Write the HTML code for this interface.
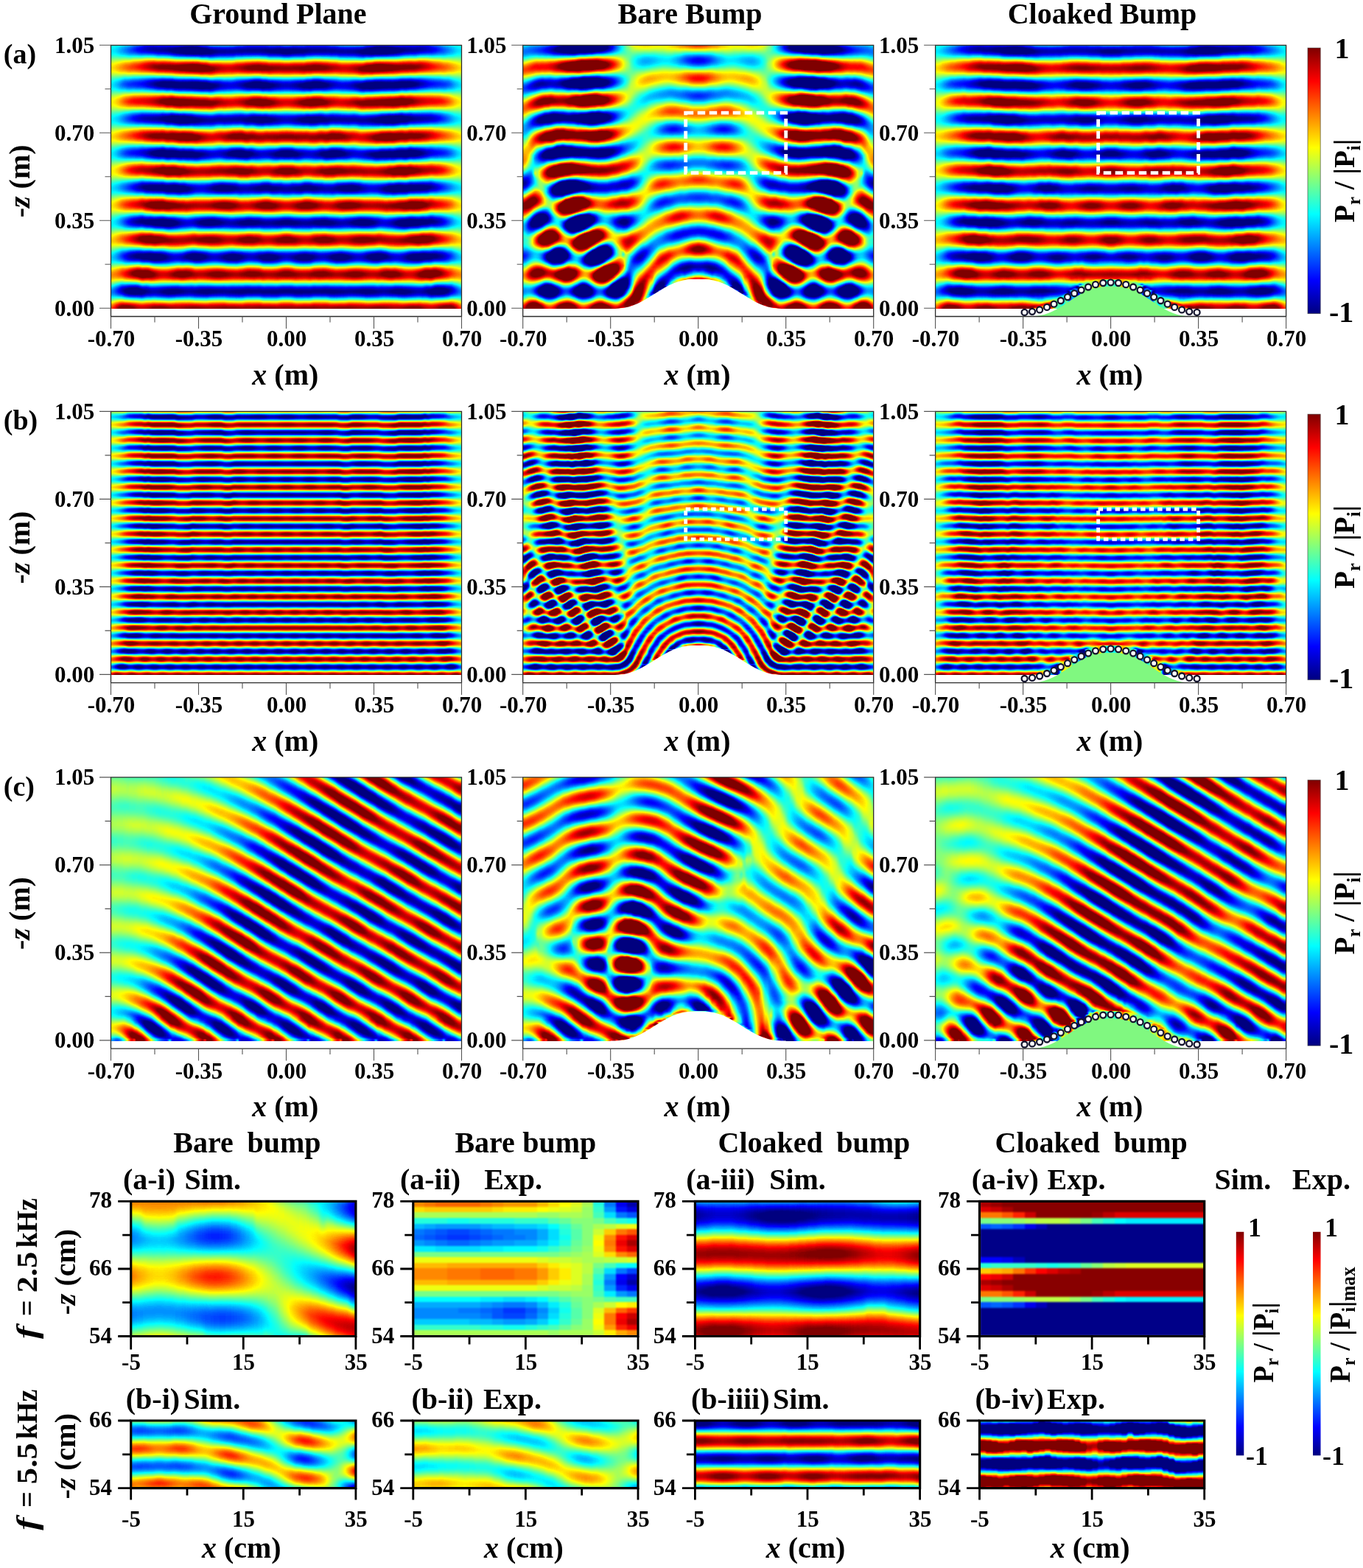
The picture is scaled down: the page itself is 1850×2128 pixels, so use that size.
<!DOCTYPE html><html><head><meta charset="utf-8"><title>fig</title><style>
html,body{margin:0;padding:0;background:#fff}
body{width:1850px;height:2128px;position:relative;overflow:hidden;font-family:"Liberation Serif",serif;font-weight:bold;color:#000}
.p{position:absolute;overflow:hidden}
.f{position:absolute;top:0;display:flex;filter:url(#jet)}
.f i,.c i{display:block;flex:0 0 4px;height:100%;background:linear-gradient(var(--g))}
.g{filter:url(#jet2)}
.w8 i{flex-basis:8px}
.c{position:absolute;top:0;display:flex;filter:blur(.9px)}
.c i{flex:1 1 0}
svg.o{position:absolute;left:0;top:0}
svg text{font-family:"Liberation Serif",serif;font-weight:bold;fill:#000}
</style></head><body><svg width="0" height="0" style="position:absolute"><defs><filter id="jet" x="0" y="0" width="100%" height="100%" color-interpolation-filters="sRGB">
<feGaussianBlur in="SourceGraphic" stdDeviation="2 0.6"/>
<feComponentTransfer result="t"><feFuncR type="table" tableValues="1 0.998 0.99 0.978 0.962 0.941 0.916 0.887 0.854 0.817 0.778 0.736 0.691 0.645 0.598 0.549 0.5 0.451 0.402 0.355 0.309 0.264 0.222 0.183 0.146 0.113 0.084 0.059 0.038 0.022 0.01 0.002 0"/></feComponentTransfer>
<feColorMatrix type="matrix" values="1 0 0 0 0 0 0 0 0 0 0 0 0 0 1 0 0 0 0 1" result="A"/>
<feColorMatrix in="t" type="matrix" values="0 1 -1 0 0 0 0 0 0 0 0 0 1 0 0 0 0 0 0 1"/>
<feComposite in2="A" operator="arithmetic" k1="1" k2="0" k3="0" k4="0"/>
<feColorMatrix type="matrix" values="1 0 1 0 0 1 0 1 0 0 1 0 1 0 0 0 0 0 0 1"/>
<feComponentTransfer><feFuncR type="table" tableValues="0 0 0 0 0 0 0.5 1 1 1 0.5 0.5 0.5"/><feFuncG type="table" tableValues="0 0 0 0 0.5 1 1 1 0.5 0 0 0 0"/><feFuncB type="table" tableValues="0.5 0.5 0.5 1 1 1 0.5 0 0 0 0 0 0"/></feComponentTransfer>
</filter><filter id="jet2" x="0" y="0" width="100%" height="100%" color-interpolation-filters="sRGB">
<feGaussianBlur in="SourceGraphic" stdDeviation="0.8 0.6"/>
<feComponentTransfer result="t"><feFuncR type="table" tableValues="1 0.998 0.99 0.978 0.962 0.941 0.916 0.887 0.854 0.817 0.778 0.736 0.691 0.645 0.598 0.549 0.5 0.451 0.402 0.355 0.309 0.264 0.222 0.183 0.146 0.113 0.084 0.059 0.038 0.022 0.01 0.002 0"/></feComponentTransfer>
<feColorMatrix type="matrix" values="1 0 0 0 0 0 0 0 0 0 0 0 0 0 1 0 0 0 0 1" result="A"/>
<feColorMatrix in="t" type="matrix" values="0 1 -1 0 0 0 0 0 0 0 0 0 1 0 0 0 0 0 0 1"/>
<feComposite in2="A" operator="arithmetic" k1="1" k2="0" k3="0" k4="0"/>
<feColorMatrix type="matrix" values="1 0 1 0 0 1 0 1 0 0 1 0 1 0 0 0 0 0 0 1"/>
<feComponentTransfer><feFuncR type="table" tableValues="0 0 0 0 0 0 0.5 1 1 1 0.5 0.5 0.5"/><feFuncG type="table" tableValues="0 0 0 0 0.5 1 1 1 0.5 0 0 0 0"/><feFuncB type="table" tableValues="0.5 0.5 0.5 1 1 1 0.5 0 0 0 0 0 0"/></feComponentTransfer>
</filter></defs></svg><div class="p" style="left:151px;top:61.6px;width:475.5px;height:357.6px"><div class="f" style="left:-12px;width:500px;height:357.6px"><i style="--g:#009567 -17Q,#ff9867,#009a67 32Q,#ff9866,#009667,#ff9868,#009a68,#ff9867,#009666,#ff9765,#009967,#ff9b69,#009d65,#ffa262,#00a85b,#ffaf55,#00b655,#ffb655 403Q"></i><i style="--g:#009567 -17Q,#ff9867,#009a67 32Q,#ff9866,#009667,#ff9868,#009a68,#ff9867,#009666,#ff9765,#009967,#ff9b69,#009d65,#ffa262,#00a85b,#ffaf55,#00b655,#ffb655 403Q"></i><i style="--g:#009567 -17Q,#ff9867,#009a67 32Q,#ff9866,#009667,#ff9868,#009a68,#ff9867,#009666,#ff9765,#009967,#ff9b69,#009d65,#ffa262,#00a85b,#ffaf55,#00b655,#ffb655 403Q"></i><i style="--g:#009567 -17Q,#ff9867,#009a67 32Q,#ff9866,#009667,#ff9868,#009a68,#ff9867,#009666,#ff9765,#009967,#ff9b69,#009d65,#ffa262,#00a85b,#ffaf55,#00b655,#ffb655 403Q"></i><i style="--g:#009865 -18Q,#ff9b65,#009e63,#ff9c61,#009a63,#ff9c65,#009e64,#ff9c62,#009962,#ff9c62,#009e63,#ffa065,#00a260,#ffa65c,#00ab53,#ffba4b 352Q,#00c94b,#ffc94b 404Q"></i><i style="--g:#009e60 -18Q,#ffa060,#00a35d,#ffa25b,#00a15e 81Q,#ffa261,#00a35d,#ffa15a 155Q,#00a05c,#ffa35d,#00a65d,#ffa75e,#00a859,#ffac53,#00b04a,#ffc440 352Q,#00d840,#ffd840 404Q"></i><i style="--g:#00a55b -18Q,#ffa65b,#00a857,#ffa953 56Q,#00a957,#ffa95a,#00a856,#ffa852,#00a855,#ffab57,#00af56,#ffae55,#00ae4f,#ffb349,#00b73f,#ffcb35 351Q,#00e135,#ffe135 404Q"></i><i style="--g:#00ac56 -18Q,#ffac56,#00ac52,#ffaf4d 55Q,#00b150,#ffaf53 105Q,#00ad4f,#ffaf4b,#00b14e,#ffb451,#00b64e,#ffb54b,#00b545,#ffba40,#00bf36,#ffd12b 352Q,#00e52b,#ffe52b 404Q"></i><i style="--g:#00b351 -18Q,#ffb151,#00b04d,#ffb449,#00b84b,#ffb54c,#00b149,#ffb546 154Q,#00b949,#ffba4b,#00bb46,#ffbb42,#00bb3d,#ffc138,#00c72e,#ffd524 352Q,#00e324,#ffe324 404Q"></i><i style="--g:#00b84c -18Q,#ffb54c,#00b349,#ffb847,#00bd46 80Q,#ffb946,#00b544,#ffbb43,#00c044,#ffc045,#00bf3f,#ffc03a,#00c135,#ffc931,#00d028 327Q,#ffd71f,#00dd1f,#ffdd1f 403Q"></i><i style="--g:#00bd47 -19Q,#ffb947,#00b646,#ffbb45,#00c043,#ffbd40,#00ba41 129Q,#ffbf41,#00c540,#ffc43f,#00c239,#ffc533,#00c830,#ffd02d,#00d925 327Q,#ffd81d,#00d71d,#ffd71d 403Q"></i><i style="--g:#00c142 -19Q,#ffbd42,#00b943,#ffbe44,#00c240,#ffc03b,#00bf3d,#ffc43f,#00c93c,#ffc738,#00c533,#ffca2f,#00cf2c,#ffd829,#00e123 327Q,#ffd81d,#00d01d,#ffd01d 403Q"></i><i style="--g:#00c43d -19Q,#ffc03d,#00bd40,#ffc042,#00c33d,#ffc437,#00c43a,#ffc73d,#00cb38,#ffca32,#00c92f,#ffcf2b,#00d629,#ffde27 302Q,#00e624,#ffd920,#00cc20 378Q,#ffcc20 402Q"></i><i style="--g:#00c639 -19Q,#ffc439,#00c23d,#ffc340,#00c43a,#ffc734,#00c937,#ffcb3a,#0c3,#ffcd2d,#00ce2b,#ffd529 252Q,#00dc27,#ffe224,#00e824,#ffd925 354Q,#00cb25,#ffcb25 402Q"></i><i style="--g:#00c736 -20Q,#ffc736,#00c639,#ffc63d 55Q,#00c537,#ffca32,#00cf34,#ffce36,#00ce2f,#ffd028,#00d328,#ffda28,#00e225 278Q,#ffe521,#00e726,#ffd92a,#00cc2a 378Q,#ffcc2a 402Q"></i><i style="--g:#00c833 -20Q,#ffc933,#00cb36,#ffc938 55Q,#00c735,#ffcd31,#00d331,#ffd131,#00cf2b,#ffd425,#00d926,#ffdf26,#00e522,#ffe41f 303Q,#00e427,#ffd92e,#00cf2e 378Q,#ffcf2e 402Q"></i><i style="--g:#00c831 -20Q,#ffcc31,#00cf32,#ffcc34,#00c932 80Q,#ffd030,#00d62e,#ffd42b,#00d227,#ffd824,#00df24,#ffe224,#00e620 278Q,#ffe21c,#00dd27,#ffd931 354Q,#00d431,#ffd431 402Q"></i><i style="--g:#00c930 -20Q,#ffce30,#00d32f,#ffd02f,#00cc2f 80Q,#ffd22f,#00d92a,#ffd726,#00d524,#ffdc23,#00e322 229Q,#ffe422,#00e51f,#ffdd1b,#00d627 329Q,#ffd733,#00d833,#ffd833 402Q"></i><i style="--g:#00c92f -19Q,#ffcf2f,#00d52d,#ffd32a,#00d02c,#ffd52e,#00da28,#ffd921,#00d922,#ffdf23 204Q,#00e621,#ffe41f,#00e31d,#ffd91c,#00cf27 329Q,#ffd532,#00db32,#ffdb32 403Q"></i><i style="--g:#00cb2f -19Q,#ffd12f,#00d72a,#ffd626,#00d529,#ffd82c,#00da25,#ffdc1e,#00dd20,#ffe222,#00e71f,#ffe31c 254Q,#00df1d,#ffd41f,#00c927 329Q,#ffd22f,#00dc2f 378Q,#ffdc2f 403Q"></i><i style="--g:#00cd2e -19Q,#ffd32e,#00d829,#ffd923,#00da26,#ffda29,#00da23,#ffde1c 154Q,#00e21f,#ffe422,#00e61e,#ffe01a,#00db1f,#ffd124,#00c728 329Q,#ffd12c,#00db2c 378Q,#ffdb2c 403Q"></i><i style="--g:#00d12d -19Q,#ffd42d,#00d827,#ffdb21,#00de23,#ffdc25,#00db20,#ffe01c,#00e51e,#ffe420 205Q,#00e31d,#ffdd1a,#00d722,#ffcf2a,#00c829 329Q,#ffd028,#00d828 378Q,#ffd828 403Q"></i><i style="--g:#00d42c -19Q,#ffd62c,#00d826,#ffdd20,#00e221,#ffdf21,#00dc1f,#ffe21c,#00e81d,#ffe41e,#00e01d,#ffda1b,#00d426 280Q,#ffd031,#00cb2b,#ffd026,#00d526 378Q,#ffd526 403Q"></i><i style="--g:#00d929 -18Q,#ffd829,#00d824,#ffde20,#00e41f 80Q,#ffe11d,#00dd1d,#ffe31e,#00e81d,#ffe21d,#00dd1e,#ffd71f,#00d22b 280Q,#ffd136,#00d12e,#ffd125 353Q,#00d225,#ffd225 403Q"></i><i style="--g:#00dd26 -18Q,#ffdb26,#00d923,#ffdf20,#00e51d 81Q,#ffe21a,#00df1d,#ffe31f,#00e71d 180Q,#ffe01b,#00d920,#ffd524,#00d02f 280Q,#ffd339,#00d72f,#ffd325 353Q,#00d025,#ffd025 402Q"></i><i style="--g:#00e122 -18Q,#fd2,#00da22,#ffe021,#00e51c,#ffe317 106Q,#00e21c,#ffe321,#00e41e,#ffdd1b,#00d723,#ffd32b,#00cf32 280Q,#ffd539,#00dc30 328Q,#ffd527,#00cf27,#ffcf27 402Q"></i><i style="--g:#00e41f -18Q,#ffe01f,#00dd20,#ffe022,#00e41c,#ffe417,#00e41c,#ffe222,#00e01f,#ffda1d 206Q,#00d527,#ffd231,#00ce34,#ffd636,#00df30,#ffd729 353Q,#00d029,#ffd029 402Q"></i><i style="--g:#00e61b -18Q,#ffe31b,#00df1e,#ffe122,#00e21c,#ffe417,#00e61d,#ffe122,#00db21,#ffd721,#00d32c,#ffd136 255Q,#00ce34,#ffd731,#00df2e,#ffd82c 353Q,#00d22c,#ffd22c 402Q"></i><i style="--g:#00e718 -18Q,#ffe518,#00e21d,#ffe121,#00e01d,#ffe319,#00e61e,#ffdf22,#00d724,#ffd525,#00d230 231Q,#ffd039,#00cf32,#ffd62a 303Q,#00dd2c,#ffd92e,#00d52e 378Q,#ffd52e 402Q"></i><i style="--g:#00e717 -18Q,#ffe617,#00e51b,#ffe120,#00de1e,#ffe11d,#00e51f,#ffdc22,#00d326,#ffd22b 206Q,#00d133,#ffd03a,#00d02f,#ffd424 303Q,#00d929,#ffd82f,#00d72f 378Q,#ffd72f 402Q"></i><i style="--g:#00e616 -18Q,#ffe616,#00e71a,#ffe21e,#00dc1f,#ffdf21,#00e221,#ffd922,#00d12a,#ffd031 206Q,#00d034,#ffd038,#00d12b 278Q,#ffd21f,#00d427,#ffd62e,#00d82e,#ffd82e 403Q"></i><i style="--g:#00e417 -18Q,#ffe617,#00e81a,#ffe21d,#00dc21,#ffdd25,#00de24,#ffd624 157Q,#00cf2d,#ffcf36,#00cf35,#ffd133,#00d328 278Q,#ffd11c,#00cf25 329Q,#ffd42d,#00d92d,#ffd92d 403Q"></i><i style="--g:#00e219 -18Q,#ffe519,#00e81a,#ffe11c,#00db22,#ffda28,#00d927,#ffd326 157Q,#00ce30,#ffce39,#00ce33,#ffd12d 254Q,#00d525,#ffd11d,#00cd24,#ffd22b,#00d82b,#ffd82b 403Q"></i><i style="--g:#00df1c -17Q,#ffe31c,#00e61c,#ffe11c,#00db23,#ffd72b,#00d32a 132Q,#ffd12a,#00ce32,#ffce3a,#00cd31,#ffd228 254Q,#00d724,#ffd221,#00cc25,#ffd129,#00d629,#ffd629 403Q"></i><i style="--g:#00dd1f -17Q,#ffe01f,#00e31e,#ffdf1d,#00db25,#ffd52d,#00ce2e 132Q,#ffce2e,#00ce33,#ffce39,#00ce2e,#ffd423 254Q,#00da25,#ffd427,#00ce28,#ffd128,#00d428,#ffd428 403Q"></i><i style="--g:#00db23 -17Q,#ffdd23,#00df21,#ffdd1f,#00db27,#ffd22f,#00ca30 132Q,#ffcd32,#00cf34,#ffcf35,#00cf2b,#ffd520 254Q,#00db27,#ffd62e,#00d12b,#ffd227,#00d327,#ffd327 403Q"></i><i style="--g:#00d926 -16Q,#ffda26,#00db24,#ffda22,#00d929 83Q,#ffd02f,#00c732,#ffcc36,#00d033,#ffd031,#00d128,#ffd61f 254Q,#00dc29,#ffd934 304Q,#00d52e,#ffd328,#00d128,#ffd128 402Q"></i><i style="--g:#00d82a -16Q,#ffd72a,#00d628,#ffd727,#00d72b,#ffcf2f,#00c634 132Q,#ffcb38,#00d032 180Q,#ffd22b,#00d426,#ffd820 254Q,#00db2c,#ffda37 304Q,#00d930,#ffd529,#00d129,#ffd129 402Q"></i><i style="--g:#00d82c -16Q,#ffd52c,#00d22c,#ffd32b,#00d52d,#ffce2f,#00c734 131Q,#ffcc39,#00d12f,#ffd426,#00d825,#ffd824 254Q,#00d92e,#ffda37 304Q,#00db31,#ffd62a,#00d22a,#ffd22a 402Q"></i><i style="--g:#00d82e -16Q,#ffd32e,#00ce2f,#ffcf30,#00d130,#ffcd2f,#00c934,#ffcd38 155Q,#00d22d,#ffd621,#00db25,#ffd828,#00d62e,#ffd934 304Q,#00dc30,#ffd72b,#00d32b,#ffd32b 402Q"></i><i style="--g:#00d82f -16Q,#ffd12f,#00cb32,#ffcc35,#00ce32,#ffcd2f,#00cc32,#ffcf35 155Q,#00d22a,#ffd81f,#00de26,#ffd82c,#00d22e,#ffd62f 304Q,#00da2e,#ffd72c,#00d42c,#ffd42c 402Q"></i><i style="--g:#00d72f -16Q,#ffd02f,#00c934,#ffca38,#00cb34,#ffce2f,#00d030,#ffd231,#00d328 180Q,#ffd91f,#00df28,#ffd730,#00ce2c,#ffd329 304Q,#00d72b,#ffd72d,#00d62d,#ffd62d 402Q"></i><i style="--g:#00d730 -16Q,#ffcf30,#00c835,#ffc83a,#00c935,#ffce2f 106Q,#00d42d,#ffd52c,#00d526,#ffda21,#00df29,#ffd532,#00cc2b,#ffd023,#00d428,#ffd52d,#00d72d,#ffd72d 403Q"></i><i style="--g:#00d62f -16Q,#ffcf2f,#00c835,#ffc83b,#00c735,#ffcf2f,#00d82b,#ffd726 155Q,#00d725,#ffda24,#00dc2b,#ffd433 255Q,#00cc29 279Q,#ffce1f,#00d126,#ffd42c,#00d72c,#ffd72c 403Q"></i><i style="--g:#00d42f -16Q,#ffcf2f,#00ca35,#ffc83a,#00c734,#ffd12f,#00db28 130Q,#ffda22,#00d925,#ffd928,#00d82c,#ffd331 255Q,#00cd28 279Q,#ffce1e,#00cf25,#ffd32b,#00d72b,#ffd72b 403Q"></i><i style="--g:#00d22f -17Q,#ffcf2f,#0c3,#ffca38,#00c833 81Q,#ffd22e,#00dc26,#ffdc1e 155Q,#00db25,#ffd72c,#00d32d 230Q,#ffd22f,#00d028,#ffcf20,#00ce25,#ffd22a,#00d62a,#ffd62a 403Q"></i><i style="--g:#00d02e -17Q,#ffcf2e,#00ce31,#ffcd34,#00cb31,#ffd32e,#00dc25 130Q,#ffdc1c,#00dd26,#ffd52f 206Q,#00ce2d,#ffd12b,#00d528 279Q,#ffd225,#00d027,#ffd229,#00d529,#ffd529 403Q"></i><i style="--g:#00cf2e -17Q,#ffd02e,#00d12f,#ffd02f,#00ce2e,#ffd52d,#00dc25 130Q,#ffdc1d,#00dd27,#ffd431 206Q,#00ca2d,#ffd228,#00d92a 279Q,#ffd62b,#00d32a,#ffd329,#00d329,#ffd329 403Q"></i><i style="--g:#00cd2e -18Q,#ffd12e,#00d42c,#ffd42b,#00d32b,#ffd62b,#00da25,#ffdb1f,#00dc29 181Q,#ffd232,#00c92c,#ffd226,#00dc2b 279Q,#ffd931,#00d62d,#ffd429,#00d329,#ffd329 402Q"></i><i style="--g:#00cb2d -18Q,#ffd12d,#00d72a,#ffd726,#00d827,#ffd829,#00d826,#ffd923,#00da2a,#ffd131 206Q,#00c92b,#ffd324 254Q,#00de2d,#ffdb35,#00d92f,#ffd52a,#00d22a,#ffd22a 402Q"></i><i style="--g:#00cb2d -18Q,#ffd22d,#00d928,#ffdb22,#00dd24,#ffd926,#00d627,#ffd628,#00d62c,#ffd130 205Q,#00cc2a,#ffd525,#00dd2e,#ffdc36,#00da30,#ffd62a,#00d22a,#ffd22a 402Q"></i><i style="--g:#00ca2d -18Q,#ffd22d,#00da26,#ffdd1f 56Q,#00e021,#ffda24,#00d529,#ffd42e 156Q,#00d32d,#ffd22d,#00d02a,#ffd626,#00db2d,#ffda34,#00da30,#ffd62b,#00d32b,#ffd32b 402Q"></i><i style="--g:#00cb2d -18Q,#ffd32d,#00db25,#ffdf1e 56Q,#00e320,#ffdb22,#00d32a 132Q,#ffd132,#00cf2e,#ffd22a 205Q,#00d629,#ffd629,#00d72c,#ffd730,#00d82e,#ffd62b,#00d42b,#ffd42b 402Q"></i><i style="--g:#00cc2d -18Q,#ffd32d,#00db25,#ffdf1e 56Q,#00e41f,#ffdb21,#00d32b 132Q,#ffcf36,#00cc2f,#ffd427 205Q,#00db29,#ffd62b,#00d22b,#ffd42a,#00d62b,#ffd52b,#00d52b,#ffd52b 402Q"></i><i style="--g:#00ce2c -18Q,#ffd42c,#00da26,#ffde1f,#00e320,#ffda21,#00d22c 132Q,#ffce37,#00cb2f,#ffd525 204Q,#00df29,#ffd62d 255Q,#00ce29,#ffd024,#00d328,#ffd42b,#00d62b,#ffd62b 403Q"></i><i style="--g:#00d02b -18Q,#ffd42b,#00d926,#ffdc21,#00e022,#ffd923,#00d22d,#ffcf37 156Q,#00cb2e,#ffd625 204Q,#00e12a,#ffd62f 255Q,#00cb28,#ffce20 304Q,#00d026,#ffd32b,#00d72b,#ffd72b 403Q"></i><i style="--g:#00d32a -17Q,#ffd52a,#00d728,#ffda25,#00dc25,#ffd725 107Q,#00d32d,#ffcf34,#00cc2d,#ffd625 204Q,#00e02a,#ffd52f 255Q,#00cb27,#ffcd1f 304Q,#00cf25,#ffd32b,#00d72b,#ffd72b 403Q"></i><i style="--g:#00d729 -17Q,#ffd629,#00d629,#ffd629,#00d729,#ffd528,#00d32c,#ffd130,#00cf2c,#ffd627,#00dd2a 230Q,#ffd52e,#00cd27,#ffce21,#00d026,#ffd32a,#00d62a,#ffd62a 403Q"></i><i style="--g:#00da28 -17Q,#ffd728,#00d42a,#ffd32d,#00d22c,#ffd32c,#00d42c,#ffd42b,#00d42a,#ffd629,#00d82b,#ffd42c,#00d129,#ffd125,#00d128,#ffd32a,#00d52a,#ffd52a 403Q"></i><i style="--g:#00dd26 -17Q,#ffd826,#00d42b,#ffd030,#00cd30,#ffd12f,#00d52b 131Q,#ffd626,#00d829,#ffd52b,#00d22b,#ffd42a,#00d52a,#ffd52b,#00d42a,#ffd42a,#00d42a,#ffd42a 403Q"></i><i style="--g:#00e025 -17Q,#ffd925,#00d32c,#ffce33,#00c933 82Q,#ffcf32,#00d52a,#ffd922 155Q,#00dc28,#ffd42d,#00cd2b 230Q,#ffd328,#00da2c,#ffd830,#00d72d,#ffd52a,#00d32a,#ffd32a 402Q"></i><i style="--g:#00e124 -16Q,#ffda24,#00d32c,#ffcd35,#00c734,#ffce34,#00d62a,#ffda1f 155Q,#00de27,#ffd42e 206Q,#00c92b,#ffd327 254Q,#00dd2e,#ffdb34,#00d92f,#ffd62a,#00d32a,#ffd32a 402Q"></i><i style="--g:#00e224 -16Q,#ffda24,#00d32d,#ffcc35,#00c635,#ffce35 106Q,#00d62a,#ffdb1e 155Q,#00df27,#ffd32f 206Q,#00c82b,#ffd326 254Q,#00df2e,#ffdc36,#00da30,#ffd62a,#00d32a,#ffd32a 402Q"></i><i style="--g:#00e124 -16Q,#ffda24,#00d32c,#ffcd35,#00c734,#ffce34,#00d62a,#ffda1f 155Q,#00de27,#ffd42e 206Q,#00c92b,#ffd327 254Q,#00dd2e,#ffdb34,#00d92f,#ffd62a,#00d32a,#ffd32a 402Q"></i><i style="--g:#00e025 -17Q,#ffd925,#00d32c,#ffce33,#00c933 82Q,#ffcf32,#00d52a,#ffd922 155Q,#00dc28,#ffd42d,#00cd2b 230Q,#ffd328,#00da2c,#ffd830,#00d72d,#ffd52a,#00d32a,#ffd32a 402Q"></i><i style="--g:#00dd26 -17Q,#ffd826,#00d42b,#ffd030,#00cd30,#ffd12f,#00d52b 131Q,#ffd626,#00d829,#ffd52b,#00d22b,#ffd42a,#00d52a,#ffd52b,#00d42a,#ffd42a,#00d42a,#ffd42a 403Q"></i><i style="--g:#00da28 -17Q,#ffd728,#00d42a,#ffd32d,#00d22c,#ffd32c,#00d42c,#ffd42b,#00d42a,#ffd629,#00d82b,#ffd42c,#00d129,#ffd125,#00d128,#ffd32a,#00d52a,#ffd52a 403Q"></i><i style="--g:#00d729 -17Q,#ffd629,#00d629,#ffd629,#00d729,#ffd528,#00d32c,#ffd130,#00cf2c,#ffd627,#00dd2a 230Q,#ffd52e,#00cd27,#ffce21,#00d026,#ffd32a,#00d62a,#ffd62a 403Q"></i><i style="--g:#00d32a -17Q,#ffd52a,#00d728,#ffda25,#00dc25,#ffd725 107Q,#00d32d,#ffcf34,#00cc2d,#ffd625 204Q,#00e02a,#ffd52f 255Q,#00cb27,#ffcd1f 304Q,#00cf25,#ffd32b,#00d72b,#ffd72b 403Q"></i><i style="--g:#00d02b -18Q,#ffd42b,#00d926,#ffdc21,#00e022,#ffd923,#00d22d,#ffcf37 156Q,#00cb2e,#ffd625 204Q,#00e12a,#ffd62f 255Q,#00cb28,#ffce20 304Q,#00d026,#ffd32b,#00d72b,#ffd72b 403Q"></i><i style="--g:#00ce2c -18Q,#ffd42c,#00da26,#ffde1f,#00e320,#ffda21,#00d22c 132Q,#ffce37,#00cb2f,#ffd525 204Q,#00df29,#ffd62d 255Q,#00ce29,#ffd024,#00d328,#ffd42b,#00d62b,#ffd62b 403Q"></i><i style="--g:#00cc2d -18Q,#ffd32d,#00db25,#ffdf1e 56Q,#00e41f,#ffdb21,#00d32b 132Q,#ffcf36,#00cc2f,#ffd427 205Q,#00db29,#ffd62b,#00d22b,#ffd42a,#00d62b,#ffd52b,#00d52b,#ffd52b 402Q"></i><i style="--g:#00cb2d -18Q,#ffd32d,#00db25,#ffdf1e 56Q,#00e320,#ffdb22,#00d32a 132Q,#ffd132,#00cf2e,#ffd22a 205Q,#00d629,#ffd629,#00d72c,#ffd730,#00d82e,#ffd62b,#00d42b,#ffd42b 402Q"></i><i style="--g:#00ca2d -18Q,#ffd22d,#00da26,#ffdd1f 56Q,#00e021,#ffda24,#00d529,#ffd42e 156Q,#00d32d,#ffd22d,#00d02a,#ffd626,#00db2d,#ffda34,#00da30,#ffd62b,#00d32b,#ffd32b 402Q"></i><i style="--g:#00cb2d -18Q,#ffd22d,#00d928,#ffdb22,#00dd24,#ffd926,#00d627,#ffd628,#00d62c,#ffd130 205Q,#00cc2a,#ffd525,#00dd2e,#ffdc36,#00da30,#ffd62a,#00d22a,#ffd22a 402Q"></i><i style="--g:#00cb2d -18Q,#ffd12d,#00d72a,#ffd726,#00d827,#ffd829,#00d826,#ffd923,#00da2a,#ffd131 206Q,#00c92b,#ffd324 254Q,#00de2d,#ffdb35,#00d92f,#ffd52a,#00d22a,#ffd22a 402Q"></i><i style="--g:#00cd2e -18Q,#ffd12e,#00d42c,#ffd42b,#00d32b,#ffd62b,#00da25,#ffdb1f,#00dc29 181Q,#ffd232,#00c92c,#ffd226,#00dc2b 279Q,#ffd931,#00d62d,#ffd429,#00d329,#ffd329 402Q"></i><i style="--g:#00cf2e -17Q,#ffd02e,#00d12f,#ffd02f,#00ce2e,#ffd52d,#00dc25 130Q,#ffdc1d,#00dd27,#ffd431 206Q,#00ca2d,#ffd228,#00d92a 279Q,#ffd62b,#00d32a,#ffd329,#00d329,#ffd329 403Q"></i><i style="--g:#00d02e -17Q,#ffcf2e,#00ce31,#ffcd34,#00cb31,#ffd32e,#00dc25 130Q,#ffdc1c,#00dd26,#ffd52f 206Q,#00ce2d,#ffd12b,#00d528 279Q,#ffd225,#00d027,#ffd229,#00d529,#ffd529 403Q"></i><i style="--g:#00d22f -17Q,#ffcf2f,#0c3,#ffca38,#00c833 81Q,#ffd22e,#00dc26,#ffdc1e 155Q,#00db25,#ffd72c,#00d32d 230Q,#ffd22f,#00d028,#ffcf20,#00ce25,#ffd22a,#00d62a,#ffd62a 403Q"></i><i style="--g:#00d42f -16Q,#ffcf2f,#00ca35,#ffc83a,#00c734,#ffd12f,#00db28 130Q,#ffda22,#00d925,#ffd928,#00d82c,#ffd331 255Q,#00cd28 279Q,#ffce1e,#00cf25,#ffd32b,#00d72b,#ffd72b 403Q"></i><i style="--g:#00d62f -16Q,#ffcf2f,#00c835,#ffc83b,#00c735,#ffcf2f,#00d82b,#ffd726 155Q,#00d725,#ffda24,#00dc2b,#ffd433 255Q,#00cc29 279Q,#ffce1f,#00d126,#ffd42c,#00d72c,#ffd72c 403Q"></i><i style="--g:#00d730 -16Q,#ffcf30,#00c835,#ffc83a,#00c935,#ffce2f 106Q,#00d42d,#ffd52c,#00d526,#ffda21,#00df29,#ffd532,#00cc2b,#ffd023,#00d428,#ffd52d,#00d72d,#ffd72d 403Q"></i><i style="--g:#00d72f -16Q,#ffd02f,#00c934,#ffca38,#00cb34,#ffce2f,#00d030,#ffd231,#00d328 180Q,#ffd91f,#00df28,#ffd730,#00ce2c,#ffd329 304Q,#00d72b,#ffd72d,#00d62d,#ffd62d 402Q"></i><i style="--g:#00d82f -16Q,#ffd12f,#00cb32,#ffcc35,#00ce32,#ffcd2f,#00cc32,#ffcf35 155Q,#00d22a,#ffd81f,#00de26,#ffd82c,#00d22e,#ffd62f 304Q,#00da2e,#ffd72c,#00d42c,#ffd42c 402Q"></i><i style="--g:#00d82e -16Q,#ffd32e,#00ce2f,#ffcf30,#00d130,#ffcd2f,#00c934,#ffcd38 155Q,#00d22d,#ffd621,#00db25,#ffd828,#00d62e,#ffd934 304Q,#00dc30,#ffd72b,#00d32b,#ffd32b 402Q"></i><i style="--g:#00d82c -16Q,#ffd52c,#00d22c,#ffd32b,#00d52d,#ffce2f,#00c734 131Q,#ffcc39,#00d12f,#ffd426,#00d825,#ffd824 254Q,#00d92e,#ffda37 304Q,#00db31,#ffd62a,#00d22a,#ffd22a 402Q"></i><i style="--g:#00d82a -16Q,#ffd72a,#00d628,#ffd727,#00d72b,#ffcf2f,#00c634 132Q,#ffcb38,#00d032 180Q,#ffd22b,#00d426,#ffd820 254Q,#00db2c,#ffda37 304Q,#00d930,#ffd529,#00d129,#ffd129 402Q"></i><i style="--g:#00d926 -16Q,#ffda26,#00db24,#ffda22,#00d929 83Q,#ffd02f,#00c732,#ffcc36,#00d033,#ffd031,#00d128,#ffd61f 254Q,#00dc29,#ffd934 304Q,#00d52e,#ffd328,#00d128,#ffd128 402Q"></i><i style="--g:#00db23 -17Q,#ffdd23,#00df21,#ffdd1f,#00db27,#ffd22f,#00ca30 132Q,#ffcd32,#00cf34,#ffcf35,#00cf2b,#ffd520 254Q,#00db27,#ffd62e,#00d12b,#ffd227,#00d327,#ffd327 403Q"></i><i style="--g:#00dd1f -17Q,#ffe01f,#00e31e,#ffdf1d,#00db25,#ffd52d,#00ce2e 132Q,#ffce2e,#00ce33,#ffce39,#00ce2e,#ffd423 254Q,#00da25,#ffd427,#00ce28,#ffd128,#00d428,#ffd428 403Q"></i><i style="--g:#00df1c -17Q,#ffe31c,#00e61c,#ffe11c,#00db23,#ffd72b,#00d32a 132Q,#ffd12a,#00ce32,#ffce3a,#00cd31,#ffd228 254Q,#00d724,#ffd221,#00cc25,#ffd129,#00d629,#ffd629 403Q"></i><i style="--g:#00e219 -18Q,#ffe519,#00e81a,#ffe11c,#00db22,#ffda28,#00d927,#ffd326 157Q,#00ce30,#ffce39,#00ce33,#ffd12d 254Q,#00d525,#ffd11d,#00cd24,#ffd22b,#00d82b,#ffd82b 403Q"></i><i style="--g:#00e417 -18Q,#ffe617,#00e81a,#ffe21d,#00dc21,#ffdd25,#00de24,#ffd624 157Q,#00cf2d,#ffcf36,#00cf35,#ffd133,#00d328 278Q,#ffd11c,#00cf25 329Q,#ffd42d,#00d92d,#ffd92d 403Q"></i><i style="--g:#00e616 -18Q,#ffe616,#00e71a,#ffe21e,#00dc1f,#ffdf21,#00e221,#ffd922,#00d12a,#ffd031 206Q,#00d034,#ffd038,#00d12b 278Q,#ffd21f,#00d427,#ffd62e,#00d82e,#ffd82e 403Q"></i><i style="--g:#00e717 -18Q,#ffe617,#00e51b,#ffe120,#00de1e,#ffe11d,#00e51f,#ffdc22,#00d326,#ffd22b 206Q,#00d133,#ffd03a,#00d02f,#ffd424 303Q,#00d929,#ffd82f,#00d72f 378Q,#ffd72f 402Q"></i><i style="--g:#00e718 -18Q,#ffe518,#00e21d,#ffe121,#00e01d,#ffe319,#00e61e,#ffdf22,#00d724,#ffd525,#00d230 231Q,#ffd039,#00cf32,#ffd62a 303Q,#00dd2c,#ffd92e,#00d52e 378Q,#ffd52e 402Q"></i><i style="--g:#00e61b -18Q,#ffe31b,#00df1e,#ffe122,#00e21c,#ffe417,#00e61d,#ffe122,#00db21,#ffd721,#00d32c,#ffd136 255Q,#00ce34,#ffd731,#00df2e,#ffd82c 353Q,#00d22c,#ffd22c 402Q"></i><i style="--g:#00e41f -18Q,#ffe01f,#00dd20,#ffe022,#00e41c,#ffe417,#00e41c,#ffe222,#00e01f,#ffda1d 206Q,#00d527,#ffd231,#00ce34,#ffd636,#00df30,#ffd729 353Q,#00d029,#ffd029 402Q"></i><i style="--g:#00e122 -18Q,#fd2,#00da22,#ffe021,#00e51c,#ffe317 106Q,#00e21c,#ffe321,#00e41e,#ffdd1b,#00d723,#ffd32b,#00cf32 280Q,#ffd539,#00dc30 328Q,#ffd527,#00cf27,#ffcf27 402Q"></i><i style="--g:#00dd26 -18Q,#ffdb26,#00d923,#ffdf20,#00e51d 81Q,#ffe21a,#00df1d,#ffe31f,#00e71d 180Q,#ffe01b,#00d920,#ffd524,#00d02f 280Q,#ffd339,#00d72f,#ffd325 353Q,#00d025,#ffd025 402Q"></i><i style="--g:#00d929 -18Q,#ffd829,#00d824,#ffde20,#00e41f 80Q,#ffe11d,#00dd1d,#ffe31e,#00e81d,#ffe21d,#00dd1e,#ffd71f,#00d22b 280Q,#ffd136,#00d12e,#ffd125 353Q,#00d225,#ffd225 403Q"></i><i style="--g:#00d42c -19Q,#ffd62c,#00d826,#ffdd20,#00e221,#ffdf21,#00dc1f,#ffe21c,#00e81d,#ffe41e,#00e01d,#ffda1b,#00d426 280Q,#ffd031,#00cb2b,#ffd026,#00d526 378Q,#ffd526 403Q"></i><i style="--g:#00d12d -19Q,#ffd42d,#00d827,#ffdb21,#00de23,#ffdc25,#00db20,#ffe01c,#00e51e,#ffe420 205Q,#00e31d,#ffdd1a,#00d722,#ffcf2a,#00c829 329Q,#ffd028,#00d828 378Q,#ffd828 403Q"></i><i style="--g:#00cd2e -19Q,#ffd32e,#00d829,#ffd923,#00da26,#ffda29,#00da23,#ffde1c 154Q,#00e21f,#ffe422,#00e61e,#ffe01a,#00db1f,#ffd124,#00c728 329Q,#ffd12c,#00db2c 378Q,#ffdb2c 403Q"></i><i style="--g:#00cb2f -19Q,#ffd12f,#00d72a,#ffd626,#00d529,#ffd82c,#00da25,#ffdc1e,#00dd20,#ffe222,#00e71f,#ffe31c 254Q,#00df1d,#ffd41f,#00c927 329Q,#ffd22f,#00dc2f 378Q,#ffdc2f 403Q"></i><i style="--g:#00c92f -19Q,#ffcf2f,#00d52d,#ffd32a,#00d02c,#ffd52e,#00da28,#ffd921,#00d922,#ffdf23 204Q,#00e621,#ffe41f,#00e31d,#ffd91c,#00cf27 329Q,#ffd532,#00db32,#ffdb32 403Q"></i><i style="--g:#00c930 -20Q,#ffce30,#00d32f,#ffd02f,#00cc2f 80Q,#ffd22f,#00d92a,#ffd726,#00d524,#ffdc23,#00e322 229Q,#ffe422,#00e51f,#ffdd1b,#00d627 329Q,#ffd733,#00d833,#ffd833 402Q"></i><i style="--g:#00c831 -20Q,#ffcc31,#00cf32,#ffcc34,#00c932 80Q,#ffd030,#00d62e,#ffd42b,#00d227,#ffd824,#00df24,#ffe224,#00e620 278Q,#ffe21c,#00dd27,#ffd931 354Q,#00d431,#ffd431 402Q"></i><i style="--g:#00c833 -20Q,#ffc933,#00cb36,#ffc938 55Q,#00c735,#ffcd31,#00d331,#ffd131,#00cf2b,#ffd425,#00d926,#ffdf26,#00e522,#ffe41f 303Q,#00e427,#ffd92e,#00cf2e 378Q,#ffcf2e 402Q"></i><i style="--g:#00c736 -20Q,#ffc736,#00c639,#ffc63d 55Q,#00c537,#ffca32,#00cf34,#ffce36,#00ce2f,#ffd028,#00d328,#ffda28,#00e225 278Q,#ffe521,#00e726,#ffd92a,#00cc2a 378Q,#ffcc2a 402Q"></i><i style="--g:#00c639 -19Q,#ffc439,#00c23d,#ffc340,#00c43a,#ffc734,#00c937,#ffcb3a,#0c3,#ffcd2d,#00ce2b,#ffd529 252Q,#00dc27,#ffe224,#00e824,#ffd925 354Q,#00cb25,#ffcb25 402Q"></i><i style="--g:#00c43d -19Q,#ffc03d,#00bd40,#ffc042,#00c33d,#ffc437,#00c43a,#ffc73d,#00cb38,#ffca32,#00c92f,#ffcf2b,#00d629,#ffde27 302Q,#00e624,#ffd920,#00cc20 378Q,#ffcc20 402Q"></i><i style="--g:#00c142 -19Q,#ffbd42,#00b943,#ffbe44,#00c240,#ffc03b,#00bf3d,#ffc43f,#00c93c,#ffc738,#00c533,#ffca2f,#00cf2c,#ffd829,#00e123 327Q,#ffd81d,#00d01d,#ffd01d 403Q"></i><i style="--g:#00bd47 -19Q,#ffb947,#00b646,#ffbb45,#00c043,#ffbd40,#00ba41 129Q,#ffbf41,#00c540,#ffc43f,#00c239,#ffc533,#00c830,#ffd02d,#00d925 327Q,#ffd81d,#00d71d,#ffd71d 403Q"></i><i style="--g:#00b84c -18Q,#ffb54c,#00b349,#ffb847,#00bd46 80Q,#ffb946,#00b544,#ffbb43,#00c044,#ffc045,#00bf3f,#ffc03a,#00c135,#ffc931,#00d028 327Q,#ffd71f,#00dd1f,#ffdd1f 403Q"></i><i style="--g:#00b351 -18Q,#ffb151,#00b04d,#ffb449,#00b84b,#ffb54c,#00b149,#ffb546 154Q,#00b949,#ffba4b,#00bb46,#ffbb42,#00bb3d,#ffc138,#00c72e,#ffd524 352Q,#00e324,#ffe324 404Q"></i><i style="--g:#00ac56 -18Q,#ffac56,#00ac52,#ffaf4d 55Q,#00b150,#ffaf53 105Q,#00ad4f,#ffaf4b,#00b14e,#ffb451,#00b64e,#ffb54b,#00b545,#ffba40,#00bf36,#ffd12b 352Q,#00e52b,#ffe52b 404Q"></i><i style="--g:#00a55b -18Q,#ffa65b,#00a857,#ffa953 56Q,#00a957,#ffa95a,#00a856,#ffa852,#00a855,#ffab57,#00af56,#ffae55,#00ae4f,#ffb349,#00b73f,#ffcb35 351Q,#00e135,#ffe135 404Q"></i><i style="--g:#009e60 -18Q,#ffa060,#00a35d,#ffa25b,#00a15e 81Q,#ffa261,#00a35d,#ffa15a 155Q,#00a05c,#ffa35d,#00a65d,#ffa75e,#00a859,#ffac53,#00b04a,#ffc440 352Q,#00d840,#ffd840 404Q"></i><i style="--g:#009865 -18Q,#ff9b65,#009e63,#ff9c61,#009a63,#ff9c65,#009e64,#ff9c62,#009962,#ff9c62,#009e63,#ffa065,#00a260,#ffa65c,#00ab53,#ffba4b 352Q,#00c94b,#ffc94b 404Q"></i><i style="--g:#009567 -17Q,#ff9867,#009a67 32Q,#ff9866,#009667,#ff9868,#009a68,#ff9867,#009666,#ff9765,#009967,#ff9b69,#009d65,#ffa262,#00a85b,#ffaf55,#00b655,#ffb655 403Q"></i><i style="--g:#009567 -17Q,#ff9867,#009a67 32Q,#ff9866,#009667,#ff9868,#009a68,#ff9867,#009666,#ff9765,#009967,#ff9b69,#009d65,#ffa262,#00a85b,#ffaf55,#00b655,#ffb655 403Q"></i><i style="--g:#009567 -17Q,#ff9867,#009a67 32Q,#ff9866,#009667,#ff9868,#009a68,#ff9867,#009666,#ff9765,#009967,#ff9b69,#009d65,#ffa262,#00a85b,#ffaf55,#00b655,#ffb655 403Q"></i><i style="--g:#009567 -17Q,#ff9867,#009a67 32Q,#ff9866,#009667,#ff9868,#009a68,#ff9867,#009666,#ff9765,#009967,#ff9b69,#009d65,#ffa262,#00a85b,#ffaf55,#00b655,#ffb655 403Q"></i></div></div><div class="p" style="left:710.2px;top:61.6px;width:475.5px;height:357.6px"><div class="f" style="left:-12px;width:500px;height:357.6px"><i style="--g:#00a253 -18Q,#ffab53,#00b54e,#ffb249 61Q,#00af52,#ffad5b 119Q,#86ab51 136Q,#00a840 163Q,#ffc42c 198Q,#00de46 231Q,#4dbf50 244Q,#ff945f 262Q,#006f53 278Q,#ff8940 302Q,#00a84d 329Q,#ffb657 353Q,#00c657,#ffc657 403Q"></i><i style="--g:#00a253 -18Q,#ffab53,#00b54e,#ffb249 61Q,#00af52,#ffad5b 119Q,#86ab51 136Q,#00a840 163Q,#ffc42c 198Q,#00de46 231Q,#4dbf50 244Q,#ff945f 262Q,#006f53 278Q,#ff8940 302Q,#00a84d 329Q,#ffb657 353Q,#00c657,#ffc657 403Q"></i><i style="--g:#00a253 -18Q,#ffab53,#00b54e,#ffb249 61Q,#00af52,#ffad5b 119Q,#86ab51 136Q,#00a840 163Q,#ffc42c 198Q,#00de46 231Q,#4dbf50 244Q,#ff945f 262Q,#006f53 278Q,#ff8940 302Q,#00a84d 329Q,#ffb657 353Q,#00c657,#ffc657 403Q"></i><i style="--g:#00a253 -18Q,#ffab53,#00b54e,#ffb249 61Q,#00af52,#ffad5b 119Q,#86ab51 136Q,#00a840 163Q,#ffc42c 198Q,#00de46 231Q,#4dbf50 244Q,#ff945f 262Q,#006f53 278Q,#ff8940 302Q,#00a84d 329Q,#ffb657 353Q,#00c657,#ffc657 403Q"></i><i style="--g:#00a352 -18Q,#ffad52,#00b74b 33Q,#ffb743,#00b74b 87Q,#ffac53 115Q,#009e47 150Q,#86b73d 177Q,#ffc836 196Q,#00e63e 228Q,#4bcc40 240Q,#ffa045 259Q,#8c8546 271Q,#007147 280Q,#ff914a 301Q,#00be53 328Q,#ffd25b 352Q,#00e75b,#ffe75b 404Q"></i><i style="--g:#00a650 -18Q,#ffb050 6Q,#00bb46,#ffbe3c,#00c142 85Q,#ffb448,#00a747 140Q,#69b347 156Q,#a0c346 176Q,#ffd146 194Q,#00ea38 226Q,#4dd633 237Q,#ffb12a 257Q,#959937,#008343 281Q,#ffa456 301Q,#00d257 327Q,#ffe658,#00fb58 377Q,#fffb58 404Q"></i><i style="--g:#00ab4e -18Q,#ffb44e,#00bf42 31Q,#ffc535,#00cc38,#ffc13b 110Q,#00b646 137Q,#a3c24e,#bccd56 178Q,#ffd65b 193Q,#00e737,#ffc012 254Q,#97b028,#009e3f 281Q,#ffbb61 301Q,#00e056,#ffee4c 352Q,#6ff64c 366Q,#00fb4c 375Q,#fffb4c 404Q"></i><i style="--g:#00b14b -18Q,#ffb84b,#00c03e 30Q,#ffcb30,#00d530,#ffcd2f,#00c540 135Q,#ff9b51 162Q,#ad8a5d,#007969,#ff9374 194Q,#51b957 209Q,#00db3c 222Q,#ffcd04 251Q,#bcc819 262Q,#00bf3c 280Q,#ffd265 302Q,#00e750 326Q,#fff139 352Q,#00fb39 376Q,#fffb39 404Q"></i><i style="--g:#00b748 -18Q,#ffbc48,#00c13c,#ffce2e 55Q,#00dc29,#ffd724,#00d330,#ffb33c 160Q,#a8a553 172Q,#00946e,#ffa687 199Q,#5fb56c 209Q,#00c64b 221Q,#ffd204 248Q,#c4d718 260Q,#00e039 279Q,#ffe260,#00e442 326Q,#ffea21,#00f021,#fff021 404Q"></i><i style="--g:#00be45 -18Q,#ffbf45,#00c03a,#ffcf2f 54Q,#00df26,#ffdf1c,#00de23,#ffc72a 159Q,#a7be42 170Q,#00b061 185Q,#ffae88 204Q,#72ac72 211Q,#00ab53 221Q,#8ebd2c,#ffd004 248Q,#c0de12 258Q,#00fb2e 278Q,#7ef240 292Q,#ffeb50 303Q,#00dc30 326Q,#ffdb0b,#00da0b,#ffda0b 403Q"></i><i style="--g:#00c540 -18Q,#ffc240,#00c039,#ffcf31,#00df24 79Q,#ffe317,#00e719,#ffd91c 157Q,#9ed330 169Q,#00cb4b 184Q,#68b861 196Q,#ffa874 207Q,#00904f 223Q,#9cab30,#ffc611 248Q,#74e61b 263Q,#00fb22 273Q,#40f12b 286Q,#ffe337 303Q,#00d11e,#ffcc04 350Q,#aec904 361Q,#00c604 378Q,#ffc604 400Q"></i><i style="--g:#00cc3b -18Q,#ffc63b,#00c137,#ffcf34 54Q,#00dd24,#ffe614,#00ee12,#ffe810 156Q,#00e234 183Q,#63c644,#ffa855 209Q,#008043 226Q,#8d9a38 235Q,#ffbc2b 248Q,#63e626 263Q,#00fc24 271Q,#46ee1f,#ffde19 303Q,#00c90e 327Q,#88c508 340Q,#ffc204 349Q,#a9be04 362Q,#00ba04 378Q,#ffba04 399Q"></i><i style="--g:#00d234 -18Q,#ffcb34,#00c535,#ffcf36,#00da25 78Q,#ffe614,#00f30e,#fff408,#00f51e 182Q,#5cda27 193Q,#ffb634 209Q,#839a3b 221Q,#00853f,#769943 237Q,#ffba49 248Q,#00fb2c 271Q,#3cef1b 284Q,#ffe004 302Q,#afd604 312Q,#00c804 328Q,#8bc404 341Q,#ffc104 350Q,#a7bd04 362Q,#00b804 378Q,#ffb804 400Q"></i><i style="--g:#00d82d -18Q,#ffd12d,#00ca32,#ffd036,#00d626,#ffe516 103Q,#00f50d,#fff804 155Q,#74fa09 169Q,#00fb0c,#38ea0f 189Q,#ffc815 208Q,#98b42b,#009e42 232Q,#ffc764 250Q,#82dd50 260Q,#00fb36,#62f21e,#ffe704 298Q,#b1dc05 313Q,#00cf06 329Q,#ffc908,#00c208,#ffc208 402Q"></i><i style="--g:#00de25 -19Q,#ffd825,#00d12d,#ffd234 55Q,#00d327,#ffe419 103Q,#00f60e,#fff904 152Q,#8afa04 166Q,#51fb04,#00fb04 177Q,#45ef04 189Q,#aee503 198Q,#ffdf03 204Q,#cbd41c 215Q,#00c244 233Q,#ffd270 253Q,#7fd959 262Q,#00e439,#8fe217 288Q,#ffe103 296Q,#b7e00b,#00de13 329Q,#ffd91e,#00d41e,#ffd41e 402Q"></i><i style="--g:#00e41e -19Q,#ffde1e,#00d827,#ffd530,#00d127 79Q,#ffe21d,#00f411,#fff804 152Q,#82fa04 166Q,#00fb04 176Q,#49f704 188Q,#fff204,#cbee1d 215Q,#00e83d 233Q,#7cde54 245Q,#ffd567 255Q,#00c436 275Q,#9ed014 289Q,#ffd503 296Q,#c2e111 312Q,#74e616 318Q,#00ef20 329Q,#ffec35,#00e835,#ffe835 402Q"></i><i style="--g:#00e918 -19Q,#ffe518,#00e120,#ffd929,#00d225 79Q,#ffe122,#00f112,#fff604 151Q,#86f904 165Q,#57fa04 169Q,#00fc04 175Q,#49fc04 187Q,#a3fb04,#fffb04 200Q,#cafb15,#00fb28 230Q,#37e836 241Q,#ffcc4a 257Q,#00aa28,#ffcc04 298Q,#bedf12 311Q,#00fb28 328Q,#61fa35 339Q,#fffa46 354Q,#00f846,#fff846 402Q"></i><i style="--g:#00ee12 -20Q,#ffeb12,#00e919,#ffdf21 55Q,#00d523,#ffe025,#00ec15,#fff404 152Q,#76f804 166Q,#00fb04 175Q,#53fb04 187Q,#a1fb04,#fffb04 199Q,#c3fb0b 213Q,#00fb12 226Q,#37e01b,#ffc423 258Q,#009f1b 279Q,#74b117 288Q,#ffcc12,#81e521 315Q,#00fb2e,#52fb3c 338Q,#fffb4d,#66fb4d 368Q,#00fb4d 376Q,#fffb4d 402Q"></i><i style="--g:#00f30d -20Q,#fff10d,#00f012,#ffe518,#00db1f 80Q,#ffe126,#00e717,#fff207 152Q,#68f806 167Q,#00fc05 175Q,#42fc04 185Q,#5bfc04 187Q,#a9fc03,#fffc03 198Q,#bdfb03 212Q,#56fb03 220Q,#00fb03 224Q,#2de404 241Q,#6fdd04 245Q,#ffcd04,#b7bf0e 266Q,#00a81e 281Q,#ffcf34 302Q,#00fb3d 326Q,#4efb42 337Q,#fffb48 353Q,#00fb48,#fffb48 402Q"></i><i style="--g:#00f608 -20Q,#fff608,#00f60c,#ffec10,#00e21a,#ffe324 104Q,#00e318,#ffef0c,#00fb08 176Q,#6efb05 188Q,#adfb04,#fffb03 198Q,#bcfb03 211Q,#65fb03,#00fb03 223Q,#33ec03 240Q,#a5e503 247Q,#ffe003 252Q,#ced21b,#00c333 283Q,#ffdc52 304Q,#00fa45,#fff638,#00f238,#fff238 402Q"></i><i style="--g:#00fa05 -20Q,#fffa05,#00fb07,#fff308,#00eb14,#ffe620 104Q,#00e019,#ffed12,#00fa0a 177Q,#89fb07 190Q,#fffb04 199Q,#aefc04 211Q,#5bfc04 217Q,#00fc03 222Q,#40f603 239Q,#a0f303,#fff203 250Q,#dbeb21 267Q,#84e92b 273Q,#00e53e 284Q,#ffe564,#00e645 327Q,#ffe322,#00e022,#ffe022 403Q"></i><i style="--g:#00fb04 -21Q,#fffb04,#00fb04 29Q,#66fa04 40Q,#fff704 54Q,#00f40f,#ffea1a 105Q,#00df18,#ffe917,#00f30d 177Q,#92f507 191Q,#fff704,#bcf904 209Q,#96fa04 212Q,#54fb04,#00fc04 222Q,#49fc04 238Q,#a6fc04,#fffc04 249Q,#e3fc21 266Q,#a3fc26 269Q,#00fc38,#50ef4d 293Q,#ffe164 307Q,#00cc3d 327Q,#ffcd0b,#00cd0b,#ffcd0b 403Q"></i><i style="--g:#00fb04 -22Q,#fffb04 3Q,#81fb04 16Q,#00fb04,#5ffb04 39Q,#fffb04 53Q,#b9fb06 62Q,#00fb0b 80Q,#ffee12,#00e117,#ffe61b,#00eb12,#fff509 202Q,#6efa07 215Q,#54fb07 217Q,#00fc06 222Q,#50fc05 237Q,#a7fc04,#fffc04 248Q,#d1fc1b 265Q,#00fc2b 277Q,#35e63f,#ffd053 308Q,#00b42f 327Q,#ffb904 350Q,#acbc04 361Q,#00bf04 378Q,#ffbf03 400Q"></i><i style="--g:#00fb04 -22Q,#fffb04 3Q,#8afb04,#00fb04,#6dfb04,#fffb03 52Q,#abfb05 63Q,#00fb07 78Q,#47f708 87Q,#fff00a 105Q,#00e514,#ffe51e,#00e51a,#fff116 202Q,#65f810 216Q,#00fb0d 224Q,#63fb07 237Q,#a5fc05,#fffc03 247Q,#cdfc11 263Q,#00fc1b 275Q,#35df2a 293Q,#ffc537 308Q,#00a41e,#ffad04 349Q,#afb304 361Q,#00ba04 378Q,#ffba04 400Q"></i><i style="--g:#00fb04 -22Q,#fffb04 3Q,#87fb04,#00fb04,#70fb04,#fffb04,#9bfb04,#00fb04 77Q,#48f804 87Q,#fff304 105Q,#00eb11,#ffe51e,#00e020,#ffe722,#0e1 227Q,#91f208 240Q,#fff403 247Q,#b3f907 262Q,#5dfb09 268Q,#00fc0b 273Q,#24e010 291Q,#79d712 296Q,#ffc415 307Q,#00a10d,#ffaf04 351Q,#a9b504 361Q,#00c004 378Q,#ffc004 401Q"></i><i style="--g:#00fb04 -22Q,#fffb04,#00fb04 28Q,#7dfb04 41Q,#fffb04,#a3fb04 63Q,#00fb04 77Q,#4bf904 87Q,#fff604 104Q,#b5f409 113Q,#00f111 130Q,#ffe61d,#00dc24,#ffd92b 203Q,#00d717,#ffe904 249Q,#b9f104 259Q,#9ff204 261Q,#5ff704,#00fb04 272Q,#28e504 288Q,#ffd203 303Q,#b2c207 315Q,#00ae0b 330Q,#ffbd11 353Q,#00cd11,#ffcd11 403Q"></i><i style="--g:#00fa04 -22Q,#fffa04,#00fb04,#fffb04 53Q,#89fb04,#00fb04 77Q,#5cfa04 88Q,#fff904 103Q,#c0f808 112Q,#00f610 130Q,#ffe81b,#00da26,#ffce31 204Q,#00c423,#ffe115 250Q,#72f110 263Q,#00fb0e 271Q,#38ee08 286Q,#ffe304 300Q,#c0d60f,#00c91a 330Q,#ffd42a,#00df2a,#ffdf2a 402Q"></i><i style="--g:#00f508 -23Q,#fff608,#00f707,#fff906 53Q,#00fb05 77Q,#6dfb05,#fffa04 103Q,#bcfa07 112Q,#00f90e 130Q,#ffe918,#00d826,#ffc734 204Q,#00b732,#ffdb31 249Q,#66f124 263Q,#00fc1d 270Q,#48f80f 284Q,#a9f608 292Q,#fff503 296Q,#d2f116 314Q,#83ef1c 319Q,#00ec28 331Q,#ffee41 354Q,#00f041,#fff041 402Q"></i><i style="--g:#00ee0e -23Q,#fff00e,#00f10d,#fff50c,#00f808,#fff904 103Q,#b5f907 112Q,#00fa0d 130Q,#ffe816,#00d726,#ffc336 205Q,#00b040,#ffd549,#00fc27 271Q,#46fb17 281Q,#6afb13 284Q,#abfb0a,#fffb03 294Q,#d3fb1a 313Q,#00fb2c 327Q,#51fb3c 339Q,#fffb4f 354Q,#00fb4f,#fffb4f 402Q"></i><i style="--g:#00e515 -23Q,#ffe815,#00eb14,#ffed14,#00f00e,#fff308,#00f70f,#ffe715,#00d726,#ffc337 205Q,#00b04a 228Q,#ffcb5a 249Q,#79da45,#00ea2c 272Q,#8bef13 285Q,#fff104 293Q,#dbf719 311Q,#00fb2a 324Q,#53fb3e 340Q,#fffb4f 354Q,#00fb4f 377Q,#fffb4f 402Q"></i><i style="--g:#00da1e -23Q,#ffdf1e,#00e31d,#ffe41c,#00e617,#ffeb12,#00f114 129Q,#ffe317,#00d627,#ffc437 205Q,#00b44f 229Q,#ffc163 250Q,#83c74e 259Q,#00cf31,#97dc12 285Q,#ffe203 292Q,#bdf214 310Q,#62f81b,#00fd20 321Q,#46fa32 339Q,#fff841 354Q,#00f541,#fff541 402Q"></i><i style="--g:#00cf28 -23Q,#ffd428,#00da27,#ffdb25,#00db21,#ffe21e,#00e81c 128Q,#ffde1a,#00d429,#ffc738 205Q,#00ba4e 229Q,#ffb862 251Q,#8db750 259Q,#00b533 272Q,#ffd503 293Q,#bce80b 306Q,#5ff310 314Q,#00fb13 320Q,#46f51e 338Q,#fff027 354Q,#00e727,#ffe727 402Q"></i><i style="--g:#00c234 -23Q,#ffc934,#00d032,#ffd02f,#00d02d,#ffd72a,#00dd25,#ffd820 153Q,#00d32c,#ffca38,#00c149 229Q,#ffaf58 252Q,#00a03a 272Q,#8eb728,#ffd015 297Q,#6cec12 311Q,#00fb10 319Q,#43f10c,#ffe608 353Q,#00d708,#ffd708 403Q"></i><i style="--g:#00b541 -23Q,#ffbc41,#00c43d,#ffc439,#00c538,#ffcb37,#00d130,#ffd128 152Q,#00d130,#ffcc38,#00c740 228Q,#ffac49 253Q,#009544 274Q,#7ba942 283Q,#ffc640 296Q,#00fb25 319Q,#42ef14 333Q,#a6e80a 341Q,#ffe303 347Q,#b4d703 361Q,#00ca03 378Q,#ffca04 399Q"></i><i style="--g:#00a84f -23Q,#ffb04f,#00b74a,#ffb845,#00b945,#ffbf44,#00c43b,#ffc931 151Q,#00cf34,#ffcd37,#00cc38,#ffb039 254Q,#98a446,#009754 277Q,#ffbf68 296Q,#65dc4d,#00f933 321Q,#84eb16 335Q,#b3e70d,#ffe303 344Q,#b8d203,#00c203 378Q,#ffc203 398Q"></i><i style="--g:#009d5c -22Q,#ffa35c,#00aa57,#ffac51 51Q,#00ae50,#ffb350,#00b745,#ffc23a 150Q,#00cc38,#ffce35,#00cf31 227Q,#ffba2c 254Q,#abb145 265Q,#00a565,#ffba88 297Q,#6bc66c 306Q,#00d647 319Q,#97d71b 334Q,#ffd804 342Q,#afd904 361Q,#63da03 369Q,#39da03 375Q,#00db03 378Q,#ffdb03 399Q"></i><i style="--g:#009369 -20Q,#ff9869 2Q,#009c63,#ffa05d,#00a45c,#ffa85b,#00ac4f,#ffba43 148Q,#00c93b,#ffcd34,#00d02d 226Q,#ffc525 254Q,#aec042 265Q,#00b86c 282Q,#6db686 293Q,#ffb599,#6db482 306Q,#00b25e 316Q,#ffbc04 341Q,#ffc327 358Q,#afc540 362Q,#00ca8b 376Q,#ffc793 378Q,#009993 414Q"></i><i style="--g:#008d75 -17Q,#ff8e75,#008f6f 26Q,#ff9569,#009a66,#ff9e63,#00a358 122Q,#ffb44b,#00c63f 173Q,#ffca33,#00cf2c,#ffcb25 253Q,#00c71a 282Q,#4ac916 295Q,#5cca13 301Q,#71cd0b 322Q,#9dce08 331Q,#ffd004 342Q,#ffd231 355Q,#00d5b4 374Q,#ffd4c1 377Q,#00c3c1 414Q"></i><i style="--g:#008d7c -12Q,#ff877c 10Q,#008378 26Q,#ff8a74 48Q,#00916f,#ff976a,#009c5f,#ffae52 145Q,#00c143,#ffc634,#00cc30,#ffcc2b 253Q,#00cd29 282Q,#74d127 300Q,#99d624 322Q,#ffda23 342Q,#ffdc31 348Q,#ffdd68 355Q,#00e1d5 372Q,#ffeadd,#00f7de 376Q,#fff7f5 414Q"></i><i style="--g:#009277 -8Q,#ff8f77 21Q,#008c71 67Q,#ff926e,#009764,#ffa859,#00ba49 170Q,#ffc038,#00c637,#ffc937 252Q,#00cc3e 280Q,#aed443 303Q,#ffe04c 336Q,#ffe358,#f4e57f 351Q,#00ecbe 369Q,#ffe9cf 375Q,#00d2cf 414Q"></i><i style="--g:#00986e -6Q,#ff936e 23Q,#008d6e 58Q,#ff916f 89Q,#009567,#ffa35f,#00b250 169Q,#ffb840,#00bd42,#ffc145,#00c543 278Q,#8acd42,#ffd641 310Q,#b2e770 342Q,#00f392 366Q,#35e99b 372Q,#ffe79d 374Q,#00a59d 414Q"></i><i style="--g:#009d66 -5Q,#f96 23Q,#009469,#ff946d 84Q,#009369 113Q,#ff9d65,#00a858,#ffad4b,#00b34f 223Q,#ffb753,#00bc45 276Q,#8ec63d,#ffd034 307Q,#9ee487 338Q,#00f3c6 362Q,#fff2dc 370Q,#00f1dc 371Q,#fff1ef 414Q"></i><i style="--g:#00a061 -5Q,#ff9d61 23Q,#009a65,#ff9769,#00936a 110Q,#ff986b,#009d61,#ffa258,#00a75c 221Q,#ffad60,#00b34a 273Q,#94be3c,#ffc82f 305Q,#00eba8 356Q,#73e5bf 366Q,#ffe3c8 369Q,#00cac8 414Q"></i><i style="--g:#00a25d -5Q,#ffa05d,#009f61,#ff9965 79Q,#00936b,#ff936f 135Q,#00926a,#ff9765,#009c67 218Q,#ffa368,#00ab4f 270Q,#9bb73f 287Q,#ffc031 302Q,#00dd7c 347Q,#3ed291 359Q,#84cd99 365Q,#ffcb9e 367Q,#009f9e 414Q"></i><i style="--g:#00a25c -5Q,#ffa25c,#00a25f,#ff9b62,#00956a 105Q,#ff9072,#008c6f 157Q,#ff916c 184Q,#00966b,#ff9f69,#00a753 267Q,#ffb939 298Q,#00d064 338Q,#4dbf75 354Q,#8cb97b 360Q,#ffb480 365Q,#008280 414Q"></i><i style="--g:#00a05c -4Q,#ffa25c,#00a35e,#ff9d60 75Q,#009769 102Q,#ff9271 127Q,#008e6d,#ff9569 177Q,#009c66,#ffa162,#00a554 263Q,#ffb345 295Q,#00c44f 331Q,#319b55 349Q,#738a57 356Q,#9a8358 359Q,#ff7f58,#007a59 363Q,#ff7a77 414Q"></i><i style="--g:#009e5e -4Q,#ffa05e,#00a35e,#ff9e5f,#009a66,#ff976c 125Q,#009367 149Q,#ff9d61 174Q,#00a75d,#ffa658,#00a554,#ffb04f 290Q,#00bd45 324Q,#00b142,#008a3f 341Q,#70673c 352Q,#ff533a 358Q,#004d3b 360Q,#ff4d4b 414Q"></i><i style="--g:#009c60 -4Q,#ff9f60,#00a25f,#ffa05d,#009e61,#ff9c66 123Q,#009b60 147Q,#ffa659 173Q,#00b253,#ffac4e,#00a652,#ffb156 286Q,#00bd3e 318Q,#8eaa2e 341Q,#ff9f24 355Q,#009c29 358Q,#ff9c8f 414Q"></i><i style="--g:#009a63 -3Q,#ff9d63 21Q,#00a05f,#ffa25c 71Q,#00a35d,#ffa35e,#00a358,#ffae52 172Q,#00ba4c,#ffb046,#00a84f 256Q,#ffb458 282Q,#75bb47,#00c333 313Q,#968e12 341Q,#ff7502 355Q,#000402 414Q"></i><i style="--g:#009965 -3Q,#ff9c65,#009f60 45Q,#ffa45a,#00a958,#fa5,#00ab51,#ffb44d 172Q,#00bd47,#ffb442,#00aa4c 254Q,#ffb856 280Q,#78c048 294Q,#00c938 310Q,#35aa2c 322Q,#ff6511 350Q,#005f13 352Q,#ff5f58 414Q"></i><i style="--g:#009867 -3Q,#ff9b67,#009e60 44Q,#ffa659,#00ae53,#ffb04d,#00b34b,#ffb849 172Q,#00be45,#ffb641,#00ae49 252Q,#ffbc52 278Q,#00cb3f 307Q,#1fa137 319Q,#ff4b27 344Q,#cd3e28 348Q,#003928 349Q,#ff3937 414Q"></i><i style="--g:#009967 -2Q,#ff9b67,#009d60 44Q,#ffa758,#00b24f 94Q,#ffb647,#00b946,#ffba46,#0b4,#ffb742,#00b447,#ffbd4c 276Q,#00c841 305Q,#2ba43d 316Q,#ff6034 338Q,#634d1a 343Q,#004812,#ff4609 347Q,#000f09 414Q"></i><i style="--g:#009b67 -2Q,#ff9c67,#009d5f 44Q,#ffa957 68Q,#00b54c,#ffb942,#00be44,#ffbb45,#00b745 198Q,#ffb845,#00ba46,#ffbe47 275Q,#00c241 302Q,#4dac3f 314Q,#ff883b 332Q,#aa7940 340Q,#757342 343Q,#007043 345Q,#ff706e 414Q"></i><i style="--g:#009e64 -2Q,#ff9e64,#009f5d,#ffaa56 68Q,#00b64b,#ffbb3f,#00c142,#ffb945 172Q,#00b247,#ffb948,#00c045 248Q,#ffbd42,#00ba3f 301Q,#ff923c 328Q,#9b8543 337Q,#007d47 343Q,#ff7e7c 414Q"></i><i style="--g:#00a260 -3Q,#ffa160,#00a15b,#ffab55 69Q,#00b64b 94Q,#ffbb3f,#00c143,#ffb747,#00ae49 197Q,#ffb94b 221Q,#00c545,#ffbc3e,#00b33b,#ff9d38 325Q,#ff9659 334Q,#90926c 338Q,#009075,#ff907c 342Q,#007e7c 414Q"></i><i style="--g:#00a75b -3Q,#ffa65b,#00a558,#ffac54,#00b44b 94Q,#ffba42,#00bf45,#ffb549 172Q,#00ab4b,#ffb84d 220Q,#00c744,#ffbb3c 272Q,#00af37,#ff9f32 323Q,#ff9a51 331Q,#c59871,#00958a 338Q,#ff9591 340Q,#009391 414Q"></i><i style="--g:#00ac55 -3Q,#fa5,#00a954,#ffae53,#00b24d 95Q,#ffb646,#00bb49,#ffb24b 171Q,#00aa4c,#ffb84d 219Q,#00c744,#ffbb3c 271Q,#00b034,#ffa42d 321Q,#ffa054 330Q,#a49e70,#009d84 337Q,#ff9c8d 339Q,#008e8d 414Q"></i><i style="--g:#00b14f -4Q,#ffb04f,#00af50,#ffb050,#00b04e,#ffb24c,#00b54d,#ffb04e,#00ac4d 195Q,#ffb74d,#00c445 244Q,#ffbd3c,#00b633 295Q,#ffaa2a 320Q,#ffa836,#ffa655,#b1a476 333Q,#00a290,#ffa299 338Q,#009b99 414Q"></i><i style="--g:#00b649 -4Q,#ffb549,#00b44b,#ffb14d,#00af50,#ffae52 121Q,#00ae51,#ffae51,#00af4e,#ffb64b 219Q,#00be44,#ffbf3d,#00c033,#ffb529 319Q,#8eb038 330Q,#5faf3c,#00ad42 337Q,#ffaeac 414Q"></i><i style="--g:#00ba44 -4Q,#ffba44,#00ba47,#ffb44a,#00ae51 97Q,#ffaa57,#00a755,#ffad53,#00b24e,#ffb54a 218Q,#00b844,#ffc13e,#00cb35,#ffb82b 318Q,#ffb535,#ffb15d,#95ae76 332Q,#00ac87,#ffab91 337Q,#009491 414Q"></i><i style="--g:#00bd40 -4Q,#ffbe40,#00be44,#ffb548,#00ad52 98Q,#ffa75c,#00a258,#ffac54 168Q,#00b64e,#ffb449,#00b243 243Q,#ffc33e 267Q,#00d536,#ffc52e 318Q,#a7bf52 329Q,#63bc61 333Q,#00bb67,#ffb96e 337Q,#00766e 414Q"></i><i style="--g:#00c03d -4Q,#ffc03d,#00c041,#ffb746,#00ad52 98Q,#ffa55f 122Q,#009e5a,#ffab54 168Q,#00b94e,#ffb348,#00ae43 243Q,#ffc43e 267Q,#00dc37,#ffcb31 318Q,#b7c454 328Q,#77c164,#00c06f 335Q,#ffbe76 337Q,#007e76 414Q"></i><i style="--g:#00c03c -4Q,#ffc13c,#00c140,#ffb745,#00ad53 98Q,#ffa560 122Q,#009d5a,#ffab54 168Q,#00b94e,#ffb347,#00ad43 243Q,#ffc53e 266Q,#00df38,#ffc832 318Q,#ffc43e,#bec05b,#75bc6e 332Q,#00b979,#ffb882 337Q,#008882 414Q"></i><i style="--g:#00c03d -4Q,#ffc03d,#00c041,#ffb746,#00ad52 98Q,#ffa55f 122Q,#009e5a,#ffab54 168Q,#00b94e,#ffb348,#00ae43 243Q,#ffc43e 267Q,#00dc37,#ffcb31 318Q,#b7c454 328Q,#77c164,#00c06f 335Q,#ffbe76 337Q,#007e76 414Q"></i><i style="--g:#00bd40 -4Q,#ffbe40,#00be44,#ffb548,#00ad52 98Q,#ffa75c,#00a258,#ffac54 168Q,#00b64e,#ffb449,#00b243 243Q,#ffc33e 267Q,#00d536,#ffc52e 318Q,#a7bf52 329Q,#63bc61 333Q,#00bb67,#ffb96e 337Q,#00766e 414Q"></i><i style="--g:#00ba44 -4Q,#ffba44,#00ba47,#ffb44a,#00ae51 97Q,#ffaa57,#00a755,#ffad53,#00b24e,#ffb54a 218Q,#00b844,#ffc13e,#00cb35,#ffb82b 318Q,#ffb535,#ffb15d,#95ae76 332Q,#00ac87,#ffab91 337Q,#009491 414Q"></i><i style="--g:#00b649 -4Q,#ffb549,#00b44b,#ffb14d,#00af50,#ffae52 121Q,#00ae51,#ffae51,#00af4e,#ffb64b 219Q,#00be44,#ffbf3d,#00c033,#ffb529 319Q,#8eb038 330Q,#5faf3c,#00ad42 337Q,#ffaeac 414Q"></i><i style="--g:#00b14f -4Q,#ffb04f,#00af50,#ffb050,#00b04e,#ffb24c,#00b54d,#ffb04e,#00ac4d 195Q,#ffb74d,#00c445 244Q,#ffbd3c,#00b633 295Q,#ffaa2a 320Q,#ffa836,#ffa655,#b1a476 333Q,#00a290,#ffa299 338Q,#009b99 414Q"></i><i style="--g:#00ac55 -3Q,#fa5,#00a954,#ffae53,#00b24d 95Q,#ffb646,#00bb49,#ffb24b 171Q,#00aa4c,#ffb84d 219Q,#00c744,#ffbb3c 271Q,#00b034,#ffa42d 321Q,#ffa054 330Q,#a49e70,#009d84 337Q,#ff9c8d 339Q,#008e8d 414Q"></i><i style="--g:#00a75b -3Q,#ffa65b,#00a558,#ffac54,#00b44b 94Q,#ffba42,#00bf45,#ffb549 172Q,#00ab4b,#ffb84d 220Q,#00c744,#ffbb3c 272Q,#00af37,#ff9f32 323Q,#ff9a51 331Q,#c59871,#00958a 338Q,#ff9591 340Q,#009391 414Q"></i><i style="--g:#00a260 -3Q,#ffa160,#00a15b,#ffab55 69Q,#00b64b 94Q,#ffbb3f,#00c143,#ffb747,#00ae49 197Q,#ffb94b 221Q,#00c545,#ffbc3e,#00b33b,#ff9d38 325Q,#ff9659 334Q,#90926c 338Q,#009075,#ff907c 342Q,#007e7c 414Q"></i><i style="--g:#009e64 -2Q,#ff9e64,#009f5d,#ffaa56 68Q,#00b64b,#ffbb3f,#00c142,#ffb945 172Q,#00b247,#ffb948,#00c045 248Q,#ffbd42,#00ba3f 301Q,#ff923c 328Q,#9b8543 337Q,#007d47 343Q,#ff7e7c 414Q"></i><i style="--g:#009b67 -2Q,#ff9c67,#009d5f 44Q,#ffa957 68Q,#00b54c,#ffb942,#00be44,#ffbb45,#00b745 198Q,#ffb845,#00ba46,#ffbe47 275Q,#00c241 302Q,#4dac3f 314Q,#ff883b 332Q,#aa7940 340Q,#757342 343Q,#007043 345Q,#ff706e 414Q"></i><i style="--g:#009967 -2Q,#ff9b67,#009d60 44Q,#ffa758,#00b24f 94Q,#ffb647,#00b946,#ffba46,#0b4,#ffb742,#00b447,#ffbd4c 276Q,#00c841 305Q,#2ba43d 316Q,#ff6034 338Q,#634d1a 343Q,#004812,#ff4609 347Q,#000f09 414Q"></i><i style="--g:#009867 -3Q,#ff9b67,#009e60 44Q,#ffa659,#00ae53,#ffb04d,#00b34b,#ffb849 172Q,#00be45,#ffb641,#00ae49 252Q,#ffbc52 278Q,#00cb3f 307Q,#1fa137 319Q,#ff4b27 344Q,#cd3e28 348Q,#003928 349Q,#ff3937 414Q"></i><i style="--g:#009965 -3Q,#ff9c65,#009f60 45Q,#ffa45a,#00a958,#fa5,#00ab51,#ffb44d 172Q,#00bd47,#ffb442,#00aa4c 254Q,#ffb856 280Q,#78c048 294Q,#00c938 310Q,#35aa2c 322Q,#ff6511 350Q,#005f13 352Q,#ff5f58 414Q"></i><i style="--g:#009a63 -3Q,#ff9d63 21Q,#00a05f,#ffa25c 71Q,#00a35d,#ffa35e,#00a358,#ffae52 172Q,#00ba4c,#ffb046,#00a84f 256Q,#ffb458 282Q,#75bb47,#00c333 313Q,#968e12 341Q,#ff7502 355Q,#000402 414Q"></i><i style="--g:#009c60 -4Q,#ff9f60,#00a25f,#ffa05d,#009e61,#ff9c66 123Q,#009b60 147Q,#ffa659 173Q,#00b253,#ffac4e,#00a652,#ffb156 286Q,#00bd3e 318Q,#8eaa2e 341Q,#ff9f24 355Q,#009c29 358Q,#ff9c8f 414Q"></i><i style="--g:#009e5e -4Q,#ffa05e,#00a35e,#ff9e5f,#009a66,#ff976c 125Q,#009367 149Q,#ff9d61 174Q,#00a75d,#ffa658,#00a554,#ffb04f 290Q,#00bd45 324Q,#00b142,#008a3f 341Q,#70673c 352Q,#ff533a 358Q,#004d3b 360Q,#ff4d4b 414Q"></i><i style="--g:#00a05c -4Q,#ffa25c,#00a35e,#ff9d60 75Q,#009769 102Q,#ff9271 127Q,#008e6d,#ff9569 177Q,#009c66,#ffa162,#00a554 263Q,#ffb345 295Q,#00c44f 331Q,#319b55 349Q,#738a57 356Q,#9a8358 359Q,#ff7f58,#007a59 363Q,#ff7a77 414Q"></i><i style="--g:#00a25c -5Q,#ffa25c,#00a25f,#ff9b62,#00956a 105Q,#ff9072,#008c6f 157Q,#ff916c 184Q,#00966b,#ff9f69,#00a753 267Q,#ffb939 298Q,#00d064 338Q,#4dbf75 354Q,#8cb97b 360Q,#ffb480 365Q,#008280 414Q"></i><i style="--g:#00a25d -5Q,#ffa05d,#009f61,#ff9965 79Q,#00936b,#ff936f 135Q,#00926a,#ff9765,#009c67 218Q,#ffa368,#00ab4f 270Q,#9bb73f 287Q,#ffc031 302Q,#00dd7c 347Q,#3ed291 359Q,#84cd99 365Q,#ffcb9e 367Q,#009f9e 414Q"></i><i style="--g:#00a061 -5Q,#ff9d61 23Q,#009a65,#ff9769,#00936a 110Q,#ff986b,#009d61,#ffa258,#00a75c 221Q,#ffad60,#00b34a 273Q,#94be3c,#ffc82f 305Q,#00eba8 356Q,#73e5bf 366Q,#ffe3c8 369Q,#00cac8 414Q"></i><i style="--g:#009d66 -5Q,#f96 23Q,#009469,#ff946d 84Q,#009369 113Q,#ff9d65,#00a858,#ffad4b,#00b34f 223Q,#ffb753,#00bc45 276Q,#8ec63d,#ffd034 307Q,#9ee487 338Q,#00f3c6 362Q,#fff2dc 370Q,#00f1dc 371Q,#fff1ef 414Q"></i><i style="--g:#00986e -6Q,#ff936e 23Q,#008d6e 58Q,#ff916f 89Q,#009567,#ffa35f,#00b250 169Q,#ffb840,#00bd42,#ffc145,#00c543 278Q,#8acd42,#ffd641 310Q,#b2e770 342Q,#00f392 366Q,#35e99b 372Q,#ffe79d 374Q,#00a59d 414Q"></i><i style="--g:#009277 -8Q,#ff8f77 21Q,#008c71 67Q,#ff926e,#009764,#ffa859,#00ba49 170Q,#ffc038,#00c637,#ffc937 252Q,#00cc3e 280Q,#aed443 303Q,#ffe04c 336Q,#ffe358,#f4e57f 351Q,#00ecbe 369Q,#ffe9cf 375Q,#00d2cf 414Q"></i><i style="--g:#008d7c -12Q,#ff877c 10Q,#008378 26Q,#ff8a74 48Q,#00916f,#ff976a,#009c5f,#ffae52 145Q,#00c143,#ffc634,#00cc30,#ffcc2b 253Q,#00cd29 282Q,#74d127 300Q,#99d624 322Q,#ffda23 342Q,#ffdc31 348Q,#ffdd68 355Q,#00e1d5 372Q,#ffeadd,#00f7de 376Q,#fff7f5 414Q"></i><i style="--g:#008d75 -17Q,#ff8e75,#008f6f 26Q,#ff9569,#009a66,#ff9e63,#00a358 122Q,#ffb44b,#00c63f 173Q,#ffca33,#00cf2c,#ffcb25 253Q,#00c71a 282Q,#4ac916 295Q,#5cca13 301Q,#71cd0b 322Q,#9dce08 331Q,#ffd004 342Q,#ffd231 355Q,#00d5b4 374Q,#ffd4c1 377Q,#00c3c1 414Q"></i><i style="--g:#009369 -20Q,#ff9869 2Q,#009c63,#ffa05d,#00a45c,#ffa85b,#00ac4f,#ffba43 148Q,#00c93b,#ffcd34,#00d02d 226Q,#ffc525 254Q,#aec042 265Q,#00b86c 282Q,#6db686 293Q,#ffb599,#6db482 306Q,#00b25e 316Q,#ffbc04 341Q,#ffc327 358Q,#afc540 362Q,#00ca8b 376Q,#ffc793 378Q,#009993 414Q"></i><i style="--g:#009d5c -22Q,#ffa35c,#00aa57,#ffac51 51Q,#00ae50,#ffb350,#00b745,#ffc23a 150Q,#00cc38,#ffce35,#00cf31 227Q,#ffba2c 254Q,#abb145 265Q,#00a565,#ffba88 297Q,#6bc66c 306Q,#00d647 319Q,#97d71b 334Q,#ffd804 342Q,#afd904 361Q,#63da03 369Q,#39da03 375Q,#00db03 378Q,#ffdb03 399Q"></i><i style="--g:#00a84f -23Q,#ffb04f,#00b74a,#ffb845,#00b945,#ffbf44,#00c43b,#ffc931 151Q,#00cf34,#ffcd37,#00cc38,#ffb039 254Q,#98a446,#009754 277Q,#ffbf68 296Q,#65dc4d,#00f933 321Q,#84eb16 335Q,#b3e70d,#ffe303 344Q,#b8d203,#00c203 378Q,#ffc203 398Q"></i><i style="--g:#00b541 -23Q,#ffbc41,#00c43d,#ffc439,#00c538,#ffcb37,#00d130,#ffd128 152Q,#00d130,#ffcc38,#00c740 228Q,#ffac49 253Q,#009544 274Q,#7ba942 283Q,#ffc640 296Q,#00fb25 319Q,#42ef14 333Q,#a6e80a 341Q,#ffe303 347Q,#b4d703 361Q,#00ca03 378Q,#ffca04 399Q"></i><i style="--g:#00c234 -23Q,#ffc934,#00d032,#ffd02f,#00d02d,#ffd72a,#00dd25,#ffd820 153Q,#00d32c,#ffca38,#00c149 229Q,#ffaf58 252Q,#00a03a 272Q,#8eb728,#ffd015 297Q,#6cec12 311Q,#00fb10 319Q,#43f10c,#ffe608 353Q,#00d708,#ffd708 403Q"></i><i style="--g:#00cf28 -23Q,#ffd428,#00da27,#ffdb25,#00db21,#ffe21e,#00e81c 128Q,#ffde1a,#00d429,#ffc738 205Q,#00ba4e 229Q,#ffb862 251Q,#8db750 259Q,#00b533 272Q,#ffd503 293Q,#bce80b 306Q,#5ff310 314Q,#00fb13 320Q,#46f51e 338Q,#fff027 354Q,#00e727,#ffe727 402Q"></i><i style="--g:#00da1e -23Q,#ffdf1e,#00e31d,#ffe41c,#00e617,#ffeb12,#00f114 129Q,#ffe317,#00d627,#ffc437 205Q,#00b44f 229Q,#ffc163 250Q,#83c74e 259Q,#00cf31,#97dc12 285Q,#ffe203 292Q,#bdf214 310Q,#62f81b,#00fd20 321Q,#46fa32 339Q,#fff841 354Q,#00f541,#fff541 402Q"></i><i style="--g:#00e515 -23Q,#ffe815,#00eb14,#ffed14,#00f00e,#fff308,#00f70f,#ffe715,#00d726,#ffc337 205Q,#00b04a 228Q,#ffcb5a 249Q,#79da45,#00ea2c 272Q,#8bef13 285Q,#fff104 293Q,#dbf719 311Q,#00fb2a 324Q,#53fb3e 340Q,#fffb4f 354Q,#00fb4f 377Q,#fffb4f 402Q"></i><i style="--g:#00ee0e -23Q,#fff00e,#00f10d,#fff50c,#00f808,#fff904 103Q,#b5f907 112Q,#00fa0d 130Q,#ffe816,#00d726,#ffc336 205Q,#00b040,#ffd549,#00fc27 271Q,#46fb17 281Q,#6afb13 284Q,#abfb0a,#fffb03 294Q,#d3fb1a 313Q,#00fb2c 327Q,#51fb3c 339Q,#fffb4f 354Q,#00fb4f,#fffb4f 402Q"></i><i style="--g:#00f508 -23Q,#fff608,#00f707,#fff906 53Q,#00fb05 77Q,#6dfb05,#fffa04 103Q,#bcfa07 112Q,#00f90e 130Q,#ffe918,#00d826,#ffc734 204Q,#00b732,#ffdb31 249Q,#66f124 263Q,#00fc1d 270Q,#48f80f 284Q,#a9f608 292Q,#fff503 296Q,#d2f116 314Q,#83ef1c 319Q,#00ec28 331Q,#ffee41 354Q,#00f041,#fff041 402Q"></i><i style="--g:#00fa04 -22Q,#fffa04,#00fb04,#fffb04 53Q,#89fb04,#00fb04 77Q,#5cfa04 88Q,#fff904 103Q,#c0f808 112Q,#00f610 130Q,#ffe81b,#00da26,#ffce31 204Q,#00c423,#ffe115 250Q,#72f110 263Q,#00fb0e 271Q,#38ee08 286Q,#ffe304 300Q,#c0d60f,#00c91a 330Q,#ffd42a,#00df2a,#ffdf2a 402Q"></i><i style="--g:#00fb04 -22Q,#fffb04,#00fb04 28Q,#7dfb04 41Q,#fffb04,#a3fb04 63Q,#00fb04 77Q,#4bf904 87Q,#fff604 104Q,#b5f409 113Q,#00f111 130Q,#ffe61d,#00dc24,#ffd92b 203Q,#00d717,#ffe904 249Q,#b9f104 259Q,#9ff204 261Q,#5ff704,#00fb04 272Q,#28e504 288Q,#ffd203 303Q,#b2c207 315Q,#00ae0b 330Q,#ffbd11 353Q,#00cd11,#ffcd11 403Q"></i><i style="--g:#00fb04 -22Q,#fffb04 3Q,#87fb04,#00fb04,#70fb04,#fffb04,#9bfb04,#00fb04 77Q,#48f804 87Q,#fff304 105Q,#00eb11,#ffe51e,#00e020,#ffe722,#0e1 227Q,#91f208 240Q,#fff403 247Q,#b3f907 262Q,#5dfb09 268Q,#00fc0b 273Q,#24e010 291Q,#79d712 296Q,#ffc415 307Q,#00a10d,#ffaf04 351Q,#a9b504 361Q,#00c004 378Q,#ffc004 401Q"></i><i style="--g:#00fb04 -22Q,#fffb04 3Q,#8afb04,#00fb04,#6dfb04,#fffb03 52Q,#abfb05 63Q,#00fb07 78Q,#47f708 87Q,#fff00a 105Q,#00e514,#ffe51e,#00e51a,#fff116 202Q,#65f810 216Q,#00fb0d 224Q,#63fb07 237Q,#a5fc05,#fffc03 247Q,#cdfc11 263Q,#00fc1b 275Q,#35df2a 293Q,#ffc537 308Q,#00a41e,#ffad04 349Q,#afb304 361Q,#00ba04 378Q,#ffba04 400Q"></i><i style="--g:#00fb04 -22Q,#fffb04 3Q,#81fb04 16Q,#00fb04,#5ffb04 39Q,#fffb04 53Q,#b9fb06 62Q,#00fb0b 80Q,#ffee12,#00e117,#ffe61b,#00eb12,#fff509 202Q,#6efa07 215Q,#54fb07 217Q,#00fc06 222Q,#50fc05 237Q,#a7fc04,#fffc04 248Q,#d1fc1b 265Q,#00fc2b 277Q,#35e63f,#ffd053 308Q,#00b42f 327Q,#ffb904 350Q,#acbc04 361Q,#00bf04 378Q,#ffbf03 400Q"></i><i style="--g:#00fb04 -21Q,#fffb04,#00fb04 29Q,#66fa04 40Q,#fff704 54Q,#00f40f,#ffea1a 105Q,#00df18,#ffe917,#00f30d 177Q,#92f507 191Q,#fff704,#bcf904 209Q,#96fa04 212Q,#54fb04,#00fc04 222Q,#49fc04 238Q,#a6fc04,#fffc04 249Q,#e3fc21 266Q,#a3fc26 269Q,#00fc38,#50ef4d 293Q,#ffe164 307Q,#00cc3d 327Q,#ffcd0b,#00cd0b,#ffcd0b 403Q"></i><i style="--g:#00fa05 -20Q,#fffa05,#00fb07,#fff308,#00eb14,#ffe620 104Q,#00e019,#ffed12,#00fa0a 177Q,#89fb07 190Q,#fffb04 199Q,#aefc04 211Q,#5bfc04 217Q,#00fc03 222Q,#40f603 239Q,#a0f303,#fff203 250Q,#dbeb21 267Q,#84e92b 273Q,#00e53e 284Q,#ffe564,#00e645 327Q,#ffe322,#00e022,#ffe022 403Q"></i><i style="--g:#00f608 -20Q,#fff608,#00f60c,#ffec10,#00e21a,#ffe324 104Q,#00e318,#ffef0c,#00fb08 176Q,#6efb05 188Q,#adfb04,#fffb03 198Q,#bcfb03 211Q,#65fb03,#00fb03 223Q,#33ec03 240Q,#a5e503 247Q,#ffe003 252Q,#ced21b,#00c333 283Q,#ffdc52 304Q,#00fa45,#fff638,#00f238,#fff238 402Q"></i><i style="--g:#00f30d -20Q,#fff10d,#00f012,#ffe518,#00db1f 80Q,#ffe126,#00e717,#fff207 152Q,#68f806 167Q,#00fc05 175Q,#42fc04 185Q,#5bfc04 187Q,#a9fc03,#fffc03 198Q,#bdfb03 212Q,#56fb03 220Q,#00fb03 224Q,#2de404 241Q,#6fdd04 245Q,#ffcd04,#b7bf0e 266Q,#00a81e 281Q,#ffcf34 302Q,#00fb3d 326Q,#4efb42 337Q,#fffb48 353Q,#00fb48,#fffb48 402Q"></i><i style="--g:#00ee12 -20Q,#ffeb12,#00e919,#ffdf21 55Q,#00d523,#ffe025,#00ec15,#fff404 152Q,#76f804 166Q,#00fb04 175Q,#53fb04 187Q,#a1fb04,#fffb04 199Q,#c3fb0b 213Q,#00fb12 226Q,#37e01b,#ffc423 258Q,#009f1b 279Q,#74b117 288Q,#ffcc12,#81e521 315Q,#00fb2e,#52fb3c 338Q,#fffb4d,#66fb4d 368Q,#00fb4d 376Q,#fffb4d 402Q"></i><i style="--g:#00e918 -19Q,#ffe518,#00e120,#ffd929,#00d225 79Q,#ffe122,#00f112,#fff604 151Q,#86f904 165Q,#57fa04 169Q,#00fc04 175Q,#49fc04 187Q,#a3fb04,#fffb04 200Q,#cafb15,#00fb28 230Q,#37e836 241Q,#ffcc4a 257Q,#00aa28,#ffcc04 298Q,#bedf12 311Q,#00fb28 328Q,#61fa35 339Q,#fffa46 354Q,#00f846,#fff846 402Q"></i><i style="--g:#00e41e -19Q,#ffde1e,#00d827,#ffd530,#00d127 79Q,#ffe21d,#00f411,#fff804 152Q,#82fa04 166Q,#00fb04 176Q,#49f704 188Q,#fff204,#cbee1d 215Q,#00e83d 233Q,#7cde54 245Q,#ffd567 255Q,#00c436 275Q,#9ed014 289Q,#ffd503 296Q,#c2e111 312Q,#74e616 318Q,#00ef20 329Q,#ffec35,#00e835,#ffe835 402Q"></i><i style="--g:#00de25 -19Q,#ffd825,#00d12d,#ffd234 55Q,#00d327,#ffe419 103Q,#00f60e,#fff904 152Q,#8afa04 166Q,#51fb04,#00fb04 177Q,#45ef04 189Q,#aee503 198Q,#ffdf03 204Q,#cbd41c 215Q,#00c244 233Q,#ffd270 253Q,#7fd959 262Q,#00e439,#8fe217 288Q,#ffe103 296Q,#b7e00b,#00de13 329Q,#ffd91e,#00d41e,#ffd41e 402Q"></i><i style="--g:#00d82d -18Q,#ffd12d,#00ca32,#ffd036,#00d626,#ffe516 103Q,#00f50d,#fff804 155Q,#74fa09 169Q,#00fb0c,#38ea0f 189Q,#ffc815 208Q,#98b42b,#009e42 232Q,#ffc764 250Q,#82dd50 260Q,#00fb36,#62f21e,#ffe704 298Q,#b1dc05 313Q,#00cf06 329Q,#ffc908,#00c208,#ffc208 402Q"></i><i style="--g:#00d234 -18Q,#ffcb34,#00c535,#ffcf36,#00da25 78Q,#ffe614,#00f30e,#fff408,#00f51e 182Q,#5cda27 193Q,#ffb634 209Q,#839a3b 221Q,#00853f,#769943 237Q,#ffba49 248Q,#00fb2c 271Q,#3cef1b 284Q,#ffe004 302Q,#afd604 312Q,#00c804 328Q,#8bc404 341Q,#ffc104 350Q,#a7bd04 362Q,#00b804 378Q,#ffb804 400Q"></i><i style="--g:#00cc3b -18Q,#ffc63b,#00c137,#ffcf34 54Q,#00dd24,#ffe614,#00ee12,#ffe810 156Q,#00e234 183Q,#63c644,#ffa855 209Q,#008043 226Q,#8d9a38 235Q,#ffbc2b 248Q,#63e626 263Q,#00fc24 271Q,#46ee1f,#ffde19 303Q,#00c90e 327Q,#88c508 340Q,#ffc204 349Q,#a9be04 362Q,#00ba04 378Q,#ffba04 399Q"></i><i style="--g:#00c540 -18Q,#ffc240,#00c039,#ffcf31,#00df24 79Q,#ffe317,#00e719,#ffd91c 157Q,#9ed330 169Q,#00cb4b 184Q,#68b861 196Q,#ffa874 207Q,#00904f 223Q,#9cab30,#ffc611 248Q,#74e61b 263Q,#00fb22 273Q,#40f12b 286Q,#ffe337 303Q,#00d11e,#ffcc04 350Q,#aec904 361Q,#00c604 378Q,#ffc604 400Q"></i><i style="--g:#00be45 -18Q,#ffbf45,#00c03a,#ffcf2f 54Q,#00df26,#ffdf1c,#00de23,#ffc72a 159Q,#a7be42 170Q,#00b061 185Q,#ffae88 204Q,#72ac72 211Q,#00ab53 221Q,#8ebd2c,#ffd004 248Q,#c0de12 258Q,#00fb2e 278Q,#7ef240 292Q,#ffeb50 303Q,#00dc30 326Q,#ffdb0b,#00da0b,#ffda0b 403Q"></i><i style="--g:#00b748 -18Q,#ffbc48,#00c13c,#ffce2e 55Q,#00dc29,#ffd724,#00d330,#ffb33c 160Q,#a8a553 172Q,#00946e,#ffa687 199Q,#5fb56c 209Q,#00c64b 221Q,#ffd204 248Q,#c4d718 260Q,#00e039 279Q,#ffe260,#00e442 326Q,#ffea21,#00f021,#fff021 404Q"></i><i style="--g:#00b14b -18Q,#ffb84b,#00c03e 30Q,#ffcb30,#00d530,#ffcd2f,#00c540 135Q,#ff9b51 162Q,#ad8a5d,#007969,#ff9374 194Q,#51b957 209Q,#00db3c 222Q,#ffcd04 251Q,#bcc819 262Q,#00bf3c 280Q,#ffd265 302Q,#00e750 326Q,#fff139 352Q,#00fb39 376Q,#fffb39 404Q"></i><i style="--g:#00ab4e -18Q,#ffb44e,#00bf42 31Q,#ffc535,#00cc38,#ffc13b 110Q,#00b646 137Q,#a3c24e,#bccd56 178Q,#ffd65b 193Q,#00e737,#ffc012 254Q,#97b028,#009e3f 281Q,#ffbb61 301Q,#00e056,#ffee4c 352Q,#6ff64c 366Q,#00fb4c 375Q,#fffb4c 404Q"></i><i style="--g:#00a650 -18Q,#ffb050 6Q,#00bb46,#ffbe3c,#00c142 85Q,#ffb448,#00a747 140Q,#69b347 156Q,#a0c346 176Q,#ffd146 194Q,#00ea38 226Q,#4dd633 237Q,#ffb12a 257Q,#959937,#008343 281Q,#ffa456 301Q,#00d257 327Q,#ffe658,#00fb58 377Q,#fffb58 404Q"></i><i style="--g:#00a352 -18Q,#ffad52,#00b74b 33Q,#ffb743,#00b74b 87Q,#ffac53 115Q,#009e47 150Q,#86b73d 177Q,#ffc836 196Q,#00e63e 228Q,#4bcc40 240Q,#ffa045 259Q,#8c8546 271Q,#007147 280Q,#ff914a 301Q,#00be53 328Q,#ffd25b 352Q,#00e75b,#ffe75b 404Q"></i><i style="--g:#00a253 -18Q,#ffab53,#00b54e,#ffb249 61Q,#00af52,#ffad5b 119Q,#86ab51 136Q,#00a840 163Q,#ffc42c 198Q,#00de46 231Q,#4dbf50 244Q,#ff945f 262Q,#006f53 278Q,#ff8940 302Q,#00a84d 329Q,#ffb657 353Q,#00c657,#ffc657 403Q"></i><i style="--g:#00a253 -18Q,#ffab53,#00b54e,#ffb249 61Q,#00af52,#ffad5b 119Q,#86ab51 136Q,#00a840 163Q,#ffc42c 198Q,#00de46 231Q,#4dbf50 244Q,#ff945f 262Q,#006f53 278Q,#ff8940 302Q,#00a84d 329Q,#ffb657 353Q,#00c657,#ffc657 403Q"></i><i style="--g:#00a253 -18Q,#ffab53,#00b54e,#ffb249 61Q,#00af52,#ffad5b 119Q,#86ab51 136Q,#00a840 163Q,#ffc42c 198Q,#00de46 231Q,#4dbf50 244Q,#ff945f 262Q,#006f53 278Q,#ff8940 302Q,#00a84d 329Q,#ffb657 353Q,#00c657,#ffc657 403Q"></i><i style="--g:#00a253 -18Q,#ffab53,#00b54e,#ffb249 61Q,#00af52,#ffad5b 119Q,#86ab51 136Q,#00a840 163Q,#ffc42c 198Q,#00de46 231Q,#4dbf50 244Q,#ff945f 262Q,#006f53 278Q,#ff8940 302Q,#00a84d 329Q,#ffb657 353Q,#00c657,#ffc657 403Q"></i></div></div><div class="p" style="left:1270.1px;top:61.6px;width:475.5px;height:357.6px"><div class="f" style="left:-12px;width:500px;height:357.6px"><i style="--g:#009667 -17Q,#ff9867,#009a67,#ff9668,#009269 82Q,#ff966b 105Q,#009a68,#ff9964,#009865,#ff9766,#009668 230Q,#ff9b6a 254Q,#00a065,#ffa261 304Q,#00a459,#ffab51,#00b351,#ffb351 403Q"></i><i style="--g:#009667 -17Q,#ff9867,#009a67,#ff9668,#009269 82Q,#ff966b 105Q,#009a68,#ff9964,#009865,#ff9766,#009668 230Q,#ff9b6a 254Q,#00a065,#ffa261 304Q,#00a459,#ffab51,#00b351,#ffb351 403Q"></i><i style="--g:#009667 -17Q,#ff9867,#009a67,#ff9668,#009269 82Q,#ff966b 105Q,#009a68,#ff9964,#009865,#ff9766,#009668 230Q,#ff9b6a 254Q,#00a065,#ffa261 304Q,#00a459,#ffab51,#00b351,#ffb351 403Q"></i><i style="--g:#009667 -17Q,#ff9867,#009a67,#ff9668,#009269 82Q,#ff966b 105Q,#009a68,#ff9964,#009865,#ff9766,#009668 230Q,#ff9b6a 254Q,#00a065,#ffa261 304Q,#00a459,#ffab51,#00b351,#ffb351 403Q"></i><i style="--g:#009964 -17Q,#ff9c64,#009e63,#ff9b62 57Q,#009766,#ff9a69,#009d64 130Q,#ff9d60,#009d61,#ff9c62,#009c64 229Q,#ffa067,#00a460,#ffa65a,#00a851,#ffb647 352Q,#00c647,#ffc647 404Q"></i><i style="--g:#009f5f -17Q,#ffa15f,#00a45d 31Q,#ffa15b,#009f60 82Q,#ffa064,#00a15f,#ffa259 154Q,#00a35a,#ffa45b,#00a45e,#ffa661,#00a858,#ffab50 303Q,#00ad47,#ffc13e 352Q,#00d73e,#ffd73e 404Q"></i><i style="--g:#00a55a -18Q,#ffa75a,#00a957,#ffa853,#00a858 81Q,#ffa65d,#00a558,#ffa852 154Q,#00ab54,#ffac55,#00ae56,#ffae58 253Q,#00ae4f,#ffb146,#00b53d,#ffca35 351Q,#00e235,#ffe235 404Q"></i><i style="--g:#00ad55 -18Q,#ffad55,#00ae51,#ffaf4c,#00b151,#ffad56 105Q,#00aa51,#ffae4d,#00b34d,#ffb54e,#00b64e,#ffb54e,#00b345,#ffb93d,#00be35,#ffd22d 351Q,#00e72d,#ffe72d 404Q"></i><i style="--g:#00b350 -18Q,#ffb250,#00b14c,#ffb548 55Q,#00b84b,#ffb34e 105Q,#00ae4b,#ffb449,#00ba48,#ffbb48,#00bd46 228Q,#ffba44,#00b83d,#ffc035,#00c92e,#ffd727 352Q,#00e627,#ffe627 404Q"></i><i style="--g:#00b94b -18Q,#ffb74b,#00b448,#ffb945,#00be46,#ffb846,#00b247 129Q,#ffb947,#00bf44,#ffc042,#00c23e,#ffc03a,#00be36,#ffc931,#00d42a 327Q,#ffda23,#00e123,#ffe123 403Q"></i><i style="--g:#00be46 -19Q,#ffba46,#00b744,#ffbc43,#00c241,#ffbd40,#00b742 129Q,#ffbd45,#00c341,#ffc43d,#00c538,#ffc533,#00c530,#ffd12e,#00dd27 327Q,#ffdb20,#00d920,#ffd920 403Q"></i><i style="--g:#00c241 -19Q,#ffbe41,#00ba41,#ffbf42,#00c43e,#ffc13a,#00bd3e,#ffc143,#00c63d,#ffc738,#00c832,#ffca2d,#00cd2d,#ffd82c,#00e426 327Q,#ffdb1f,#00d11f,#ffd11f 403Q"></i><i style="--g:#00c53c -19Q,#ffc13c,#00be3e,#ffc241,#00c63b 79Q,#ffc535,#00c43a,#ffc640 154Q,#00c739,#ffc933,#00cb2e,#ffd029 252Q,#00d52a,#ffdf2a,#00e825,#ffd920,#00cb20 378Q,#ffcb20 402Q"></i><i style="--g:#00c738 -19Q,#ffc538,#00c33b,#ffc53e,#00c738,#ffc931,#00cb36,#ffca3b,#00c935,#ffcc2f,#00cf2b,#ffd627 253Q,#00dd27,#ffe328,#00e925 328Q,#ffd822,#00c822 378Q,#ffc822 402Q"></i><i style="--g:#00c834 -19Q,#ffc834,#00c738,#ffc73b,#00c735,#ffcc2f,#00d132,#ffce36,#00ca31,#ffcf2c,#00d328,#ffdb25,#00e425 278Q,#ffe524,#00e625,#ffd626,#00c826 378Q,#ffc826 402Q"></i><i style="--g:#00c932 -20Q,#ffcb32,#00cc35,#ffca37 55Q,#00c933,#ffcf2e,#00d62f,#ffd12f,#00cd2c,#ffd229,#00d827,#ffe024,#00e822 278Q,#ffe420,#00e025,#ffd62a,#00cb2a 378Q,#ffcb2a 402Q"></i><i style="--g:#00ca30 -20Q,#ffcd30,#00d031,#ffcd33 55Q,#00cb30,#ffd22d,#00da2b,#ffd529,#00d128,#ffd627,#00dc25,#ffe223,#00e91f 278Q,#ffe11c,#00d925 329Q,#ffd52e,#00d12e,#ffd12e 402Q"></i><i style="--g:#00cb2e -20Q,#ffcf2e,#00d42e,#ffd12e,#00cd2d,#ffd52d,#00dc28,#ffd922,#00d624,#ffdb26,#00e024,#ffe422,#00e81e,#ffdd19,#00d225 329Q,#ffd531,#00d731,#ffd731 402Q"></i><i style="--g:#00cb2e -20Q,#ffd12e,#00d62b,#ffd429,#00d12b,#ffd72c,#00dd25,#ffdc1d,#00db21,#ffdf24,#00e222,#ffe320,#00e41d,#ffd819,#00cc26 329Q,#ffd432,#00dc32,#ffdc32 403Q"></i><i style="--g:#00cd2d -19Q,#ffd32d,#00d829,#ffd725,#00d628,#ffd92b,#0d2,#ffdf1a,#00e11e,#ffe222,#00e420 229Q,#ffe21e,#00e01d,#ffd41c,#00c927 329Q,#ffd432,#00df32 378Q,#ffdf32 403Q"></i><i style="--g:#00cf2d -19Q,#ffd42d,#00d927,#ffda22,#00da25,#ffdb28,#00dc20,#ffe118 154Q,#00e61c,#ffe51f,#00e41e,#ffdf1d,#00da1f,#ffd121,#00c829 329Q,#ffd330,#00df30 378Q,#ffdf30 403Q"></i><i style="--g:#00d22c -19Q,#ffd62c,#00d926,#ffdc20,#00df22,#ffdd25,#00dc1f,#ffe319 154Q,#00ea1b,#ffe61d,#00e31d,#ffdc1c,#00d522 280Q,#ffd028,#00cb2b,#ffd32d,#00dc2d 378Q,#ffdc2d 403Q"></i><i style="--g:#00d52a -19Q,#ffd72a,#00d925,#ffde1f,#00e220,#ffdf21,#00dc1e,#ffe41a,#00ec1a,#ffe71a 205Q,#00e21c,#ffda1d,#00d227,#ffd130 304Q,#00d02d,#ffd32a,#00d72a,#ffd72a 403Q"></i><i style="--g:#00d928 -19Q,#ffd928,#00d924,#ffdf1f,#00e51e,#ffe11d,#00dd1d,#ffe41d,#00eb1a,#ffe518,#00e01c,#ffd720,#00cf2c 280Q,#ffd237,#00d52f,#ffd327 353Q,#00d227,#ffd227 403Q"></i><i style="--g:#00dd26 -19Q,#ffdb26,#00da23,#ffe01f,#00e61d,#ffe21a,#00df1d,#ffe41f,#00e91b,#ffe317,#00dd1e,#ffd624,#00ce30 280Q,#ffd43b,#00da30,#ffd425 353Q,#00cd25,#ffcd25 402Q"></i><i style="--g:#00e023 -18Q,#ffdd23,#00db22,#ffe020,#00e61c 81Q,#ffe318,#00e11d,#ffe322,#00e51d,#ffe018 205Q,#00db21,#ffd429,#00cd33 280Q,#ffd53c,#00dd30 328Q,#ffd424,#00cb24,#ffcb24 402Q"></i><i style="--g:#00e220 -18Q,#ffdf20,#00dc20,#ffe021,#00e41c,#ffe417,#00e31d 131Q,#ffe123,#00df1f,#ffdc1b,#00d925,#ffd42e,#00ce34 280Q,#ffd639,#00de2f 328Q,#ffd424,#00cb24,#ffcb24 402Q"></i><i style="--g:#00e41d -18Q,#ffe11d,#00de1f,#ffe022,#00e21d,#ffe317,#00e51e,#ffdf24,#00da22,#ffd820 206Q,#00d729,#ffd332,#00cf33,#ffd633,#00dc2d,#ffd526 353Q,#00ce26,#ffce26 402Q"></i><i style="--g:#00e41b -18Q,#ffe21b,#00e01e,#ffe022,#00df1e,#ffe21a,#00e51f,#ffdd24,#00d425 181Q,#ffd426,#00d42e,#ffd335,#00d130,#ffd52c,#00d92a,#ffd629,#00d229,#ffd229 402Q"></i><i style="--g:#00e419 -18Q,#ffe319,#00e21d,#ffe021,#00dd1f,#ffe01d,#00e420 131Q,#ffda24,#00d029 181Q,#ffd12d,#00d232,#ffd236,#00d32d 279Q,#ffd424,#00d428,#ffd62c,#00d82c,#ffd82c 403Q"></i><i style="--g:#00e319 -18Q,#ffe319,#00e41d,#ffdf21,#00db21,#ffde21,#00e123,#ffd724,#00cd2c 181Q,#ffce34,#00cf34,#ffd234,#00d529 278Q,#ffd31d,#00d026 329Q,#ffd62f,#00dc2f,#ffdc2f 403Q"></i><i style="--g:#00e01b -18Q,#ffe21b,#00e41d,#ffdf20,#00d923,#ffdb26 107Q,#00dd26,#ffd425,#00cc30 181Q,#ffcc3a,#00cd35,#ffd231,#00d726 278Q,#ffd21a,#00cd25 329Q,#ffd630,#00df30 378Q,#ffdf30 403Q"></i><i style="--g:#00de1d -18Q,#ffe11d,#00e41e,#ffde1f,#00d825,#ffd82a,#00d729,#ffd128 157Q,#00cb33,#ffcb3d,#00ca35,#ffd12d,#00d924 278Q,#ffd21a,#00cc25 329Q,#ffd530,#00de30 378Q,#ffde30 403Q"></i><i style="--g:#00db20 -17Q,#ffde20,#00e220,#ffdd20,#00d827,#ffd52e,#00d22d,#ffcf2b,#00cc35 181Q,#ffca3e,#00c934,#ffd129,#00da24 278Q,#ffd41e,#00ce27 329Q,#ffd42f,#00db2f 378Q,#ffdb2f 403Q"></i><i style="--g:#00d923 -17Q,#ffdc23,#00df22,#ffdb21,#00d729,#ffd131,#00cc30 132Q,#ffcc2f,#00cc36,#ffcb3c,#00c931,#ffd126 253Q,#00da25,#ffd525,#00d129 329Q,#ffd32d,#00d52d,#ffd52d 403Q"></i><i style="--g:#00d727 -17Q,#ffd927,#00db25,#ffd923,#00d62b,#ffcf33,#00c733 132Q,#ffca34,#00cd36,#ffcb39,#00ca2f 229Q,#ffd224,#00da28,#ffd72c,#00d52c,#ffe12b 353Q,#54eb2b 372Q,#48ec2b 374Q,#00ee2b 378Q,#ffee2b 402Q"></i><i style="--g:#00d62b -16Q,#ffd62b,#00d629,#ffd527,#00d52d,#ffcc34,#00c436,#ffc938 156Q,#00ce36,#ffcd33,#00cc2c,#ffd225 254Q,#00d82c,#ffd934,#00d92e,#ffd428 353Q,#ffd339 358Q,#b4d159,#69d074 371Q,#00cf88 376Q,#ffcc91 378Q,#009791 414Q"></i><i style="--g:#00d52e -16Q,#ffd32e,#00d22c,#ffd22b,#00d230,#ffca34 107Q,#00c238,#ffc83b,#00ce34 180Q,#ffcf2d,#00d02a,#ffd327,#00d630,#ffd939,#00db30,#ffce27 353Q,#ffcc37,#ffc963 364Q,#81c692 371Q,#00c4ab 375Q,#ffc3b7 377Q,#00b8b7 414Q"></i><i style="--g:#00d530 -16Q,#ffd130,#00cd30,#ffce30,#00d032,#ffc934,#00c239 131Q,#ffc83d,#00cf32,#ffd128 204Q,#00d429,#ffd32a,#00d232 279Q,#ffd73b,#00dc31,#ffd927 353Q,#91d84d 367Q,#56d85f 373Q,#00d766 376Q,#ffd7d5 414Q"></i><i style="--g:#00d532 -16Q,#ffcf32,#00ca33,#ffcb35,#00cc35,#ffc834,#00c439,#ffc93d 155Q,#00cf30,#ffd324,#00d829,#ffd32e,#00ce34 279Q,#ffd439,#00da31,#ffc927 353Q,#ffc638,#ffc266 364Q,#8cbe93 370Q,#00bca9,#ffbbb4 375Q,#00b6b4 414Q"></i><i style="--g:#00d432 -16Q,#ffce32,#00c736,#ffc839,#00c937,#ffc834,#00c737,#ffcb3a 155Q,#00ce2e,#ffd522,#00db2a,#ffd331 255Q,#00ca33,#ffd036,#00d630,#ffc829 353Q,#ffc53b,#c7c25f,#85bf74 368Q,#00bd88,#ffbb92 374Q,#009792 414Q"></i><i style="--g:#00d433 -16Q,#ffcd33,#00c538 33Q,#ffc63c,#00c638,#ffc834,#00cb36,#ffcd37,#00cf2d 179Q,#ffd622,#00dd2b,#ffd234 255Q,#00c732,#ffcc30,#00d12e,#ffd62c 353Q,#9cd84c 365Q,#5ad95a 370Q,#00d95f 371Q,#ffd9d5 414Q"></i><i style="--g:#00d333 -16Q,#fc3,#00c439 33Q,#ffc43e,#00c439,#ffc934,#00cf33,#ffcf32,#00d02b 180Q,#ffd625,#00dc2d,#ffd135 255Q,#00c630,#ffc92b,#00cc2d,#ffc02e 353Q,#98ba45 364Q,#65b94c,#00b852 369Q,#ffb8b5 414Q"></i><i style="--g:#00d233 -16Q,#fc3,#00c539,#ffc43f 57Q,#00c33a,#ffca34,#00d230,#ffd22d,#00d12b 180Q,#ffd529,#00d92f,#ffd035 255Q,#00c62f,#ffc728,#00c82c 329Q,#5eb42e 339Q,#ff9931 353Q,#94893c 361Q,#007e43 367Q,#ff7f7e 414Q"></i><i style="--g:#00d132 -16Q,#ffcb32,#00c638,#ffc43e,#00c239 81Q,#ffcc34,#00d52e,#ffd428,#00d32a,#ffd32d,#00d431,#ffce34,#00c92d,#ffc726,#00c52d 329Q,#5bb030 339Q,#ff9434 353Q,#9f853d 360Q,#007b42 365Q,#ff7b7a 414Q"></i><i style="--g:#00cf32 -16Q,#ffcb32,#00c837,#ffc63b,#00c437,#ffcd33,#00d72c 130Q,#ffd624,#00d52b,#ffd132 206Q,#00ce32,#ffcd32,#00cd2d,#ffc928,#00c530 329Q,#59b033 339Q,#ff9338 353Q,#9a8440 360Q,#007e43 363Q,#ff7e7a 414Q"></i><i style="--g:#00cd32 -17Q,#ffcc32,#00cb35,#ffc938,#00c735,#ffcf32,#00d72a 130Q,#ffd722,#00d62c,#ffcf36 206Q,#00c833,#ffcd2f,#00d12e,#ffcc2c 304Q,#00c733 329Q,#49a436 339Q,#ff773a 353Q,#9a643d 358Q,#005f3e 360Q,#ff5f5d 414Q"></i><i style="--g:#00cb32 -17Q,#ffcc32,#00ce33,#fc3,#00ca32,#ffd031,#00d72a 131Q,#ffd722,#00d72d,#ffcd38 206Q,#00c433,#ffcc2d,#00d52f 279Q,#ffd031,#00ca36 329Q,#5eb838 339Q,#ffa03b 353Q,#d49b40,#009842 358Q,#ff988f 414Q"></i><i style="--g:#00c932 -18Q,#ffcc32,#00d030,#ffd02f,#00cf2f,#ffd22f,#00d52a,#ffd624,#00d62f,#ffcc39 206Q,#00c132,#ffcd2c,#00d831 279Q,#ffd336,#00cd24 329Q,#97a517 348Q,#a39e15,#ff9612 355Q,#001612 414Q"></i><i style="--g:#00c732 -18Q,#ffcd32,#00d32e,#ffd32a,#00d42b,#ffd42d,#00d42a,#ffd428,#00d430,#ffcb38 206Q,#00c132,#ffcd2c,#00d933 279Q,#ffd539,#00d136 329Q,#00bf35,#4e9f35 340Q,#9c8534 347Q,#ff7433 350Q,#006c35 352Q,#ff6c66 414Q"></i><i style="--g:#00c632 -18Q,#ffcd32,#00d42c,#ffd626,#00d828,#ffd52a,#00d22b,#ffd22d,#00d131,#ffcb36,#00c431 230Q,#ffcd2d 254Q,#00d734,#ffd53b 304Q,#00d33f 328Q,#00c740,#009d41,#567442,#ff5243 348Q,#004843 349Q,#ff4947 414Q"></i><i style="--g:#00c632 -18Q,#ffce32,#00d62b,#ffd924,#00dc26,#ffd628,#00d12d,#ffcf32,#00ce32 181Q,#ffcb33,#00c931,#ffce2f,#00d334,#ffd439,#00d416 328Q,#62b504 341Q,#7cae00,#ffa700 347Q,#000500 414Q"></i><i style="--g:#00c632 -18Q,#ffce32,#00d62a,#ffda22,#00de24,#ffd726,#00cf2e 132Q,#ffcd37,#00ca33,#ffcc30,#00cf31,#ffcf31,#00ce33,#ffd135,#00d452 328Q,#00c858,#00a85d,#598762 341Q,#ff7564,#006c64 345Q,#ff6d6b 414Q"></i><i style="--g:#00c732 -18Q,#ffce32,#00d62a,#ffda22,#00df24,#ffd725,#00cf30 132Q,#ffcb3a,#00c734,#ffce2d,#00d430 230Q,#ffcf33,#00c932,#ffce30 304Q,#a5d043 314Q,#00d35f 329Q,#6cca6f 337Q,#ffc47a 343Q,#007c7a 414Q"></i><i style="--g:#00c831 -18Q,#ffce31,#00d52b,#ffd924,#00de25,#ffd625,#00ce31 132Q,#ffca3c,#00c633,#ffcf2b 205Q,#00d930,#ffcf35 255Q,#00c530,#ffcb2b 304Q,#a8cd41 314Q,#00d161 329Q,#5fca71,#ffc47e 342Q,#00807e 414Q"></i><i style="--g:#00cb31 -17Q,#ffcf31,#00d32c,#ffd727,#00db27 82Q,#ffd427,#00ce31 132Q,#ffca3b,#00c633,#ffd02a 205Q,#00db30,#ffcf35 255Q,#00c32f,#ffc928 304Q,#aecb43 314Q,#00cf6b 329Q,#69c97f 336Q,#9bc785,#ffc689 340Q,#008b89 414Q"></i><i style="--g:#00ce30 -17Q,#ffd030,#00d22d,#ffd42a,#00d72a,#ffd22a,#00ce32,#ffcb39 156Q,#00c732,#ffd12a,#00db30 230Q,#ffcf35 255Q,#00c32e,#ffc826 304Q,#b0ca42 314Q,#00cd6c 329Q,#69c880 336Q,#ffc688 339Q,#008b88 414Q"></i><i style="--g:#00d12f -17Q,#ffd12f,#00d02e,#ffd12e,#00d22e,#ffd02e,#00ce32,#ffcc35 156Q,#00ca31,#ffd12c,#00d82f,#ffcf33,#00c62d,#ffca27 304Q,#b4cb45 314Q,#00cd72 329Q,#58c884 335Q,#ffc78c 338Q,#00908c 414Q"></i><i style="--g:#00d52d -17Q,#ffd22d,#00cf30,#ffce32,#00cc32,#ffcd32,#00ce31,#ffce31,#00ce2f,#ffd12e,#00d42f,#ffd031,#00cc2e,#ffcc2b 304Q,#b7cd56 315Q,#00cd8e 329Q,#64cba2 334Q,#ffcaac 337Q,#00aeac 414Q"></i><i style="--g:#00d82b -16Q,#ffd32b,#00ce31,#ffcb36,#00c736,#ffcb35,#00cf31,#ffd12c 156Q,#00d32e,#ffd030,#00ce2f,#ffd02e,#00d22f,#ffd02f 304Q,#abcf4e 315Q,#00ce77 329Q,#5eca89 335Q,#ffc88d 337Q,#00928d 414Q"></i><i style="--g:#00da2a -16Q,#ffd42a,#00ce31,#ffc838,#00c338 82Q,#ffc938,#00cf30 130Q,#ffd328,#00d62d,#ffd032 206Q,#00c92f,#ffd02b 254Q,#00d830,#ffd334 304Q,#a0d145 315Q,#00cf5d 329Q,#3fc867 335Q,#ffc66a 337Q,#00736a 414Q"></i><i style="--g:#00dc29 -16Q,#ffd529,#00cd32,#ffc73a,#00c13a 82Q,#ffc83a,#00d030,#ffd425 155Q,#00d92c,#ffcf33 206Q,#00c52e,#ffd029 254Q,#00dc30,#ffd637 305Q,#a3d34a 315Q,#00cf64 329Q,#45c970 335Q,#ffc873 337Q,#007b73 414Q"></i><i style="--g:#00dc29 -16Q,#ffd529,#00cd32,#ffc63b 58Q,#00c03b,#ffc83b,#00d030,#ffd524 155Q,#00da2c,#ffcf34 206Q,#00c42e,#ffd029 254Q,#00dd31,#ffd639 305Q,#a6d44f 315Q,#00d06d 329Q,#3ecb79 334Q,#ffc97e 337Q,#00847e 414Q"></i><i style="--g:#00dc29 -16Q,#ffd529,#00cd32,#ffc73a,#00c13a 82Q,#ffc83a,#00d030,#ffd425 155Q,#00d92c,#ffcf33 206Q,#00c52e,#ffd029 254Q,#00dc30,#ffd637 305Q,#a3d34a 315Q,#00cf64 329Q,#45c970 335Q,#ffc873 337Q,#007b73 414Q"></i><i style="--g:#00da2a -16Q,#ffd42a,#00ce31,#ffc838,#00c338 82Q,#ffc938,#00cf30 130Q,#ffd328,#00d62d,#ffd032 206Q,#00c92f,#ffd02b 254Q,#00d830,#ffd334 304Q,#a0d145 315Q,#00cf5d 329Q,#3fc867 335Q,#ffc66a 337Q,#00736a 414Q"></i><i style="--g:#00d82b -16Q,#ffd32b,#00ce31,#ffcb36,#00c736,#ffcb35,#00cf31,#ffd12c 156Q,#00d32e,#ffd030,#00ce2f,#ffd02e,#00d22f,#ffd02f 304Q,#abcf4e 315Q,#00ce77 329Q,#5eca89 335Q,#ffc88d 337Q,#00928d 414Q"></i><i style="--g:#00d52d -17Q,#ffd22d,#00cf30,#ffce32,#00cc32,#ffcd32,#00ce31,#ffce31,#00ce2f,#ffd12e,#00d42f,#ffd031,#00cc2e,#ffcc2b 304Q,#b7cd56 315Q,#00cd8e 329Q,#64cba2 334Q,#ffcaac 337Q,#00aeac 414Q"></i><i style="--g:#00d12f -17Q,#ffd12f,#00d02e,#ffd12e,#00d22e,#ffd02e,#00ce32,#ffcc35 156Q,#00ca31,#ffd12c,#00d82f,#ffcf33,#00c62d,#ffca27 304Q,#b4cb45 314Q,#00cd72 329Q,#58c884 335Q,#ffc78c 338Q,#00908c 414Q"></i><i style="--g:#00ce30 -17Q,#ffd030,#00d22d,#ffd42a,#00d72a,#ffd22a,#00ce32,#ffcb39 156Q,#00c732,#ffd12a,#00db30 230Q,#ffcf35 255Q,#00c32e,#ffc826 304Q,#b0ca42 314Q,#00cd6c 329Q,#69c880 336Q,#ffc688 339Q,#008b88 414Q"></i><i style="--g:#00cb31 -17Q,#ffcf31,#00d32c,#ffd727,#00db27 82Q,#ffd427,#00ce31 132Q,#ffca3b,#00c633,#ffd02a 205Q,#00db30,#ffcf35 255Q,#00c32f,#ffc928 304Q,#aecb43 314Q,#00cf6b 329Q,#69c97f 336Q,#9bc785,#ffc689 340Q,#008b89 414Q"></i><i style="--g:#00c831 -18Q,#ffce31,#00d52b,#ffd924,#00de25,#ffd625,#00ce31 132Q,#ffca3c,#00c633,#ffcf2b 205Q,#00d930,#ffcf35 255Q,#00c530,#ffcb2b 304Q,#a8cd41 314Q,#00d161 329Q,#5fca71,#ffc47e 342Q,#00807e 414Q"></i><i style="--g:#00c732 -18Q,#ffce32,#00d62a,#ffda22,#00df24,#ffd725,#00cf30 132Q,#ffcb3a,#00c734,#ffce2d,#00d430 230Q,#ffcf33,#00c932,#ffce30 304Q,#a5d043 314Q,#00d35f 329Q,#6cca6f 337Q,#ffc47a 343Q,#007c7a 414Q"></i><i style="--g:#00c632 -18Q,#ffce32,#00d62a,#ffda22,#00de24,#ffd726,#00cf2e 132Q,#ffcd37,#00ca33,#ffcc30,#00cf31,#ffcf31,#00ce33,#ffd135,#00d452 328Q,#00c858,#00a85d,#598762 341Q,#ff7564,#006c64 345Q,#ff6d6b 414Q"></i><i style="--g:#00c632 -18Q,#ffce32,#00d62b,#ffd924,#00dc26,#ffd628,#00d12d,#ffcf32,#00ce32 181Q,#ffcb33,#00c931,#ffce2f,#00d334,#ffd439,#00d416 328Q,#62b504 341Q,#7cae00,#ffa700 347Q,#000500 414Q"></i><i style="--g:#00c632 -18Q,#ffcd32,#00d42c,#ffd626,#00d828,#ffd52a,#00d22b,#ffd22d,#00d131,#ffcb36,#00c431 230Q,#ffcd2d 254Q,#00d734,#ffd53b 304Q,#00d33f 328Q,#00c740,#009d41,#567442,#ff5243 348Q,#004843 349Q,#ff4947 414Q"></i><i style="--g:#00c732 -18Q,#ffcd32,#00d32e,#ffd32a,#00d42b,#ffd42d,#00d42a,#ffd428,#00d430,#ffcb38 206Q,#00c132,#ffcd2c,#00d933 279Q,#ffd539,#00d136 329Q,#00bf35,#4e9f35 340Q,#9c8534 347Q,#ff7433 350Q,#006c35 352Q,#ff6c66 414Q"></i><i style="--g:#00c932 -18Q,#ffcc32,#00d030,#ffd02f,#00cf2f,#ffd22f,#00d52a,#ffd624,#00d62f,#ffcc39 206Q,#00c132,#ffcd2c,#00d831 279Q,#ffd336,#00cd24 329Q,#97a517 348Q,#a39e15,#ff9612 355Q,#001612 414Q"></i><i style="--g:#00cb32 -17Q,#ffcc32,#00ce33,#fc3,#00ca32,#ffd031,#00d72a 131Q,#ffd722,#00d72d,#ffcd38 206Q,#00c433,#ffcc2d,#00d52f 279Q,#ffd031,#00ca36 329Q,#5eb838 339Q,#ffa03b 353Q,#d49b40,#009842 358Q,#ff988f 414Q"></i><i style="--g:#00cd32 -17Q,#ffcc32,#00cb35,#ffc938,#00c735,#ffcf32,#00d72a 130Q,#ffd722,#00d62c,#ffcf36 206Q,#00c833,#ffcd2f,#00d12e,#ffcc2c 304Q,#00c733 329Q,#49a436 339Q,#ff773a 353Q,#9a643d 358Q,#005f3e 360Q,#ff5f5d 414Q"></i><i style="--g:#00cf32 -16Q,#ffcb32,#00c837,#ffc63b,#00c437,#ffcd33,#00d72c 130Q,#ffd624,#00d52b,#ffd132 206Q,#00ce32,#ffcd32,#00cd2d,#ffc928,#00c530 329Q,#59b033 339Q,#ff9338 353Q,#9a8440 360Q,#007e43 363Q,#ff7e7a 414Q"></i><i style="--g:#00d132 -16Q,#ffcb32,#00c638,#ffc43e,#00c239 81Q,#ffcc34,#00d52e,#ffd428,#00d32a,#ffd32d,#00d431,#ffce34,#00c92d,#ffc726,#00c52d 329Q,#5bb030 339Q,#ff9434 353Q,#9f853d 360Q,#007b42 365Q,#ff7b7a 414Q"></i><i style="--g:#00d233 -16Q,#fc3,#00c539,#ffc43f 57Q,#00c33a,#ffca34,#00d230,#ffd22d,#00d12b 180Q,#ffd529,#00d92f,#ffd035 255Q,#00c62f,#ffc728,#00c82c 329Q,#5eb42e 339Q,#ff9931 353Q,#94893c 361Q,#007e43 367Q,#ff7f7e 414Q"></i><i style="--g:#00d333 -16Q,#fc3,#00c439 33Q,#ffc43e,#00c439,#ffc934,#00cf33,#ffcf32,#00d02b 180Q,#ffd625,#00dc2d,#ffd135 255Q,#00c630,#ffc92b,#00cc2d,#ffc02e 353Q,#98ba45 364Q,#65b94c,#00b852 369Q,#ffb8b5 414Q"></i><i style="--g:#00d433 -16Q,#ffcd33,#00c538 33Q,#ffc63c,#00c638,#ffc834,#00cb36,#ffcd37,#00cf2d 179Q,#ffd622,#00dd2b,#ffd234 255Q,#00c732,#ffcc30,#00d12e,#ffd62c 353Q,#9cd84c 365Q,#5ad95a 370Q,#00d95f 371Q,#ffd9d5 414Q"></i><i style="--g:#00d432 -16Q,#ffce32,#00c736,#ffc839,#00c937,#ffc834,#00c737,#ffcb3a 155Q,#00ce2e,#ffd522,#00db2a,#ffd331 255Q,#00ca33,#ffd036,#00d630,#ffc829 353Q,#ffc53b,#c7c25f,#85bf74 368Q,#00bd88,#ffbb92 374Q,#009792 414Q"></i><i style="--g:#00d532 -16Q,#ffcf32,#00ca33,#ffcb35,#00cc35,#ffc834,#00c439,#ffc93d 155Q,#00cf30,#ffd324,#00d829,#ffd32e,#00ce34 279Q,#ffd439,#00da31,#ffc927 353Q,#ffc638,#ffc266 364Q,#8cbe93 370Q,#00bca9,#ffbbb4 375Q,#00b6b4 414Q"></i><i style="--g:#00d530 -16Q,#ffd130,#00cd30,#ffce30,#00d032,#ffc934,#00c239 131Q,#ffc83d,#00cf32,#ffd128 204Q,#00d429,#ffd32a,#00d232 279Q,#ffd73b,#00dc31,#ffd927 353Q,#91d84d 367Q,#56d85f 373Q,#00d766 376Q,#ffd7d5 414Q"></i><i style="--g:#00d52e -16Q,#ffd32e,#00d22c,#ffd22b,#00d230,#ffca34 107Q,#00c238,#ffc83b,#00ce34 180Q,#ffcf2d,#00d02a,#ffd327,#00d630,#ffd939,#00db30,#ffce27 353Q,#ffcc37,#ffc963 364Q,#81c692 371Q,#00c4ab 375Q,#ffc3b7 377Q,#00b8b7 414Q"></i><i style="--g:#00d62b -16Q,#ffd62b,#00d629,#ffd527,#00d52d,#ffcc34,#00c436,#ffc938 156Q,#00ce36,#ffcd33,#00cc2c,#ffd225 254Q,#00d82c,#ffd934,#00d92e,#ffd428 353Q,#ffd339 358Q,#b4d159,#69d074 371Q,#00cf88 376Q,#ffcc91 378Q,#009791 414Q"></i><i style="--g:#00d727 -17Q,#ffd927,#00db25,#ffd923,#00d62b,#ffcf33,#00c733 132Q,#ffca34,#00cd36,#ffcb39,#00ca2f 229Q,#ffd224,#00da28,#ffd72c,#00d52c,#ffe12b 353Q,#54eb2b 372Q,#48ec2b 374Q,#00ee2b 378Q,#ffee2b 402Q"></i><i style="--g:#00d923 -17Q,#ffdc23,#00df22,#ffdb21,#00d729,#ffd131,#00cc30 132Q,#ffcc2f,#00cc36,#ffcb3c,#00c931,#ffd126 253Q,#00da25,#ffd525,#00d129 329Q,#ffd32d,#00d52d,#ffd52d 403Q"></i><i style="--g:#00db20 -17Q,#ffde20,#00e220,#ffdd20,#00d827,#ffd52e,#00d22d,#ffcf2b,#00cc35 181Q,#ffca3e,#00c934,#ffd129,#00da24 278Q,#ffd41e,#00ce27 329Q,#ffd42f,#00db2f 378Q,#ffdb2f 403Q"></i><i style="--g:#00de1d -18Q,#ffe11d,#00e41e,#ffde1f,#00d825,#ffd82a,#00d729,#ffd128 157Q,#00cb33,#ffcb3d,#00ca35,#ffd12d,#00d924 278Q,#ffd21a,#00cc25 329Q,#ffd530,#00de30 378Q,#ffde30 403Q"></i><i style="--g:#00e01b -18Q,#ffe21b,#00e41d,#ffdf20,#00d923,#ffdb26 107Q,#00dd26,#ffd425,#00cc30 181Q,#ffcc3a,#00cd35,#ffd231,#00d726 278Q,#ffd21a,#00cd25 329Q,#ffd630,#00df30 378Q,#ffdf30 403Q"></i><i style="--g:#00e319 -18Q,#ffe319,#00e41d,#ffdf21,#00db21,#ffde21,#00e123,#ffd724,#00cd2c 181Q,#ffce34,#00cf34,#ffd234,#00d529 278Q,#ffd31d,#00d026 329Q,#ffd62f,#00dc2f,#ffdc2f 403Q"></i><i style="--g:#00e419 -18Q,#ffe319,#00e21d,#ffe021,#00dd1f,#ffe01d,#00e420 131Q,#ffda24,#00d029 181Q,#ffd12d,#00d232,#ffd236,#00d32d 279Q,#ffd424,#00d428,#ffd62c,#00d82c,#ffd82c 403Q"></i><i style="--g:#00e41b -18Q,#ffe21b,#00e01e,#ffe022,#00df1e,#ffe21a,#00e51f,#ffdd24,#00d425 181Q,#ffd426,#00d42e,#ffd335,#00d130,#ffd52c,#00d92a,#ffd629,#00d229,#ffd229 402Q"></i><i style="--g:#00e41d -18Q,#ffe11d,#00de1f,#ffe022,#00e21d,#ffe317,#00e51e,#ffdf24,#00da22,#ffd820 206Q,#00d729,#ffd332,#00cf33,#ffd633,#00dc2d,#ffd526 353Q,#00ce26,#ffce26 402Q"></i><i style="--g:#00e220 -18Q,#ffdf20,#00dc20,#ffe021,#00e41c,#ffe417,#00e31d 131Q,#ffe123,#00df1f,#ffdc1b,#00d925,#ffd42e,#00ce34 280Q,#ffd639,#00de2f 328Q,#ffd424,#00cb24,#ffcb24 402Q"></i><i style="--g:#00e023 -18Q,#ffdd23,#00db22,#ffe020,#00e61c 81Q,#ffe318,#00e11d,#ffe322,#00e51d,#ffe018 205Q,#00db21,#ffd429,#00cd33 280Q,#ffd53c,#00dd30 328Q,#ffd424,#00cb24,#ffcb24 402Q"></i><i style="--g:#00dd26 -19Q,#ffdb26,#00da23,#ffe01f,#00e61d,#ffe21a,#00df1d,#ffe41f,#00e91b,#ffe317,#00dd1e,#ffd624,#00ce30 280Q,#ffd43b,#00da30,#ffd425 353Q,#00cd25,#ffcd25 402Q"></i><i style="--g:#00d928 -19Q,#ffd928,#00d924,#ffdf1f,#00e51e,#ffe11d,#00dd1d,#ffe41d,#00eb1a,#ffe518,#00e01c,#ffd720,#00cf2c 280Q,#ffd237,#00d52f,#ffd327 353Q,#00d227,#ffd227 403Q"></i><i style="--g:#00d52a -19Q,#ffd72a,#00d925,#ffde1f,#00e220,#ffdf21,#00dc1e,#ffe41a,#00ec1a,#ffe71a 205Q,#00e21c,#ffda1d,#00d227,#ffd130 304Q,#00d02d,#ffd32a,#00d72a,#ffd72a 403Q"></i><i style="--g:#00d22c -19Q,#ffd62c,#00d926,#ffdc20,#00df22,#ffdd25,#00dc1f,#ffe319 154Q,#00ea1b,#ffe61d,#00e31d,#ffdc1c,#00d522 280Q,#ffd028,#00cb2b,#ffd32d,#00dc2d 378Q,#ffdc2d 403Q"></i><i style="--g:#00cf2d -19Q,#ffd42d,#00d927,#ffda22,#00da25,#ffdb28,#00dc20,#ffe118 154Q,#00e61c,#ffe51f,#00e41e,#ffdf1d,#00da1f,#ffd121,#00c829 329Q,#ffd330,#00df30 378Q,#ffdf30 403Q"></i><i style="--g:#00cd2d -19Q,#ffd32d,#00d829,#ffd725,#00d628,#ffd92b,#0d2,#ffdf1a,#00e11e,#ffe222,#00e420 229Q,#ffe21e,#00e01d,#ffd41c,#00c927 329Q,#ffd432,#00df32 378Q,#ffdf32 403Q"></i><i style="--g:#00cb2e -20Q,#ffd12e,#00d62b,#ffd429,#00d12b,#ffd72c,#00dd25,#ffdc1d,#00db21,#ffdf24,#00e222,#ffe320,#00e41d,#ffd819,#00cc26 329Q,#ffd432,#00dc32,#ffdc32 403Q"></i><i style="--g:#00cb2e -20Q,#ffcf2e,#00d42e,#ffd12e,#00cd2d,#ffd52d,#00dc28,#ffd922,#00d624,#ffdb26,#00e024,#ffe422,#00e81e,#ffdd19,#00d225 329Q,#ffd531,#00d731,#ffd731 402Q"></i><i style="--g:#00ca30 -20Q,#ffcd30,#00d031,#ffcd33 55Q,#00cb30,#ffd22d,#00da2b,#ffd529,#00d128,#ffd627,#00dc25,#ffe223,#00e91f 278Q,#ffe11c,#00d925 329Q,#ffd52e,#00d12e,#ffd12e 402Q"></i><i style="--g:#00c932 -20Q,#ffcb32,#00cc35,#ffca37 55Q,#00c933,#ffcf2e,#00d62f,#ffd12f,#00cd2c,#ffd229,#00d827,#ffe024,#00e822 278Q,#ffe420,#00e025,#ffd62a,#00cb2a 378Q,#ffcb2a 402Q"></i><i style="--g:#00c834 -19Q,#ffc834,#00c738,#ffc73b,#00c735,#ffcc2f,#00d132,#ffce36,#00ca31,#ffcf2c,#00d328,#ffdb25,#00e425 278Q,#ffe524,#00e625,#ffd626,#00c826 378Q,#ffc826 402Q"></i><i style="--g:#00c738 -19Q,#ffc538,#00c33b,#ffc53e,#00c738,#ffc931,#00cb36,#ffca3b,#00c935,#ffcc2f,#00cf2b,#ffd627 253Q,#00dd27,#ffe328,#00e925 328Q,#ffd822,#00c822 378Q,#ffc822 402Q"></i><i style="--g:#00c53c -19Q,#ffc13c,#00be3e,#ffc241,#00c63b 79Q,#ffc535,#00c43a,#ffc640 154Q,#00c739,#ffc933,#00cb2e,#ffd029 252Q,#00d52a,#ffdf2a,#00e825,#ffd920,#00cb20 378Q,#ffcb20 402Q"></i><i style="--g:#00c241 -19Q,#ffbe41,#00ba41,#ffbf42,#00c43e,#ffc13a,#00bd3e,#ffc143,#00c63d,#ffc738,#00c832,#ffca2d,#00cd2d,#ffd82c,#00e426 327Q,#ffdb1f,#00d11f,#ffd11f 403Q"></i><i style="--g:#00be46 -19Q,#ffba46,#00b744,#ffbc43,#00c241,#ffbd40,#00b742 129Q,#ffbd45,#00c341,#ffc43d,#00c538,#ffc533,#00c530,#ffd12e,#00dd27 327Q,#ffdb20,#00d920,#ffd920 403Q"></i><i style="--g:#00b94b -18Q,#ffb74b,#00b448,#ffb945,#00be46,#ffb846,#00b247 129Q,#ffb947,#00bf44,#ffc042,#00c23e,#ffc03a,#00be36,#ffc931,#00d42a 327Q,#ffda23,#00e123,#ffe123 403Q"></i><i style="--g:#00b350 -18Q,#ffb250,#00b14c,#ffb548 55Q,#00b84b,#ffb34e 105Q,#00ae4b,#ffb449,#00ba48,#ffbb48,#00bd46 228Q,#ffba44,#00b83d,#ffc035,#00c92e,#ffd727 352Q,#00e627,#ffe627 404Q"></i><i style="--g:#00ad55 -18Q,#ffad55,#00ae51,#ffaf4c,#00b151,#ffad56 105Q,#00aa51,#ffae4d,#00b34d,#ffb54e,#00b64e,#ffb54e,#00b345,#ffb93d,#00be35,#ffd22d 351Q,#00e72d,#ffe72d 404Q"></i><i style="--g:#00a55a -18Q,#ffa75a,#00a957,#ffa853,#00a858 81Q,#ffa65d,#00a558,#ffa852 154Q,#00ab54,#ffac55,#00ae56,#ffae58 253Q,#00ae4f,#ffb146,#00b53d,#ffca35 351Q,#00e235,#ffe235 404Q"></i><i style="--g:#009f5f -17Q,#ffa15f,#00a45d 31Q,#ffa15b,#009f60 82Q,#ffa064,#00a15f,#ffa259 154Q,#00a35a,#ffa45b,#00a45e,#ffa661,#00a858,#ffab50 303Q,#00ad47,#ffc13e 352Q,#00d73e,#ffd73e 404Q"></i><i style="--g:#009964 -17Q,#ff9c64,#009e63,#ff9b62 57Q,#009766,#ff9a69,#009d64 130Q,#ff9d60,#009d61,#ff9c62,#009c64 229Q,#ffa067,#00a460,#ffa65a,#00a851,#ffb647 352Q,#00c647,#ffc647 404Q"></i><i style="--g:#009667 -17Q,#ff9867,#009a67,#ff9668,#009269 82Q,#ff966b 105Q,#009a68,#ff9964,#009865,#ff9766,#009668 230Q,#ff9b6a 254Q,#00a065,#ffa261 304Q,#00a459,#ffab51,#00b351,#ffb351 403Q"></i><i style="--g:#009667 -17Q,#ff9867,#009a67,#ff9668,#009269 82Q,#ff966b 105Q,#009a68,#ff9964,#009865,#ff9766,#009668 230Q,#ff9b6a 254Q,#00a065,#ffa261 304Q,#00a459,#ffab51,#00b351,#ffb351 403Q"></i><i style="--g:#009667 -17Q,#ff9867,#009a67,#ff9668,#009269 82Q,#ff966b 105Q,#009a68,#ff9964,#009865,#ff9766,#009668 230Q,#ff9b6a 254Q,#00a065,#ffa261 304Q,#00a459,#ffab51,#00b351,#ffb351 403Q"></i><i style="--g:#009667 -17Q,#ff9867,#009a67,#ff9668,#009269 82Q,#ff966b 105Q,#009a68,#ff9964,#009865,#ff9766,#009668 230Q,#ff9b6a 254Q,#00a065,#ffa261 304Q,#00a459,#ffab51,#00b351,#ffb351 403Q"></i></div></div><div class="p" style="left:151px;top:558.7px;width:475.5px;height:357.6px"><div class="f" style="left:-12px;width:500px;height:357.6px"><i style="--g:#009865 -4Q,#ff9865,#009967,#ff9868,#009667,#ff9867,#009a67,#ff9867,#009667,#ff9867,#009a67,#ff9867,#009767,#ff9866,#009967,#ff9968,#009867,#ff9865,#009766,#ff9967,#009a67,#ff9968,#009967,#ff9865,#009864,#ff9a63,#009c61,#ff9f60,#00a35e,#ffa75c,#00aa59,#ffae57,#00b153,#ffbb50,#00c550,#ffc550 389Q"></i><i style="--g:#009865 -4Q,#ff9865,#009967,#ff9868,#009667,#ff9867,#009a67,#ff9867,#009667,#ff9867,#009a67,#ff9867,#009767,#ff9866,#009967,#ff9968,#009867,#ff9865,#009766,#ff9967,#009a67,#ff9968,#009967,#ff9865,#009864,#ff9a63,#009c61,#ff9f60,#00a35e,#ffa75c,#00aa59,#ffae57,#00b153,#ffbb50,#00c550,#ffc550 389Q"></i><i style="--g:#009865 -4Q,#ff9865,#009967,#ff9868,#009667,#ff9867,#009a67,#ff9867,#009667,#ff9867,#009a67,#ff9867,#009767,#ff9866,#009967,#ff9968,#009867,#ff9865,#009766,#ff9967,#009a67,#ff9968,#009967,#ff9865,#009864,#ff9a63,#009c61,#ff9f60,#00a35e,#ffa75c,#00aa59,#ffae57,#00b153,#ffbb50,#00c550,#ffc550 389Q"></i><i style="--g:#009865 -4Q,#ff9865,#009967,#ff9868,#009667,#ff9867,#009a67,#ff9867,#009667,#ff9867,#009a67,#ff9867,#009767,#ff9866,#009967,#ff9968,#009867,#ff9865,#009766,#ff9967,#009a67,#ff9968,#009967,#ff9865,#009864,#ff9a63,#009c61,#ff9f60,#00a35e,#ffa75c,#00aa59,#ffae57,#00b153,#ffbb50,#00c550,#ffc550 389Q"></i><i style="--g:#009a62 -4Q,#ff9c62,#009e62,#ff9d62,#009b63,#ff9c64,#009e62,#ff9d61,#009c62,#ff9d64,#009e62,#ff9d61,#009c62,#ff9d63,#009f62,#ff9d62,#009c61,#ff9d60,#009e62,#ff9f63,#009f62,#ff9e61,#009d60,#ff9d5f,#009e5e,#ffa15e,#00a45d,#ffa85b,#00ac58,#ffaf54,#00b350,#ffb84b,#00bc43,#ffd03b 366Q,#00e53b,#ffe53b 390Q"></i><i style="--g:#00a15e -4Q,#ffa25e,#00a45c,#ffa45a,#00a35c,#ffa35e,#00a35c,#ffa45a,#00a55b,#ffa45d,#00a35b,#ffa459,#00a55b,#ffa55d,#00a55b,#ffa458,#00a359,#ffa55b,#00a75b,#ffa65b,#00a559,#ffa557,#00a557,#ffa757,#00a957,#ffac57,#00af54,#ffb151,#00b44d,#ffb848,#00bb42,#ffc23b,#00c830,#ffd625 366Q,#00e325,#ffe325 390Q"></i><i style="--g:#00aa57 -4Q,#ffaa57,#00a955,#ffab52,#00ad54,#ffab55,#00a954,#ffab53,#00ae53,#ffac53,#00aa53,#ffac52,#00af53,#ffad53,#00ab51,#ffad4f,#00af51,#ffaf53,#00b051,#ffaf4f,#00ad4e,#ffaf4d,#00b14e,#ffb34f,#00b54d,#ffb74c,#00b848,#ffba44,#00bc3f,#ffc13a,#00c633,#ffce2d,#00d623,#ffd319 366Q,#00d119,#ffd119 389Q"></i><i style="--g:#00b44e -4Q,#ffb14e,#00af4e,#ffb24d,#00b54c,#ffb34b,#00b14c,#ffb34e,#00b54b,#ffb449,#00b34a,#ffb54c,#00b74a,#ffb548,#00b448,#ffb749,#00ba49,#ffb849,#00b746,#ffb843,#00b844,#ffbb45,#00be45,#ffbf45,#00bf41,#ffc03e,#00c13a,#ffc436,#00c732,#ffcd2e,#00d329 332Q,#ffda24,#00e221,#ffd41e,#00c71e,#ffc71e 389Q"></i><i style="--g:#00bb45 -5Q,#ffb945,#00b747,#ffb849,#00ba45,#ffba42,#00bb45,#ffba47,#00ba44,#ffbb41,#00bd43,#ffbd45,#00bc42,#ffbd3f,#00be41,#ffc043,#00c140,#ffc03d,#00be3d,#ffc13c,#00c53d,#ffc63e,#00c83b,#ffc738,#00c734,#ffc931,#00cb2f,#ffd02d,#00d52a,#ffda27,#00e023,#ffe21f,#00e527 355Q,#ffda2e,#00d02e,#ffd02e 389Q"></i><i style="--g:#00c03e -5Q,#ffbf3e,#00bf40,#ffbe43,#00bd40,#ffc03d,#00c33e,#ffc13f,#00be3e,#ffc23d,#00c53d,#ffc33d,#00c13b,#ffc439,#00c73a,#ffc73b,#00c638,#ffc734,#00c836,#ffcb37,#00ce35,#ffce34,#00cd30,#ffce2c,#00cf2b,#ffd329,#00d728,#ffdb27,#00e024,#ffe322,#00e520,#ffe11f 344Q,#00dc2c,#ffdc38,#00dd38,#ffdd38 389Q"></i><i style="--g:#00c13a -5Q,#ffc43a,#00c63b,#ffc43c,#00c13b,#ffc53b,#00c839,#ffc637,#00c439,#ffc73a,#00ca37,#ffc934,#00c735,#ffcb36,#00ce34,#ffcc32,#00ca31,#ffce2f,#00d130,#ffd231,#00d32d,#ffd32a,#00d228,#ffd626,#00d926,#ffdd25,#00e124,#ffe222,#00e41f,#ffe31d,#00e220 333Q,#ffd723,#00cd2a,#ffd532,#00de32,#ffde32 389Q"></i><i style="--g:#00c438 -5Q,#ffc738,#00cb36,#ffc934,#00c736,#ffc939,#00ca35,#ffcb31,#0c3,#ffcc36,#00cc32,#ffce2e,#00cf30,#ffd033,#00d12e,#ffd12a,#00d12c,#ffd52d,#00d82b,#ffd729,#00d626,#ffd822,#00da23,#ffde23,#00e122,#ffe321,#00e41f,#ffe31c,#00e21c,#ffdd1c,#00d824 333Q,#ffcf2b,#00c628,#ffcd25,#00d425,#ffd425 389Q"></i><i style="--g:#00c836 -5Q,#ffca36,#00cd33,#ffce2f,#00cf31,#ffcd34,#00cc31,#ffcf2e,#00d32f,#ffd12f,#00cf2d,#ffd22c,#00d62c,#ffd52c,#00d329,#ffd626,#00d928,#ffda29,#00db25,#ffda21,#00da21,#ffde20,#00e221,#ffe321,#00e41f,#ffe31c,#00e21b,#ffdf1a,#00dd1e,#ffd622,#00cf2b,#ffcf34 344Q,#00ce2a,#ffcd20,#00cb20,#ffcb20 389Q"></i><i style="--g:#00cf33 -5Q,#ffce33,#00ce30,#ffd12d,#00d52d,#ffd22d,#00d02d,#ffd32d,#00d72a,#ffd528,#00d429,#ffd72a,#00da27,#ffd924,#00d725,#ffdb25,#00df24,#ffde23,#00dc20,#ffde1d,#00e01e,#ffe320,#00e51f,#ffe41d,#00e21b,#ffe01a,#00de1c,#ffdb1f,#00d826,#ffd22e,#00cc31,#ffd435 344Q,#00dc2e,#ffd528,#00cf28,#ffcf28 389Q"></i><i style="--g:#00d52d -4Q,#ffd32d,#00d02c,#ffd42c,#00d729,#ffd726,#00d629,#ffd72b,#00d827,#ffd923,#00db25,#ffdb27,#00db23,#ffdc1f,#00de21,#ffdf24,#00e120,#ffe01c,#00de1d,#ffe21d 209Q,#00e51e,#ffe51f,#00e41c,#ffe11a,#00df1c,#ffdd1d,#00db23,#ffd729,#00d330,#ffd037,#00ce32,#ffd72d 344Q,#00e130,#ffdd32,#00d932,#ffd932 389Q"></i><i style="--g:#00d926 -5Q,#ffd826,#00d628,#ffd72a,#00d826,#ffda23,#00dc24,#ffdb26,#00d924,#ffdd21,#00e022,#ffde22,#00dc20,#ffe01e,#00e31f,#ffe220,#00e01d,#ffe11a,#00e31c,#ffe41f,#00e61d,#ffe21c,#00df1c,#ffde1c,#00dc21,#ffda26,#00d72c,#ffd233,#00ce35,#ffd037,#00d32d 333Q,#ffd623,#00d82b,#ffda33,#0d3,#fd3 389Q"></i><i style="--g:#00db22 -4Q,#ffdb22,#00dc24,#ffda26,#00d924,#fd2,#00e121,#ffde20,#00dc21,#ffdf22,#00e21f,#ffe11c,#00df1e,#ffe21f,#00e51d,#ffe21b,#00e01b,#ffe31b,#00e61d,#ffe31f,#00e11d,#ffde1c,#00dc20,#ffdb23,#00da29,#ffd52f,#00d133 288Q,#ffce36,#00cb32,#ffd12d,#00d826,#ffd220,#00cc25,#ffd129,#00d629,#ffd629 389Q"></i><i style="--g:#00db20 -4Q,#ffde20,#00e120,#ffde20,#00dc21,#ffdf22,#00e11f,#ffe11b,#00e11e,#ffe121,#00e11d,#ffe219,#00e41c,#ffe31f,#00e31c,#ffe219,#00e21c,#ffe31f,#00e41f,#ffe01e,#00db1f,#ffda21,#00d927,#ffd72d,#00d430,#ffcf34,#00ca33 288Q,#ffcc32,#00cd2b,#ffd423,#00db25,#ffd227,#00ca25,#fc2,#00ce22,#ffce22 389Q"></i><i style="--g:#00db21 -4Q,#ffdf21,#00e21e,#ffe21b,#00e11e,#ffe021,#00e01e,#ffe31a,#00e51c,#ffe31d,#00e01c,#ffe31b,#00e61c,#ffe31d,#00e01c,#ffe11b,#00e31f,#ffe122,#00de21,#ffdb20,#00d725,#ffd72a,#00d62e,#ffd133,#0c3,#ffca33,#00c82f 288Q,#ffcf2c,#00d626,#ffd721,#00d92a,#ffd732,#00d42c,#ffd125,#00cf25,#ffcf25 389Q"></i><i style="--g:#00de21 -4Q,#ffe021,#00e11d,#ffe31a,#00e51c,#ffe21d,#00df1d,#ffe31d,#00e61b,#ffe31a,#00e01c,#ffe21f,#00e41d,#ffe11b,#00de1e,#ffe021,#00e122,#ffdc23,#00d724,#ffd626,#00d52c,#ffd232,#00cf33,#ffcb34,#00c832,#ffcb30,#00cf2b 288Q,#ffd627,#00de26,#ffd926,#00d42d,#ffd935,#00de32,#ffda2f,#00d72f,#ffd72f 389Q"></i><i style="--g:#00e31f -4Q,#ffe11f,#00e01e,#ffe31c,#00e61b,#ffe41a,#00e11d,#ffe21f,#00e31c,#ffe319,#00e21d,#ffe121,#00df1f,#ffdf1d,#00de22,#ffdc27,#00da26,#ffd625,#00d22a,#ffd22f,#00d232,#ffcd35,#00c933 243Q,#ffca32,#00ca2f,#ffd12c,#00d929,#ffdc25,#00df29,#ffd72e,#00cf2d,#ffd52c,#00dc2f,#ffdc32,#00db32,#ffdb32 389Q"></i><i style="--g:#00e61c -4Q,#ffe31c,#00e01d,#ffe21f,#00e41c,#ffe419,#00e41c,#ffe120,#00de1e,#ffe11d,#00e31f,#ffde22,#00d922,#ffdb23,#00dc26,#ffd72a,#00d22a,#ffd12b,#00d030,#ffce36,#00cc34,#ffca33 232Q,#00c831,#ffcd2f,#00d32c,#ffd929,#00e027,#ffdc25,#00d82b,#ffd331,#00ce2a,#ffd022,#00d227,#ffd52c,#00d72c,#ffd72c 389Q"></i><i style="--g:#00e619 -4Q,#ffe419,#00e21d,#ffe120,#00e01e,#ffe21c,#00e41e,#ffe01f,#00db21,#ffdd23,#00df23,#ffda22,#00d627,#ffd62b,#00d72b,#ffd22b,#00cc2f,#ffce32,#00cf34,#ffcc36,#00c933,#ffcb30 232Q,#00ce2e,#ffd52c,#00dc29,#ffdd25,#00de26,#ffd527,#00cd2b,#ffd12f,#00d428,#ffd021,#00cb23,#ffce24,#00d024,#ffd024 389Q"></i><i style="--g:#00e31a -4Q,#ffe31a,#00e31d,#ffe020,#00dc21,#ffde22,#00e020,#ffdd1f,#00da24,#ffd929,#00d727,#ffd626,#00d52b,#ffd231,#00cf2f,#ffcd2e,#00cb33,#ffcc38 187Q,#00cc35,#ffcb32,#00ca30,#ffd02d,#00d72b,#ffdb29,#00df26,#ffda22,#00d627,#ffd02b,#00ca2a,#ffd229,#00da2a,#ffd52b,#00d028,#ffcf24,#00ce24,#ffce24 389Q"></i><i style="--g:#00de1e -4Q,#ffe01e,#00e21e,#ffdf1f,#00db23,#ffda27,#00da25,#ffda23,#00d927,#ffd52c,#00d02c,#ffd12c,#00d32f,#ffce32,#00c933,#ffcb33,#00cd35,#ffcc37 187Q,#00cb32,#ffce2d,#00d12c,#ffd72b,#00dd27,#ffdc24,#00db24,#ffd524,#00cf2a,#ffd030,#00d12b,#ffd626,#00db2d,#ffda34,#00da30,#ffd72c,#00d52c,#ffd52c 389Q"></i><i style="--g:#00da24 -3Q,#ffdc24,#00de22,#ffdc21,#00da25,#ffd72a,#00d32a,#ffd52a,#00d62b,#ffd12d,#00cc30,#ffcd34,#00cf33,#ffcb32,#00c834,#ffcb36,#00cf34,#ffce31,#00cd2d,#ffd32a,#00da28,#ffdc27,#00de24 243Q,#ffd921,#00d526,#ffd12b,#00cd2e,#ffd432,#00da2c,#ffd827,#00d52c,#ffd932,#00dd32,#ffdc31,#00da31,#ffda31 389Q"></i><i style="--g:#00d829 -3Q,#ffd829,#00d727,#ffd826,#00d928,#ffd42b,#00cf2e,#ffd031,#00d030,#ffce2e,#0c3,#ffcb38,#00ca34,#ffcb31,#00cc34,#ffcd36,#00cf30,#ffd22a,#00d429,#ffd928,#00df25,#ffdc23,#00d923 243Q,#ffd524,#00d12b,#ffd133,#00d130,#ffd72d,#00de2b,#ffd62a,#00ce29,#ffd227,#00d62b,#ffd72e,#00d92e,#ffd92e 389Q"></i><i style="--g:#00d72c -3Q,#ffd42c,#00d12c,#ffd32d,#00d42c,#ffd12c,#00ce31,#ffcc36,#00ca33,#ffcc31,#00cd34,#ffca36,#00c834,#ffcd31,#00d131,#ffd130,#00d12b,#ffd625,#00dc26,#ffdd26,#00dd23,#ffd921,#00d527 243Q,#ffd22c,#00d030,#ffd334,#00d62d,#ffd725,#00d829,#ffd32d,#00ce27,#ffce21,#00ce24,#ffd027,#00d227,#ffd227 389Q"></i><i style="--g:#00d62d -3Q,#ffd22d,#00cd30,#ffce33,#00ce31,#ffce2f,#00ce32,#ffca36,#00c735,#ffcb35,#00ce33,#ffcc32,#00cb31,#ffd031,#00d62c,#ffd628,#00d526,#ffdb25,#00e024 198Q,#ffdc23,#00d824,#ffd525,#00d22d,#ffd134,#00d131,#ffd52e,#00d928,#ffd422,#00d028,#ffd22e,#00d52a,#ffd126,#00ce25,#ffce24,#00cf24,#ffcf24 389Q"></i><i style="--g:#00d42e -3Q,#ffd02e,#00cc32,#ffcb36,#00c935,#ffcb33,#00ce33,#ffcb33,#00c835,#ffcb36,#00cf31,#ffd02c,#00d22d,#ffd42e,#00d728,#ffd922,#00dc24,#ffdd25,#00de24 198Q,#ffd922,#00d328,#ffd22e,#00d131,#ffd234,#00d32d,#ffd524,#00d825,#ffd226,#00cd29,#ffd42c,#00dc2e,#ffd930,#00d62d,#ffd42a,#00d32a,#ffd32a 389Q"></i><i style="--g:#00cf2f -3Q,#ffce2f,#00cd33,#ffca36,#00c736,#ffca36,#00cd33,#ffcd30,#00ce31,#ffce33,#00cf2e,#ffd429,#00d928,#ffd928,#00d824,#ffdc21 164Q,#00e023,#ffdb25,#00d726,#ffd426,#00d12e,#ffd134,#00d031 243Q,#ffd32d,#00d527,#ffd520,#00d628,#ffd42f,#00d22c,#ffd629,#00da2e,#ffdb34,#00dc32,#ffdb30,#00d930,#ffd930 389Q"></i><i style="--g:#00ca32 -4Q,#ffcc32,#00ce32,#ffcb33,#00c935,#ffcb37,#00cc32,#ffd02d,#00d42d,#ffd32d,#00d22a,#ffd828,#00de25,#ffdc21,#00da23,#ffdc24,#00de25,#ffd825,#00d12a,#ffd12e,#00d131,#ffd134,#00d12c,#ffd525,#00d825,#ffd625,#00d42d,#ffd634,#00d92e,#ffd527,#00d22a,#ffd52c,#00d92e,#ffd92f,#00d92f,#ffd92f 389Q"></i><i style="--g:#00c735 -4Q,#ffcb35,#00ce32,#ffce2f,#00ce31,#ffce33,#00cd2f,#ffd32c,#00d929,#ffd825,#00d826,#ffda27,#00dd23,#ffdd1f,#00dc23,#ffda28,#00d728,#ffd328,#00cf2e,#ffd034,#00d131,#ffd22d,#00d427,#ffd722,#00da28,#ffd62e,#00d22f,#ffd62f,#00db2c,#ffd328,#00cc26,#ffce23,#00d026,#ffd229,#00d329,#ffd329 389Q"></i><i style="--g:#00c836 -4Q,#ffcb36,#00ce31,#ffd12d,#00d42c,#ffd32c,#00d22b,#ffd62b,#00da26,#ffdc20,#00de23,#ffdc25,#00da23,#ffdb22,#00dc26,#ffd62b,#00cf2c,#ffcf2e,#00d031 198Q,#ffd034,#00d12d,#ffd525,#00d825,#ffd826,#00d82c,#ffd533,#00d12c,#ffd425,#00d629,#ffd32c,#00d027,#ffcf23,#00cd24,#ffce24,#00cf24,#ffcf24 389Q"></i><i style="--g:#00cc34 -4Q,#ffcd34,#00ce30,#ffd32b,#00d828,#ffd825,#00d827,#ffd928,#00d924,#ffdd21,#00e022,#ffdc23,#00d726,#ffd729,#00d82a,#ffd22c,#00cb2f,#ffcf33,#00d230 198Q,#ffd32d,#00d428,#ffd822,#00dc27,#ffd72c,#00d22e,#ffd330,#00d329,#ffd221,#00d128,#ffd52e,#00d92d,#ffd62c,#00d32a,#ffd228,#00d228,#ffd228 389Q"></i><i style="--g:#00d32e -4Q,#ffd22e,#00d12c,#ffd52b,#00da26,#ffdc21,#00de22,#ffdc24,#00d924,#ffdb24,#00de23,#ffda22,#00d629,#ffd32f,#00d02e,#ffcf2d,#00cd31,#ffd034,#00d42c 198Q,#ffd625,#00d825,#ffd926,#00da2b,#ffd430,#00cd2c,#ffd228,#00d727,#ffd327,#00d02a,#ffd62d,#00dd30,#ffdc33,#00db31,#ffd92f,#00d82f,#ffd82f 389Q"></i><i style="--g:#00d927 -4Q,#ffd727,#00d628,#ffd829,#00d925,#ffdd21,#00e121,#ffdd20,#00da24,#ffd928,#00d727,#ffd626,#00d52c,#ffd032 142Q,#00cb31,#ffce30,#00d22f,#ffd42e,#00d528,#ffd821,#00dc26,#ffd72b,#00d32d,#ffd12f,#00cf29,#ffd424,#00d92a,#ffd730,#00d42d,#ffd529,#00d72c,#ffd930,#00db30,#ffda30,#00da30,#ffda30 389Q"></i><i style="--g:#00dc21 -4Q,#ffdc21,#00dc23,#ffda25,#00d925,#ffdb24,#00de22,#ffdc20,#00db26,#ffd52b,#00d02c,#ffd12d,#00d22f,#ffce31,#00ca31 153Q,#ffd130,#00d72b,#ffd726,#00d725,#ffd925,#00db2a,#ffd42f,#00cc2d,#ffd12b,#00d628,#ffd726,#00d72d,#ffd833,#00d82d,#ffd326,#00ce26,#ffd127,#00d329,#ffd42b,#00d52b,#ffd52b 389Q"></i><i style="--g:#00dd1f -4Q,#ffde1f,#00e020,#fd2,#00da25,#ffd928,#00d826,#ffd925,#00d928,#ffd32c,#00cd30,#ffce34,#00cf31,#ffd02d 142Q,#00d02e,#ffd42e,#00d928,#ffd921,#00da26,#ffd72b,#00d52d,#ffd02f,#00cc2b,#ffd428,#00dc2a,#ffd72c,#00d22c,#ffd52d,#00d82b,#ffd228,#00cd25,#ffcd22,#00cd24,#ffcf25,#00d025,#ffd025 389Q"></i><i style="--g:#00db21 -4Q,#ffdd21,#00e020,#ffde20,#00db25,#ffd72a,#00d22b,#ffd32c,#00d42c,#ffd12d,#00cd31,#ffcd35,#00cd30,#ffd22a,#00d82a,#ffd829,#00d825,#ffd922,#00da29,#ffd42f,#00cd2e,#ffd02c,#00d42a,#ffd828,#00dc2b,#ffd52f,#00cf2a,#ffd224,#00d529,#ffd52d,#00d52a,#ffd328,#00d127,#ffd127,#00d127,#ffd127 389Q"></i><i style="--g:#00d825 -4Q,#ffda25,#00dc24,#ffdb22,#00da26,#ffd52a,#00cf2e,#ffcf33,#00ce30,#ffcf2e,#00d030,#ffd031,#00cf2d,#ffd629 142Q,#00dd26,#ffda23,#00d726,#ffd729,#00d62c,#ffd130,#00cc2d,#ffd32a,#00dc29,#ffd829,#00d42b,#ffd32e,#00d128,#ffd122,#00d229,#ffd72f,#00dc30,#ffda31,#00d82f,#ffd72d,#00d62d,#ffd62d 389Q"></i><i style="--g:#00d72a -3Q,#ffd72a,#00d629,#ffd628,#00d729,#ffd32b,#00ce30,#ffcc35,#00ca32,#ffcf30,#00d42d,#ffd42a,#00d429,#ffd829,#00dc25,#ffd921,#00d729,#ffd330,#00d02e,#ffd02d,#00d12b,#ffd729,#00dd2a 243Q,#ffd52a,#00cd2a,#ffd22a,#00d72a,#ffd529,#00d22b,#ffd62c,#00db2f,#ffdb32,#00db31,#ffda30,#00da30,#ffda30 389Q"></i><i style="--g:#00d72c -3Q,#ffd42c,#00d02e,#ffd12f,#00d22e,#ffd12d,#00d030,#ffce33,#00cb31,#ffd130,#00d72a,#ffd924,#00db26,#ffd928,#00d827 153Q,#ffd726,#00d52c,#ffd132,#00cc2e,#ffd32a,#00d929,#ffd828,#00d72a,#ffd22c,#00cd29,#ffd427,#00db2c,#ffd831,#00d52c,#ffd327,#00d229,#ffd42a,#00d62b,#ffd62c,#00d62c,#ffd62c 389Q"></i><i style="--g:#00d72d -3Q,#ffd22d,#00cd31,#ffcc34,#00cc32,#ffcf2f,#00d22e,#ffd12d,#00d02d,#ffd42e,#00d728,#ffdb22,#00df24,#ffd826 142Q,#00d32a,#ffd32e,#00d32e,#ffd12f,#00cf2c,#ffd628,#00de28,#ffd628,#00cf2a,#ffd22d,#00d52a,#ffd628,#00d82d,#ffd732,#00d72c,#ffd126,#00cc24,#ffce23,#00cf25,#ffd026,#00d126,#ffd126 389Q"></i><i style="--g:#00d52d -3Q,#ffd12d,#00cd31,#ffcb35,#00ca33,#ffcf31,#00d42c,#ffd627,#00d828,#ffd729,#00d727 108Q,#ffda25,#00dd26,#ffd626,#00d02d,#ffd034,#00d02e,#ffd329,#00d629 198Q,#ffd828,#00da29,#ffd329,#00cc2b,#ffd42d,#00dc2c,#ffd62b,#00d12a,#ffd32a,#00d62a,#ffd32a,#00d027,#ffd025,#00cf25,#ffd026,#00d026,#ffd026 389Q"></i><i style="--g:#00d22d -4Q,#ffd12d,#00d030,#ffce32,#00cc31,#ffd031,#00d52a,#ffd924,#00de24,#ffdb23,#00d727,#ffd72a,#00d62a,#ffd32a,#00d12e,#ffd033,#00cf2d,#ffd626,#00dd27,#ffd729,#00d22a,#ffd12c,#00d12b,#ffd62b,#00dc2c,#ffd52c,#00cd28,#ffd123,#00d429,#ffd72f,#00d92e,#ffd82e,#00d62c,#ffd52b,#00d52b,#ffd52b 389Q"></i><i style="--g:#00cf2d -4Q,#ffd12d,#00d32d,#ffd22c,#00d22d,#ffd32d,#00d529,#ffda25,#00de23,#ffdb21,#00d827,#ffd32e,#00ce2e,#ffd12f,#00d32e,#ffd32d,#00d32a,#ffd826,#00dd28,#ffd529,#00cc2c,#ffd32e,#00d92b,#ffd728,#00d42a,#ffd32c,#00d128,#ffd225,#00d32a,#ffd82f,#00dc31,#ffdc33,#00db31,#ffda30,#00d930,#ffd930 389Q"></i><i style="--g:#00cd2e -4Q,#ffd12e,#00d62a,#ffd726,#00d927,#ffd828,#00d627,#ffd827,#00da26,#ffd924,#00d729,#ffd12f,#00cb30,#ffd032,#00d52c,#ffd625,#00d827,#ffd729,#00d72a,#ffd22b,#00ce2c,#ffd52e,#00dc2a,#ffd527,#00cd29,#ffd32b,#00d92c,#ffd62c,#00d32b,#ffd52a,#00d62c,#ffd72d,#00d82e,#ffd82e,#00d82e,#ffd82e 389Q"></i><i style="--g:#00cd2d -4Q,#ffd22d,#00d728,#ffdb23,#00de23,#ffdb22,#00d926,#ffd62a,#00d42a,#ffd42b,#00d42c,#ffd12e,#00cd2f,#ffd231,#00d629,#ffd922,#00dc27,#ffd52c,#00cf2c,#ffd22d,#00d52b,#ffd72a,#00d829,#ffd329,#00cd29,#ffd52a,#00dc2e,#ffd832,#00d52c,#ffd125,#00ce25,#ffcf25,#00d026,#ffd128,#00d228,#ffd228 389Q"></i><i style="--g:#00d02c -4Q,#ffd42c,#00d728,#ffdb23,#00df22,#ffdd21,#00da26,#ffd42b,#00ce2f,#ffcf32 97Q,#00d02f,#ffd22b,#00d42b,#ffd52b,#00d628,#ffd825,#00db29,#ffd32d,#00cb2d,#ffd32e,#00db2a,#ffd626,#00d129,#ffd32d,#00d52b,#ffd629,#00d72c,#ffd62f,#00d62b,#ffd227,#00ce25,#ffce23,#00ce24,#ffcf25,#00d025,#ffd025 389Q"></i><i style="--g:#00d62a -4Q,#ffd62a,#00d628,#ffd926,#00db25,#ffda23,#00d928,#ffd32c,#00cd30,#ffcd35 97Q,#00ce2f,#ffd42a,#00db27,#ffd925,#00d628,#ffd52b,#00d42c,#ffd22c,#00d02c,#ffd52c,#00db29,#ffd425,#00cd2a,#ffd52f,#00dc2c,#ffd52a,#00cf28,#ffd227,#00d52a,#ffd62d,#00d62c,#ffd52b,#00d42a,#ffd429,#00d329,#ffd329 389Q"></i><i style="--g:#00dc26 -4Q,#ffd926,#00d628,#ffd52a,#00d52a,#ffd52a,#00d52b,#ffd22c,#00cf2f,#ffcf32,#00cf2e 108Q,#ffd629,#00dd25,#ffda21,#00d729,#ffd230,#00ce2e,#ffd32b,#00d82a,#ffd729,#00d529,#ffd32a,#00d12b 243Q,#ffd62d,#00db2c,#ffd42a,#00cd27,#ffd124,#00d42a,#ffd830,#00dc31,#ffdb32,#00da30,#ffd92f,#00d82f,#ffd82f 389Q"></i><i style="--g:#00df23 -4Q,#ffdb23,#00d728,#ffd32d,#00cf2f,#ffd031,#00d02e,#ffd22c,#00d42c,#ffd42b,#00d42a,#ffd729,#00d927,#ffd824,#00d62b,#ffd131,#00cc2e,#ffd42a,#00dd28,#ffd626,#00cf2b,#ffd32f,#00d72c,#ffd528,#00d32a,#ffd32b,#00d42a,#ffd428,#00d42b,#ffd72d,#00d92f,#ffd930,#00d92f,#ffd92f,#00d82f,#ffd82f 389Q"></i><i style="--g:#00de23 -4Q,#ffdb23,#00d729,#ffd12e,#00cc31 41Q,#ffcc35,#00cd30,#ffd32c,#00d928,#ffd924,#00da27,#ffd629,#00d32a,#ffd42c,#00d42c,#ffd22d,#00d12b,#ffd62a,#00db28,#ffd527,#00ce2c,#ffd431,#00db2b,#ffd425,#00cd28,#ffd42c,#00db2d,#ffd82f,#00d42b,#ffd227,#00d127,#ffd227,#00d328,#ffd329,#00d329,#ffd329 389Q"></i><i style="--g:#00da26 -4Q,#ffd826,#00d62a,#ffd22d,#00cd31,#ffcd34 52Q,#00cd30,#ffd42c,#00da26,#ffdb21,#00dd25,#ffd629,#00cf2d,#ffd032,#00d12d,#ffd527,#00d928,#ffd629,#00d42a,#ffd32b,#00d32c,#ffd52c,#00d82a,#ffd328,#00cf29,#ffd52b,#00db2e,#ffd831,#00d52b,#ffd025,#00cc24,#ffcd23,#00ce24,#ffcf25,#00d025,#ffd025 389Q"></i><i style="--g:#00d32c -4Q,#ffd32c,#00d42c,#ffd32c,#00d22d,#ffd12e,#00d12d,#ffd52b,#00d827,#ffda23,#00db26,#ffd529,#00ce2e,#ffd034,#00d12c 153Q,#ffd725,#00dd27,#ffd529,#00cd2c,#ffd32f,#00d92b,#ffd526,#00d22a,#ffd42d,#00d62b,#ffd52a,#00d42b,#ffd42b,#00d52a,#ffd429,#00d229,#ffd228,#00d228,#ffd228,#00d228,#ffd228 389Q"></i><i style="--g:#00cd31 -4Q,#ffcf31,#00d22d,#ffd42a,#00d729,#ffd727,#00d728,#ffd629,#00d52a,#ffd52a,#00d52a,#ffd42b,#00d22d,#ffd22f,#00d32b,#ffd727,#00db28,#ffd429,#00cd2d,#ffd430,#00da2a,#ffd524,#00cf2a,#ffd530,#00dc2d,#ffd429,#00cd27,#ffd125,#00d52a,#ffd82f,#00db30,#ffda30,#00d92f,#ffd82e,#00d72e,#ffd72e 389Q"></i><i style="--g:#00ca33 -4Q,#ffcd33,#00d02e,#ffd629,#00db25,#ffdc21,#00dc24,#ffd727,#00d22c,#ffd131,#00cf2e,#ffd32c,#00d72a,#ffd727,#00d629,#ffd52b,#00d42b,#ffd32b,#00d32b,#ffd52b,#00d72a,#ffd428,#00d22b,#ffd52e,#00d92c,#ffd42a,#00ce28,#ffd125,#00d52a,#ffd82f,#00dc31,#ffdb32,#00da31,#ffda2f,#00d92f,#ffd92f 389Q"></i><i style="--g:#00cb32 -4Q,#ffce32,#00d12e,#ffd629,#00db25,#ffdc21,#00de24,#ffd726,#00d12d,#ffce33 97Q,#00cc30,#ffd32d,#00da27,#ffda21,#00d928,#ffd32e,#00cd2d,#ffd32c,#00da29,#ffd626,#00d12a,#ffd42f,#00d72b,#ffd428,#00d229,#ffd42b,#00d72b,#ffd52b,#00d42b,#ffd42a,#00d42a,#ffd42a,#00d52b,#ffd52b,#00d52b,#ffd52b 389Q"></i><i style="--g:#00d02e -4Q,#ffd12e,#00d32c,#ffd62a,#00d827,#ffd925,#00da26,#ffd628,#00d22d,#ffd031,#00ce2f,#ffd32d,#00d928,#ffd922,#00d929,#ffd22f,#00cc2e,#ffd42d,#00dc28,#ffd624,#00cf2b,#ffd432,#00da2b,#ffd324,#00cd28,#ffd52c,#00dc2e,#ffd830,#00d42b,#ffd025,#00cd24,#ffce23,#00cf25,#ffcf26,#00d026,#ffd026 389Q"></i><i style="--g:#00d728 -4Q,#ffd728,#00d629,#ffd52a,#00d42b,#ffd42c,#00d42b,#ffd42b,#00d42b,#ffd42b,#00d42b,#ffd52b,#00d52a,#ffd529,#00d52a,#ffd42c,#00d22b,#ffd52b,#00d72a,#ffd528,#00d22b,#ffd52e,#00d72b,#ffd427,#00d029,#ffd52b,#00d92d,#ffd72e,#00d42b,#ffd227,#00cf26,#ffcf25,#00d026,#ffd027,#00d127,#ffd127 389Q"></i><i style="--g:#00dd23 -4Q,#ffdb23,#00d927,#ffd42b,#00d02e,#ffcf32,#00ce30,#ffd22e,#00d729,#ffd924,#00db26,#ffd628,#00d12c,#ffd131,#00d12c,#ffd628,#00da28,#ffd529,#00d02b,#ffd42e,#00d72a,#ffd527,#00d22a,#ffd52e,#00d82c,#ffd42a,#00d129,#ffd328,#00d52a,#ffd62d,#00d82d,#ffd72d,#00d72d,#ffd72c,#00d62c,#ffd62c 389Q"></i><i style="--g:#00df21 -4Q,#ffdd21,#00da26,#ffd42b,#00ce30,#ffcd34,#00cb32,#ffd12f,#00d828,#ffdb22,#00de24,#ffd727,#00d02d,#ffd034,#00cf2d 153Q,#ffd626,#00de27,#ffd528,#00cd2c,#ffd331,#00da2a,#ffd523,#00cf2a,#ffd531,#00dc2d,#ffd429,#00cc27,#ffd124,#00d52a,#ffd930,#00dd31,#ffdc32,#00db31,#ffda30,#00d930,#ffd930 389Q"></i><i style="--g:#00dd23 -4Q,#ffdb23,#00d927,#ffd42b,#00d02e,#ffcf32,#00ce30,#ffd22e,#00d729,#ffd924,#00db26,#ffd628,#00d12c,#ffd131,#00d12c,#ffd628,#00da28,#ffd529,#00d02b,#ffd42e,#00d72a,#ffd527,#00d22a,#ffd52e,#00d82c,#ffd42a,#00d129,#ffd328,#00d52a,#ffd62d,#00d82d,#ffd72d,#00d72d,#ffd72c,#00d62c,#ffd62c 389Q"></i><i style="--g:#00d728 -4Q,#ffd728,#00d629,#ffd52a,#00d42b,#ffd42c,#00d42b,#ffd42b,#00d42b,#ffd42b,#00d42b,#ffd52b,#00d52a,#ffd529,#00d52a,#ffd42c,#00d22b,#ffd52b,#00d72a,#ffd528,#00d22b,#ffd52e,#00d72b,#ffd427,#00d029,#ffd52b,#00d92d,#ffd72e,#00d42b,#ffd227,#00cf26,#ffcf25,#00d026,#ffd027,#00d127,#ffd127 389Q"></i><i style="--g:#00d02e -4Q,#ffd12e,#00d32c,#ffd62a,#00d827,#ffd925,#00da26,#ffd628,#00d22d,#ffd031,#00ce2f,#ffd32d,#00d928,#ffd922,#00d929,#ffd22f,#00cc2e,#ffd42d,#00dc28,#ffd624,#00cf2b,#ffd432,#00da2b,#ffd324,#00cd28,#ffd52c,#00dc2e,#ffd830,#00d42b,#ffd025,#00cd24,#ffce23,#00cf25,#ffcf26,#00d026,#ffd026 389Q"></i><i style="--g:#00cb32 -4Q,#ffce32,#00d12e,#ffd629,#00db25,#ffdc21,#00de24,#ffd726,#00d12d,#ffce33 97Q,#00cc30,#ffd32d,#00da27,#ffda21,#00d928,#ffd32e,#00cd2d,#ffd32c,#00da29,#ffd626,#00d12a,#ffd42f,#00d72b,#ffd428,#00d229,#ffd42b,#00d72b,#ffd52b,#00d42b,#ffd42a,#00d42a,#ffd42a,#00d52b,#ffd52b,#00d52b,#ffd52b 389Q"></i><i style="--g:#00ca33 -4Q,#ffcd33,#00d02e,#ffd629,#00db25,#ffdc21,#00dc24,#ffd727,#00d22c,#ffd131,#00cf2e,#ffd32c,#00d72a,#ffd727,#00d629,#ffd52b,#00d42b,#ffd32b,#00d32b,#ffd52b,#00d72a,#ffd428,#00d22b,#ffd52e,#00d92c,#ffd42a,#00ce28,#ffd125,#00d52a,#ffd82f,#00dc31,#ffdb32,#00da31,#ffda2f,#00d92f,#ffd92f 389Q"></i><i style="--g:#00cd31 -4Q,#ffcf31,#00d22d,#ffd42a,#00d729,#ffd727,#00d728,#ffd629,#00d52a,#ffd52a,#00d52a,#ffd42b,#00d22d,#ffd22f,#00d32b,#ffd727,#00db28,#ffd429,#00cd2d,#ffd430,#00da2a,#ffd524,#00cf2a,#ffd530,#00dc2d,#ffd429,#00cd27,#ffd125,#00d52a,#ffd82f,#00db30,#ffda30,#00d92f,#ffd82e,#00d72e,#ffd72e 389Q"></i><i style="--g:#00d32c -4Q,#ffd32c,#00d42c,#ffd32c,#00d22d,#ffd12e,#00d12d,#ffd52b,#00d827,#ffda23,#00db26,#ffd529,#00ce2e,#ffd034,#00d12c 153Q,#ffd725,#00dd27,#ffd529,#00cd2c,#ffd32f,#00d92b,#ffd526,#00d22a,#ffd42d,#00d62b,#ffd52a,#00d42b,#ffd42b,#00d52a,#ffd429,#00d229,#ffd228,#00d228,#ffd228,#00d228,#ffd228 389Q"></i><i style="--g:#00da26 -4Q,#ffd826,#00d62a,#ffd22d,#00cd31,#ffcd34 52Q,#00cd30,#ffd42c,#00da26,#ffdb21,#00dd25,#ffd629,#00cf2d,#ffd032,#00d12d,#ffd527,#00d928,#ffd629,#00d42a,#ffd32b,#00d32c,#ffd52c,#00d82a,#ffd328,#00cf29,#ffd52b,#00db2e,#ffd831,#00d52b,#ffd025,#00cc24,#ffcd23,#00ce24,#ffcf25,#00d025,#ffd025 389Q"></i><i style="--g:#00de23 -4Q,#ffdb23,#00d729,#ffd12e,#00cc31 41Q,#ffcc35,#00cd30,#ffd32c,#00d928,#ffd924,#00da27,#ffd629,#00d32a,#ffd42c,#00d42c,#ffd22d,#00d12b,#ffd62a,#00db28,#ffd527,#00ce2c,#ffd431,#00db2b,#ffd425,#00cd28,#ffd42c,#00db2d,#ffd82f,#00d42b,#ffd227,#00d127,#ffd227,#00d328,#ffd329,#00d329,#ffd329 389Q"></i><i style="--g:#00df23 -4Q,#ffdb23,#00d728,#ffd32d,#00cf2f,#ffd031,#00d02e,#ffd22c,#00d42c,#ffd42b,#00d42a,#ffd729,#00d927,#ffd824,#00d62b,#ffd131,#00cc2e,#ffd42a,#00dd28,#ffd626,#00cf2b,#ffd32f,#00d72c,#ffd528,#00d32a,#ffd32b,#00d42a,#ffd428,#00d42b,#ffd72d,#00d92f,#ffd930,#00d92f,#ffd92f,#00d82f,#ffd82f 389Q"></i><i style="--g:#00dc26 -4Q,#ffd926,#00d628,#ffd52a,#00d52a,#ffd52a,#00d52b,#ffd22c,#00cf2f,#ffcf32,#00cf2e 108Q,#ffd629,#00dd25,#ffda21,#00d729,#ffd230,#00ce2e,#ffd32b,#00d82a,#ffd729,#00d529,#ffd32a,#00d12b 243Q,#ffd62d,#00db2c,#ffd42a,#00cd27,#ffd124,#00d42a,#ffd830,#00dc31,#ffdb32,#00da30,#ffd92f,#00d82f,#ffd82f 389Q"></i><i style="--g:#00d62a -4Q,#ffd62a,#00d628,#ffd926,#00db25,#ffda23,#00d928,#ffd32c,#00cd30,#ffcd35 97Q,#00ce2f,#ffd42a,#00db27,#ffd925,#00d628,#ffd52b,#00d42c,#ffd22c,#00d02c,#ffd52c,#00db29,#ffd425,#00cd2a,#ffd52f,#00dc2c,#ffd52a,#00cf28,#ffd227,#00d52a,#ffd62d,#00d62c,#ffd52b,#00d42a,#ffd429,#00d329,#ffd329 389Q"></i><i style="--g:#00d02c -4Q,#ffd42c,#00d728,#ffdb23,#00df22,#ffdd21,#00da26,#ffd42b,#00ce2f,#ffcf32 97Q,#00d02f,#ffd22b,#00d42b,#ffd52b,#00d628,#ffd825,#00db29,#ffd32d,#00cb2d,#ffd32e,#00db2a,#ffd626,#00d129,#ffd32d,#00d52b,#ffd629,#00d72c,#ffd62f,#00d62b,#ffd227,#00ce25,#ffce23,#00ce24,#ffcf25,#00d025,#ffd025 389Q"></i><i style="--g:#00cd2d -4Q,#ffd22d,#00d728,#ffdb23,#00de23,#ffdb22,#00d926,#ffd62a,#00d42a,#ffd42b,#00d42c,#ffd12e,#00cd2f,#ffd231,#00d629,#ffd922,#00dc27,#ffd52c,#00cf2c,#ffd22d,#00d52b,#ffd72a,#00d829,#ffd329,#00cd29,#ffd52a,#00dc2e,#ffd832,#00d52c,#ffd125,#00ce25,#ffcf25,#00d026,#ffd128,#00d228,#ffd228 389Q"></i><i style="--g:#00cd2e -4Q,#ffd12e,#00d62a,#ffd726,#00d927,#ffd828,#00d627,#ffd827,#00da26,#ffd924,#00d729,#ffd12f,#00cb30,#ffd032,#00d52c,#ffd625,#00d827,#ffd729,#00d72a,#ffd22b,#00ce2c,#ffd52e,#00dc2a,#ffd527,#00cd29,#ffd32b,#00d92c,#ffd62c,#00d32b,#ffd52a,#00d62c,#ffd72d,#00d82e,#ffd82e,#00d82e,#ffd82e 389Q"></i><i style="--g:#00cf2d -4Q,#ffd12d,#00d32d,#ffd22c,#00d22d,#ffd32d,#00d529,#ffda25,#00de23,#ffdb21,#00d827,#ffd32e,#00ce2e,#ffd12f,#00d32e,#ffd32d,#00d32a,#ffd826,#00dd28,#ffd529,#00cc2c,#ffd32e,#00d92b,#ffd728,#00d42a,#ffd32c,#00d128,#ffd225,#00d32a,#ffd82f,#00dc31,#ffdc33,#00db31,#ffda30,#00d930,#ffd930 389Q"></i><i style="--g:#00d22d -4Q,#ffd12d,#00d030,#ffce32,#00cc31,#ffd031,#00d52a,#ffd924,#00de24,#ffdb23,#00d727,#ffd72a,#00d62a,#ffd32a,#00d12e,#ffd033,#00cf2d,#ffd626,#00dd27,#ffd729,#00d22a,#ffd12c,#00d12b,#ffd62b,#00dc2c,#ffd52c,#00cd28,#ffd123,#00d429,#ffd72f,#00d92e,#ffd82e,#00d62c,#ffd52b,#00d52b,#ffd52b 389Q"></i><i style="--g:#00d52d -3Q,#ffd12d,#00cd31,#ffcb35,#00ca33,#ffcf31,#00d42c,#ffd627,#00d828,#ffd729,#00d727 108Q,#ffda25,#00dd26,#ffd626,#00d02d,#ffd034,#00d02e,#ffd329,#00d629 198Q,#ffd828,#00da29,#ffd329,#00cc2b,#ffd42d,#00dc2c,#ffd62b,#00d12a,#ffd32a,#00d62a,#ffd32a,#00d027,#ffd025,#00cf25,#ffd026,#00d026,#ffd026 389Q"></i><i style="--g:#00d72d -3Q,#ffd22d,#00cd31,#ffcc34,#00cc32,#ffcf2f,#00d22e,#ffd12d,#00d02d,#ffd42e,#00d728,#ffdb22,#00df24,#ffd826 142Q,#00d32a,#ffd32e,#00d32e,#ffd12f,#00cf2c,#ffd628,#00de28,#ffd628,#00cf2a,#ffd22d,#00d52a,#ffd628,#00d82d,#ffd732,#00d72c,#ffd126,#00cc24,#ffce23,#00cf25,#ffd026,#00d126,#ffd126 389Q"></i><i style="--g:#00d72c -3Q,#ffd42c,#00d02e,#ffd12f,#00d22e,#ffd12d,#00d030,#ffce33,#00cb31,#ffd130,#00d72a,#ffd924,#00db26,#ffd928,#00d827 153Q,#ffd726,#00d52c,#ffd132,#00cc2e,#ffd32a,#00d929,#ffd828,#00d72a,#ffd22c,#00cd29,#ffd427,#00db2c,#ffd831,#00d52c,#ffd327,#00d229,#ffd42a,#00d62b,#ffd62c,#00d62c,#ffd62c 389Q"></i><i style="--g:#00d72a -3Q,#ffd72a,#00d629,#ffd628,#00d729,#ffd32b,#00ce30,#ffcc35,#00ca32,#ffcf30,#00d42d,#ffd42a,#00d429,#ffd829,#00dc25,#ffd921,#00d729,#ffd330,#00d02e,#ffd02d,#00d12b,#ffd729,#00dd2a 243Q,#ffd52a,#00cd2a,#ffd22a,#00d72a,#ffd529,#00d22b,#ffd62c,#00db2f,#ffdb32,#00db31,#ffda30,#00da30,#ffda30 389Q"></i><i style="--g:#00d825 -4Q,#ffda25,#00dc24,#ffdb22,#00da26,#ffd52a,#00cf2e,#ffcf33,#00ce30,#ffcf2e,#00d030,#ffd031,#00cf2d,#ffd629 142Q,#00dd26,#ffda23,#00d726,#ffd729,#00d62c,#ffd130,#00cc2d,#ffd32a,#00dc29,#ffd829,#00d42b,#ffd32e,#00d128,#ffd122,#00d229,#ffd72f,#00dc30,#ffda31,#00d82f,#ffd72d,#00d62d,#ffd62d 389Q"></i><i style="--g:#00db21 -4Q,#ffdd21,#00e020,#ffde20,#00db25,#ffd72a,#00d22b,#ffd32c,#00d42c,#ffd12d,#00cd31,#ffcd35,#00cd30,#ffd22a,#00d82a,#ffd829,#00d825,#ffd922,#00da29,#ffd42f,#00cd2e,#ffd02c,#00d42a,#ffd828,#00dc2b,#ffd52f,#00cf2a,#ffd224,#00d529,#ffd52d,#00d52a,#ffd328,#00d127,#ffd127,#00d127,#ffd127 389Q"></i><i style="--g:#00dd1f -4Q,#ffde1f,#00e020,#fd2,#00da25,#ffd928,#00d826,#ffd925,#00d928,#ffd32c,#00cd30,#ffce34,#00cf31,#ffd02d 142Q,#00d02e,#ffd42e,#00d928,#ffd921,#00da26,#ffd72b,#00d52d,#ffd02f,#00cc2b,#ffd428,#00dc2a,#ffd72c,#00d22c,#ffd52d,#00d82b,#ffd228,#00cd25,#ffcd22,#00cd24,#ffcf25,#00d025,#ffd025 389Q"></i><i style="--g:#00dc21 -4Q,#ffdc21,#00dc23,#ffda25,#00d925,#ffdb24,#00de22,#ffdc20,#00db26,#ffd52b,#00d02c,#ffd12d,#00d22f,#ffce31,#00ca31 153Q,#ffd130,#00d72b,#ffd726,#00d725,#ffd925,#00db2a,#ffd42f,#00cc2d,#ffd12b,#00d628,#ffd726,#00d72d,#ffd833,#00d82d,#ffd326,#00ce26,#ffd127,#00d329,#ffd42b,#00d52b,#ffd52b 389Q"></i><i style="--g:#00d927 -4Q,#ffd727,#00d628,#ffd829,#00d925,#ffdd21,#00e121,#ffdd20,#00da24,#ffd928,#00d727,#ffd626,#00d52c,#ffd032 142Q,#00cb31,#ffce30,#00d22f,#ffd42e,#00d528,#ffd821,#00dc26,#ffd72b,#00d32d,#ffd12f,#00cf29,#ffd424,#00d92a,#ffd730,#00d42d,#ffd529,#00d72c,#ffd930,#00db30,#ffda30,#00da30,#ffda30 389Q"></i><i style="--g:#00d32e -4Q,#ffd22e,#00d12c,#ffd52b,#00da26,#ffdc21,#00de22,#ffdc24,#00d924,#ffdb24,#00de23,#ffda22,#00d629,#ffd32f,#00d02e,#ffcf2d,#00cd31,#ffd034,#00d42c 198Q,#ffd625,#00d825,#ffd926,#00da2b,#ffd430,#00cd2c,#ffd228,#00d727,#ffd327,#00d02a,#ffd62d,#00dd30,#ffdc33,#00db31,#ffd92f,#00d82f,#ffd82f 389Q"></i><i style="--g:#00cc34 -4Q,#ffcd34,#00ce30,#ffd32b,#00d828,#ffd825,#00d827,#ffd928,#00d924,#ffdd21,#00e022,#ffdc23,#00d726,#ffd729,#00d82a,#ffd22c,#00cb2f,#ffcf33,#00d230 198Q,#ffd32d,#00d428,#ffd822,#00dc27,#ffd72c,#00d22e,#ffd330,#00d329,#ffd221,#00d128,#ffd52e,#00d92d,#ffd62c,#00d32a,#ffd228,#00d228,#ffd228 389Q"></i><i style="--g:#00c836 -4Q,#ffcb36,#00ce31,#ffd12d,#00d42c,#ffd32c,#00d22b,#ffd62b,#00da26,#ffdc20,#00de23,#ffdc25,#00da23,#ffdb22,#00dc26,#ffd62b,#00cf2c,#ffcf2e,#00d031 198Q,#ffd034,#00d12d,#ffd525,#00d825,#ffd826,#00d82c,#ffd533,#00d12c,#ffd425,#00d629,#ffd32c,#00d027,#ffcf23,#00cd24,#ffce24,#00cf24,#ffcf24 389Q"></i><i style="--g:#00c735 -4Q,#ffcb35,#00ce32,#ffce2f,#00ce31,#ffce33,#00cd2f,#ffd32c,#00d929,#ffd825,#00d826,#ffda27,#00dd23,#ffdd1f,#00dc23,#ffda28,#00d728,#ffd328,#00cf2e,#ffd034,#00d131,#ffd22d,#00d427,#ffd722,#00da28,#ffd62e,#00d22f,#ffd62f,#00db2c,#ffd328,#00cc26,#ffce23,#00d026,#ffd229,#00d329,#ffd329 389Q"></i><i style="--g:#00ca32 -4Q,#ffcc32,#00ce32,#ffcb33,#00c935,#ffcb37,#00cc32,#ffd02d,#00d42d,#ffd32d,#00d22a,#ffd828,#00de25,#ffdc21,#00da23,#ffdc24,#00de25,#ffd825,#00d12a,#ffd12e,#00d131,#ffd134,#00d12c,#ffd525,#00d825,#ffd625,#00d42d,#ffd634,#00d92e,#ffd527,#00d22a,#ffd52c,#00d92e,#ffd92f,#00d92f,#ffd92f 389Q"></i><i style="--g:#00cf2f -3Q,#ffce2f,#00cd33,#ffca36,#00c736,#ffca36,#00cd33,#ffcd30,#00ce31,#ffce33,#00cf2e,#ffd429,#00d928,#ffd928,#00d824,#ffdc21 164Q,#00e023,#ffdb25,#00d726,#ffd426,#00d12e,#ffd134,#00d031 243Q,#ffd32d,#00d527,#ffd520,#00d628,#ffd42f,#00d22c,#ffd629,#00da2e,#ffdb34,#00dc32,#ffdb30,#00d930,#ffd930 389Q"></i><i style="--g:#00d42e -3Q,#ffd02e,#00cc32,#ffcb36,#00c935,#ffcb33,#00ce33,#ffcb33,#00c835,#ffcb36,#00cf31,#ffd02c,#00d22d,#ffd42e,#00d728,#ffd922,#00dc24,#ffdd25,#00de24 198Q,#ffd922,#00d328,#ffd22e,#00d131,#ffd234,#00d32d,#ffd524,#00d825,#ffd226,#00cd29,#ffd42c,#00dc2e,#ffd930,#00d62d,#ffd42a,#00d32a,#ffd32a 389Q"></i><i style="--g:#00d62d -3Q,#ffd22d,#00cd30,#ffce33,#00ce31,#ffce2f,#00ce32,#ffca36,#00c735,#ffcb35,#00ce33,#ffcc32,#00cb31,#ffd031,#00d62c,#ffd628,#00d526,#ffdb25,#00e024 198Q,#ffdc23,#00d824,#ffd525,#00d22d,#ffd134,#00d131,#ffd52e,#00d928,#ffd422,#00d028,#ffd22e,#00d52a,#ffd126,#00ce25,#ffce24,#00cf24,#ffcf24 389Q"></i><i style="--g:#00d72c -3Q,#ffd42c,#00d12c,#ffd32d,#00d42c,#ffd12c,#00ce31,#ffcc36,#00ca33,#ffcc31,#00cd34,#ffca36,#00c834,#ffcd31,#00d131,#ffd130,#00d12b,#ffd625,#00dc26,#ffdd26,#00dd23,#ffd921,#00d527 243Q,#ffd22c,#00d030,#ffd334,#00d62d,#ffd725,#00d829,#ffd32d,#00ce27,#ffce21,#00ce24,#ffd027,#00d227,#ffd227 389Q"></i><i style="--g:#00d829 -3Q,#ffd829,#00d727,#ffd826,#00d928,#ffd42b,#00cf2e,#ffd031,#00d030,#ffce2e,#0c3,#ffcb38,#00ca34,#ffcb31,#00cc34,#ffcd36,#00cf30,#ffd22a,#00d429,#ffd928,#00df25,#ffdc23,#00d923 243Q,#ffd524,#00d12b,#ffd133,#00d130,#ffd72d,#00de2b,#ffd62a,#00ce29,#ffd227,#00d62b,#ffd72e,#00d92e,#ffd92e 389Q"></i><i style="--g:#00da24 -3Q,#ffdc24,#00de22,#ffdc21,#00da25,#ffd72a,#00d32a,#ffd52a,#00d62b,#ffd12d,#00cc30,#ffcd34,#00cf33,#ffcb32,#00c834,#ffcb36,#00cf34,#ffce31,#00cd2d,#ffd32a,#00da28,#ffdc27,#00de24 243Q,#ffd921,#00d526,#ffd12b,#00cd2e,#ffd432,#00da2c,#ffd827,#00d52c,#ffd932,#00dd32,#ffdc31,#00da31,#ffda31 389Q"></i><i style="--g:#00de1e -4Q,#ffe01e,#00e21e,#ffdf1f,#00db23,#ffda27,#00da25,#ffda23,#00d927,#ffd52c,#00d02c,#ffd12c,#00d32f,#ffce32,#00c933,#ffcb33,#00cd35,#ffcc37 187Q,#00cb32,#ffce2d,#00d12c,#ffd72b,#00dd27,#ffdc24,#00db24,#ffd524,#00cf2a,#ffd030,#00d12b,#ffd626,#00db2d,#ffda34,#00da30,#ffd72c,#00d52c,#ffd52c 389Q"></i><i style="--g:#00e31a -4Q,#ffe31a,#00e31d,#ffe020,#00dc21,#ffde22,#00e020,#ffdd1f,#00da24,#ffd929,#00d727,#ffd626,#00d52b,#ffd231,#00cf2f,#ffcd2e,#00cb33,#ffcc38 187Q,#00cc35,#ffcb32,#00ca30,#ffd02d,#00d72b,#ffdb29,#00df26,#ffda22,#00d627,#ffd02b,#00ca2a,#ffd229,#00da2a,#ffd52b,#00d028,#ffcf24,#00ce24,#ffce24 389Q"></i><i style="--g:#00e619 -4Q,#ffe419,#00e21d,#ffe120,#00e01e,#ffe21c,#00e41e,#ffe01f,#00db21,#ffdd23,#00df23,#ffda22,#00d627,#ffd62b,#00d72b,#ffd22b,#00cc2f,#ffce32,#00cf34,#ffcc36,#00c933,#ffcb30 232Q,#00ce2e,#ffd52c,#00dc29,#ffdd25,#00de26,#ffd527,#00cd2b,#ffd12f,#00d428,#ffd021,#00cb23,#ffce24,#00d024,#ffd024 389Q"></i><i style="--g:#00e61c -4Q,#ffe31c,#00e01d,#ffe21f,#00e41c,#ffe419,#00e41c,#ffe120,#00de1e,#ffe11d,#00e31f,#ffde22,#00d922,#ffdb23,#00dc26,#ffd72a,#00d22a,#ffd12b,#00d030,#ffce36,#00cc34,#ffca33 232Q,#00c831,#ffcd2f,#00d32c,#ffd929,#00e027,#ffdc25,#00d82b,#ffd331,#00ce2a,#ffd022,#00d227,#ffd52c,#00d72c,#ffd72c 389Q"></i><i style="--g:#00e31f -4Q,#ffe11f,#00e01e,#ffe31c,#00e61b,#ffe41a,#00e11d,#ffe21f,#00e31c,#ffe319,#00e21d,#ffe121,#00df1f,#ffdf1d,#00de22,#ffdc27,#00da26,#ffd625,#00d22a,#ffd22f,#00d232,#ffcd35,#00c933 243Q,#ffca32,#00ca2f,#ffd12c,#00d929,#ffdc25,#00df29,#ffd72e,#00cf2d,#ffd52c,#00dc2f,#ffdc32,#00db32,#ffdb32 389Q"></i><i style="--g:#00de21 -4Q,#ffe021,#00e11d,#ffe31a,#00e51c,#ffe21d,#00df1d,#ffe31d,#00e61b,#ffe31a,#00e01c,#ffe21f,#00e41d,#ffe11b,#00de1e,#ffe021,#00e122,#ffdc23,#00d724,#ffd626,#00d52c,#ffd232,#00cf33,#ffcb34,#00c832,#ffcb30,#00cf2b 288Q,#ffd627,#00de26,#ffd926,#00d42d,#ffd935,#00de32,#ffda2f,#00d72f,#ffd72f 389Q"></i><i style="--g:#00db21 -4Q,#ffdf21,#00e21e,#ffe21b,#00e11e,#ffe021,#00e01e,#ffe31a,#00e51c,#ffe31d,#00e01c,#ffe31b,#00e61c,#ffe31d,#00e01c,#ffe11b,#00e31f,#ffe122,#00de21,#ffdb20,#00d725,#ffd72a,#00d62e,#ffd133,#0c3,#ffca33,#00c82f 288Q,#ffcf2c,#00d626,#ffd721,#00d92a,#ffd732,#00d42c,#ffd125,#00cf25,#ffcf25 389Q"></i><i style="--g:#00db20 -4Q,#ffde20,#00e120,#ffde20,#00dc21,#ffdf22,#00e11f,#ffe11b,#00e11e,#ffe121,#00e11d,#ffe219,#00e41c,#ffe31f,#00e31c,#ffe219,#00e21c,#ffe31f,#00e41f,#ffe01e,#00db1f,#ffda21,#00d927,#ffd72d,#00d430,#ffcf34,#00ca33 288Q,#ffcc32,#00cd2b,#ffd423,#00db25,#ffd227,#00ca25,#fc2,#00ce22,#ffce22 389Q"></i><i style="--g:#00db22 -4Q,#ffdb22,#00dc24,#ffda26,#00d924,#fd2,#00e121,#ffde20,#00dc21,#ffdf22,#00e21f,#ffe11c,#00df1e,#ffe21f,#00e51d,#ffe21b,#00e01b,#ffe31b,#00e61d,#ffe31f,#00e11d,#ffde1c,#00dc20,#ffdb23,#00da29,#ffd52f,#00d133 288Q,#ffce36,#00cb32,#ffd12d,#00d826,#ffd220,#00cc25,#ffd129,#00d629,#ffd629 389Q"></i><i style="--g:#00d926 -5Q,#ffd826,#00d628,#ffd72a,#00d826,#ffda23,#00dc24,#ffdb26,#00d924,#ffdd21,#00e022,#ffde22,#00dc20,#ffe01e,#00e31f,#ffe220,#00e01d,#ffe11a,#00e31c,#ffe41f,#00e61d,#ffe21c,#00df1c,#ffde1c,#00dc21,#ffda26,#00d72c,#ffd233,#00ce35,#ffd037,#00d32d 333Q,#ffd623,#00d82b,#ffda33,#0d3,#fd3 389Q"></i><i style="--g:#00d52d -4Q,#ffd32d,#00d02c,#ffd42c,#00d729,#ffd726,#00d629,#ffd72b,#00d827,#ffd923,#00db25,#ffdb27,#00db23,#ffdc1f,#00de21,#ffdf24,#00e120,#ffe01c,#00de1d,#ffe21d 209Q,#00e51e,#ffe51f,#00e41c,#ffe11a,#00df1c,#ffdd1d,#00db23,#ffd729,#00d330,#ffd037,#00ce32,#ffd72d 344Q,#00e130,#ffdd32,#00d932,#ffd932 389Q"></i><i style="--g:#00cf33 -5Q,#ffce33,#00ce30,#ffd12d,#00d52d,#ffd22d,#00d02d,#ffd32d,#00d72a,#ffd528,#00d429,#ffd72a,#00da27,#ffd924,#00d725,#ffdb25,#00df24,#ffde23,#00dc20,#ffde1d,#00e01e,#ffe320,#00e51f,#ffe41d,#00e21b,#ffe01a,#00de1c,#ffdb1f,#00d826,#ffd22e,#00cc31,#ffd435 344Q,#00dc2e,#ffd528,#00cf28,#ffcf28 389Q"></i><i style="--g:#00c836 -5Q,#ffca36,#00cd33,#ffce2f,#00cf31,#ffcd34,#00cc31,#ffcf2e,#00d32f,#ffd12f,#00cf2d,#ffd22c,#00d62c,#ffd52c,#00d329,#ffd626,#00d928,#ffda29,#00db25,#ffda21,#00da21,#ffde20,#00e221,#ffe321,#00e41f,#ffe31c,#00e21b,#ffdf1a,#00dd1e,#ffd622,#00cf2b,#ffcf34 344Q,#00ce2a,#ffcd20,#00cb20,#ffcb20 389Q"></i><i style="--g:#00c438 -5Q,#ffc738,#00cb36,#ffc934,#00c736,#ffc939,#00ca35,#ffcb31,#0c3,#ffcc36,#00cc32,#ffce2e,#00cf30,#ffd033,#00d12e,#ffd12a,#00d12c,#ffd52d,#00d82b,#ffd729,#00d626,#ffd822,#00da23,#ffde23,#00e122,#ffe321,#00e41f,#ffe31c,#00e21c,#ffdd1c,#00d824 333Q,#ffcf2b,#00c628,#ffcd25,#00d425,#ffd425 389Q"></i><i style="--g:#00c13a -5Q,#ffc43a,#00c63b,#ffc43c,#00c13b,#ffc53b,#00c839,#ffc637,#00c439,#ffc73a,#00ca37,#ffc934,#00c735,#ffcb36,#00ce34,#ffcc32,#00ca31,#ffce2f,#00d130,#ffd231,#00d32d,#ffd32a,#00d228,#ffd626,#00d926,#ffdd25,#00e124,#ffe222,#00e41f,#ffe31d,#00e220 333Q,#ffd723,#00cd2a,#ffd532,#00de32,#ffde32 389Q"></i><i style="--g:#00c03e -5Q,#ffbf3e,#00bf40,#ffbe43,#00bd40,#ffc03d,#00c33e,#ffc13f,#00be3e,#ffc23d,#00c53d,#ffc33d,#00c13b,#ffc439,#00c73a,#ffc73b,#00c638,#ffc734,#00c836,#ffcb37,#00ce35,#ffce34,#00cd30,#ffce2c,#00cf2b,#ffd329,#00d728,#ffdb27,#00e024,#ffe322,#00e520,#ffe11f 344Q,#00dc2c,#ffdc38,#00dd38,#ffdd38 389Q"></i><i style="--g:#00bb45 -5Q,#ffb945,#00b747,#ffb849,#00ba45,#ffba42,#00bb45,#ffba47,#00ba44,#ffbb41,#00bd43,#ffbd45,#00bc42,#ffbd3f,#00be41,#ffc043,#00c140,#ffc03d,#00be3d,#ffc13c,#00c53d,#ffc63e,#00c83b,#ffc738,#00c734,#ffc931,#00cb2f,#ffd02d,#00d52a,#ffda27,#00e023,#ffe21f,#00e527 355Q,#ffda2e,#00d02e,#ffd02e 389Q"></i><i style="--g:#00b44e -4Q,#ffb14e,#00af4e,#ffb24d,#00b54c,#ffb34b,#00b14c,#ffb34e,#00b54b,#ffb449,#00b34a,#ffb54c,#00b74a,#ffb548,#00b448,#ffb749,#00ba49,#ffb849,#00b746,#ffb843,#00b844,#ffbb45,#00be45,#ffbf45,#00bf41,#ffc03e,#00c13a,#ffc436,#00c732,#ffcd2e,#00d329 332Q,#ffda24,#00e221,#ffd41e,#00c71e,#ffc71e 389Q"></i><i style="--g:#00aa57 -4Q,#ffaa57,#00a955,#ffab52,#00ad54,#ffab55,#00a954,#ffab53,#00ae53,#ffac53,#00aa53,#ffac52,#00af53,#ffad53,#00ab51,#ffad4f,#00af51,#ffaf53,#00b051,#ffaf4f,#00ad4e,#ffaf4d,#00b14e,#ffb34f,#00b54d,#ffb74c,#00b848,#ffba44,#00bc3f,#ffc13a,#00c633,#ffce2d,#00d623,#ffd319 366Q,#00d119,#ffd119 389Q"></i><i style="--g:#00a15e -4Q,#ffa25e,#00a45c,#ffa45a,#00a35c,#ffa35e,#00a35c,#ffa45a,#00a55b,#ffa45d,#00a35b,#ffa459,#00a55b,#ffa55d,#00a55b,#ffa458,#00a359,#ffa55b,#00a75b,#ffa65b,#00a559,#ffa557,#00a557,#ffa757,#00a957,#ffac57,#00af54,#ffb151,#00b44d,#ffb848,#00bb42,#ffc23b,#00c830,#ffd625 366Q,#00e325,#ffe325 390Q"></i><i style="--g:#009a62 -4Q,#ff9c62,#009e62,#ff9d62,#009b63,#ff9c64,#009e62,#ff9d61,#009c62,#ff9d64,#009e62,#ff9d61,#009c62,#ff9d63,#009f62,#ff9d62,#009c61,#ff9d60,#009e62,#ff9f63,#009f62,#ff9e61,#009d60,#ff9d5f,#009e5e,#ffa15e,#00a45d,#ffa85b,#00ac58,#ffaf54,#00b350,#ffb84b,#00bc43,#ffd03b 366Q,#00e53b,#ffe53b 390Q"></i><i style="--g:#009865 -4Q,#ff9865,#009967,#ff9868,#009667,#ff9867,#009a67,#ff9867,#009667,#ff9867,#009a67,#ff9867,#009767,#ff9866,#009967,#ff9968,#009867,#ff9865,#009766,#ff9967,#009a67,#ff9968,#009967,#ff9865,#009864,#ff9a63,#009c61,#ff9f60,#00a35e,#ffa75c,#00aa59,#ffae57,#00b153,#ffbb50,#00c550,#ffc550 389Q"></i><i style="--g:#009865 -4Q,#ff9865,#009967,#ff9868,#009667,#ff9867,#009a67,#ff9867,#009667,#ff9867,#009a67,#ff9867,#009767,#ff9866,#009967,#ff9968,#009867,#ff9865,#009766,#ff9967,#009a67,#ff9968,#009967,#ff9865,#009864,#ff9a63,#009c61,#ff9f60,#00a35e,#ffa75c,#00aa59,#ffae57,#00b153,#ffbb50,#00c550,#ffc550 389Q"></i><i style="--g:#009865 -4Q,#ff9865,#009967,#ff9868,#009667,#ff9867,#009a67,#ff9867,#009667,#ff9867,#009a67,#ff9867,#009767,#ff9866,#009967,#ff9968,#009867,#ff9865,#009766,#ff9967,#009a67,#ff9968,#009967,#ff9865,#009864,#ff9a63,#009c61,#ff9f60,#00a35e,#ffa75c,#00aa59,#ffae57,#00b153,#ffbb50,#00c550,#ffc550 389Q"></i><i style="--g:#009865 -4Q,#ff9865,#009967,#ff9868,#009667,#ff9867,#009a67,#ff9867,#009667,#ff9867,#009a67,#ff9867,#009767,#ff9866,#009967,#ff9968,#009867,#ff9865,#009766,#ff9967,#009a67,#ff9968,#009967,#ff9865,#009864,#ff9a63,#009c61,#ff9f60,#00a35e,#ffa75c,#00aa59,#ffae57,#00b153,#ffbb50,#00c550,#ffc550 389Q"></i></div></div><div class="p" style="left:710.2px;top:558.7px;width:475.5px;height:357.6px"><div class="f" style="left:-12px;width:500px;height:357.6px"><i style="--g:#009064 -7Q,#ff9c64,#00a857,#ffb54a,#00c33d 39Q,#ffcd2f,#00d62f,#ffcc2e,#00c240,#ffab52,#009559 114Q,#5e955d 122Q,#739662,#ff9767 141Q,#009972 153Q,#ff8f7b 164Q,#008869 172Q,#9d9b5c,#ffae4e 183Q,#5fc73f 191Q,#00da33 197Q,#ffcf17 211Q,#73c917,#00c217 229Q,#5bc017 242Q,#ffbe17 253Q,#b6bd35 259Q,#00bb65 268Q,#63b780,#ffb396 278Q,#00ac77 286Q,#ff9b42 300Q,#008e47,#ff9c4c 321Q,#00ab4f,#ffaf51,#00b34c,#ffbd47,#00c747,#ffc747 389Q"></i><i style="--g:#009064 -7Q,#ff9c64,#00a857,#ffb54a,#00c33d 39Q,#ffcd2f,#00d62f,#ffcc2e,#00c240,#ffab52,#009559 114Q,#5e955d 122Q,#739662,#ff9767 141Q,#009972 153Q,#ff8f7b 164Q,#008869 172Q,#9d9b5c,#ffae4e 183Q,#5fc73f 191Q,#00da33 197Q,#ffcf17 211Q,#73c917,#00c217 229Q,#5bc017 242Q,#ffbe17 253Q,#b6bd35 259Q,#00bb65 268Q,#63b780,#ffb396 278Q,#00ac77 286Q,#ff9b42 300Q,#008e47,#ff9c4c 321Q,#00ab4f,#ffaf51,#00b34c,#ffbd47,#00c747,#ffc747 389Q"></i><i style="--g:#009064 -7Q,#ff9c64,#00a857,#ffb54a,#00c33d 39Q,#ffcd2f,#00d62f,#ffcc2e,#00c240,#ffab52,#009559 114Q,#5e955d 122Q,#739662,#ff9767 141Q,#009972 153Q,#ff8f7b 164Q,#008869 172Q,#9d9b5c,#ffae4e 183Q,#5fc73f 191Q,#00da33 197Q,#ffcf17 211Q,#73c917,#00c217 229Q,#5bc017 242Q,#ffbe17 253Q,#b6bd35 259Q,#00bb65 268Q,#63b780,#ffb396 278Q,#00ac77 286Q,#ff9b42 300Q,#008e47,#ff9c4c 321Q,#00ab4f,#ffaf51,#00b34c,#ffbd47,#00c747,#ffc747 389Q"></i><i style="--g:#009064 -7Q,#ff9c64,#00a857,#ffb54a,#00c33d 39Q,#ffcd2f,#00d62f,#ffcc2e,#00c240,#ffab52,#009559 114Q,#5e955d 122Q,#739662,#ff9767 141Q,#009972 153Q,#ff8f7b 164Q,#008869 172Q,#9d9b5c,#ffae4e 183Q,#5fc73f 191Q,#00da33 197Q,#ffcf17 211Q,#73c917,#00c217 229Q,#5bc017 242Q,#ffbe17 253Q,#b6bd35 259Q,#00bb65 268Q,#63b780,#ffb396 278Q,#00ac77 286Q,#ff9b42 300Q,#008e47,#ff9c4c 321Q,#00ab4f,#ffaf51,#00b34c,#ffbd47,#00c747,#ffc747 389Q"></i><i style="--g:#008d6e -5Q,#ff946e,#009c63 15Q,#ffa957,#00b747,#ffc737,#00d72d 62Q,#ffd623,#00d52e,#ffc23a,#00af52,#ff956a 124Q,#00816d,#ff8e71 141Q,#00a06c,#ff8d67 165Q,#007f6b 175Q,#ff986e,#5aae57,#00c243 195Q,#9fcd27 203Q,#ffd613 208Q,#00eb1e 223Q,#5dea22 229Q,#8cea25 233Q,#bbe92c 243Q,#ffe831,#a0e83f 257Q,#00e74f 265Q,#57cb5b,#ffa969 279Q,#008454 287Q,#ff9635 298Q,#00aa48 311Q,#ffb558,#00c152 332Q,#ffc44c,#00c742,#ffdc38,#00f238 378Q,#fff238 390Q"></i><i style="--g:#00986d -4Q,#ff966d,#009468,#ff9e63 27Q,#00a954,#ffbc44,#00cf32 61Q,#ffda1f,#00e421,#ffd823,#00cc37,#ffb24a 122Q,#009960 133Q,#ff9c72,#009f64 153Q,#ff9c54,#00996f 177Q,#ff9b81,#009d5d 194Q,#a3b540,#ffca28 206Q,#4bea24 215Q,#00fb22 220Q,#fff51b 235Q,#aff31d 241Q,#98f21e 244Q,#7dee21 253Q,#5fed22 257Q,#00ea25,#5fd127 269Q,#ffb129 277Q,#8c9a32,#00863a 288Q,#ffa549 298Q,#00cf4f,#ffce56,#00cc49,#ffd13b,#00d62f,#ffe523,#00f523 378Q,#fff523 390Q"></i><i style="--g:#00a960 -4Q,#ffa060,#009864,#ff9b68,#009d5e,#ffae55,#00bf3f 60Q,#ffd428,#00e91d,#ffe713,#00e51e,#ffd02a,#00bc45 133Q,#ffac5e,#009e56,#ffa94d 164Q,#00b65a,#ff9666 188Q,#00815c 196Q,#869358 199Q,#ffb151,#62d43c,#00f22a 218Q,#ffe204 231Q,#e2da2a 237Q,#00ce66 246Q,#76c78a 251Q,#ffc2a0,#6fbe89,#00b96b 262Q,#b8ba2b 270Q,#ffba04,#a0bb1a 281Q,#00bb39 288Q,#ffcb61,#00de4e 309Q,#ffd43a,#00cb2f,#ffd523,#00df1a,#ffdd10,#00db10,#ffdb10 389Q"></i><i style="--g:#00b74f -4Q,#ffae4f,#00a658,#ffa160 29Q,#009c61,#ffa361,#00ab4f,#ffc43c 71Q,#00de26,#ffe90f,#00f410,#ffe911,#00df27,#ffc43b 143Q,#00ab44,#ffb84d 164Q,#00c646,#ffaf3f 188Q,#98a450,#009961 199Q,#ffac79 207Q,#71b661 211Q,#00c342 217Q,#ffdd03 229Q,#bae914 234Q,#00fb2b 242Q,#16d83c 248Q,#ffa753,#007a3a 264Q,#8b912a,#ffb116 274Q,#00f636 288Q,#7feb45,#ffe252 299Q,#00cf36 309Q,#ffce17,#00ce15,#ffda12,#00e610,#ffd70f,#00c90f,#ffc90f 389Q"></i><i style="--g:#00bf41 -5Q,#ffbb41,#00b749,#ffae51,#00a659 41Q,#ffa260,#009d5a,#ffb155 71Q,#00c639,#ffdd1c,#00f510,#fff605,#00f70e,#ffe018,#00c930 154Q,#ffc946,#00c937 175Q,#ffc827,#00c849 199Q,#71b659,#ffa668 210Q,#008e49 218Q,#94a835,#ffc61f 228Q,#00fd13 239Q,#44dd0a,#ffc203 254Q,#b5ab19,#009132 266Q,#ffbf52 275Q,#5fe144,#00fb3a,#3fef2f 291Q,#ffda1d 299Q,#00bf13,#ffcf09 321Q,#00e10e,#ffe612,#00eb19,#ffde20,#00d120,#ffd120 389Q"></i><i style="--g:#00bf3a -5Q,#ffc13a,#00c43e,#ffbd42,#00b649,#ffac51,#00a35b 63Q,#ffa663,#00a94f 83Q,#ffc638,#00e520,#fff108 117Q,#00fc06,#fff404 142Q,#00ec1a,#ffda30,#00c929,#ffd820,#00e928 198Q,#50d82b 203Q,#ffba31 210Q,#9ca73e,#00924e 221Q,#ffbd64,#4ce146 235Q,#00fb31,#7ef817,#fff502 251Q,#d5f123 259Q,#8df02c 261Q,#00ed43 266Q,#ffe86d 276Q,#97e65b 280Q,#00e33b 286Q,#ffdb03 297Q,#aad608,#00d10f 310Q,#ffe318,#00f71a,#ffef1b,#00e726,#ffe731,#00e631,#ffe631 389Q"></i><i style="--g:#00b83b -5Q,#ffc13b,#00ca38,#ffc835,#00c53b,#ffbe40,#00b64c,#ffa858 75Q,#009b58,#ffaf58 94Q,#00c73a,#ffdf1b,#00f80e,#fffa02 140Q,#b1fa05 144Q,#00fb0a 152Q,#42f50c 156Q,#ffe711 164Q,#00d51b,#ffe424,#00f416 198Q,#ffe307 210Q,#aedd1d 214Q,#00d244 222Q,#70c95e,#ffc175 232Q,#00b341 240Q,#ffd402 250Q,#bfeb0e 257Q,#60f614,#00ff18 262Q,#30e526 270Q,#76df2a 273Q,#ffce33 278Q,#00b01c,#ffd003 297Q,#b9e00b 302Q,#00fb18 311Q,#fffb2a,#00fb26,#ffea22,#00da29,#ffe431,#00ee31,#ffee31 389Q"></i><i style="--g:#00b341 -5Q,#ffbe41,#00c938,#ffcd2f,#00d030,#ffcd32,#00ca38,#ffba3f,#00ac53 86Q,#ffa964,#00a651,#ffc23b 116Q,#00e121,#ffee06,#00fb04 151Q,#56f804 156Q,#fff403 163Q,#b1f209 168Q,#00ed14 175Q,#ffed22,#00ee13,#fff503 208Q,#b0f80c 213Q,#00fd18,#47dd23,#ffb530 233Q,#7b982e 239Q,#00832d,#7c9b2c 246Q,#ffbd2a 251Q,#00fc19 261Q,#3ee80b 269Q,#ffd901,#b0c80c,#00b716 289Q,#ffd925,#00fc24 309Q,#52f624,#ffef23 322Q,#00e423,#ffd923,#00cf21,#ffd820,#00e120,#ffe120 389Q"></i><i style="--g:#00b745 -4Q,#ffbd45,#00c43b,#ffcd30,#00d62c,#ffd628,#00d729 63Q,#ffd12a,#00ca3b,#ffb34c 98Q,#009e53,#ffae5a,#00c03f 128Q,#90cf30,#ffdc22 139Q,#00fa12,#fffb02 162Q,#bcfb06 167Q,#00fc0b 175Q,#41f80e 178Q,#fff014 186Q,#00e60b,#fff103 208Q,#95f603,#00fc03,#47ef03 225Q,#ffdf03,#c4d223,#00c14a 245Q,#ffdb78 253Q,#77ea5d,#00fb3b,#8dfb17 269Q,#fffb00 273Q,#e5fb16 281Q,#94fb1c 283Q,#00fb2c 289Q,#fffa48,#00fa2d,#ffe10e,#00ca19,#ffcd23,#00d11b 355Q,#ffd113,#00d013,#ffd013 389Q"></i><i style="--g:#00c640 -3Q,#ffc440,#00c13a,#ffcb34,#00d52c 40Q,#ffda23,#00df20,#ffe11d,#00e223,#ffce2a,#00bb43 109Q,#ffb05b,#00a550,#ffbe45 140Q,#6bcc34,#00d926 151Q,#ffeb05,#00fc04 174Q,#49f804 178Q,#fff203 186Q,#00e90a,#fff211,#00fc09 219Q,#50fc06 224Q,#a7fc03,#fffc01 230Q,#c9fc17,#00fc2d 243Q,#37e040,#ffc055 256Q,#009a2e,#ffc401 273Q,#b2e30d,#00fe17 286Q,#4aed25,#ffdd30 300Q,#00c71e,#ffc609,#00c519,#ffd227,#00e020,#ffd818,#00d018,#ffd018 389Q"></i><i style="--g:#00db2f -3Q,#ffd22f,#00c932,#ffce35,#00d32c,#ffda23,#00e21d,#ffe817 74Q,#00ef13,#ffe80f,#00e124,#ffc739,#00ae49 132Q,#ffb158,#00b442 151Q,#7dc338,#ffd62a 162Q,#00f916,#fff803 185Q,#b0f708 190Q,#00f60f 198Q,#fff51a,#00f30e 220Q,#7ef508,#fff703,#affa02 235Q,#00fc02,#00e102 248Q,#69d702 250Q,#ffc201,#b6aa15,#008f2a 267Q,#ffc346,#00fe2c,#49e615 293Q,#ffd202 300Q,#b0c309 304Q,#00ae13 311Q,#ffc322,#00da26,#ffe32a,#00ec29,#ffe529,#00df29,#ffdf29 389Q"></i><i style="--g:#00ef18 -3Q,#ffe518,#00db22,#ffd72c,#00d328,#ffdb24,#00e21e,#ffea17,#00f10d,#fff703 97Q,#00fc0a,#ffe711,#00d32c 132Q,#ffbe45 143Q,#00aa4a,#ffbd4f 163Q,#85c641 168Q,#00d22d,#98de19,#ffe608 186Q,#00fb0f,#ffec15,#00dd0f,#ffef09 231Q,#75f808 237Q,#00fe06 240Q,#47f904,#fff503 253Q,#dcf02b 261Q,#8cee36 263Q,#00eb51,#80e66c,#ffe281 278Q,#8fdf6c 281Q,#00da47 287Q,#ffd302 297Q,#b5cf15,#00ca29 311Q,#ffdc45,#00ef35,#ffeb24,#00e72a 355Q,#ffe930,#00eb30,#ffeb30 389Q"></i><i style="--g:#00fb04 -3Q,#fff704,#00f20f,#ffe819,#00dd1d,#ffe022,#00e31d,#ffe817,#00ee0e,#fff504,#00fc03 108Q,#54fc03 113Q,#fffb03 120Q,#b3fb08 124Q,#00fa10 132Q,#ffe11d,#00c838 155Q,#ffba51,#00ae40,#ffcd2e 186Q,#00f11f,#ffe50f,#00da20 221Q,#ffe930,#00f918 242Q,#7cfa0d,#fffb03 252Q,#d3fd14,#00fe22 265Q,#00d535 273Q,#6bc93a 275Q,#ffae47 280Q,#00842c 288Q,#929d1a,#ffb907 298Q,#00fa29,#fff347 322Q,#00ed31,#ffe118 344Q,#00d71f,#ffde26,#00e526,#ffe526 389Q"></i><i style="--g:#00fb04 -4Q,#59fb04 1Q,#fffb04 7Q,#00fb04,#fff503,#00f00d,#ffeb17 53Q,#00e717,#ffe916,#00ec11,#fff40b,#00fc06 108Q,#7afc04,#fffd02,#a6fd02,#00fe02,#52fb02 136Q,#fff703 143Q,#aef50b 148Q,#00f117 155Q,#ffd12b,#00b33f 177Q,#ffc151,#00d035 198Q,#ffd817,#00e02a,#ffce3c 232Q,#00be21,#ffe104 253Q,#7bf303 259Q,#00ff03 262Q,#00e502 270Q,#66d902 273Q,#ffbf01 277Q,#afa11c,#008732 290Q,#ffba50 298Q,#00fd3b 308Q,#45f430 314Q,#ffe81f 322Q,#00d71a,#ffd215,#00ce16,#ffd218,#00d618,#ffd618 389Q"></i><i style="--g:#00fd03 -5Q,#5ffd03,#fffc03,#b8fc03 11Q,#00fb03 18Q,#4dfb04 23Q,#fffb04 30Q,#00fc05,#fff606,#00f10b,#fff010,#00ee10,#fff311,#00f809,#fffa02 119Q,#b3fa02 123Q,#00fc02 130Q,#41fc03 135Q,#fffc03,#a5fd03 148Q,#00fd04,#56f604,#ffec04 166Q,#00dd28,#ffc64a 189Q,#00b13e,#ffc631 209Q,#00de31,#ffc031 233Q,#00a53d,#ffcf48,#00fc27 262Q,#47f613,#fff000 274Q,#ffe71c 282Q,#9ce529 284Q,#00df4e 290Q,#ffe57a,#00ec43 309Q,#ffdd03,#00cc13 333Q,#ffd121,#00d71c,#ffd417,#00d017,#ffd017 389Q"></i><i style="--g:#00fb00 -5Q,#65fc00,#fffc00,#affd01,#00fd01 17Q,#55fd02,#fffd03,#a6fd02,#00fc02 40Q,#3ffc02 45Q,#fffc02 52Q,#00fb04 65Q,#fff806,#00f50a,#fff20f,#00ef0a,#fff505,#00fc03 130Q,#53fc02,#fffd01,#b3fe02,#00fe02,#47fe03 158Q,#fffd04 165Q,#00fb12,#ffd71f 190Q,#00b636,#ffc14b,#00cc3b 221Q,#ffc22a,#00b954 244Q,#ffc275,#00cb3f,#ffe004 273Q,#d2ed14,#00fb23,#2ee533,#ffce43 301Q,#00af26 310Q,#ffc304 321Q,#00d91c 333Q,#ffe031,#00e72a,#ffe123,#00da23,#ffda23 389Q"></i><i style="--g:#00fe02 -6Q,#6efe02 1Q,#fffd02,#a8fd02 11Q,#00fc03 17Q,#fffd04 29Q,#befe03,#00ff02 39Q,#46fe02,#fffd01,#b2fc01,#00fb02 63Q,#fffb04,#00fb05,#fff507 98Q,#00ef0d,#fff413,#00f90a,#fffb01,#00fc02 152Q,#59fd02,#fffd03,#acfd03,#00fd02,#46f602,#ffec02 188Q,#00dc29 201Q,#ffc94a,#00b73e,#ffc432 233Q,#00d249,#ffa45e 256Q,#00853b 263Q,#ffc509,#00fe06 284Q,#38e303 293Q,#ffd101,#aabc0e 305Q,#00a919 312Q,#ffc92b 321Q,#00ee2e,#ffed31,#00eb2f,#ffe92d,#00e72d,#ffe72d 389Q"></i><i style="--g:#00fd02 -6Q,#fffc02,#00fc02 17Q,#48fc01 22Q,#fffc01,#affd01,#00fd02,#53fd02,#fffd03,#aafd03,#00fc02,#5afc02,#fffd02 74Q,#00fd02,#fffa02,#00f70c,#ffee16 120Q,#00e610,#fff20a,#00fd07,#fffe04 164Q,#b3fe04,#00ff04,#46fe04 180Q,#fffd04 187Q,#aefd0d,#00fc18 200Q,#ffd72c 212Q,#00b636,#ffc640 233Q,#00d935,#ffaf2a 256Q,#008c4d 266Q,#ffbb65 274Q,#00fc3a 284Q,#56f71c,#fff203 296Q,#ffec1e,#00e53a 312Q,#ffea5d,#00f040 332Q,#ffe61f,#00de24,#ffe229,#00e729 378Q,#ffe729 389Q"></i><i style="--g:#00fd03 -6Q,#fffc03,#00fc02 17Q,#53fc01 22Q,#fffc01,#a3fc02,#00fc02,#42fd03 44Q,#fffe04 51Q,#befe04,#00ff04 61Q,#46fe04,#fffd04 74Q,#00fb04,#fffc03,#00fc09,#ffee0e 120Q,#00e117,#ffe820,#00ef12,#fff603,#00fd03 175Q,#47fd03 179Q,#fffd03 186Q,#a7fd04,#00fd04,#45f204 204Q,#ffe405 211Q,#00cf24,#ffd141 233Q,#00d328,#ffd70c 255Q,#00db50 268Q,#ffc485 277Q,#00b34e 285Q,#ffd203 295Q,#dae816,#00fd29,#49f13c,#ffe64e 323Q,#00d530 333Q,#ffd20d,#00cf15,#ffd51d,#00db1d,#ffdb1d 389Q"></i><i style="--g:#00f904 -5Q,#fffb04,#00fc04,#fffd04,#00fd04 39Q,#52fd04 44Q,#fffd04 51Q,#aafd03,#00fe03 61Q,#57fe02,#fffe02,#a7fd02,#00fd02,#5dfd02,#fffc02 96Q,#00fb03 109Q,#fff204,#00e816,#ffe028,#00d720,#ffe818,#00f90c 175Q,#fffb01 185Q,#a0fc01,#00fc01,#4dfb01,#fffa01,#c0f90a 214Q,#00f817 222Q,#ffe429,#00d11b,#ffe70b,#00fc1a 266Q,#1dd521 271Q,#ff9c2c,#00642f,#ffa532 296Q,#00fc22 307Q,#49ea16,#ffd90a 322Q,#00c00f,#ffc914,#00d216,#ffd217,#00d217,#ffd217 389Q"></i><i style="--g:#00e213 -5Q,#ffea13,#00f30e,#fff509,#00f807,#fff904,#00fb03,#fffb03 73Q,#b1fc03 78Q,#00fc03 85Q,#4ffc03 89Q,#fffc03 96Q,#a9fc03 101Q,#00fc03 108Q,#fff803,#00f312,#ffe121 143Q,#00cf27,#ffd92c,#00e31a,#fff107,#00fe05 196Q,#56fd03,#fffc02,#bffc02 213Q,#00fb03,#55f503,#ffee03 233Q,#00e30e,#fff118,#00fe0e 265Q,#3ded09,#ffd902 277Q,#ffc52f,#00ad74 292Q,#ffc89d,#62de7b,#00fa51 308Q,#ffe901 319Q,#b9dc0f,#00d01b 334Q,#ffd92e,#00e327 355Q,#ffdd1f,#00d71f,#ffd71f 389Q"></i><i style="--g:#00cc2b -5Q,#ffd42b,#00dd24,#ffe11d,#00e51a,#ffea17,#00ef0e,#fff605,#00fc04,#fffc03 96Q,#00fc04,#fffb04,#00fb0b,#ffe912 142Q,#00d723,#ffd533,#00d427,#ffe71b,#00fb0d 197Q,#8efc06 203Q,#fffd01 206Q,#bcfd02,#00fe02,#4ffe02,#fffd02,#bafd08,#00fc0e 243Q,#5bfb12 248Q,#fffa18 255Q,#00f70e,#fff904 276Q,#c0fb25,#00fc47,#32da63 296Q,#ffb583,#009557 308Q,#bfb021 315Q,#ffbf04 319Q,#b1d913,#00f724 333Q,#fff23c,#00ec33,#ffe72a,#00e22a,#ffe22a 389Q"></i><i style="--g:#00bc41 -5Q,#ffc141,#00c539,#ffcc32,#00d22e,#ffd52b,#00d824,#ffe31d,#00ef13,#fff309,#00f807 107Q,#fffa06,#00fc06,#fff306,#00ea17,#ffdd28 164Q,#00d128,#ffdc28,#00e816,#fff204 207Q,#b9f504 211Q,#00fb03,#4afb03,#fffb03 230Q,#a6fb03,#00fb04,#4ff404,#ffea05 255Q,#00dc04,#ffec03 276Q,#a6f305,#00fc06 287Q,#2ed108 295Q,#76c508 297Q,#ffa70a,#918b18,#007126 312Q,#ffaa3c 320Q,#00fc34 331Q,#59f62f,#ffee2a 344Q,#00e32a,#ffe42a,#00e62a,#ffe62a 389Q"></i><i style="--g:#00b54e -4Q,#ffb44e,#00b24b,#ffb847,#00bf42,#ffc23c,#00c538,#ffcf33 72Q,#00d926,#ffe419,#00ee13,#fff30d,#00f808,#fffa03,#00fb0b,#ffec13,#00dd1e 175Q,#ffda28,#00d820,#ffea18,#00fc0c 218Q,#50fc07,#fffc01 229Q,#a7fc02,#00fb02,#42f503,#ffed04 254Q,#b3e809 259Q,#00e011 266Q,#ffee1c,#00fb0f 286Q,#4bf205 293Q,#91ef03,#ffec00 297Q,#ffe02d 306Q,#93dd3b 309Q,#00d65f 314Q,#ffe190 322Q,#72e775,#00ed56 332Q,#ffdf09,#00d215,#ffd820,#00df20,#ffdf20 389Q"></i><i style="--g:#00b651 -3Q,#ffaf51,#00a754,#ffaa57,#00ae51,#ffb24b,#00b648,#ffbd45,#00c438 83Q,#ffd32b,#00e220,#ffea15,#00f10c,#fff704,#00fc04 151Q,#fff604 164Q,#00f011,#ffe31d,#00d627,#ffda31,#00de1b,#ffee03 230Q,#9ef503,#00fd02 240Q,#4efd01 246Q,#a4fc01,#fffc01 252Q,#c3fc0a 258Q,#00fc17 266Q,#fffd28,#00fd16 286Q,#4dfd0d,#fffd03 296Q,#fffd1d 304Q,#89fe25,#00fe33 310Q,#30df4f 318Q,#ffc865,#00a93d,#aeb51b 339Q,#ffbd04 344Q,#00d00f,#ffd319,#00d619,#ffd619 389Q"></i><i style="--g:#00ba4d -3Q,#ffb14d,#00a856,#ffa55e,#00a15b 40Q,#ffa758,#00ac54,#ffb051,#00b448,#ffc23f,#00d130 105Q,#ffdc20,#00e817,#fff10d,#00fb09,#fffc04 163Q,#b9fc06 167Q,#00fc0a 175Q,#ffee0f,#00e023,#ffcc36 209Q,#00ba31,#ffd92d 230Q,#00fb18,#fffb04 252Q,#b9fb06 257Q,#00fc08,#51f40a,#ffea0c 276Q,#00dc08 287Q,#ffea03 296Q,#bcf303,#00fc03 308Q,#00e603 316Q,#6edb03 318Q,#ffc302,#a0ad0d,#009717 334Q,#ffb828,#00df22 355Q,#ffdb1d,#00d61d,#ffd61d 389Q"></i><i style="--g:#00bc47 -3Q,#ffb647,#00b050,#ffa759,#009f5c 41Q,#ffa25f,#00a55b,#ffa757,#00aa53,#ffb44f,#00be41 105Q,#ffcb31,#00d927,#ffe41d,#00ef11,#fff504 163Q,#00fb06,#fff108,#00e81a,#ffcd2c,#00b341 220Q,#ffc253 230Q,#7eca42,#00d32e 240Q,#a8df15 247Q,#ffe804 252Q,#00fb04 262Q,#48f104,#ffe604 275Q,#c0de0a 280Q,#00d114 287Q,#ffea21 297Q,#81f619,#00ff13 306Q,#37f506 314Q,#aff201,#fff000 319Q,#ffe515 328Q,#90e21d 330Q,#00dc33 335Q,#ffe352,#00eb3e 355Q,#ffe427,#00df27,#ffdf27 389Q"></i><i style="--g:#00be42 -4Q,#ffbb42,#00b948,#ffb04e,#00a756,#ffa55d 52Q,#00a35b,#ffa558,#00a858,#ffaa58,#00ab50,#ffb847 116Q,#00c53d,#ffcd32,#00d527,#ffe31b,#00f115,#ffec0e,#00e719,#ffd524,#00c440 220Q,#ffb959,#00af41 240Q,#7fbf34,#ffd425 251Q,#00fc14 262Q,#58f90e 267Q,#fff404,#baf016,#00eb2e 287Q,#fff44f,#00fc2b 307Q,#54fd1a,#fffe04 317Q,#c1ff19 326Q,#00ff24 331Q,#55f537 339Q,#ffee45 345Q,#00e138,#ffe22a,#00e42a,#ffe42a 389Q"></i><i style="--g:#00c13f -4Q,#ffc03f,#00c041,#ffbb42,#00b54a,#ffaf52,#00a953 63Q,#fa5,#00ac56,#ffa856,#00a458 107Q,#ffa95a,#00ae52,#ffb44a,#00b943,#ffc63d,#00d32e 173Q,#ffd920,#00e021,#ffdb22,#00d731,#ffbd40 231Q,#00a548,#ffba50 251Q,#77c53f,#00d12c,#8adc19,#ffe706,#89f213,#00fd20,#47ee2b 291Q,#ffd83c 298Q,#00bc1e 308Q,#8bcb0d,#ffd601 316Q,#bbeb02 323Q,#00fc02 329Q,#47ee03 338Q,#8beb03 340Q,#ffe304 345Q,#00d214,#ffd923,#00e123,#ffe123 389Q"></i><i style="--g:#00c43b -4Q,#ffc53b,#00c63a,#ffc539,#00c43d,#ffbd42,#00b647,#ffb44d,#00b34d,#ffaf4d,#00ab55,#ffa45e 119Q,#009d5e,#ff9f5f,#00a15e,#ffa85d,#00b04c 172Q,#ffc139,#00d32f,#ffda25,#00e124,#ffcf23,#00bd45 243Q,#ffab62 253Q,#009c4f 262Q,#89b045,#ffc739 273Q,#60e52d 280Q,#00fb24 285Q,#4aea1c 289Q,#ffc70d 298Q,#91b218,#009c24 309Q,#ffcc37,#00fc21,#53f20c 336Q,#ffec00 341Q,#c1e308 349Q,#7fe10a 351Q,#00db0f 356Q,#ffda1a,#00d91a,#ffd91a 389Q"></i><i style="--g:#00c937 -5Q,#ffc937,#00ca35,#ffcc32,#00ce33,#ffc934,#00c53a,#ffc041,#00bb42,#ffb944,#00b84b,#ffab52,#009f5e,#ff9869 143Q,#00926e,#ff9273,#009265,#ffa955 182Q,#00c242,#ffd02e,#00dd23,#ffda19,#00d735 243Q,#5dc441 248Q,#ffaa50 255Q,#9b9857,#00875f 265Q,#ffa76a 272Q,#69be52,#00d738 284Q,#ffcb03 296Q,#cfc61f 301Q,#00bd54,#ffd985 318Q,#79e869,#00fb45,#62fb27 333Q,#fffc02 339Q,#b7fc08 348Q,#78fc09 350Q,#00fc0c,#42f60f 358Q,#ffea14 366Q,#00d914,#ffd914 389Q"></i><i style="--g:#00cd33 -5Q,#ffcd33,#00cc32,#ffcf30,#00d32e,#ffd22b,#00d130,#ffca35,#00c33a,#ffc13f,#00bf42,#ffb646,#00ac54,#ff9f62 144Q,#00926d,#f87 166Q,#008073 173Q,#ff926f 182Q,#00aa58,#ffbb40,#00cb34,#ffd327,#00db31 242Q,#ffbc3c 255Q,#a6af4d,#009f64 266Q,#ff9d80,#009c5c 283Q,#9bad3f,#ffbd24 296Q,#00e052 309Q,#61c666,#ffad79,#00904d,#a0aa25,#ffbf04,#b2dd07 344Q,#00fc0b,#46f30e,#ffea12 366Q,#00db12,#ffdb12 390Q"></i><i style="--g:#00ce31 -6Q,#ffce31,#00cd31,#ffcf31,#00d12e,#ffd32a,#00d52c,#ffcf2e,#00c935,#ffc53c,#00c03f,#ffbb41,#00b64c,#ffa857,#009b61,#ff926b 167Q,#008a78 178Q,#ff8b81,#008c73 193Q,#ff9c5e,#00ad52,#ffbb46,#00c93d,#ffc334 253Q,#00bd48 266Q,#59a851 271Q,#ff8d5c,#006f61 287Q,#ff9265 293Q,#50be57 301Q,#00de4d,#30c045 312Q,#ff7d34 322Q,#a16036,#004b38 330Q,#935e3a 332Q,#ff873c 336Q,#00fc29 348Q,#40f71c 356Q,#91f517 359Q,#fff10e,#aaee3f 370Q,#63ec5b,#00ea74,#ffe586 378Q,#009186 414Q"></i><i style="--g:#00ca33 -6Q,#ffca33,#00cb34,#ffcb35,#00ca34,#ffcd32,#00d130,#ffce2f,#00cb36,#ffc33d,#00bc41,#ffba44,#00b949,#ffaf4e,#00a657,#ffa25f,#009f64,#ff9869 190Q,#749469 198Q,#008a68 216Q,#ff9c68,#00af50 239Q,#ffbe37,#00ce39,#ffc63b 278Q,#6ac134 288Q,#00b929,#ffd11e 320Q,#88df19,#53ed14 339Q,#00f90f 347Q,#68f40c,#ffed07 362Q,#ffeb2b,#d9e955 368Q,#00e4b9 375Q,#ffe3d4 377Q,#00d6d4 414Q"></i><i style="--g:#00bf3c -7Q,#ffc23c,#00c43c,#ffc23d,#00c03e,#ffc23e,#00c43b,#ffc439,#00c53d,#ffbe40,#00b745,#ffb74a 120Q,#00b749,#ffb448,#00b24d,#ffb152,#00af51,#ffaa4f 190Q,#00a55d,#ffa06b 216Q,#009a57 235Q,#ffb148,#00c740,#ffc139,#00bb3b 291Q,#65c03d 299Q,#a9c53e 309Q,#ffca40 316Q,#69d032,#00d625 336Q,#78d912 349Q,#ffdc04 359Q,#e7dd4a 365Q,#00dfaf 373Q,#ffdecf 376Q,#00d0cf 414Q"></i><i style="--g:#00b04a -7Q,#ffb34a,#00b749,#ffb648,#00b44b,#ffb34d,#00b34b,#ffb648,#00ba47,#ffb746,#00b44a,#ffb44e,#00b449,#ffb944,#00bd45 154Q,#ffbb45,#00b944,#ffb943,#00b94c 202Q,#fa5,#009a5c 229Q,#ffa463 246Q,#00ac57,#ffb54c 275Q,#00bf46 288Q,#97c342 297Q,#ffc73f,#a6ca37 312Q,#00d223 330Q,#ffd908 353Q,#ffda2a 358Q,#d2db41 360Q,#00de8e 370Q,#64dba6,#ffd9b3 375Q,#00b5b3 414Q"></i><i style="--g:#009d5d -7Q,#ffa15d,#00a65b,#ffa658,#00a65a,#ffa45c,#00a35a,#ffa858,#00ad53,#ffb04d,#00b24e,#ffb24e,#00b34a,#ffba45,#00c141 153Q,#ffbf3e,#00bc41,#ffbc44,#00bc48,#ffb04c,#00a456 226Q,#ffa161 239Q,#009e5e 253Q,#ffab5b 270Q,#00b746,#ffbe31 301Q,#6ec32d,#00c729 320Q,#ffd81f 346Q,#acde3d 355Q,#00e561 366Q,#60db71 371Q,#ffd57a 374Q,#007f7a 414Q"></i><i style="--g:#008b71 -7Q,#ff8f71,#00936d,#ff9568,#009868 37Q,#ff9867,#009866,#ff9d64,#00a35c,#ffaa53 94Q,#00b150,#ffb14d,#00b14c,#ffb64a,#00bb46,#ffb942,#00b848,#ffb54e,#00b34c,#ffb24a,#00b14d 224Q,#ffb250,#00b350 250Q,#ffb04f 264Q,#00ac4a,#ffb845,#00c53d 314Q,#85cd38,#ffd732 336Q,#9be147 348Q,#00eb5f 361Q,#5ade6a 367Q,#8dd96e,#ffd373 371Q,#007573 414Q"></i><i style="--g:#ff897c -5Q,#008976 9Q,#ff8d71,#00926e,#ff936b,#00946a 58Q,#ff9968,#009d61,#ffa559 92Q,#00ad54,#ffad4f,#00ae52,#ffad54,#00ad52,#ffad4f,#00ad54 176Q,#ffab58,#00a852,#ffb14b 210Q,#00bb48,#ffbb45,#00bb45 248Q,#ffb446,#00ac4e,#ffb456 291Q,#00be43 309Q,#92c838,#ffd12e 329Q,#00e73f 353Q,#63cf46 362Q,#97c748,#ffbe4b 369Q,#004d4b 414Q"></i><i style="--g:#ff9272 -7Q,#00926e,#ff956a,#009868,#ff9866,#096,#ff9967 68Q,#009a64,#ff9f60,#00a45c,#ffa557 115Q,#00a55c,#ffa060,#009b60 151Q,#ff9f61,#00a25f,#ffa35d,#00a457,#ffaf50,#00bb4b 221Q,#ffb746,#00b348,#ffb44a,#00b54a 273Q,#ffbb4a 287Q,#00c142 303Q,#ffcc37 322Q,#00d92d 345Q,#5bbf28 355Q,#ff9f23 367Q,#002423 414Q"></i><i style="--g:#ff996a -6Q,#096,#ff9c63,#009f61,#ff9e5f,#009e62,#ff9b65,#009766,#ff9868 90Q,#096,#ff9a63,#009a67,#ff956a,#00916a 149Q,#ff976a,#009e63 171Q,#ffa15b,#00a45a,#ffa859,#00ad55,#ffaa52,#00a751,#ffb150,#00bc49 270Q,#ffbd41,#00be3f 299Q,#ffc33d 316Q,#77c634,#00ca2b 336Q,#00ba26,#008d22 347Q,#ff2c15 361Q,#001e0b,#ff1d03 365Q,#000603 414Q"></i><i style="--g:#ff9c64 -6Q,#009c62,#ff9f60,#00a15e,#ffa15d,#00a160 53Q,#ff9c63,#009767,#ff956c,#00946a,#ff9767,#009a67 122Q,#f96,#009766,#ff9c65,#00a25f 169Q,#ffa258,#00a35e,#ffa063,#009d60,#ffa15c,#00a557 242Q,#ffaf53,#00b94d 268Q,#ffb548,#00b242 296Q,#ffc03b 311Q,#6eca35,#00d230 329Q,#ff9520 353Q,#a9822b 360Q,#007c2e 363Q,#ff7c76 414Q"></i><i style="--g:#ff9f5e -6Q,#009f5f,#ff9f61,#00a05f,#ffa15e,#00a25f,#ff9e60,#009b64,#ff9a68,#009964,#ff9f60,#00a65b 120Q,#ffa657,#00a659,#ffa55c,#00a45b,#ffa359,#00a160,#ff9d67,#009960,#ffa359,#00ae56 239Q,#ffad53,#00ad52,#ffae50,#00af48 292Q,#ffbd3e 307Q,#00cd35 324Q,#ffb62b 344Q,#8eab3c 354Q,#5aa741,#00a446 360Q,#ffa4a3 414Q"></i><i style="--g:#ffa158 -6Q,#00a15d,#ff9f62,#009d61,#ffa060,#00a25d,#ffa35b,#00a45c,#ffa45c,#00a459,#ffaa56,#00b050 119Q,#ffb14a,#00b24f,#ffab54,#00a458,#ffa45c,#00a45c 190Q,#ffa45d,#00a358,#ffab52,#00b353 237Q,#ffad54,#00a750,#ffb04c,#00b949 288Q,#ffbd46,#00c03d 318Q,#8bc837,#ffd131 337Q,#ffd549,#a6da61,#5ede78 353Q,#00e185,#ffde8e 358Q,#00968e 414Q"></i><i style="--g:#ffa455 -6Q,#00a45b,#ffa060,#009d60,#ffa060,#00a45b,#ffa955,#00ae52 72Q,#ffaf50,#00af4f,#ffb14f,#00b44b,#ffb548,#00b74c,#ffae50,#00a655,#ffa95a 177Q,#00ad54,#ffae4d,#00af4f,#ffaf52,#00b052 236Q,#ffaf51,#00ad4b,#ffb644 272Q,#00bf47,#ffc04b,#00c13e 313Q,#92c836 322Q,#ffce2f 330Q,#ffd13c,#dad56c 339Q,#00dfc8 353Q,#ffded5 355Q,#00d7d5 414Q"></i><i style="--g:#ffa853 -7Q,#00a857,#ffa45b,#00a15c,#ffa45d,#00a757,#ffae50,#00b54b,#ffb647 83Q,#00b749,#ffb44b,#00b24c,#ffb34d,#00b44d,#ffb04d,#00ad50,#ffb053,#00b44c,#ffb544,#00b64c 211Q,#ffb054,#00aa50,#ffb14b,#00b849 258Q,#ffb946,#00bb46,#ffc047,#00c53b 310Q,#ffcb2e 325Q,#00d163 344Q,#64c977 351Q,#ffc77b 352Q,#00817b 414Q"></i><i style="--g:#ffac52 -7Q,#00ac53,#ffab54,#00a955,#ffaa57,#00ab53,#ffb14f,#00b64a,#ffb845 83Q,#00ba48,#ffb44b,#00ae4f,#ffae54 129Q,#00af4f,#ffb34a,#00b74a,#ffb749,#00b648,#ffb646,#00b54d,#ffaf54,#00aa4e,#ffb248,#00ba4b 257Q,#ffb74f,#00b447,#ffba3f 294Q,#00bf3b,#ffca38 322Q,#00d757 338Q,#68ce63 344Q,#97cb67,#ffc76c 349Q,#006d6c 414Q"></i><i style="--g:#ffb151 -8Q,#00b14f,#ffb14d,#00b24e,#ffb14e,#00af4f,#ffb14f,#00b24d,#ffb44a,#00b54c,#ffb04e,#00ab53 117Q,#ffac57,#00ac50,#ffb548,#00be46 163Q,#ffb943,#00b449,#ffb24f,#00b14f,#ffb04f,#00af4e,#ffb14c,#00b350,#ffb353,#00b349 279Q,#ffb53e,#00b73f,#ffc540 318Q,#00d541 333Q,#79c741 341Q,#ffbc41 347Q,#004341 414Q"></i><i style="--g:#ffb451 -9Q,#00b44c,#ffb648,#00b948,#ffb648,#00b44c,#ffb050,#00ac52,#ffac54 83Q,#00ac53,#ffac52,#00ab54,#ffac55,#00ad50,#ffb44a,#00bc48 162Q,#ffb645,#00b04e,#ffaf56,#00af4f 208Q,#ffb148,#00b44e,#ffb054,#00ac51,#ffb04d,#00b549 278Q,#ffb745,#00b942,#ffc33e 315Q,#7cc930 321Q,#00cf21 329Q,#91b408 340Q,#ffa900 345Q,#000400 414Q"></i><i style="--g:#ffb450 -9Q,#00b44c,#ffb747,#00ba46,#ffb846,#00b54b,#ffae51,#00a757,#ffa55d 83Q,#00a459,#ffa956,#00ad53,#ffae50 127Q,#00ae50,#ffb050,#00b14e,#ffb04d,#00ae51,#ffaf54,#00b14d,#ffb346,#00b54f 230Q,#ffb057,#00ac4e,#ffb144,#00b748,#ffbd4b 288Q,#00c443,#ffc73a,#00cb2f 325Q,#00c12d,#00962a 331Q,#ff3222 340Q,#00271e,#ff2615 343Q,#001715 414Q"></i><i style="--g:#ffb151 -9Q,#00b14e,#ffb34b,#00b64a,#ffb44a,#00b24f,#ffab54,#00a45a 71Q,#ffa261,#00a05c,#ffa758,#00af52 115Q,#ffaf4d,#00af52,#ffaa57,#00a656,#ffab55,#00b150,#ffb24c,#00b34b,#ffb44a,#00b44d,#ffb44f,#00b449,#ffb642,#00b845,#ffc148,#00ca40 298Q,#ffc939,#00c92b 323Q,#ff9a1c 337Q,#b18d20 340Q,#008722 342Q,#ff877f 414Q"></i><i style="--g:#ffad51 -9Q,#00ad52,#ffad52,#00ad52,#ffac52,#00ac54,#ffa856,#00a45a,#ffa35e 82Q,#00a25b,#ffa758,#00ad53,#ffad4f 126Q,#00ad55,#ffa65b,#00a059,#ffab57,#00b64d 182Q,#ffb544,#00b54a,#ffb64f,#00b648,#ffb941,#00bc44,#ffbc47,#00bc43,#ffc03f,#00c43c,#ffc739 309Q,#00ca30 321Q,#46b42d 325Q,#ff8c27 334Q,#a27b2a,#006e2c 340Q,#ff6e6b 414Q"></i><i style="--g:#ffa853 -8Q,#00a857,#ffa55a,#00a35b,#ffa45b,#00a659,#ffa757,#00a957,#ffa857,#00a757,#ffa858 103Q,#00a857,#ffa955,#00a957,#ffa759,#00a557,#ffad54,#00b64c,#ffb643 193Q,#00b649,#ffb94e,#00bb43,#ffbe38,#00c141,#ffc04a,#00c042,#ffbd3a,#00ba39,#ffc239,#00cb37 319Q,#5eb936,#ffa135 331Q,#9a9439,#00863c 339Q,#ff8886 414Q"></i><i style="--g:#ffa356 -9Q,#00a35b,#ffa061,#009c61,#ff9f61,#00a35b,#ffa955,#00af52,#ffae4f 80Q,#00ae53,#ffa857,#00a359 114Q,#ffa55c,#00a758,#ffab53,#00af51,#ffb14f,#00b24c,#ffb549,#00b847,#ffbb45,#00bf40,#ffc03a 238Q,#00c23f,#ffc144,#00c140,#ffbd3c,#00b83b,#ffc23a,#00cb37,#ffaf35 329Q,#ffa756,#009e8a 336Q,#ff9e98 338Q,#009a98 414Q"></i><i style="--g:#ffa05a -9Q,#00a05f,#ff9d63,#009b62,#ff9f62,#00a45b,#ffab54,#00b24f 68Q,#ffb14b,#00b150,#ffa955,#00a25a 114Q,#ffa55e,#00a955,#ffb04c,#00b84b 158Q,#ffb34a,#00ae4d,#ffb450 192Q,#00ba46,#ffbd3c,#00c040,#ffc044,#00c13f,#ffc03a,#00c03e,#ffc141,#00c23e,#ffc73a,#00cc32,#ffbd29 328Q,#91b731,#00b336 337Q,#ffb3b0 414Q"></i><i style="--g:#ff9f5f -10Q,#009f60,#ff9f61,#009f5f,#ffa25e,#00a659,#ffab54,#00b051 68Q,#ffb04d,#00b050,#ffac53,#00a756 114Q,#ffaa58,#00ad51,#ffb449,#00bb49 158Q,#ffb449,#00ae4d,#ffb451,#00ba47,#ffbc3b,#00bd43,#ffbe4a,#00c040,#ffbf34,#00bf3b,#ffc642,#00cd3d,#ffce39,#00ce2d,#ffb420 328Q,#ffaf2e,#d8aa50 332Q,#00a375,#ffa287 337Q,#008a87 414Q"></i><i style="--g:#ffa260 -11Q,#00a25d,#ffa45b,#00a659,#ffa758,#00a857,#ffa956,#0a5,#ffac53,#00ae51,#ffaf50,#00b04f,#ffb24e,#00b34c,#ffb54a,#00b64a,#ffb54a,#00b34b,#ffb54c,#00b748,#ffb844,#00b946,#ffbc48,#00be40,#ffc138,#00c339,#ffca3a,#00d136,#ffd232,#00d22a,#ffbd21 327Q,#ffb936,#b3b54c,#00af68,#ffae79 337Q,#007f79 414Q"></i><i style="--g:#00a655 0,#ffa955,#00ad54,#ffab52,#0a5,#ffa758,#00a558,#ffa859,#00ac52 90Q,#ffb34c,#00b948,#ffb944,#00b848,#ffb44d,#00b04c 158Q,#ffb54b,#00ba48,#ffb745,#00b44a,#ffb54f,#00b648,#ffba41,#00bd41,#ffc342,#00c939,#ffcc2f,#00ce2c,#ffd229,#00d62a,#ffca2a 327Q,#a4c451 332Q,#00c168,#ffbf77 337Q,#007f77 414Q"></i><i style="--g:#00a852 -1Q,#ffab52,#00af51,#ffad50,#00ab55,#ffa759 57Q,#00a25a,#ffa75b,#00ab53,#ffb44a 101Q,#00bd45,#ffbc40,#00ba47,#ffb34e 147Q,#00ad4d,#ffb44c,#00bd47,#ffb841,#00b24b,#ffb455 214Q,#00b549,#ffb93d,#00bc42,#ffc446,#00cd39,#ffcc2b,#00cb28,#ffd225,#00d82a,#ffd02f 327Q,#9ecc53 332Q,#00ca68,#ffc875 337Q,#007e75 414Q"></i><i style="--g:#00a655 0,#ffa955,#00ad54,#ffab52,#0a5,#ffa758,#00a558,#ffa859,#00ac52 90Q,#ffb34c,#00b948,#ffb944,#00b848,#ffb44d,#00b04c 158Q,#ffb54b,#00ba48,#ffb745,#00b44a,#ffb54f,#00b648,#ffba41,#00bd41,#ffc342,#00c939,#ffcc2f,#00ce2c,#ffd229,#00d62a,#ffca2a 327Q,#a4c451 332Q,#00c168,#ffbf77 337Q,#007f77 414Q"></i><i style="--g:#ffa260 -11Q,#00a25d,#ffa45b,#00a659,#ffa758,#00a857,#ffa956,#0a5,#ffac53,#00ae51,#ffaf50,#00b04f,#ffb24e,#00b34c,#ffb54a,#00b64a,#ffb54a,#00b34b,#ffb54c,#00b748,#ffb844,#00b946,#ffbc48,#00be40,#ffc138,#00c339,#ffca3a,#00d136,#ffd232,#00d22a,#ffbd21 327Q,#ffb936,#b3b54c,#00af68,#ffae79 337Q,#007f79 414Q"></i><i style="--g:#ff9f5f -10Q,#009f60,#ff9f61,#009f5f,#ffa25e,#00a659,#ffab54,#00b051 68Q,#ffb04d,#00b050,#ffac53,#00a756 114Q,#ffaa58,#00ad51,#ffb449,#00bb49 158Q,#ffb449,#00ae4d,#ffb451,#00ba47,#ffbc3b,#00bd43,#ffbe4a,#00c040,#ffbf34,#00bf3b,#ffc642,#00cd3d,#ffce39,#00ce2d,#ffb420 328Q,#ffaf2e,#d8aa50 332Q,#00a375,#ffa287 337Q,#008a87 414Q"></i><i style="--g:#ffa05a -9Q,#00a05f,#ff9d63,#009b62,#ff9f62,#00a45b,#ffab54,#00b24f 68Q,#ffb14b,#00b150,#ffa955,#00a25a 114Q,#ffa55e,#00a955,#ffb04c,#00b84b 158Q,#ffb34a,#00ae4d,#ffb450 192Q,#00ba46,#ffbd3c,#00c040,#ffc044,#00c13f,#ffc03a,#00c03e,#ffc141,#00c23e,#ffc73a,#00cc32,#ffbd29 328Q,#91b731,#00b336 337Q,#ffb3b0 414Q"></i><i style="--g:#ffa356 -9Q,#00a35b,#ffa061,#009c61,#ff9f61,#00a35b,#ffa955,#00af52,#ffae4f 80Q,#00ae53,#ffa857,#00a359 114Q,#ffa55c,#00a758,#ffab53,#00af51,#ffb14f,#00b24c,#ffb549,#00b847,#ffbb45,#00bf40,#ffc03a 238Q,#00c23f,#ffc144,#00c140,#ffbd3c,#00b83b,#ffc23a,#00cb37,#ffaf35 329Q,#ffa756,#009e8a 336Q,#ff9e98 338Q,#009a98 414Q"></i><i style="--g:#ffa853 -8Q,#00a857,#ffa55a,#00a35b,#ffa45b,#00a659,#ffa757,#00a957,#ffa857,#00a757,#ffa858 103Q,#00a857,#ffa955,#00a957,#ffa759,#00a557,#ffad54,#00b64c,#ffb643 193Q,#00b649,#ffb94e,#00bb43,#ffbe38,#00c141,#ffc04a,#00c042,#ffbd3a,#00ba39,#ffc239,#00cb37 319Q,#5eb936,#ffa135 331Q,#9a9439,#00863c 339Q,#ff8886 414Q"></i><i style="--g:#ffad51 -9Q,#00ad52,#ffad52,#00ad52,#ffac52,#00ac54,#ffa856,#00a45a,#ffa35e 82Q,#00a25b,#ffa758,#00ad53,#ffad4f 126Q,#00ad55,#ffa65b,#00a059,#ffab57,#00b64d 182Q,#ffb544,#00b54a,#ffb64f,#00b648,#ffb941,#00bc44,#ffbc47,#00bc43,#ffc03f,#00c43c,#ffc739 309Q,#00ca30 321Q,#46b42d 325Q,#ff8c27 334Q,#a27b2a,#006e2c 340Q,#ff6e6b 414Q"></i><i style="--g:#ffb151 -9Q,#00b14e,#ffb34b,#00b64a,#ffb44a,#00b24f,#ffab54,#00a45a 71Q,#ffa261,#00a05c,#ffa758,#00af52 115Q,#ffaf4d,#00af52,#ffaa57,#00a656,#ffab55,#00b150,#ffb24c,#00b34b,#ffb44a,#00b44d,#ffb44f,#00b449,#ffb642,#00b845,#ffc148,#00ca40 298Q,#ffc939,#00c92b 323Q,#ff9a1c 337Q,#b18d20 340Q,#008722 342Q,#ff877f 414Q"></i><i style="--g:#ffb450 -9Q,#00b44c,#ffb747,#00ba46,#ffb846,#00b54b,#ffae51,#00a757,#ffa55d 83Q,#00a459,#ffa956,#00ad53,#ffae50 127Q,#00ae50,#ffb050,#00b14e,#ffb04d,#00ae51,#ffaf54,#00b14d,#ffb346,#00b54f 230Q,#ffb057,#00ac4e,#ffb144,#00b748,#ffbd4b 288Q,#00c443,#ffc73a,#00cb2f 325Q,#00c12d,#00962a 331Q,#ff3222 340Q,#00271e,#ff2615 343Q,#001715 414Q"></i><i style="--g:#ffb451 -9Q,#00b44c,#ffb648,#00b948,#ffb648,#00b44c,#ffb050,#00ac52,#ffac54 83Q,#00ac53,#ffac52,#00ab54,#ffac55,#00ad50,#ffb44a,#00bc48 162Q,#ffb645,#00b04e,#ffaf56,#00af4f 208Q,#ffb148,#00b44e,#ffb054,#00ac51,#ffb04d,#00b549 278Q,#ffb745,#00b942,#ffc33e 315Q,#7cc930 321Q,#00cf21 329Q,#91b408 340Q,#ffa900 345Q,#000400 414Q"></i><i style="--g:#ffb151 -8Q,#00b14f,#ffb14d,#00b24e,#ffb14e,#00af4f,#ffb14f,#00b24d,#ffb44a,#00b54c,#ffb04e,#00ab53 117Q,#ffac57,#00ac50,#ffb548,#00be46 163Q,#ffb943,#00b449,#ffb24f,#00b14f,#ffb04f,#00af4e,#ffb14c,#00b350,#ffb353,#00b349 279Q,#ffb53e,#00b73f,#ffc540 318Q,#00d541 333Q,#79c741 341Q,#ffbc41 347Q,#004341 414Q"></i><i style="--g:#ffac52 -7Q,#00ac53,#ffab54,#00a955,#ffaa57,#00ab53,#ffb14f,#00b64a,#ffb845 83Q,#00ba48,#ffb44b,#00ae4f,#ffae54 129Q,#00af4f,#ffb34a,#00b74a,#ffb749,#00b648,#ffb646,#00b54d,#ffaf54,#00aa4e,#ffb248,#00ba4b 257Q,#ffb74f,#00b447,#ffba3f 294Q,#00bf3b,#ffca38 322Q,#00d757 338Q,#68ce63 344Q,#97cb67,#ffc76c 349Q,#006d6c 414Q"></i><i style="--g:#ffa853 -7Q,#00a857,#ffa45b,#00a15c,#ffa45d,#00a757,#ffae50,#00b54b,#ffb647 83Q,#00b749,#ffb44b,#00b24c,#ffb34d,#00b44d,#ffb04d,#00ad50,#ffb053,#00b44c,#ffb544,#00b64c 211Q,#ffb054,#00aa50,#ffb14b,#00b849 258Q,#ffb946,#00bb46,#ffc047,#00c53b 310Q,#ffcb2e 325Q,#00d163 344Q,#64c977 351Q,#ffc77b 352Q,#00817b 414Q"></i><i style="--g:#ffa455 -6Q,#00a45b,#ffa060,#009d60,#ffa060,#00a45b,#ffa955,#00ae52 72Q,#ffaf50,#00af4f,#ffb14f,#00b44b,#ffb548,#00b74c,#ffae50,#00a655,#ffa95a 177Q,#00ad54,#ffae4d,#00af4f,#ffaf52,#00b052 236Q,#ffaf51,#00ad4b,#ffb644 272Q,#00bf47,#ffc04b,#00c13e 313Q,#92c836 322Q,#ffce2f 330Q,#ffd13c,#dad56c 339Q,#00dfc8 353Q,#ffded5 355Q,#00d7d5 414Q"></i><i style="--g:#ffa158 -6Q,#00a15d,#ff9f62,#009d61,#ffa060,#00a25d,#ffa35b,#00a45c,#ffa45c,#00a459,#ffaa56,#00b050 119Q,#ffb14a,#00b24f,#ffab54,#00a458,#ffa45c,#00a45c 190Q,#ffa45d,#00a358,#ffab52,#00b353 237Q,#ffad54,#00a750,#ffb04c,#00b949 288Q,#ffbd46,#00c03d 318Q,#8bc837,#ffd131 337Q,#ffd549,#a6da61,#5ede78 353Q,#00e185,#ffde8e 358Q,#00968e 414Q"></i><i style="--g:#ff9f5e -6Q,#009f5f,#ff9f61,#00a05f,#ffa15e,#00a25f,#ff9e60,#009b64,#ff9a68,#009964,#ff9f60,#00a65b 120Q,#ffa657,#00a659,#ffa55c,#00a45b,#ffa359,#00a160,#ff9d67,#009960,#ffa359,#00ae56 239Q,#ffad53,#00ad52,#ffae50,#00af48 292Q,#ffbd3e 307Q,#00cd35 324Q,#ffb62b 344Q,#8eab3c 354Q,#5aa741,#00a446 360Q,#ffa4a3 414Q"></i><i style="--g:#ff9c64 -6Q,#009c62,#ff9f60,#00a15e,#ffa15d,#00a160 53Q,#ff9c63,#009767,#ff956c,#00946a,#ff9767,#009a67 122Q,#f96,#009766,#ff9c65,#00a25f 169Q,#ffa258,#00a35e,#ffa063,#009d60,#ffa15c,#00a557 242Q,#ffaf53,#00b94d 268Q,#ffb548,#00b242 296Q,#ffc03b 311Q,#6eca35,#00d230 329Q,#ff9520 353Q,#a9822b 360Q,#007c2e 363Q,#ff7c76 414Q"></i><i style="--g:#ff996a -6Q,#096,#ff9c63,#009f61,#ff9e5f,#009e62,#ff9b65,#009766,#ff9868 90Q,#096,#ff9a63,#009a67,#ff956a,#00916a 149Q,#ff976a,#009e63 171Q,#ffa15b,#00a45a,#ffa859,#00ad55,#ffaa52,#00a751,#ffb150,#00bc49 270Q,#ffbd41,#00be3f 299Q,#ffc33d 316Q,#77c634,#00ca2b 336Q,#00ba26,#008d22 347Q,#ff2c15 361Q,#001e0b,#ff1d03 365Q,#000603 414Q"></i><i style="--g:#ff9272 -7Q,#00926e,#ff956a,#009868,#ff9866,#096,#ff9967 68Q,#009a64,#ff9f60,#00a45c,#ffa557 115Q,#00a55c,#ffa060,#009b60 151Q,#ff9f61,#00a25f,#ffa35d,#00a457,#ffaf50,#00bb4b 221Q,#ffb746,#00b348,#ffb44a,#00b54a 273Q,#ffbb4a 287Q,#00c142 303Q,#ffcc37 322Q,#00d92d 345Q,#5bbf28 355Q,#ff9f23 367Q,#002423 414Q"></i><i style="--g:#ff897c -5Q,#008976 9Q,#ff8d71,#00926e,#ff936b,#00946a 58Q,#ff9968,#009d61,#ffa559 92Q,#00ad54,#ffad4f,#00ae52,#ffad54,#00ad52,#ffad4f,#00ad54 176Q,#ffab58,#00a852,#ffb14b 210Q,#00bb48,#ffbb45,#00bb45 248Q,#ffb446,#00ac4e,#ffb456 291Q,#00be43 309Q,#92c838,#ffd12e 329Q,#00e73f 353Q,#63cf46 362Q,#97c748,#ffbe4b 369Q,#004d4b 414Q"></i><i style="--g:#008b71 -7Q,#ff8f71,#00936d,#ff9568,#009868 37Q,#ff9867,#009866,#ff9d64,#00a35c,#ffaa53 94Q,#00b150,#ffb14d,#00b14c,#ffb64a,#00bb46,#ffb942,#00b848,#ffb54e,#00b34c,#ffb24a,#00b14d 224Q,#ffb250,#00b350 250Q,#ffb04f 264Q,#00ac4a,#ffb845,#00c53d 314Q,#85cd38,#ffd732 336Q,#9be147 348Q,#00eb5f 361Q,#5ade6a 367Q,#8dd96e,#ffd373 371Q,#007573 414Q"></i><i style="--g:#009d5d -7Q,#ffa15d,#00a65b,#ffa658,#00a65a,#ffa45c,#00a35a,#ffa858,#00ad53,#ffb04d,#00b24e,#ffb24e,#00b34a,#ffba45,#00c141 153Q,#ffbf3e,#00bc41,#ffbc44,#00bc48,#ffb04c,#00a456 226Q,#ffa161 239Q,#009e5e 253Q,#ffab5b 270Q,#00b746,#ffbe31 301Q,#6ec32d,#00c729 320Q,#ffd81f 346Q,#acde3d 355Q,#00e561 366Q,#60db71 371Q,#ffd57a 374Q,#007f7a 414Q"></i><i style="--g:#00b04a -7Q,#ffb34a,#00b749,#ffb648,#00b44b,#ffb34d,#00b34b,#ffb648,#00ba47,#ffb746,#00b44a,#ffb44e,#00b449,#ffb944,#00bd45 154Q,#ffbb45,#00b944,#ffb943,#00b94c 202Q,#fa5,#009a5c 229Q,#ffa463 246Q,#00ac57,#ffb54c 275Q,#00bf46 288Q,#97c342 297Q,#ffc73f,#a6ca37 312Q,#00d223 330Q,#ffd908 353Q,#ffda2a 358Q,#d2db41 360Q,#00de8e 370Q,#64dba6,#ffd9b3 375Q,#00b5b3 414Q"></i><i style="--g:#00bf3c -7Q,#ffc23c,#00c43c,#ffc23d,#00c03e,#ffc23e,#00c43b,#ffc439,#00c53d,#ffbe40,#00b745,#ffb74a 120Q,#00b749,#ffb448,#00b24d,#ffb152,#00af51,#ffaa4f 190Q,#00a55d,#ffa06b 216Q,#009a57 235Q,#ffb148,#00c740,#ffc139,#00bb3b 291Q,#65c03d 299Q,#a9c53e 309Q,#ffca40 316Q,#69d032,#00d625 336Q,#78d912 349Q,#ffdc04 359Q,#e7dd4a 365Q,#00dfaf 373Q,#ffdecf 376Q,#00d0cf 414Q"></i><i style="--g:#00ca33 -6Q,#ffca33,#00cb34,#ffcb35,#00ca34,#ffcd32,#00d130,#ffce2f,#00cb36,#ffc33d,#00bc41,#ffba44,#00b949,#ffaf4e,#00a657,#ffa25f,#009f64,#ff9869 190Q,#749469 198Q,#008a68 216Q,#ff9c68,#00af50 239Q,#ffbe37,#00ce39,#ffc63b 278Q,#6ac134 288Q,#00b929,#ffd11e 320Q,#88df19,#53ed14 339Q,#00f90f 347Q,#68f40c,#ffed07 362Q,#ffeb2b,#d9e955 368Q,#00e4b9 375Q,#ffe3d4 377Q,#00d6d4 414Q"></i><i style="--g:#00ce31 -6Q,#ffce31,#00cd31,#ffcf31,#00d12e,#ffd32a,#00d52c,#ffcf2e,#00c935,#ffc53c,#00c03f,#ffbb41,#00b64c,#ffa857,#009b61,#ff926b 167Q,#008a78 178Q,#ff8b81,#008c73 193Q,#ff9c5e,#00ad52,#ffbb46,#00c93d,#ffc334 253Q,#00bd48 266Q,#59a851 271Q,#ff8d5c,#006f61 287Q,#ff9265 293Q,#50be57 301Q,#00de4d,#30c045 312Q,#ff7d34 322Q,#a16036,#004b38 330Q,#935e3a 332Q,#ff873c 336Q,#00fc29 348Q,#40f71c 356Q,#91f517 359Q,#fff10e,#aaee3f 370Q,#63ec5b,#00ea74,#ffe586 378Q,#009186 414Q"></i><i style="--g:#00cd33 -5Q,#ffcd33,#00cc32,#ffcf30,#00d32e,#ffd22b,#00d130,#ffca35,#00c33a,#ffc13f,#00bf42,#ffb646,#00ac54,#ff9f62 144Q,#00926d,#f87 166Q,#008073 173Q,#ff926f 182Q,#00aa58,#ffbb40,#00cb34,#ffd327,#00db31 242Q,#ffbc3c 255Q,#a6af4d,#009f64 266Q,#ff9d80,#009c5c 283Q,#9bad3f,#ffbd24 296Q,#00e052 309Q,#61c666,#ffad79,#00904d,#a0aa25,#ffbf04,#b2dd07 344Q,#00fc0b,#46f30e,#ffea12 366Q,#00db12,#ffdb12 390Q"></i><i style="--g:#00c937 -5Q,#ffc937,#00ca35,#ffcc32,#00ce33,#ffc934,#00c53a,#ffc041,#00bb42,#ffb944,#00b84b,#ffab52,#009f5e,#ff9869 143Q,#00926e,#ff9273,#009265,#ffa955 182Q,#00c242,#ffd02e,#00dd23,#ffda19,#00d735 243Q,#5dc441 248Q,#ffaa50 255Q,#9b9857,#00875f 265Q,#ffa76a 272Q,#69be52,#00d738 284Q,#ffcb03 296Q,#cfc61f 301Q,#00bd54,#ffd985 318Q,#79e869,#00fb45,#62fb27 333Q,#fffc02 339Q,#b7fc08 348Q,#78fc09 350Q,#00fc0c,#42f60f 358Q,#ffea14 366Q,#00d914,#ffd914 389Q"></i><i style="--g:#00c43b -4Q,#ffc53b,#00c63a,#ffc539,#00c43d,#ffbd42,#00b647,#ffb44d,#00b34d,#ffaf4d,#00ab55,#ffa45e 119Q,#009d5e,#ff9f5f,#00a15e,#ffa85d,#00b04c 172Q,#ffc139,#00d32f,#ffda25,#00e124,#ffcf23,#00bd45 243Q,#ffab62 253Q,#009c4f 262Q,#89b045,#ffc739 273Q,#60e52d 280Q,#00fb24 285Q,#4aea1c 289Q,#ffc70d 298Q,#91b218,#009c24 309Q,#ffcc37,#00fc21,#53f20c 336Q,#ffec00 341Q,#c1e308 349Q,#7fe10a 351Q,#00db0f 356Q,#ffda1a,#00d91a,#ffd91a 389Q"></i><i style="--g:#00c13f -4Q,#ffc03f,#00c041,#ffbb42,#00b54a,#ffaf52,#00a953 63Q,#fa5,#00ac56,#ffa856,#00a458 107Q,#ffa95a,#00ae52,#ffb44a,#00b943,#ffc63d,#00d32e 173Q,#ffd920,#00e021,#ffdb22,#00d731,#ffbd40 231Q,#00a548,#ffba50 251Q,#77c53f,#00d12c,#8adc19,#ffe706,#89f213,#00fd20,#47ee2b 291Q,#ffd83c 298Q,#00bc1e 308Q,#8bcb0d,#ffd601 316Q,#bbeb02 323Q,#00fc02 329Q,#47ee03 338Q,#8beb03 340Q,#ffe304 345Q,#00d214,#ffd923,#00e123,#ffe123 389Q"></i><i style="--g:#00be42 -4Q,#ffbb42,#00b948,#ffb04e,#00a756,#ffa55d 52Q,#00a35b,#ffa558,#00a858,#ffaa58,#00ab50,#ffb847 116Q,#00c53d,#ffcd32,#00d527,#ffe31b,#00f115,#ffec0e,#00e719,#ffd524,#00c440 220Q,#ffb959,#00af41 240Q,#7fbf34,#ffd425 251Q,#00fc14 262Q,#58f90e 267Q,#fff404,#baf016,#00eb2e 287Q,#fff44f,#00fc2b 307Q,#54fd1a,#fffe04 317Q,#c1ff19 326Q,#00ff24 331Q,#55f537 339Q,#ffee45 345Q,#00e138,#ffe22a,#00e42a,#ffe42a 389Q"></i><i style="--g:#00bc47 -3Q,#ffb647,#00b050,#ffa759,#009f5c 41Q,#ffa25f,#00a55b,#ffa757,#00aa53,#ffb44f,#00be41 105Q,#ffcb31,#00d927,#ffe41d,#00ef11,#fff504 163Q,#00fb06,#fff108,#00e81a,#ffcd2c,#00b341 220Q,#ffc253 230Q,#7eca42,#00d32e 240Q,#a8df15 247Q,#ffe804 252Q,#00fb04 262Q,#48f104,#ffe604 275Q,#c0de0a 280Q,#00d114 287Q,#ffea21 297Q,#81f619,#00ff13 306Q,#37f506 314Q,#aff201,#fff000 319Q,#ffe515 328Q,#90e21d 330Q,#00dc33 335Q,#ffe352,#00eb3e 355Q,#ffe427,#00df27,#ffdf27 389Q"></i><i style="--g:#00ba4d -3Q,#ffb14d,#00a856,#ffa55e,#00a15b 40Q,#ffa758,#00ac54,#ffb051,#00b448,#ffc23f,#00d130 105Q,#ffdc20,#00e817,#fff10d,#00fb09,#fffc04 163Q,#b9fc06 167Q,#00fc0a 175Q,#ffee0f,#00e023,#ffcc36 209Q,#00ba31,#ffd92d 230Q,#00fb18,#fffb04 252Q,#b9fb06 257Q,#00fc08,#51f40a,#ffea0c 276Q,#00dc08 287Q,#ffea03 296Q,#bcf303,#00fc03 308Q,#00e603 316Q,#6edb03 318Q,#ffc302,#a0ad0d,#009717 334Q,#ffb828,#00df22 355Q,#ffdb1d,#00d61d,#ffd61d 389Q"></i><i style="--g:#00b651 -3Q,#ffaf51,#00a754,#ffaa57,#00ae51,#ffb24b,#00b648,#ffbd45,#00c438 83Q,#ffd32b,#00e220,#ffea15,#00f10c,#fff704,#00fc04 151Q,#fff604 164Q,#00f011,#ffe31d,#00d627,#ffda31,#00de1b,#ffee03 230Q,#9ef503,#00fd02 240Q,#4efd01 246Q,#a4fc01,#fffc01 252Q,#c3fc0a 258Q,#00fc17 266Q,#fffd28,#00fd16 286Q,#4dfd0d,#fffd03 296Q,#fffd1d 304Q,#89fe25,#00fe33 310Q,#30df4f 318Q,#ffc865,#00a93d,#aeb51b 339Q,#ffbd04 344Q,#00d00f,#ffd319,#00d619,#ffd619 389Q"></i><i style="--g:#00b54e -4Q,#ffb44e,#00b24b,#ffb847,#00bf42,#ffc23c,#00c538,#ffcf33 72Q,#00d926,#ffe419,#00ee13,#fff30d,#00f808,#fffa03,#00fb0b,#ffec13,#00dd1e 175Q,#ffda28,#00d820,#ffea18,#00fc0c 218Q,#50fc07,#fffc01 229Q,#a7fc02,#00fb02,#42f503,#ffed04 254Q,#b3e809 259Q,#00e011 266Q,#ffee1c,#00fb0f 286Q,#4bf205 293Q,#91ef03,#ffec00 297Q,#ffe02d 306Q,#93dd3b 309Q,#00d65f 314Q,#ffe190 322Q,#72e775,#00ed56 332Q,#ffdf09,#00d215,#ffd820,#00df20,#ffdf20 389Q"></i><i style="--g:#00bc41 -5Q,#ffc141,#00c539,#ffcc32,#00d22e,#ffd52b,#00d824,#ffe31d,#00ef13,#fff309,#00f807 107Q,#fffa06,#00fc06,#fff306,#00ea17,#ffdd28 164Q,#00d128,#ffdc28,#00e816,#fff204 207Q,#b9f504 211Q,#00fb03,#4afb03,#fffb03 230Q,#a6fb03,#00fb04,#4ff404,#ffea05 255Q,#00dc04,#ffec03 276Q,#a6f305,#00fc06 287Q,#2ed108 295Q,#76c508 297Q,#ffa70a,#918b18,#007126 312Q,#ffaa3c 320Q,#00fc34 331Q,#59f62f,#ffee2a 344Q,#00e32a,#ffe42a,#00e62a,#ffe62a 389Q"></i><i style="--g:#00cc2b -5Q,#ffd42b,#00dd24,#ffe11d,#00e51a,#ffea17,#00ef0e,#fff605,#00fc04,#fffc03 96Q,#00fc04,#fffb04,#00fb0b,#ffe912 142Q,#00d723,#ffd533,#00d427,#ffe71b,#00fb0d 197Q,#8efc06 203Q,#fffd01 206Q,#bcfd02,#00fe02,#4ffe02,#fffd02,#bafd08,#00fc0e 243Q,#5bfb12 248Q,#fffa18 255Q,#00f70e,#fff904 276Q,#c0fb25,#00fc47,#32da63 296Q,#ffb583,#009557 308Q,#bfb021 315Q,#ffbf04 319Q,#b1d913,#00f724 333Q,#fff23c,#00ec33,#ffe72a,#00e22a,#ffe22a 389Q"></i><i style="--g:#00e213 -5Q,#ffea13,#00f30e,#fff509,#00f807,#fff904,#00fb03,#fffb03 73Q,#b1fc03 78Q,#00fc03 85Q,#4ffc03 89Q,#fffc03 96Q,#a9fc03 101Q,#00fc03 108Q,#fff803,#00f312,#ffe121 143Q,#00cf27,#ffd92c,#00e31a,#fff107,#00fe05 196Q,#56fd03,#fffc02,#bffc02 213Q,#00fb03,#55f503,#ffee03 233Q,#00e30e,#fff118,#00fe0e 265Q,#3ded09,#ffd902 277Q,#ffc52f,#00ad74 292Q,#ffc89d,#62de7b,#00fa51 308Q,#ffe901 319Q,#b9dc0f,#00d01b 334Q,#ffd92e,#00e327 355Q,#ffdd1f,#00d71f,#ffd71f 389Q"></i><i style="--g:#00f904 -5Q,#fffb04,#00fc04,#fffd04,#00fd04 39Q,#52fd04 44Q,#fffd04 51Q,#aafd03,#00fe03 61Q,#57fe02,#fffe02,#a7fd02,#00fd02,#5dfd02,#fffc02 96Q,#00fb03 109Q,#fff204,#00e816,#ffe028,#00d720,#ffe818,#00f90c 175Q,#fffb01 185Q,#a0fc01,#00fc01,#4dfb01,#fffa01,#c0f90a 214Q,#00f817 222Q,#ffe429,#00d11b,#ffe70b,#00fc1a 266Q,#1dd521 271Q,#ff9c2c,#00642f,#ffa532 296Q,#00fc22 307Q,#49ea16,#ffd90a 322Q,#00c00f,#ffc914,#00d216,#ffd217,#00d217,#ffd217 389Q"></i><i style="--g:#00fd03 -6Q,#fffc03,#00fc02 17Q,#53fc01 22Q,#fffc01,#a3fc02,#00fc02,#42fd03 44Q,#fffe04 51Q,#befe04,#00ff04 61Q,#46fe04,#fffd04 74Q,#00fb04,#fffc03,#00fc09,#ffee0e 120Q,#00e117,#ffe820,#00ef12,#fff603,#00fd03 175Q,#47fd03 179Q,#fffd03 186Q,#a7fd04,#00fd04,#45f204 204Q,#ffe405 211Q,#00cf24,#ffd141 233Q,#00d328,#ffd70c 255Q,#00db50 268Q,#ffc485 277Q,#00b34e 285Q,#ffd203 295Q,#dae816,#00fd29,#49f13c,#ffe64e 323Q,#00d530 333Q,#ffd20d,#00cf15,#ffd51d,#00db1d,#ffdb1d 389Q"></i><i style="--g:#00fd02 -6Q,#fffc02,#00fc02 17Q,#48fc01 22Q,#fffc01,#affd01,#00fd02,#53fd02,#fffd03,#aafd03,#00fc02,#5afc02,#fffd02 74Q,#00fd02,#fffa02,#00f70c,#ffee16 120Q,#00e610,#fff20a,#00fd07,#fffe04 164Q,#b3fe04,#00ff04,#46fe04 180Q,#fffd04 187Q,#aefd0d,#00fc18 200Q,#ffd72c 212Q,#00b636,#ffc640 233Q,#00d935,#ffaf2a 256Q,#008c4d 266Q,#ffbb65 274Q,#00fc3a 284Q,#56f71c,#fff203 296Q,#ffec1e,#00e53a 312Q,#ffea5d,#00f040 332Q,#ffe61f,#00de24,#ffe229,#00e729 378Q,#ffe729 389Q"></i><i style="--g:#00fe02 -6Q,#6efe02 1Q,#fffd02,#a8fd02 11Q,#00fc03 17Q,#fffd04 29Q,#befe03,#00ff02 39Q,#46fe02,#fffd01,#b2fc01,#00fb02 63Q,#fffb04,#00fb05,#fff507 98Q,#00ef0d,#fff413,#00f90a,#fffb01,#00fc02 152Q,#59fd02,#fffd03,#acfd03,#00fd02,#46f602,#ffec02 188Q,#00dc29 201Q,#ffc94a,#00b73e,#ffc432 233Q,#00d249,#ffa45e 256Q,#00853b 263Q,#ffc509,#00fe06 284Q,#38e303 293Q,#ffd101,#aabc0e 305Q,#00a919 312Q,#ffc92b 321Q,#00ee2e,#ffed31,#00eb2f,#ffe92d,#00e72d,#ffe72d 389Q"></i><i style="--g:#00fb00 -5Q,#65fc00,#fffc00,#affd01,#00fd01 17Q,#55fd02,#fffd03,#a6fd02,#00fc02 40Q,#3ffc02 45Q,#fffc02 52Q,#00fb04 65Q,#fff806,#00f50a,#fff20f,#00ef0a,#fff505,#00fc03 130Q,#53fc02,#fffd01,#b3fe02,#00fe02,#47fe03 158Q,#fffd04 165Q,#00fb12,#ffd71f 190Q,#00b636,#ffc14b,#00cc3b 221Q,#ffc22a,#00b954 244Q,#ffc275,#00cb3f,#ffe004 273Q,#d2ed14,#00fb23,#2ee533,#ffce43 301Q,#00af26 310Q,#ffc304 321Q,#00d91c 333Q,#ffe031,#00e72a,#ffe123,#00da23,#ffda23 389Q"></i><i style="--g:#00fd03 -5Q,#5ffd03,#fffc03,#b8fc03 11Q,#00fb03 18Q,#4dfb04 23Q,#fffb04 30Q,#00fc05,#fff606,#00f10b,#fff010,#00ee10,#fff311,#00f809,#fffa02 119Q,#b3fa02 123Q,#00fc02 130Q,#41fc03 135Q,#fffc03,#a5fd03 148Q,#00fd04,#56f604,#ffec04 166Q,#00dd28,#ffc64a 189Q,#00b13e,#ffc631 209Q,#00de31,#ffc031 233Q,#00a53d,#ffcf48,#00fc27 262Q,#47f613,#fff000 274Q,#ffe71c 282Q,#9ce529 284Q,#00df4e 290Q,#ffe57a,#00ec43 309Q,#ffdd03,#00cc13 333Q,#ffd121,#00d71c,#ffd417,#00d017,#ffd017 389Q"></i><i style="--g:#00fb04 -4Q,#59fb04 1Q,#fffb04 7Q,#00fb04,#fff503,#00f00d,#ffeb17 53Q,#00e717,#ffe916,#00ec11,#fff40b,#00fc06 108Q,#7afc04,#fffd02,#a6fd02,#00fe02,#52fb02 136Q,#fff703 143Q,#aef50b 148Q,#00f117 155Q,#ffd12b,#00b33f 177Q,#ffc151,#00d035 198Q,#ffd817,#00e02a,#ffce3c 232Q,#00be21,#ffe104 253Q,#7bf303 259Q,#00ff03 262Q,#00e502 270Q,#66d902 273Q,#ffbf01 277Q,#afa11c,#008732 290Q,#ffba50 298Q,#00fd3b 308Q,#45f430 314Q,#ffe81f 322Q,#00d71a,#ffd215,#00ce16,#ffd218,#00d618,#ffd618 389Q"></i><i style="--g:#00fb04 -3Q,#fff704,#00f20f,#ffe819,#00dd1d,#ffe022,#00e31d,#ffe817,#00ee0e,#fff504,#00fc03 108Q,#54fc03 113Q,#fffb03 120Q,#b3fb08 124Q,#00fa10 132Q,#ffe11d,#00c838 155Q,#ffba51,#00ae40,#ffcd2e 186Q,#00f11f,#ffe50f,#00da20 221Q,#ffe930,#00f918 242Q,#7cfa0d,#fffb03 252Q,#d3fd14,#00fe22 265Q,#00d535 273Q,#6bc93a 275Q,#ffae47 280Q,#00842c 288Q,#929d1a,#ffb907 298Q,#00fa29,#fff347 322Q,#00ed31,#ffe118 344Q,#00d71f,#ffde26,#00e526,#ffe526 389Q"></i><i style="--g:#00ef18 -3Q,#ffe518,#00db22,#ffd72c,#00d328,#ffdb24,#00e21e,#ffea17,#00f10d,#fff703 97Q,#00fc0a,#ffe711,#00d32c 132Q,#ffbe45 143Q,#00aa4a,#ffbd4f 163Q,#85c641 168Q,#00d22d,#98de19,#ffe608 186Q,#00fb0f,#ffec15,#00dd0f,#ffef09 231Q,#75f808 237Q,#00fe06 240Q,#47f904,#fff503 253Q,#dcf02b 261Q,#8cee36 263Q,#00eb51,#80e66c,#ffe281 278Q,#8fdf6c 281Q,#00da47 287Q,#ffd302 297Q,#b5cf15,#00ca29 311Q,#ffdc45,#00ef35,#ffeb24,#00e72a 355Q,#ffe930,#00eb30,#ffeb30 389Q"></i><i style="--g:#00db2f -3Q,#ffd22f,#00c932,#ffce35,#00d32c,#ffda23,#00e21d,#ffe817 74Q,#00ef13,#ffe80f,#00e124,#ffc739,#00ae49 132Q,#ffb158,#00b442 151Q,#7dc338,#ffd62a 162Q,#00f916,#fff803 185Q,#b0f708 190Q,#00f60f 198Q,#fff51a,#00f30e 220Q,#7ef508,#fff703,#affa02 235Q,#00fc02,#00e102 248Q,#69d702 250Q,#ffc201,#b6aa15,#008f2a 267Q,#ffc346,#00fe2c,#49e615 293Q,#ffd202 300Q,#b0c309 304Q,#00ae13 311Q,#ffc322,#00da26,#ffe32a,#00ec29,#ffe529,#00df29,#ffdf29 389Q"></i><i style="--g:#00c640 -3Q,#ffc440,#00c13a,#ffcb34,#00d52c 40Q,#ffda23,#00df20,#ffe11d,#00e223,#ffce2a,#00bb43 109Q,#ffb05b,#00a550,#ffbe45 140Q,#6bcc34,#00d926 151Q,#ffeb05,#00fc04 174Q,#49f804 178Q,#fff203 186Q,#00e90a,#fff211,#00fc09 219Q,#50fc06 224Q,#a7fc03,#fffc01 230Q,#c9fc17,#00fc2d 243Q,#37e040,#ffc055 256Q,#009a2e,#ffc401 273Q,#b2e30d,#00fe17 286Q,#4aed25,#ffdd30 300Q,#00c71e,#ffc609,#00c519,#ffd227,#00e020,#ffd818,#00d018,#ffd018 389Q"></i><i style="--g:#00b745 -4Q,#ffbd45,#00c43b,#ffcd30,#00d62c,#ffd628,#00d729 63Q,#ffd12a,#00ca3b,#ffb34c 98Q,#009e53,#ffae5a,#00c03f 128Q,#90cf30,#ffdc22 139Q,#00fa12,#fffb02 162Q,#bcfb06 167Q,#00fc0b 175Q,#41f80e 178Q,#fff014 186Q,#00e60b,#fff103 208Q,#95f603,#00fc03,#47ef03 225Q,#ffdf03,#c4d223,#00c14a 245Q,#ffdb78 253Q,#77ea5d,#00fb3b,#8dfb17 269Q,#fffb00 273Q,#e5fb16 281Q,#94fb1c 283Q,#00fb2c 289Q,#fffa48,#00fa2d,#ffe10e,#00ca19,#ffcd23,#00d11b 355Q,#ffd113,#00d013,#ffd013 389Q"></i><i style="--g:#00b341 -5Q,#ffbe41,#00c938,#ffcd2f,#00d030,#ffcd32,#00ca38,#ffba3f,#00ac53 86Q,#ffa964,#00a651,#ffc23b 116Q,#00e121,#ffee06,#00fb04 151Q,#56f804 156Q,#fff403 163Q,#b1f209 168Q,#00ed14 175Q,#ffed22,#00ee13,#fff503 208Q,#b0f80c 213Q,#00fd18,#47dd23,#ffb530 233Q,#7b982e 239Q,#00832d,#7c9b2c 246Q,#ffbd2a 251Q,#00fc19 261Q,#3ee80b 269Q,#ffd901,#b0c80c,#00b716 289Q,#ffd925,#00fc24 309Q,#52f624,#ffef23 322Q,#00e423,#ffd923,#00cf21,#ffd820,#00e120,#ffe120 389Q"></i><i style="--g:#00b83b -5Q,#ffc13b,#00ca38,#ffc835,#00c53b,#ffbe40,#00b64c,#ffa858 75Q,#009b58,#ffaf58 94Q,#00c73a,#ffdf1b,#00f80e,#fffa02 140Q,#b1fa05 144Q,#00fb0a 152Q,#42f50c 156Q,#ffe711 164Q,#00d51b,#ffe424,#00f416 198Q,#ffe307 210Q,#aedd1d 214Q,#00d244 222Q,#70c95e,#ffc175 232Q,#00b341 240Q,#ffd402 250Q,#bfeb0e 257Q,#60f614,#00ff18 262Q,#30e526 270Q,#76df2a 273Q,#ffce33 278Q,#00b01c,#ffd003 297Q,#b9e00b 302Q,#00fb18 311Q,#fffb2a,#00fb26,#ffea22,#00da29,#ffe431,#00ee31,#ffee31 389Q"></i><i style="--g:#00bf3a -5Q,#ffc13a,#00c43e,#ffbd42,#00b649,#ffac51,#00a35b 63Q,#ffa663,#00a94f 83Q,#ffc638,#00e520,#fff108 117Q,#00fc06,#fff404 142Q,#00ec1a,#ffda30,#00c929,#ffd820,#00e928 198Q,#50d82b 203Q,#ffba31 210Q,#9ca73e,#00924e 221Q,#ffbd64,#4ce146 235Q,#00fb31,#7ef817,#fff502 251Q,#d5f123 259Q,#8df02c 261Q,#00ed43 266Q,#ffe86d 276Q,#97e65b 280Q,#00e33b 286Q,#ffdb03 297Q,#aad608,#00d10f 310Q,#ffe318,#00f71a,#ffef1b,#00e726,#ffe731,#00e631,#ffe631 389Q"></i><i style="--g:#00bf41 -5Q,#ffbb41,#00b749,#ffae51,#00a659 41Q,#ffa260,#009d5a,#ffb155 71Q,#00c639,#ffdd1c,#00f510,#fff605,#00f70e,#ffe018,#00c930 154Q,#ffc946,#00c937 175Q,#ffc827,#00c849 199Q,#71b659,#ffa668 210Q,#008e49 218Q,#94a835,#ffc61f 228Q,#00fd13 239Q,#44dd0a,#ffc203 254Q,#b5ab19,#009132 266Q,#ffbf52 275Q,#5fe144,#00fb3a,#3fef2f 291Q,#ffda1d 299Q,#00bf13,#ffcf09 321Q,#00e10e,#ffe612,#00eb19,#ffde20,#00d120,#ffd120 389Q"></i><i style="--g:#00b74f -4Q,#ffae4f,#00a658,#ffa160 29Q,#009c61,#ffa361,#00ab4f,#ffc43c 71Q,#00de26,#ffe90f,#00f410,#ffe911,#00df27,#ffc43b 143Q,#00ab44,#ffb84d 164Q,#00c646,#ffaf3f 188Q,#98a450,#009961 199Q,#ffac79 207Q,#71b661 211Q,#00c342 217Q,#ffdd03 229Q,#bae914 234Q,#00fb2b 242Q,#16d83c 248Q,#ffa753,#007a3a 264Q,#8b912a,#ffb116 274Q,#00f636 288Q,#7feb45,#ffe252 299Q,#00cf36 309Q,#ffce17,#00ce15,#ffda12,#00e610,#ffd70f,#00c90f,#ffc90f 389Q"></i><i style="--g:#00a960 -4Q,#ffa060,#009864,#ff9b68,#009d5e,#ffae55,#00bf3f 60Q,#ffd428,#00e91d,#ffe713,#00e51e,#ffd02a,#00bc45 133Q,#ffac5e,#009e56,#ffa94d 164Q,#00b65a,#ff9666 188Q,#00815c 196Q,#869358 199Q,#ffb151,#62d43c,#00f22a 218Q,#ffe204 231Q,#e2da2a 237Q,#00ce66 246Q,#76c78a 251Q,#ffc2a0,#6fbe89,#00b96b 262Q,#b8ba2b 270Q,#ffba04,#a0bb1a 281Q,#00bb39 288Q,#ffcb61,#00de4e 309Q,#ffd43a,#00cb2f,#ffd523,#00df1a,#ffdd10,#00db10,#ffdb10 389Q"></i><i style="--g:#00986d -4Q,#ff966d,#009468,#ff9e63 27Q,#00a954,#ffbc44,#00cf32 61Q,#ffda1f,#00e421,#ffd823,#00cc37,#ffb24a 122Q,#009960 133Q,#ff9c72,#009f64 153Q,#ff9c54,#00996f 177Q,#ff9b81,#009d5d 194Q,#a3b540,#ffca28 206Q,#4bea24 215Q,#00fb22 220Q,#fff51b 235Q,#aff31d 241Q,#98f21e 244Q,#7dee21 253Q,#5fed22 257Q,#00ea25,#5fd127 269Q,#ffb129 277Q,#8c9a32,#00863a 288Q,#ffa549 298Q,#00cf4f,#ffce56,#00cc49,#ffd13b,#00d62f,#ffe523,#00f523 378Q,#fff523 390Q"></i><i style="--g:#008d6e -5Q,#ff946e,#009c63 15Q,#ffa957,#00b747,#ffc737,#00d72d 62Q,#ffd623,#00d52e,#ffc23a,#00af52,#ff956a 124Q,#00816d,#ff8e71 141Q,#00a06c,#ff8d67 165Q,#007f6b 175Q,#ff986e,#5aae57,#00c243 195Q,#9fcd27 203Q,#ffd613 208Q,#00eb1e 223Q,#5dea22 229Q,#8cea25 233Q,#bbe92c 243Q,#ffe831,#a0e83f 257Q,#00e74f 265Q,#57cb5b,#ffa969 279Q,#008454 287Q,#ff9635 298Q,#00aa48 311Q,#ffb558,#00c152 332Q,#ffc44c,#00c742,#ffdc38,#00f238 378Q,#fff238 390Q"></i><i style="--g:#009064 -7Q,#ff9c64,#00a857,#ffb54a,#00c33d 39Q,#ffcd2f,#00d62f,#ffcc2e,#00c240,#ffab52,#009559 114Q,#5e955d 122Q,#739662,#ff9767 141Q,#009972 153Q,#ff8f7b 164Q,#008869 172Q,#9d9b5c,#ffae4e 183Q,#5fc73f 191Q,#00da33 197Q,#ffcf17 211Q,#73c917,#00c217 229Q,#5bc017 242Q,#ffbe17 253Q,#b6bd35 259Q,#00bb65 268Q,#63b780,#ffb396 278Q,#00ac77 286Q,#ff9b42 300Q,#008e47,#ff9c4c 321Q,#00ab4f,#ffaf51,#00b34c,#ffbd47,#00c747,#ffc747 389Q"></i><i style="--g:#009064 -7Q,#ff9c64,#00a857,#ffb54a,#00c33d 39Q,#ffcd2f,#00d62f,#ffcc2e,#00c240,#ffab52,#009559 114Q,#5e955d 122Q,#739662,#ff9767 141Q,#009972 153Q,#ff8f7b 164Q,#008869 172Q,#9d9b5c,#ffae4e 183Q,#5fc73f 191Q,#00da33 197Q,#ffcf17 211Q,#73c917,#00c217 229Q,#5bc017 242Q,#ffbe17 253Q,#b6bd35 259Q,#00bb65 268Q,#63b780,#ffb396 278Q,#00ac77 286Q,#ff9b42 300Q,#008e47,#ff9c4c 321Q,#00ab4f,#ffaf51,#00b34c,#ffbd47,#00c747,#ffc747 389Q"></i><i style="--g:#009064 -7Q,#ff9c64,#00a857,#ffb54a,#00c33d 39Q,#ffcd2f,#00d62f,#ffcc2e,#00c240,#ffab52,#009559 114Q,#5e955d 122Q,#739662,#ff9767 141Q,#009972 153Q,#ff8f7b 164Q,#008869 172Q,#9d9b5c,#ffae4e 183Q,#5fc73f 191Q,#00da33 197Q,#ffcf17 211Q,#73c917,#00c217 229Q,#5bc017 242Q,#ffbe17 253Q,#b6bd35 259Q,#00bb65 268Q,#63b780,#ffb396 278Q,#00ac77 286Q,#ff9b42 300Q,#008e47,#ff9c4c 321Q,#00ab4f,#ffaf51,#00b34c,#ffbd47,#00c747,#ffc747 389Q"></i><i style="--g:#009064 -7Q,#ff9c64,#00a857,#ffb54a,#00c33d 39Q,#ffcd2f,#00d62f,#ffcc2e,#00c240,#ffab52,#009559 114Q,#5e955d 122Q,#739662,#ff9767 141Q,#009972 153Q,#ff8f7b 164Q,#008869 172Q,#9d9b5c,#ffae4e 183Q,#5fc73f 191Q,#00da33 197Q,#ffcf17 211Q,#73c917,#00c217 229Q,#5bc017 242Q,#ffbe17 253Q,#b6bd35 259Q,#00bb65 268Q,#63b780,#ffb396 278Q,#00ac77 286Q,#ff9b42 300Q,#008e47,#ff9c4c 321Q,#00ab4f,#ffaf51,#00b34c,#ffbd47,#00c747,#ffc747 389Q"></i></div></div><div class="p" style="left:1270.1px;top:558.7px;width:475.5px;height:357.6px"><div class="f" style="left:-12px;width:500px;height:357.6px"><i style="--g:#009467 -5Q,#ff9767,#009a66,#ff9b64,#009d62,#ff9f5f,#00a25f,#ff9e60,#009a64,#ff9768 98Q,#00936c,#ff926f,#00916b,#ff9667,#009a69 153Q,#ff966b,#009368,#ff9965,#009f62 198Q,#ff9b60,#00976a 222Q,#ff9674,#009569 242Q,#ff995c,#009d65 266Q,#ff9c6e,#009b64,#ff9c5a 299Q,#009e5b,#ffa45c,#00aa5a,#ffac58,#00af55,#ffb951,#00c351 378Q,#ffc351 390Q"></i><i style="--g:#009467 -5Q,#ff9767,#009a66,#ff9b64,#009d62,#ff9f5f,#00a25f,#ff9e60,#009a64,#ff9768 98Q,#00936c,#ff926f,#00916b,#ff9667,#009a69 153Q,#ff966b,#009368,#ff9965,#009f62 198Q,#ff9b60,#00976a 222Q,#ff9674,#009569 242Q,#ff995c,#009d65 266Q,#ff9c6e,#009b64,#ff9c5a 299Q,#009e5b,#ffa45c,#00aa5a,#ffac58,#00af55,#ffb951,#00c351 378Q,#ffc351 390Q"></i><i style="--g:#009467 -5Q,#ff9767,#009a66,#ff9b64,#009d62,#ff9f5f,#00a25f,#ff9e60,#009a64,#ff9768 98Q,#00936c,#ff926f,#00916b,#ff9667,#009a69 153Q,#ff966b,#009368,#ff9965,#009f62 198Q,#ff9b60,#00976a 222Q,#ff9674,#009569 242Q,#ff995c,#009d65 266Q,#ff9c6e,#009b64,#ff9c5a 299Q,#009e5b,#ffa45c,#00aa5a,#ffac58,#00af55,#ffb951,#00c351 378Q,#ffc351 390Q"></i><i style="--g:#009467 -5Q,#ff9767,#009a66,#ff9b64,#009d62,#ff9f5f,#00a25f,#ff9e60,#009a64,#ff9768 98Q,#00936c,#ff926f,#00916b,#ff9667,#009a69 153Q,#ff966b,#009368,#ff9965,#009f62 198Q,#ff9b60,#00976a 222Q,#ff9674,#009569 242Q,#ff995c,#009d65 266Q,#ff9c6e,#009b64,#ff9c5a 299Q,#009e5b,#ffa45c,#00aa5a,#ffac58,#00af55,#ffb951,#00c351 378Q,#ffc351 390Q"></i><i style="--g:#009667 -4Q,#ff9967,#009c64,#ff9d62,#009e60,#ffa25e,#00a55b 63Q,#ffa459,#00a35c,#ffa060,#009c64,#ff9867,#009467 131Q,#ff9967,#009f65,#ff9a63,#009764,#ff9c65,#00a160,#ffa35a 209Q,#00a561,#ff9a67 232Q,#009163,#ff9c5e 253Q,#00a95f,#ffa161 277Q,#009b5c,#ffa356,#00ab57,#ffaf58,#00b353,#ffb74d 343Q,#00bc46,#ffcf3f,#00e43f,#ffe43f 390Q"></i><i style="--g:#009c63 -4Q,#ff9d63,#009f61,#ffa05e,#00a25d,#ffa55c,#00a857,#ffaa52 74Q,#00ad54,#ffaa56,#00a758,#ffa25b,#009e5f,#ffa064,#00a25e 153Q,#ffa159,#00a15d,#ffa262,#00a35c,#ffa956,#00af55 220Q,#ffa454,#009b5b 243Q,#ffa561 253Q,#00b059,#ffaa50,#00a552 288Q,#ffae54,#00b850,#ffb94c,#00ba45,#ffc13e 343Q,#00c733,#ffd429,#00e229,#ffe229 390Q"></i><i style="--g:#00a65c -4Q,#ffa55c,#00a35b,#ffa559,#00a858,#ffa958,#00aa53,#ffaf4f,#00b54d 85Q,#ffb34b,#00b14d,#ffaf4e,#00ad54,#ffa95a,#00a556,#ffaa51 164Q,#00ae55,#ffab58,#00a755,#ffae52,#00b44b,#ffb244 231Q,#00b051,#ffb05c 254Q,#00b050,#ffb442,#00b748,#ffbb4e,#00bf45 309Q,#ffc13b,#00c235,#ffcb2f,#00d325,#ffd01b,#00cd1b,#ffcd1b 389Q"></i><i style="--g:#00b152 -4Q,#ffad52,#00aa53,#ffac54,#00ae53,#ffad51,#00ad50,#ffb34e,#00b848,#ffba43 96Q,#0b4,#ffbb45,#00bb47,#ffb44a,#00ad4c,#ffb34d,#00b94c 175Q,#ffb44a,#00b04c,#ffb34d,#00b745,#ffbe3d 231Q,#00c644,#ffbb4a,#00b144,#ffbd3d,#00c93e,#ffc63e,#00c336,#ffc92d,#00cf29,#ffd626,#00de22 355Q,#ffd01f,#00c31f,#ffc31f 389Q"></i><i style="--g:#00b948 -4Q,#ffb648,#00b34b,#ffb34f,#00b24d,#ffb34b,#00b34c,#ffb54d,#00b846,#ffbd3f,#00c23e 107Q,#ffc33d,#00c43c,#ffbf3b,#00bb42,#ffbd48,#00be43,#ffbd3d,#00bc41,#ffbb45,#00bb41 220Q,#ffc53d,#00d138,#ffc633,#00bc38,#ffc73c,#00d234,#ffcf2c,#00cb29,#ffd427,#00dd25,#ffdf22,#00e129 355Q,#ffd730,#00cc30,#ffcc30 389Q"></i><i style="--g:#00bd40 -5Q,#ffbd40,#00bc43,#ffba47,#00b746,#ffb846,#00ba47,#ffb948,#00b744,#ffbe40,#00c53c,#ffc738,#00c835,#ffc932,#00ca38,#ffc63e,#00c13a,#ffc535,#00c938,#ffc53b,#00c23c,#ffc93d,#00cf30 242Q,#ffd023,#00d02e,#ffd138,#00d32c,#ffd620,#00d923,#ffdf27,#00e525,#ffdf23,#00da2f,#ffda3b,#00db3b,#ffdb3b 389Q"></i><i style="--g:#00be3c -5Q,#ffc13c,#00c43d,#ffc13e,#00bd40,#ffbf41,#00c041,#ffbd41,#00bb42,#ffbf43,#00c43c 107Q,#ffc835,#00cb32,#ffd02f,#00d530,#ffce30,#00c732,#fc3,#00d231,#ffcf30,#00cd33,#ffcb37,#00ca2c 242Q,#ffd621,#00e326,#ffda2b,#00d225,#ffdc1f,#00e622,#ffe325,#00e025,#ffd626,#00cb2e 356Q,#ffd436,#00dd36,#ffdd36 389Q"></i><i style="--g:#00bf3b -5Q,#ffc43b,#00c938,#ffc736,#00c539,#ffc53c,#00c43b,#ffc339,#00c23d,#ffc241,#00c23b 107Q,#ffc736,#0c3,#ffd230,#00d72a,#ffd525,#00d22b,#ffd430,#00d72b,#ffd726,#00d729,#ffd12b,#00cc2a 242Q,#ffda2a,#00e922,#ffe01b,#00d820,#ffdf25,#00e723,#ffde20,#00d427,#ffcc2d 344Q,#00c42a,#ffcb27,#00d127,#ffd127 389Q"></i><i style="--g:#00c33b -4Q,#ffc63b,#00ca36,#ffcb31,#00cd33,#ffcb35,#00c934,#ffca34,#00cb36,#ffc739,#00c338,#ffc837,#00cd34,#ffd130,#00d529,#ffd921,#00de25,#ffdb2a 186Q,#00d725,#ffdb21,#00df20,#ffdb20,#00d728,#ffdc30,#00e121,#ffe112,#00e21d,#ffdf28,#00dc24,#ffd321,#00ca2b,#ffcb35 344Q,#00cb2b,#ffc921,#00c721,#ffc721 389Q"></i><i style="--g:#00ca38 -4Q,#ffca38,#00ca34,#ffce30,#00d32f,#ffd12d,#00cf2e,#ffd12f,#00d22f,#ffce2f,#00ca32,#ffcc36,#00cd33,#ffcf2f,#00d12a,#ffda24,#00e422,#ffde20 186Q,#00da20,#ffde20,#00e31d,#ffe41a,#00e422,#ffdc2a,#00d421,#ffde19,#00e81f,#ffdb26,#00ce28,#ffcb2b,#00c831 333Q,#ffd038,#00d830,#ffd229,#00cb29,#ffcb29 389Q"></i><i style="--g:#00d131 -4Q,#ffce31,#00cc31,#ffd030,#00d52c,#ffd528,#00d629,#ffd62b,#00d728,#ffd626,#00d52b,#ffd230,#00cf2f,#ffd02d,#00d12c,#ffd92b,#00e022 175Q,#ffe019,#00df1d,#ffe121,#00e31d,#ffe71a,#00ea1b,#ffdd1c,#00d023,#ffd929,#00e226,#ffd424,#00c72e,#ffcb39 322Q,#00ce35,#ffd631,#00de33,#ffdb35,#00d735,#ffd735 389Q"></i><i style="--g:#00d729 -4Q,#ffd529,#00d22c,#ffd32e,#00d42a,#ffd825,#00db25,#ffda26,#00da24,#ffdc21,#00df24,#ffd926,#00d428,#ffd52a,#00d52c,#ffd62d,#00d824,#ffde1b,#00e41e,#ffe221 209Q,#00e01f,#ffe31d,#00e619,#ffdf15,#00d826,#ffd536 277Q,#00d130,#ffce28,#00ca34,#ffcf3f,#00d533,#ffd526 344Q,#00d62f,#ffd937,#00dc37,#ffdc37 389Q"></i><i style="--g:#00db22 -4Q,#ffdb22,#00da26,#ffd829,#00d527,#ffda25,#00de23,#ffde20,#00dd20,#ffe020,#00e41e,#ffe01c,#00dd21,#ffdc25,#00da27,#ffd629,#00d227,#ffdb24,#00e422 198Q,#ffe020,#00dc21,#ffdc22,#00dc1f,#ffde1b,#00e129,#ffd037 278Q,#00c035,#ffc933,#00d135 310Q,#ffd336,#00d62c,#ffd021,#00ca27,#ffcf2d,#00d42d,#ffd42d 389Q"></i><i style="--g:#00de1e -4Q,#ffdf1e,#00e120,#ffdd21,#00d923,#ffdc25,#00de21,#ffdf1d,#00e11e,#ffe21f,#00e41b,#ffe517,#00e61b,#ffe21f,#00df21,#ffd922,#00d428,#ffd82d,#00dc27,#ffda20,#00d924,#ffd528,#00d229,#ffd82a,#00de2c 266Q,#ffcd2f,#00bc36,#ffc93d,#00d631,#ffd525,#00d327,#ffcd28,#00c826 355Q,#ffc924,#00ca24,#ffca24 389Q"></i><i style="--g:#00e01d -4Q,#ffe31d,#00e51b,#ffe31a,#00e11e,#ffdf23,#00dd20,#ffe01d,#00e31d,#ffe21e,#00e21b,#ffe618,#00ea19,#ffe619,#00e21b,#ffdf1d,#00db26,#ffd62f,#00d12b,#ffd327,#00d52b,#ffd12f,#00cc34 244Q,#ffcf39,#00d130,#ffcc27,#00c832,#ffce3d,#00d42c 310Q,#ffd31b,#00d328,#ffd235,#00d12e,#ffcd26,#00ca26,#ffca26 389Q"></i><i style="--g:#00e31c -4Q,#ffe41c,#00e619,#ffe617,#00e71a,#ffe31d,#00de1e,#ffe11f,#00e41d,#ffe21c,#00e01c,#ffe41d,#00e81a,#ffe616,#00e41a,#ffe21d,#00e123,#ffd629,#00ca2d,#ffcd31,#00d033 221Q,#ffcc34,#00c839,#ffc63f,#00c333,#ffce27,#00da2c,#ffd530,#00d029,#ffd222,#00d32e,#ffd73a,#00db35,#ffd731,#00d431,#ffd431 389Q"></i><i style="--g:#00e61b -4Q,#ffe51b,#00e519,#ffe717,#00ea17,#ffe617,#00e21b,#ffe220,#00e11e,#ffe11c,#00e11f,#ffe121,#00e11d,#ffe219,#00e41c,#ffe21f,#00e121,#ffd723,#00cd2f,#ffcb3a,#00c939 221Q,#ffc738,#00c63a,#ffc23b,#00be35,#ffd12e,#00e527,#ffda1f 299Q,#00d129,#ffd233,#00d332,#ffd631,#00da33,#ffda36,#00db36,#ffdb36 389Q"></i><i style="--g:#00e819 -4Q,#ffe619,#00e41a,#ffe61a,#00e818,#ffe815,#00e719,#ffe31e,#00df1e,#ffdf1f,#00e021,#ffdd24,#00d923,#ffdc22,#00e022,#ffdd23,#00db23,#ffd722,#00d42f,#ffcb3b,#00c33a 221Q,#ffc439,#00c637,#ffc634,#00c635,#ffd336,#00e027,#ffdb17 299Q,#00d62c,#ffd33e,#00d031,#ffd023 344Q,#00cf2a,#ffd330,#00d730,#ffd730 389Q"></i><i style="--g:#00e619 -4Q,#ffe419,#00e31b,#ffe31e,#00e31b,#ffe618,#00e81a,#ffe31c,#00dd1f,#ffdd23,#00dd24,#ffd925,#00d428,#ffd62c,#00d72a,#ffd628,#00d428,#ffd628,#00d82e,#ffcd33,#00c335,#ffc738 232Q,#00ca33,#ffcf2e,#00d431,#ffd334,#00d12b,#ffd521,#00d92d,#ffd339,#00ce2d,#ffcb20,#00c824,#ffcb27,#00cd27,#ffcd27 389Q"></i><i style="--g:#00e01c -4Q,#ffe11c,#00e21e,#ffe020,#00dd20,#ffe11f,#00e41d,#ffe11c,#00de21,#ffdb27,#00d827,#ffd527,#00d22d,#ffd033,#00cd30,#ffce2e,#00cf2f,#ffd330 187Q,#00d82c,#ffd228,#00cc2e,#ffcf33,#00d12e,#ffd829,#00de2a,#ffd12b,#00c430,#ffcd35 299Q,#00d62e,#ffd327,#00cf29,#ffce2c,#00ce29,#ffcc26,#00c926,#ffc926 389Q"></i><i style="--g:#00d923 -4Q,#ffdc23,#00de23,#ffdc23,#00d925,#ffda27,#00db24,#ffdc21,#00dc25,#ffd729,#00d22a,#ffd22c,#00d130,#ffcc35,#00c635,#ffc935,#00cd34,#ffd033,#00d42a 198Q,#ffd721,#00db25,#ffda29,#00d928,#ffdb26,#00dd25,#ffd123,#00c434 289Q,#ffca44,#00d030 310Q,#ffd21b,#00d52b,#ffd739,#00d833,#ffd42d,#00d02d,#ffd02d 389Q"></i><i style="--g:#00d32a -4Q,#ffd52a,#00d829,#ffd627,#00d52a,#ffd32d,#00d22c,#ffd52a,#00d82a,#ffd32a,#00cf2e,#ffcf32,#00cf32,#ffca33,#00c536 153Q,#ffc839,#00cc36,#ffce32,#00d029,#ffdb21,#00e61f,#ffe21e,#00df21 243Q,#ffda23,#00d624,#ffd226,#00ce34 289Q,#ffcc41,#00c931,#ffd120 321Q,#00d92d,#ffda3a 344Q,#00db37,#ffda34,#00d934,#ffd934 389Q"></i><i style="--g:#00d031 -3Q,#ffcf31,#00cf2f,#ffd02d,#00d12f,#ffce31,#00ca33,#ffcd34,#00d031,#ffcf2e,#00ce31,#ffcd35,#0c3,#ffcb31,#00ca35,#ffcb38,#0c3,#ffce2e,#00d12a,#ffdc26,#00e81e 220Q,#ffe516,#00e11d,#ffd923,#00d029,#ffd52e 277Q,#00d92e,#ffd12f,#00c931,#ffd033,#00d62f,#ffd42b,#00d22f,#ffd532,#00d932,#ffd932 389Q"></i><i style="--g:#00cf35 -3Q,#ffcc35,#00c835,#ffca35,#00cc35,#ffc935,#00c638,#ffc63b,#00c637,#ffca33,#00cd34,#ffcc35,#00ca32,#ffce30,#00d131,#ffcf32,#00ce2e,#ffd22b,#00d52b,#ffda2b,#00df22,#ffdf19,#00e01f 243Q,#ffd826,#00d02d,#ffd733,#00de27,#ffd71b,#00d12f,#ffd041,#00cf30 333Q,#ffcc1e,#00c924,#ffcd2a,#00d12a,#ffd12a 389Q"></i><i style="--g:#00ce36 -3Q,#ffc936,#00c539,#ffc53c,#00c53a,#ffc538,#00c53b,#ffc23e,#00c03c,#ffc63a,#00cb36,#ffcb32,#00cc31,#ffd12f,#00d62c,#ffd528,#00d329 175Q,#ffd629,#00d92a,#ffd52c,#00d129,#ffd625,#00da28,#ffd72a,#00d52c,#ffd82e,#00dc22,#ffdb16,#00da2a,#ffd13d,#00c92f 333Q,#ffca21,#00cb24,#ffcb27,#00cb27,#ffcb27 389Q"></i><i style="--g:#00cd35 -3Q,#ffc835,#00c43a,#ffc23f,#00c03e,#ffc23c,#00c43d,#ffc23d,#00bf3d,#ffc43e,#00c937,#ffcc30,#00cf2f 130Q,#ffd32e,#00d728,#ffd922,#00da25,#ffd928,#00d92a,#ffd02b,#00c831,#ffcd36,#00d131,#ffd52c 254Q,#00da28,#ffd823,#00d722,#ffdb21,#00de25,#ffd429,#00cb2e,#ffd033,#00d72f,#ffd22b,#00cd2b,#ffcd2b 389Q"></i><i style="--g:#00c936 -3Q,#ffc836,#00c63a,#ffc23e,#00be3f,#ffc13f,#00c43d,#ffc33a,#00c33c,#ffc53d,#00c637,#ffcd30,#00d32e 130Q,#ffd42c,#00d627,#ffda23,#00de25,#ffd928,#00d42a,#ffce2c,#00c737,#ffc741 232Q,#00c837,#ffd22c,#00dc25 265Q,#ffd81d,#00d427,#ffd931,#00dd24,#ffd917,#00d42c,#ffd93f 344Q,#00dd39,#ffd932,#00d532,#ffd532 389Q"></i><i style="--g:#00c538 -4Q,#ffc638,#00c839,#ffc53a,#00c13c,#ffc23f,#00c33b,#ffc637,#00c938,#ffc838,#00c735,#ffcd33,#00d42e,#ffd42a,#00d429,#ffd729,#00db29,#ffd429,#00ce2d 198Q,#ffcc32,#00ca39,#ffc640,#00c337,#ffcd2e,#00d828 265Q,#ffd622,#00d42e,#ffd639,#00d827,#ffdb15,#00de27,#ffda37 344Q,#00d535,#ffd732,#00d932,#ffd932 389Q"></i><i style="--g:#00c339 -4Q,#ffc639,#00c937,#ffc835,#00c838,#ffc63a,#00c538,#ffca35,#00ce33,#ffcd30,#00cb32,#ffce34,#00d02f,#ffd12b,#00d22e,#ffd131,#00d12f,#ffce2d,#00cb32,#ffcc37,#00cd36,#ffc934,#00c633,#ffcb32,#00d031,#ffd130,#00d231,#ffd232,#00d12c,#ffd925,#00e123,#ffd522 344Q,#00c927,#ffcf2c,#00d52c,#ffd52c 389Q"></i><i style="--g:#00c33a -4Q,#ffc63a,#00c936,#ffcc32,#00ce32,#fc3,#00ca33,#ffce33,#00d12f,#ffd12b,#00d22e,#ffcf32,#00cc31,#ffcd30,#00cf33,#ffca37,#00c636,#ffc835,#00ca37,#ffcc38,#00cf30,#ffcf29,#00cf30,#ffcb36,#00c63a 265Q,#ffca3d,#00cf32,#ffcd27,#00cc30,#ffd438,#00dc27,#ffd214 344Q,#00c81e,#ffcb28,#00ce28,#ffce28 389Q"></i><i style="--g:#00c738 -4Q,#ffc838,#00ca34,#ffce30,#00d32e,#ffd22b,#00d12d,#ffd12f,#00d12d,#ffd42a,#00d62c,#ffd02e,#00ca32,#ffca37,#00c938,#ffc43a,#00be3c,#ffc43e,#00c939,#ffcc34 209Q,#00cf2d,#ffd325,#00d82e,#ffcb37,#00c03c 266Q,#ffc441,#00c934,#ffca26,#00cb34,#ffce40,#00d02f 332Q,#ffd41d,#00d724,#ffd22a,#00cd2a,#ffcd2a 389Q"></i><i style="--g:#00cd34 -4Q,#ffcc34,#00cc32,#ffd030,#00d42c,#ffd627,#00d829,#ffd52b,#00d22b,#ffd42c,#00d52c,#ffd02c,#00cb34,#ffc73b,#00c23c,#ffc03d,#00be3f,#ffc341 187Q,#00c839,#ffcb30,#00cf2e,#ffd32c,#00d730,#ffcc35,#00c138,#ffc33c,#00c537,#ffc832,#00cb36,#ffc83a 321Q,#00c437,#ffd434,#00e432,#ffd92f,#00cf2f,#ffcf2f 389Q"></i><i style="--g:#00d12e -4Q,#ffd02e,#00cf2f,#ffd12f,#00d32b,#ffd628,#00da27,#ffd627,#00d32b,#ffd22f,#00d02f,#ffce2e,#00cc35,#ffc53c,#00be3d,#ffc13e,#00c33e,#ffc43e 187Q,#00c637,#ffca30,#00cf33,#ffce36,#00cd34,#ffcb32,#00c932,#ffc733,#00c53b,#ffc742,#00c939,#ffc42f,#00bf3b 333Q,#ffce47,#00de3c,#ffd831 366Q,#96d554 372Q,#61d461,#00d46c,#ffcf78 378Q,#008178 414Q"></i><i style="--g:#00d32b -4Q,#ffd32b,#00d32c,#ffd22e,#00d12d,#ffd42c,#00d72a,#ffd528,#00d32d,#ffce32,#00c933,#ffca35,#00cb37,#ffc539,#00c03b,#ffc43d,#00c839,#ffc736,#00c735 198Q,#ffc935,#00cb39,#ffc63e,#00c137,#ffca31,#00d32f,#ffcd2e,#00c73b,#ffc648 299Q,#00c53b,#ffc32e,#00c23b,#ffc247,#00c33c,#ffc42f 366Q,#97c43e,#00c450 377Q,#ffc6c4 414Q"></i><i style="--g:#00d12a -4Q,#ffd32a,#00d52b,#ffd22c,#00d02e,#ffd031,#00d02f,#ffd02d,#00d130,#ffcb34,#00c537,#ffc73b,#00c838,#ffc835,#00c737,#ffca38,#00cc34,#ffcb2f,#00ca35,#ffc73c,#00c43e,#ffc040,#00bc3a,#ffc934 254Q,#00d632,#ffcf2f,#00c837,#ffc53f 299Q,#00c13c,#ffc439,#00c839,#ffb93a,#00ab37,#ffb433 366Q,#90b842,#00bc4f 376Q,#ffbcbb 414Q"></i><i style="--g:#00cd2e -4Q,#ffd02e,#00d32d,#ffd12d,#00cf31,#ffcb35,#00c835,#ffc936,#00cb36,#ffc836,#00c43a,#ffc53d,#00c638,#ffcb32,#00d032,#ffcf31,#00ce30,#ffcd2e,#00cc37,#ffc43f,#00bd3e,#ffbf3e,#00c13c 243Q,#ffc73a,#00ce38,#ffcc35,#00ca33,#ffc530,#00c13b,#ffc645,#00cb3b 333Q,#ffbb31,#00ac3a,#ffaa41 366Q,#8ba94c,#00a853 375Q,#ffa8a6 414Q"></i><i style="--g:#00c934 -4Q,#ffcb34,#00cd33,#ffcd31,#00cc34,#ffc738,#00c23b,#ffc33e,#00c33c,#ffc539,#00c63a,#ffc63b,#00c636,#ffcd32,#00d42f,#ffd12b,#00cf2f,#ffcd33 187Q,#00cb38,#ffc33d,#00bc3c,#ffc23b,#00c83d,#ffc43e,#00c03d,#ffc53b,#00cb33,#ffc82a,#00c539,#ffc647,#00c63f,#ffc536,#00c442 356Q,#53b147 360Q,#ff974e 367Q,#ff8a63,#008073,#ff807b 374Q,#007d7b 414Q"></i><i style="--g:#00c63b -4Q,#ffc63b,#00c539,#ffc638,#00c73a,#ffc33b,#00bf3f,#ffbe43,#00bd40,#ffc33c,#00c839,#ffc936,#00c934,#ffcd33,#00d22f,#ffd02b,#00ce32,#ffca39,#00c638,#ffc538,#00c339,#ffc739,#00cc3b,#ffc03e,#00b53f 266Q,#ffc03f,#00ca38,#ffca31 299Q,#00ca37,#ffc43c,#00bf3e,#ffca40,#00d747 356Q,#46b74a 360Q,#ff8a4e 367Q,#977850 370Q,#006d51 371Q,#ff6d6c 414Q"></i><i style="--g:#00c53f -3Q,#ffc13f,#00be40,#ffbf41,#00c040,#ffbf3e,#00bf41,#ffbd43,#00bc41,#ffc23f,#00c838,#ffcb32 119Q,#00cd33,#ffcc35,#00cb33,#ffcb31,#00cb36,#ffc73c,#00c338 198Q,#ffc834,#00cd35,#ffcb36,#00c83a,#ffbf3d,#00b73f,#ffbe41,#00c540,#ffc83f 299Q,#00cc37,#ffc330,#00bb3a,#ffc744,#00d342 355Q,#00c941,#38a241 360Q,#ff643f 367Q,#004c40 369Q,#ff4c4a 414Q"></i><i style="--g:#00c441 -3Q,#ffbf41,#00ba44,#ffb947,#00b945,#ffbc42,#00bf41,#ffbf40,#00be3f,#ffc23f,#00c639,#ffca32,#00ce34,#ffc936,#00c339 153Q,#ffc53c,#00c63b,#ffc53b,#00c437,#ffcb33,#00d334,#ffca35,#00c138,#ffc23c,#00c33e,#ffc040,#00bd44,#ffc347 299Q,#00c93b,#ffc52e,#00c137,#ffc03f,#00bf33,#ffa026 367Q,#002726 414Q"></i><i style="--g:#00c141 -3Q,#ffbd41,#00b945,#ffb749,#00b647,#ffbb45,#00c040,#ffc23c,#00c43c,#ffc43c,#00c33a 108Q,#ffc638,#00ca38,#ffc439,#00be3f 154Q,#ffbf44,#00c03e,#ffc438,#00c936,#ffcc35 209Q,#00cf35,#ffc735,#00bf38,#ffc63a,#00ce3b,#ffc23d,#00b741 288Q,#ffbc46,#00c03f,#ffc638,#00cb37,#ffbf37,#00b319 355Q,#72a108 361Q,#ff9600 365Q,#000400 414Q"></i><i style="--g:#00be42 -3Q,#ffbc42,#0b4,#ffb947,#00b746,#ffbb46,#00bf40,#ffc33a,#00c83a,#ffc539 97Q,#00c23c,#ffc13f,#00c13f,#ffbf3e,#00bd42,#ffbd47 164Q,#00bd3f,#ffc438,#00cb38,#ffc838,#00c538,#ffc439,#00c439,#ffc938,#00cf39,#ffc43a,#00ba3c 288Q,#ffb93f,#00b942,#ffc445,#00d03d,#ffc434 344Q,#b0c047 349Q,#00ba65,#9fb47e 361Q,#ffb385 363Q,#008785 414Q"></i><i style="--g:#00ba43 -4Q,#ffbc43,#00be42,#ffbd42,#00bc43,#ffbd43,#00bf3f,#ffc33b,#00c73a,#ffc438,#00c13e,#ffbc45,#00b845,#ffba45 142Q,#00bd44,#ffbd43,#00bd3f,#ffc33b,#00c83c,#ffc23c,#00bb3d,#ffc33d,#00cb3a,#ffc936,#00c737,#ffc638,#00c539,#ffbe39,#00b842 311Q,#ffc04a,#00c841,#ffc838 344Q,#b3c857 349Q,#00c882 355Q,#74c695 358Q,#ffc59f 360Q,#00a19f 414Q"></i><i style="--g:#00b743 -4Q,#ffbb43,#00c040,#ffc13d,#00c33d,#ffc13e,#00c03e,#ffc13e,#00c33d,#ffc13c,#00c041,#ffb947,#00b348,#ffb84a 142Q,#00bd43,#ffbf3d,#00c13f,#ffc041,#00bf41,#ffbc41,#00b940,#ffc240,#00cc3b,#ffc537,#00be37,#ffc638,#00cf38 288Q,#ffc738,#00bf3e,#ffbc43,#00b940,#ffc73d 344Q,#a1cd54 349Q,#00d572 355Q,#ffd27e 358Q,#00877e 414Q"></i><i style="--g:#00b744 -4Q,#ffbc44,#00c13f,#ffc43a,#00c739,#ffc539,#00c23d,#ffbf41,#00bc42,#ffbc42,#00bc44,#ffb946,#00b548,#ffb94a 142Q,#00bd42,#ffc03b,#00c340,#ffbc44,#00b645,#ffba45,#00bd43,#ffc140,#00c43d,#ffc13b,#00bd3a,#ffc639,#00d039,#ffcc39 299Q,#00c839,#ffbd39,#00b23d,#ffbf40,#0c5 355Q,#ffcdcb 414Q"></i><i style="--g:#00ba43 -4Q,#ffbd43,#00c03e,#ffc43a,#00c839,#ffc637,#00c43c,#ffbe42,#00b845,#ffb849,#00b846,#ffba44 120Q,#0b4,#ffbc45,#00bc41,#ffbf3e,#00c142,#ffb946,#00b247,#ffba47,#00c243,#ffbe3f,#00ba40,#ffbe41,#00c33e,#ffc53b,#00c73a,#ffcb38,#00ce36,#ffc434,#00ba3b 333Q,#61aa3e,#ff9642 344Q,#e08b58,#00806e 351Q,#ff8078 352Q,#007978 414Q"></i><i style="--g:#00c040 -3Q,#ffc040,#00c03e,#ffc23d,#00c53b,#ffc43a,#00c33e,#ffbd42,#00b747,#ffb64c,#00b647,#ffbc42,#00c240,#ffc03e,#00bd41,#ffbc44,#00bb45,#ffb946,#00b646,#ffbb46,#00c143,#ffba40,#00b443,#ffbd46,#00c742,#ffc13e,#00bc3a,#ffc437,#00cc36 310Q,#ffcb36,#00ca3d 333Q,#53ae40,#ff8a44 344Q,#897745 348Q,#006e46 349Q,#ff6e6c 414Q"></i><i style="--g:#00c63b -3Q,#ffc43b,#00c13e,#ffc040,#00bf40,#ffbf40,#00bf41,#ffbc42,#00b945,#ffb949,#00b845,#ffbe41,#00c53d 131Q,#ffc23a,#00bf41,#ffba49,#00b547,#ffba44,#00bf43,#ffbd42,#00bc43,#ffb944,#00b745,#ffbd46,#00c344,#ffbd41,#00b83d,#ffbe39,#00c43a,#ffcc3a,#00d43d 333Q,#00c93d,#40a33e 338Q,#ff6840 344Q,#004f40 347Q,#ff4f4e 414Q"></i><i style="--g:#00ca38 -3Q,#ffc638,#00c23d,#ffbe42,#00ba44,#ffba46,#00ba44,#ffbc42,#00be42,#ffbe41,#00bd41,#ffc040,#00c33e,#ffc13b,#00bf42,#ffba48,#00b445,#ffbc43,#00c540,#ffbe3e,#00b743,#ffbb48,#00be45,#ffbc42,#00b943,#fb4,#00bc42,#ffbc41,#00bc3e,#ffc53c,#00cf1f 333Q,#94b909 341Q,#ffb000 345Q,#000500 414Q"></i><i style="--g:#00ca37 -3Q,#ffc737,#00c33c,#ffbe42,#00b846,#ffb84a,#00b846,#ffbd42,#00c33e,#ffc33a,#00c43c,#ffc13e,#00be40 131Q,#ffbe41,#00be42,#ffbc43,#00bb42,#ffbf41,#00c43f,#ffbe3d,#00b842,#ffbd47,#00c343,#ffbb3e,#00b342,#ffba46,#00c247,#ffbd49,#00b843 310Q,#ffbd3e,#00c125 333Q,#96b114 340Q,#ffab0e 343Q,#00130e 414Q"></i><i style="--g:#00c63a -3Q,#ffc53a,#00c33d,#ffbe41,#00ba44,#ffb948,#00b845,#ffbf41,#00c53c 86Q,#ffc736,#00c839,#ffc23d,#00bb41,#ffbc46,#00bd41,#ffc03c,#00c43d 176Q,#ffc13e,#00bf3f,#ffbe40,#00be41,#ffc041,#00c240,#ffbc3e,#00b642,#ffbc46,#00c148,#ffbd4a,#00b946,#ffb841,#00b84b 333Q,#58a54f,#ff9852 340Q,#009053 342Q,#ff908a 414Q"></i><i style="--g:#00c13e -3Q,#ffc13e,#00c13e,#ffc03f,#00bf40,#ffbe42,#00bd40,#ffc13f,#00c43b,#ffc637,#00c83a,#ffc23c 120Q,#00bc41,#ffbd47,#00be3f,#ffc438,#00ca3a,#ffc23b,#00bb3f,#ffbf43,#00c43e,#ffc13a,#00be3e,#ffbf42,#00c042,#ffbd42,#00ba43,#ffbc44,#00bd45,#ffb947,#00b563 333Q,#78b26e,#ffb075 340Q,#007675 414Q"></i><i style="--g:#00bb42 -3Q,#ffbd42,#00bf3f,#ffc23c,#00c53b,#ffc539,#00c53b,#ffc43c,#00c33c,#ffc33c,#00c33c,#ffc23d,#00c03f,#ffc041,#00c13d,#ffc538,#00ca39,#ffc33a,#00bc3e,#ffc242,#00c73c 221Q,#ffc236,#00bd3d,#ffc243,#00c841,#ffbe3e,#00b63d,#ffbb3d,#00c043,#ffbc49,#00b86d 333Q,#7ab67a 337Q,#ffb47f 339Q,#00827f 414Q"></i><i style="--g:#00b944 -3Q,#ffbc44,#00bf3f,#ffc43a,#00c937,#ffca33,#00cb35,#ffc638 75Q,#00c23d,#ffc041,#00be40,#ffc23e,#00c53b,#ffc638,#00c63a,#ffc53b,#00c33b,#ffc33b,#00c33c,#ffc43c,#00c53b,#ffc23a,#00c03d,#ffc340,#00c73e,#ffc13b,#00bb3b,#ffbd3b,#00bf40,#ffbe46 322Q,#b8be58 326Q,#00bd77 333Q,#52bb83,#ffba8a 338Q,#008e8a 414Q"></i><i style="--g:#00bb43 -3Q,#ffbe43,#00c03e,#ffc639,#00cb35,#ffcc31,#00ce33 64Q,#ffc836,#00c23c,#ffbf43,#00bb40,#ffc23e,#00c938,#ffca32,#00ca38,#ffc43d,#00bd3d,#ffc43c,#00ca39,#ffc636,#00c13b,#ffc340,#00c53c,#ffc339,#00c13a,#ffc43b,#00c63d,#ffc23e,#00be3e,#ffbf3e 322Q,#d6c05f 326Q,#00c098 334Q,#ffc0af 337Q,#00b1af 414Q"></i><i style="--g:#00c13e -3Q,#ffc23e,#00c33b,#ffc639,#00c936,#ffca34,#00cb35,#ffc737,#00c43b,#ffc13f,#00bf3e,#ffc43c,#00c937,#ffca32,#00ca37,#ffc43d,#00bd3d,#ffc43c,#00cc38,#ffc633,#00c03b,#ffc542,#00c93b,#ffc335,#00be38,#ffc63b,#00ce3e,#ffc740,#00c03c,#ffc138 322Q,#9fc251,#00c26e 334Q,#ffc07c 337Q,#00837c 414Q"></i><i style="--g:#00c837 -3Q,#ffc837,#00c738,#ffc639,#00c639,#ffc63a,#00c639,#ffc639,#00c639,#ffc639,#00c639,#ffc639,#00c738,#ffc738,#00c739,#ffc53a,#00c33a,#ffc53a,#00c839,#ffc637,#00c33a,#ffc53d,#00c83a,#ffc437,#00c139,#ffc63b,#00cb3c,#ffc73d,#00c43a,#ffc437 322Q,#9ac44a,#00c461 334Q,#ffc26c 337Q,#00756c 414Q"></i><i style="--g:#00ce31 -3Q,#ffcd31,#00cb35,#ffc738,#00c33c,#ffc13f,#00c03d,#ffc43b,#00c937,#ffcb32,#00cd34,#ffc935 120Q,#00c43a,#ffc33e,#00c23b,#ffc737,#00cb37,#ffc638,#00c13b,#ffc53d,#00c839,#ffc635,#00c439,#ffc63c,#00c93b,#ffc539,#00c138,#ffc536,#00c938,#ffc83a,#00c760 334Q,#ffc46a 337Q,#00746a 414Q"></i><i style="--g:#00d02f -3Q,#ffce2f,#00cc34,#ffc738,#00c13d,#ffc041,#00be3f,#ffc43c,#00ca36,#ffcd2f,#00d032,#ffca34 120Q,#00c33b,#ffc242,#00c13c,#ffc735,#00ce36,#ffc636,#00be3b,#ffc440,#00ca39,#ffc632,#00c238,#ffc73f,#00cc3c,#ffc438,#00bc35,#ffc433,#00cb37,#ffca3b,#00c860 334Q,#ffc569 337Q,#007369 414Q"></i><i style="--g:#00ce31 -3Q,#ffcd31,#00cb35,#ffc738,#00c33c,#ffc13f,#00c03d,#ffc43b,#00c937,#ffcb32,#00cd34,#ffc935 120Q,#00c43a,#ffc33e,#00c23b,#ffc737,#00cb37,#ffc638,#00c13b,#ffc53d,#00c839,#ffc635,#00c439,#ffc63c,#00c93b,#ffc539,#00c138,#ffc536,#00c938,#ffc83a,#00c760 334Q,#ffc46a 337Q,#00746a 414Q"></i><i style="--g:#00c837 -3Q,#ffc837,#00c738,#ffc639,#00c639,#ffc63a,#00c639,#ffc639,#00c639,#ffc639,#00c639,#ffc639,#00c738,#ffc738,#00c739,#ffc53a,#00c33a,#ffc53a,#00c839,#ffc637,#00c33a,#ffc53d,#00c83a,#ffc437,#00c139,#ffc63b,#00cb3c,#ffc73d,#00c43a,#ffc437 322Q,#9ac44a,#00c461 334Q,#ffc26c 337Q,#00756c 414Q"></i><i style="--g:#00c13e -3Q,#ffc23e,#00c33b,#ffc639,#00c936,#ffca34,#00cb35,#ffc737,#00c43b,#ffc13f,#00bf3e,#ffc43c,#00c937,#ffca32,#00ca37,#ffc43d,#00bd3d,#ffc43c,#00cc38,#ffc633,#00c03b,#ffc542,#00c93b,#ffc335,#00be38,#ffc63b,#00ce3e,#ffc740,#00c03c,#ffc138 322Q,#9fc251,#00c26e 334Q,#ffc07c 337Q,#00837c 414Q"></i><i style="--g:#00bb43 -3Q,#ffbe43,#00c03e,#ffc639,#00cb35,#ffcc31,#00ce33 64Q,#ffc836,#00c23c,#ffbf43,#00bb40,#ffc23e,#00c938,#ffca32,#00ca38,#ffc43d,#00bd3d,#ffc43c,#00ca39,#ffc636,#00c13b,#ffc340,#00c53c,#ffc339,#00c13a,#ffc43b,#00c63d,#ffc23e,#00be3e,#ffbf3e 322Q,#d6c05f 326Q,#00c098 334Q,#ffc0af 337Q,#00b1af 414Q"></i><i style="--g:#00b944 -3Q,#ffbc44,#00bf3f,#ffc43a,#00c937,#ffca33,#00cb35,#ffc638 75Q,#00c23d,#ffc041,#00be40,#ffc23e,#00c53b,#ffc638,#00c63a,#ffc53b,#00c33b,#ffc33b,#00c33c,#ffc43c,#00c53b,#ffc23a,#00c03d,#ffc340,#00c73e,#ffc13b,#00bb3b,#ffbd3b,#00bf40,#ffbe46 322Q,#b8be58 326Q,#00bd77 333Q,#52bb83,#ffba8a 338Q,#008e8a 414Q"></i><i style="--g:#00bb42 -3Q,#ffbd42,#00bf3f,#ffc23c,#00c53b,#ffc539,#00c53b,#ffc43c,#00c33c,#ffc33c,#00c33c,#ffc23d,#00c03f,#ffc041,#00c13d,#ffc538,#00ca39,#ffc33a,#00bc3e,#ffc242,#00c73c 221Q,#ffc236,#00bd3d,#ffc243,#00c841,#ffbe3e,#00b63d,#ffbb3d,#00c043,#ffbc49,#00b86d 333Q,#7ab67a 337Q,#ffb47f 339Q,#00827f 414Q"></i><i style="--g:#00c13e -3Q,#ffc13e,#00c13e,#ffc03f,#00bf40,#ffbe42,#00bd40,#ffc13f,#00c43b,#ffc637,#00c83a,#ffc23c 120Q,#00bc41,#ffbd47,#00be3f,#ffc438,#00ca3a,#ffc23b,#00bb3f,#ffbf43,#00c43e,#ffc13a,#00be3e,#ffbf42,#00c042,#ffbd42,#00ba43,#ffbc44,#00bd45,#ffb947,#00b563 333Q,#78b26e,#ffb075 340Q,#007675 414Q"></i><i style="--g:#00c63a -3Q,#ffc53a,#00c33d,#ffbe41,#00ba44,#ffb948,#00b845,#ffbf41,#00c53c 86Q,#ffc736,#00c839,#ffc23d,#00bb41,#ffbc46,#00bd41,#ffc03c,#00c43d 176Q,#ffc13e,#00bf3f,#ffbe40,#00be41,#ffc041,#00c240,#ffbc3e,#00b642,#ffbc46,#00c148,#ffbd4a,#00b946,#ffb841,#00b84b 333Q,#58a54f,#ff9852 340Q,#009053 342Q,#ff908a 414Q"></i><i style="--g:#00ca37 -3Q,#ffc737,#00c33c,#ffbe42,#00b846,#ffb84a,#00b846,#ffbd42,#00c33e,#ffc33a,#00c43c,#ffc13e,#00be40 131Q,#ffbe41,#00be42,#ffbc43,#00bb42,#ffbf41,#00c43f,#ffbe3d,#00b842,#ffbd47,#00c343,#ffbb3e,#00b342,#ffba46,#00c247,#ffbd49,#00b843 310Q,#ffbd3e,#00c125 333Q,#96b114 340Q,#ffab0e 343Q,#00130e 414Q"></i><i style="--g:#00ca38 -3Q,#ffc638,#00c23d,#ffbe42,#00ba44,#ffba46,#00ba44,#ffbc42,#00be42,#ffbe41,#00bd41,#ffc040,#00c33e,#ffc13b,#00bf42,#ffba48,#00b445,#ffbc43,#00c540,#ffbe3e,#00b743,#ffbb48,#00be45,#ffbc42,#00b943,#fb4,#00bc42,#ffbc41,#00bc3e,#ffc53c,#00cf1f 333Q,#94b909 341Q,#ffb000 345Q,#000500 414Q"></i><i style="--g:#00c63b -3Q,#ffc43b,#00c13e,#ffc040,#00bf40,#ffbf40,#00bf41,#ffbc42,#00b945,#ffb949,#00b845,#ffbe41,#00c53d 131Q,#ffc23a,#00bf41,#ffba49,#00b547,#ffba44,#00bf43,#ffbd42,#00bc43,#ffb944,#00b745,#ffbd46,#00c344,#ffbd41,#00b83d,#ffbe39,#00c43a,#ffcc3a,#00d43d 333Q,#00c93d,#40a33e 338Q,#ff6840 344Q,#004f40 347Q,#ff4f4e 414Q"></i><i style="--g:#00c040 -3Q,#ffc040,#00c03e,#ffc23d,#00c53b,#ffc43a,#00c33e,#ffbd42,#00b747,#ffb64c,#00b647,#ffbc42,#00c240,#ffc03e,#00bd41,#ffbc44,#00bb45,#ffb946,#00b646,#ffbb46,#00c143,#ffba40,#00b443,#ffbd46,#00c742,#ffc13e,#00bc3a,#ffc437,#00cc36 310Q,#ffcb36,#00ca3d 333Q,#53ae40,#ff8a44 344Q,#897745 348Q,#006e46 349Q,#ff6e6c 414Q"></i><i style="--g:#00ba43 -4Q,#ffbd43,#00c03e,#ffc43a,#00c839,#ffc637,#00c43c,#ffbe42,#00b845,#ffb849,#00b846,#ffba44 120Q,#0b4,#ffbc45,#00bc41,#ffbf3e,#00c142,#ffb946,#00b247,#ffba47,#00c243,#ffbe3f,#00ba40,#ffbe41,#00c33e,#ffc53b,#00c73a,#ffcb38,#00ce36,#ffc434,#00ba3b 333Q,#61aa3e,#ff9642 344Q,#e08b58,#00806e 351Q,#ff8078 352Q,#007978 414Q"></i><i style="--g:#00b744 -4Q,#ffbc44,#00c13f,#ffc43a,#00c739,#ffc539,#00c23d,#ffbf41,#00bc42,#ffbc42,#00bc44,#ffb946,#00b548,#ffb94a 142Q,#00bd42,#ffc03b,#00c340,#ffbc44,#00b645,#ffba45,#00bd43,#ffc140,#00c43d,#ffc13b,#00bd3a,#ffc639,#00d039,#ffcc39 299Q,#00c839,#ffbd39,#00b23d,#ffbf40,#0c5 355Q,#ffcdcb 414Q"></i><i style="--g:#00b743 -4Q,#ffbb43,#00c040,#ffc13d,#00c33d,#ffc13e,#00c03e,#ffc13e,#00c33d,#ffc13c,#00c041,#ffb947,#00b348,#ffb84a 142Q,#00bd43,#ffbf3d,#00c13f,#ffc041,#00bf41,#ffbc41,#00b940,#ffc240,#00cc3b,#ffc537,#00be37,#ffc638,#00cf38 288Q,#ffc738,#00bf3e,#ffbc43,#00b940,#ffc73d 344Q,#a1cd54 349Q,#00d572 355Q,#ffd27e 358Q,#00877e 414Q"></i><i style="--g:#00ba43 -4Q,#ffbc43,#00be42,#ffbd42,#00bc43,#ffbd43,#00bf3f,#ffc33b,#00c73a,#ffc438,#00c13e,#ffbc45,#00b845,#ffba45 142Q,#00bd44,#ffbd43,#00bd3f,#ffc33b,#00c83c,#ffc23c,#00bb3d,#ffc33d,#00cb3a,#ffc936,#00c737,#ffc638,#00c539,#ffbe39,#00b842 311Q,#ffc04a,#00c841,#ffc838 344Q,#b3c857 349Q,#00c882 355Q,#74c695 358Q,#ffc59f 360Q,#00a19f 414Q"></i><i style="--g:#00be42 -3Q,#ffbc42,#0b4,#ffb947,#00b746,#ffbb46,#00bf40,#ffc33a,#00c83a,#ffc539 97Q,#00c23c,#ffc13f,#00c13f,#ffbf3e,#00bd42,#ffbd47 164Q,#00bd3f,#ffc438,#00cb38,#ffc838,#00c538,#ffc439,#00c439,#ffc938,#00cf39,#ffc43a,#00ba3c 288Q,#ffb93f,#00b942,#ffc445,#00d03d,#ffc434 344Q,#b0c047 349Q,#00ba65,#9fb47e 361Q,#ffb385 363Q,#008785 414Q"></i><i style="--g:#00c141 -3Q,#ffbd41,#00b945,#ffb749,#00b647,#ffbb45,#00c040,#ffc23c,#00c43c,#ffc43c,#00c33a 108Q,#ffc638,#00ca38,#ffc439,#00be3f 154Q,#ffbf44,#00c03e,#ffc438,#00c936,#ffcc35 209Q,#00cf35,#ffc735,#00bf38,#ffc63a,#00ce3b,#ffc23d,#00b741 288Q,#ffbc46,#00c03f,#ffc638,#00cb37,#ffbf37,#00b319 355Q,#72a108 361Q,#ff9600 365Q,#000400 414Q"></i><i style="--g:#00c441 -3Q,#ffbf41,#00ba44,#ffb947,#00b945,#ffbc42,#00bf41,#ffbf40,#00be3f,#ffc23f,#00c639,#ffca32,#00ce34,#ffc936,#00c339 153Q,#ffc53c,#00c63b,#ffc53b,#00c437,#ffcb33,#00d334,#ffca35,#00c138,#ffc23c,#00c33e,#ffc040,#00bd44,#ffc347 299Q,#00c93b,#ffc52e,#00c137,#ffc03f,#00bf33,#ffa026 367Q,#002726 414Q"></i><i style="--g:#00c53f -3Q,#ffc13f,#00be40,#ffbf41,#00c040,#ffbf3e,#00bf41,#ffbd43,#00bc41,#ffc23f,#00c838,#ffcb32 119Q,#00cd33,#ffcc35,#00cb33,#ffcb31,#00cb36,#ffc73c,#00c338 198Q,#ffc834,#00cd35,#ffcb36,#00c83a,#ffbf3d,#00b73f,#ffbe41,#00c540,#ffc83f 299Q,#00cc37,#ffc330,#00bb3a,#ffc744,#00d342 355Q,#00c941,#38a241 360Q,#ff643f 367Q,#004c40 369Q,#ff4c4a 414Q"></i><i style="--g:#00c63b -4Q,#ffc63b,#00c539,#ffc638,#00c73a,#ffc33b,#00bf3f,#ffbe43,#00bd40,#ffc33c,#00c839,#ffc936,#00c934,#ffcd33,#00d22f,#ffd02b,#00ce32,#ffca39,#00c638,#ffc538,#00c339,#ffc739,#00cc3b,#ffc03e,#00b53f 266Q,#ffc03f,#00ca38,#ffca31 299Q,#00ca37,#ffc43c,#00bf3e,#ffca40,#00d747 356Q,#46b74a 360Q,#ff8a4e 367Q,#977850 370Q,#006d51 371Q,#ff6d6c 414Q"></i><i style="--g:#00c934 -4Q,#ffcb34,#00cd33,#ffcd31,#00cc34,#ffc738,#00c23b,#ffc33e,#00c33c,#ffc539,#00c63a,#ffc63b,#00c636,#ffcd32,#00d42f,#ffd12b,#00cf2f,#ffcd33 187Q,#00cb38,#ffc33d,#00bc3c,#ffc23b,#00c83d,#ffc43e,#00c03d,#ffc53b,#00cb33,#ffc82a,#00c539,#ffc647,#00c63f,#ffc536,#00c442 356Q,#53b147 360Q,#ff974e 367Q,#ff8a63,#008073,#ff807b 374Q,#007d7b 414Q"></i><i style="--g:#00cd2e -4Q,#ffd02e,#00d32d,#ffd12d,#00cf31,#ffcb35,#00c835,#ffc936,#00cb36,#ffc836,#00c43a,#ffc53d,#00c638,#ffcb32,#00d032,#ffcf31,#00ce30,#ffcd2e,#00cc37,#ffc43f,#00bd3e,#ffbf3e,#00c13c 243Q,#ffc73a,#00ce38,#ffcc35,#00ca33,#ffc530,#00c13b,#ffc645,#00cb3b 333Q,#ffbb31,#00ac3a,#ffaa41 366Q,#8ba94c,#00a853 375Q,#ffa8a6 414Q"></i><i style="--g:#00d12a -4Q,#ffd32a,#00d52b,#ffd22c,#00d02e,#ffd031,#00d02f,#ffd02d,#00d130,#ffcb34,#00c537,#ffc73b,#00c838,#ffc835,#00c737,#ffca38,#00cc34,#ffcb2f,#00ca35,#ffc73c,#00c43e,#ffc040,#00bc3a,#ffc934 254Q,#00d632,#ffcf2f,#00c837,#ffc53f 299Q,#00c13c,#ffc439,#00c839,#ffb93a,#00ab37,#ffb433 366Q,#90b842,#00bc4f 376Q,#ffbcbb 414Q"></i><i style="--g:#00d32b -4Q,#ffd32b,#00d32c,#ffd22e,#00d12d,#ffd42c,#00d72a,#ffd528,#00d32d,#ffce32,#00c933,#ffca35,#00cb37,#ffc539,#00c03b,#ffc43d,#00c839,#ffc736,#00c735 198Q,#ffc935,#00cb39,#ffc63e,#00c137,#ffca31,#00d32f,#ffcd2e,#00c73b,#ffc648 299Q,#00c53b,#ffc32e,#00c23b,#ffc247,#00c33c,#ffc42f 366Q,#97c43e,#00c450 377Q,#ffc6c4 414Q"></i><i style="--g:#00d12e -4Q,#ffd02e,#00cf2f,#ffd12f,#00d32b,#ffd628,#00da27,#ffd627,#00d32b,#ffd22f,#00d02f,#ffce2e,#00cc35,#ffc53c,#00be3d,#ffc13e,#00c33e,#ffc43e 187Q,#00c637,#ffca30,#00cf33,#ffce36,#00cd34,#ffcb32,#00c932,#ffc733,#00c53b,#ffc742,#00c939,#ffc42f,#00bf3b 333Q,#ffce47,#00de3c,#ffd831 366Q,#96d554 372Q,#61d461,#00d46c,#ffcf78 378Q,#008178 414Q"></i><i style="--g:#00cd34 -4Q,#ffcc34,#00cc32,#ffd030,#00d42c,#ffd627,#00d829,#ffd52b,#00d22b,#ffd42c,#00d52c,#ffd02c,#00cb34,#ffc73b,#00c23c,#ffc03d,#00be3f,#ffc341 187Q,#00c839,#ffcb30,#00cf2e,#ffd32c,#00d730,#ffcc35,#00c138,#ffc33c,#00c537,#ffc832,#00cb36,#ffc83a 321Q,#00c437,#ffd434,#00e432,#ffd92f,#00cf2f,#ffcf2f 389Q"></i><i style="--g:#00c738 -4Q,#ffc838,#00ca34,#ffce30,#00d32e,#ffd22b,#00d12d,#ffd12f,#00d12d,#ffd42a,#00d62c,#ffd02e,#00ca32,#ffca37,#00c938,#ffc43a,#00be3c,#ffc43e,#00c939,#ffcc34 209Q,#00cf2d,#ffd325,#00d82e,#ffcb37,#00c03c 266Q,#ffc441,#00c934,#ffca26,#00cb34,#ffce40,#00d02f 332Q,#ffd41d,#00d724,#ffd22a,#00cd2a,#ffcd2a 389Q"></i><i style="--g:#00c33a -4Q,#ffc63a,#00c936,#ffcc32,#00ce32,#fc3,#00ca33,#ffce33,#00d12f,#ffd12b,#00d22e,#ffcf32,#00cc31,#ffcd30,#00cf33,#ffca37,#00c636,#ffc835,#00ca37,#ffcc38,#00cf30,#ffcf29,#00cf30,#ffcb36,#00c63a 265Q,#ffca3d,#00cf32,#ffcd27,#00cc30,#ffd438,#00dc27,#ffd214 344Q,#00c81e,#ffcb28,#00ce28,#ffce28 389Q"></i><i style="--g:#00c339 -4Q,#ffc639,#00c937,#ffc835,#00c838,#ffc63a,#00c538,#ffca35,#00ce33,#ffcd30,#00cb32,#ffce34,#00d02f,#ffd12b,#00d22e,#ffd131,#00d12f,#ffce2d,#00cb32,#ffcc37,#00cd36,#ffc934,#00c633,#ffcb32,#00d031,#ffd130,#00d231,#ffd232,#00d12c,#ffd925,#00e123,#ffd522 344Q,#00c927,#ffcf2c,#00d52c,#ffd52c 389Q"></i><i style="--g:#00c538 -4Q,#ffc638,#00c839,#ffc53a,#00c13c,#ffc23f,#00c33b,#ffc637,#00c938,#ffc838,#00c735,#ffcd33,#00d42e,#ffd42a,#00d429,#ffd729,#00db29,#ffd429,#00ce2d 198Q,#ffcc32,#00ca39,#ffc640,#00c337,#ffcd2e,#00d828 265Q,#ffd622,#00d42e,#ffd639,#00d827,#ffdb15,#00de27,#ffda37 344Q,#00d535,#ffd732,#00d932,#ffd932 389Q"></i><i style="--g:#00c936 -3Q,#ffc836,#00c63a,#ffc23e,#00be3f,#ffc13f,#00c43d,#ffc33a,#00c33c,#ffc53d,#00c637,#ffcd30,#00d32e 130Q,#ffd42c,#00d627,#ffda23,#00de25,#ffd928,#00d42a,#ffce2c,#00c737,#ffc741 232Q,#00c837,#ffd22c,#00dc25 265Q,#ffd81d,#00d427,#ffd931,#00dd24,#ffd917,#00d42c,#ffd93f 344Q,#00dd39,#ffd932,#00d532,#ffd532 389Q"></i><i style="--g:#00cd35 -3Q,#ffc835,#00c43a,#ffc23f,#00c03e,#ffc23c,#00c43d,#ffc23d,#00bf3d,#ffc43e,#00c937,#ffcc30,#00cf2f 130Q,#ffd32e,#00d728,#ffd922,#00da25,#ffd928,#00d92a,#ffd02b,#00c831,#ffcd36,#00d131,#ffd52c 254Q,#00da28,#ffd823,#00d722,#ffdb21,#00de25,#ffd429,#00cb2e,#ffd033,#00d72f,#ffd22b,#00cd2b,#ffcd2b 389Q"></i><i style="--g:#00ce36 -3Q,#ffc936,#00c539,#ffc53c,#00c53a,#ffc538,#00c53b,#ffc23e,#00c03c,#ffc63a,#00cb36,#ffcb32,#00cc31,#ffd12f,#00d62c,#ffd528,#00d329 175Q,#ffd629,#00d92a,#ffd52c,#00d129,#ffd625,#00da28,#ffd72a,#00d52c,#ffd82e,#00dc22,#ffdb16,#00da2a,#ffd13d,#00c92f 333Q,#ffca21,#00cb24,#ffcb27,#00cb27,#ffcb27 389Q"></i><i style="--g:#00cf35 -3Q,#ffcc35,#00c835,#ffca35,#00cc35,#ffc935,#00c638,#ffc63b,#00c637,#ffca33,#00cd34,#ffcc35,#00ca32,#ffce30,#00d131,#ffcf32,#00ce2e,#ffd22b,#00d52b,#ffda2b,#00df22,#ffdf19,#00e01f 243Q,#ffd826,#00d02d,#ffd733,#00de27,#ffd71b,#00d12f,#ffd041,#00cf30 333Q,#ffcc1e,#00c924,#ffcd2a,#00d12a,#ffd12a 389Q"></i><i style="--g:#00d031 -3Q,#ffcf31,#00cf2f,#ffd02d,#00d12f,#ffce31,#00ca33,#ffcd34,#00d031,#ffcf2e,#00ce31,#ffcd35,#0c3,#ffcb31,#00ca35,#ffcb38,#0c3,#ffce2e,#00d12a,#ffdc26,#00e81e 220Q,#ffe516,#00e11d,#ffd923,#00d029,#ffd52e 277Q,#00d92e,#ffd12f,#00c931,#ffd033,#00d62f,#ffd42b,#00d22f,#ffd532,#00d932,#ffd932 389Q"></i><i style="--g:#00d32a -4Q,#ffd52a,#00d829,#ffd627,#00d52a,#ffd32d,#00d22c,#ffd52a,#00d82a,#ffd32a,#00cf2e,#ffcf32,#00cf32,#ffca33,#00c536 153Q,#ffc839,#00cc36,#ffce32,#00d029,#ffdb21,#00e61f,#ffe21e,#00df21 243Q,#ffda23,#00d624,#ffd226,#00ce34 289Q,#ffcc41,#00c931,#ffd120 321Q,#00d92d,#ffda3a 344Q,#00db37,#ffda34,#00d934,#ffd934 389Q"></i><i style="--g:#00d923 -4Q,#ffdc23,#00de23,#ffdc23,#00d925,#ffda27,#00db24,#ffdc21,#00dc25,#ffd729,#00d22a,#ffd22c,#00d130,#ffcc35,#00c635,#ffc935,#00cd34,#ffd033,#00d42a 198Q,#ffd721,#00db25,#ffda29,#00d928,#ffdb26,#00dd25,#ffd123,#00c434 289Q,#ffca44,#00d030 310Q,#ffd21b,#00d52b,#ffd739,#00d833,#ffd42d,#00d02d,#ffd02d 389Q"></i><i style="--g:#00e01c -4Q,#ffe11c,#00e21e,#ffe020,#00dd20,#ffe11f,#00e41d,#ffe11c,#00de21,#ffdb27,#00d827,#ffd527,#00d22d,#ffd033,#00cd30,#ffce2e,#00cf2f,#ffd330 187Q,#00d82c,#ffd228,#00cc2e,#ffcf33,#00d12e,#ffd829,#00de2a,#ffd12b,#00c430,#ffcd35 299Q,#00d62e,#ffd327,#00cf29,#ffce2c,#00ce29,#ffcc26,#00c926,#ffc926 389Q"></i><i style="--g:#00e619 -4Q,#ffe419,#00e31b,#ffe31e,#00e31b,#ffe618,#00e81a,#ffe31c,#00dd1f,#ffdd23,#00dd24,#ffd925,#00d428,#ffd62c,#00d72a,#ffd628,#00d428,#ffd628,#00d82e,#ffcd33,#00c335,#ffc738 232Q,#00ca33,#ffcf2e,#00d431,#ffd334,#00d12b,#ffd521,#00d92d,#ffd339,#00ce2d,#ffcb20,#00c824,#ffcb27,#00cd27,#ffcd27 389Q"></i><i style="--g:#00e819 -4Q,#ffe619,#00e41a,#ffe61a,#00e818,#ffe815,#00e719,#ffe31e,#00df1e,#ffdf1f,#00e021,#ffdd24,#00d923,#ffdc22,#00e022,#ffdd23,#00db23,#ffd722,#00d42f,#ffcb3b,#00c33a 221Q,#ffc439,#00c637,#ffc634,#00c635,#ffd336,#00e027,#ffdb17 299Q,#00d62c,#ffd33e,#00d031,#ffd023 344Q,#00cf2a,#ffd330,#00d730,#ffd730 389Q"></i><i style="--g:#00e61b -4Q,#ffe51b,#00e519,#ffe717,#00ea17,#ffe617,#00e21b,#ffe220,#00e11e,#ffe11c,#00e11f,#ffe121,#00e11d,#ffe219,#00e41c,#ffe21f,#00e121,#ffd723,#00cd2f,#ffcb3a,#00c939 221Q,#ffc738,#00c63a,#ffc23b,#00be35,#ffd12e,#00e527,#ffda1f 299Q,#00d129,#ffd233,#00d332,#ffd631,#00da33,#ffda36,#00db36,#ffdb36 389Q"></i><i style="--g:#00e31c -4Q,#ffe41c,#00e619,#ffe617,#00e71a,#ffe31d,#00de1e,#ffe11f,#00e41d,#ffe21c,#00e01c,#ffe41d,#00e81a,#ffe616,#00e41a,#ffe21d,#00e123,#ffd629,#00ca2d,#ffcd31,#00d033 221Q,#ffcc34,#00c839,#ffc63f,#00c333,#ffce27,#00da2c,#ffd530,#00d029,#ffd222,#00d32e,#ffd73a,#00db35,#ffd731,#00d431,#ffd431 389Q"></i><i style="--g:#00e01d -4Q,#ffe31d,#00e51b,#ffe31a,#00e11e,#ffdf23,#00dd20,#ffe01d,#00e31d,#ffe21e,#00e21b,#ffe618,#00ea19,#ffe619,#00e21b,#ffdf1d,#00db26,#ffd62f,#00d12b,#ffd327,#00d52b,#ffd12f,#00cc34 244Q,#ffcf39,#00d130,#ffcc27,#00c832,#ffce3d,#00d42c 310Q,#ffd31b,#00d328,#ffd235,#00d12e,#ffcd26,#00ca26,#ffca26 389Q"></i><i style="--g:#00de1e -4Q,#ffdf1e,#00e120,#ffdd21,#00d923,#ffdc25,#00de21,#ffdf1d,#00e11e,#ffe21f,#00e41b,#ffe517,#00e61b,#ffe21f,#00df21,#ffd922,#00d428,#ffd82d,#00dc27,#ffda20,#00d924,#ffd528,#00d229,#ffd82a,#00de2c 266Q,#ffcd2f,#00bc36,#ffc93d,#00d631,#ffd525,#00d327,#ffcd28,#00c826 355Q,#ffc924,#00ca24,#ffca24 389Q"></i><i style="--g:#00db22 -4Q,#ffdb22,#00da26,#ffd829,#00d527,#ffda25,#00de23,#ffde20,#00dd20,#ffe020,#00e41e,#ffe01c,#00dd21,#ffdc25,#00da27,#ffd629,#00d227,#ffdb24,#00e422 198Q,#ffe020,#00dc21,#ffdc22,#00dc1f,#ffde1b,#00e129,#ffd037 278Q,#00c035,#ffc933,#00d135 310Q,#ffd336,#00d62c,#ffd021,#00ca27,#ffcf2d,#00d42d,#ffd42d 389Q"></i><i style="--g:#00d729 -4Q,#ffd529,#00d22c,#ffd32e,#00d42a,#ffd825,#00db25,#ffda26,#00da24,#ffdc21,#00df24,#ffd926,#00d428,#ffd52a,#00d52c,#ffd62d,#00d824,#ffde1b,#00e41e,#ffe221 209Q,#00e01f,#ffe31d,#00e619,#ffdf15,#00d826,#ffd536 277Q,#00d130,#ffce28,#00ca34,#ffcf3f,#00d533,#ffd526 344Q,#00d62f,#ffd937,#00dc37,#ffdc37 389Q"></i><i style="--g:#00d131 -4Q,#ffce31,#00cc31,#ffd030,#00d52c,#ffd528,#00d629,#ffd62b,#00d728,#ffd626,#00d52b,#ffd230,#00cf2f,#ffd02d,#00d12c,#ffd92b,#00e022 175Q,#ffe019,#00df1d,#ffe121,#00e31d,#ffe71a,#00ea1b,#ffdd1c,#00d023,#ffd929,#00e226,#ffd424,#00c72e,#ffcb39 322Q,#00ce35,#ffd631,#00de33,#ffdb35,#00d735,#ffd735 389Q"></i><i style="--g:#00ca38 -4Q,#ffca38,#00ca34,#ffce30,#00d32f,#ffd12d,#00cf2e,#ffd12f,#00d22f,#ffce2f,#00ca32,#ffcc36,#00cd33,#ffcf2f,#00d12a,#ffda24,#00e422,#ffde20 186Q,#00da20,#ffde20,#00e31d,#ffe41a,#00e422,#ffdc2a,#00d421,#ffde19,#00e81f,#ffdb26,#00ce28,#ffcb2b,#00c831 333Q,#ffd038,#00d830,#ffd229,#00cb29,#ffcb29 389Q"></i><i style="--g:#00c33b -4Q,#ffc63b,#00ca36,#ffcb31,#00cd33,#ffcb35,#00c934,#ffca34,#00cb36,#ffc739,#00c338,#ffc837,#00cd34,#ffd130,#00d529,#ffd921,#00de25,#ffdb2a 186Q,#00d725,#ffdb21,#00df20,#ffdb20,#00d728,#ffdc30,#00e121,#ffe112,#00e21d,#ffdf28,#00dc24,#ffd321,#00ca2b,#ffcb35 344Q,#00cb2b,#ffc921,#00c721,#ffc721 389Q"></i><i style="--g:#00bf3b -5Q,#ffc43b,#00c938,#ffc736,#00c539,#ffc53c,#00c43b,#ffc339,#00c23d,#ffc241,#00c23b 107Q,#ffc736,#0c3,#ffd230,#00d72a,#ffd525,#00d22b,#ffd430,#00d72b,#ffd726,#00d729,#ffd12b,#00cc2a 242Q,#ffda2a,#00e922,#ffe01b,#00d820,#ffdf25,#00e723,#ffde20,#00d427,#ffcc2d 344Q,#00c42a,#ffcb27,#00d127,#ffd127 389Q"></i><i style="--g:#00be3c -5Q,#ffc13c,#00c43d,#ffc13e,#00bd40,#ffbf41,#00c041,#ffbd41,#00bb42,#ffbf43,#00c43c 107Q,#ffc835,#00cb32,#ffd02f,#00d530,#ffce30,#00c732,#fc3,#00d231,#ffcf30,#00cd33,#ffcb37,#00ca2c 242Q,#ffd621,#00e326,#ffda2b,#00d225,#ffdc1f,#00e622,#ffe325,#00e025,#ffd626,#00cb2e 356Q,#ffd436,#00dd36,#ffdd36 389Q"></i><i style="--g:#00bd40 -5Q,#ffbd40,#00bc43,#ffba47,#00b746,#ffb846,#00ba47,#ffb948,#00b744,#ffbe40,#00c53c,#ffc738,#00c835,#ffc932,#00ca38,#ffc63e,#00c13a,#ffc535,#00c938,#ffc53b,#00c23c,#ffc93d,#00cf30 242Q,#ffd023,#00d02e,#ffd138,#00d32c,#ffd620,#00d923,#ffdf27,#00e525,#ffdf23,#00da2f,#ffda3b,#00db3b,#ffdb3b 389Q"></i><i style="--g:#00b948 -4Q,#ffb648,#00b34b,#ffb34f,#00b24d,#ffb34b,#00b34c,#ffb54d,#00b846,#ffbd3f,#00c23e 107Q,#ffc33d,#00c43c,#ffbf3b,#00bb42,#ffbd48,#00be43,#ffbd3d,#00bc41,#ffbb45,#00bb41 220Q,#ffc53d,#00d138,#ffc633,#00bc38,#ffc73c,#00d234,#ffcf2c,#00cb29,#ffd427,#00dd25,#ffdf22,#00e129 355Q,#ffd730,#00cc30,#ffcc30 389Q"></i><i style="--g:#00b152 -4Q,#ffad52,#00aa53,#ffac54,#00ae53,#ffad51,#00ad50,#ffb34e,#00b848,#ffba43 96Q,#0b4,#ffbb45,#00bb47,#ffb44a,#00ad4c,#ffb34d,#00b94c 175Q,#ffb44a,#00b04c,#ffb34d,#00b745,#ffbe3d 231Q,#00c644,#ffbb4a,#00b144,#ffbd3d,#00c93e,#ffc63e,#00c336,#ffc92d,#00cf29,#ffd626,#00de22 355Q,#ffd01f,#00c31f,#ffc31f 389Q"></i><i style="--g:#00a65c -4Q,#ffa55c,#00a35b,#ffa559,#00a858,#ffa958,#00aa53,#ffaf4f,#00b54d 85Q,#ffb34b,#00b14d,#ffaf4e,#00ad54,#ffa95a,#00a556,#ffaa51 164Q,#00ae55,#ffab58,#00a755,#ffae52,#00b44b,#ffb244 231Q,#00b051,#ffb05c 254Q,#00b050,#ffb442,#00b748,#ffbb4e,#00bf45 309Q,#ffc13b,#00c235,#ffcb2f,#00d325,#ffd01b,#00cd1b,#ffcd1b 389Q"></i><i style="--g:#009c63 -4Q,#ff9d63,#009f61,#ffa05e,#00a25d,#ffa55c,#00a857,#ffaa52 74Q,#00ad54,#ffaa56,#00a758,#ffa25b,#009e5f,#ffa064,#00a25e 153Q,#ffa159,#00a15d,#ffa262,#00a35c,#ffa956,#00af55 220Q,#ffa454,#009b5b 243Q,#ffa561 253Q,#00b059,#ffaa50,#00a552 288Q,#ffae54,#00b850,#ffb94c,#00ba45,#ffc13e 343Q,#00c733,#ffd429,#00e229,#ffe229 390Q"></i><i style="--g:#009667 -4Q,#ff9967,#009c64,#ff9d62,#009e60,#ffa25e,#00a55b 63Q,#ffa459,#00a35c,#ffa060,#009c64,#ff9867,#009467 131Q,#ff9967,#009f65,#ff9a63,#009764,#ff9c65,#00a160,#ffa35a 209Q,#00a561,#ff9a67 232Q,#009163,#ff9c5e 253Q,#00a95f,#ffa161 277Q,#009b5c,#ffa356,#00ab57,#ffaf58,#00b353,#ffb74d 343Q,#00bc46,#ffcf3f,#00e43f,#ffe43f 390Q"></i><i style="--g:#009467 -5Q,#ff9767,#009a66,#ff9b64,#009d62,#ff9f5f,#00a25f,#ff9e60,#009a64,#ff9768 98Q,#00936c,#ff926f,#00916b,#ff9667,#009a69 153Q,#ff966b,#009368,#ff9965,#009f62 198Q,#ff9b60,#00976a 222Q,#ff9674,#009569 242Q,#ff995c,#009d65 266Q,#ff9c6e,#009b64,#ff9c5a 299Q,#009e5b,#ffa45c,#00aa5a,#ffac58,#00af55,#ffb951,#00c351 378Q,#ffc351 390Q"></i><i style="--g:#009467 -5Q,#ff9767,#009a66,#ff9b64,#009d62,#ff9f5f,#00a25f,#ff9e60,#009a64,#ff9768 98Q,#00936c,#ff926f,#00916b,#ff9667,#009a69 153Q,#ff966b,#009368,#ff9965,#009f62 198Q,#ff9b60,#00976a 222Q,#ff9674,#009569 242Q,#ff995c,#009d65 266Q,#ff9c6e,#009b64,#ff9c5a 299Q,#009e5b,#ffa45c,#00aa5a,#ffac58,#00af55,#ffb951,#00c351 378Q,#ffc351 390Q"></i><i style="--g:#009467 -5Q,#ff9767,#009a66,#ff9b64,#009d62,#ff9f5f,#00a25f,#ff9e60,#009a64,#ff9768 98Q,#00936c,#ff926f,#00916b,#ff9667,#009a69 153Q,#ff966b,#009368,#ff9965,#009f62 198Q,#ff9b60,#00976a 222Q,#ff9674,#009569 242Q,#ff995c,#009d65 266Q,#ff9c6e,#009b64,#ff9c5a 299Q,#009e5b,#ffa45c,#00aa5a,#ffac58,#00af55,#ffb951,#00c351 378Q,#ffc351 390Q"></i><i style="--g:#009467 -5Q,#ff9767,#009a66,#ff9b64,#009d62,#ff9f5f,#00a25f,#ff9e60,#009a64,#ff9768 98Q,#00936c,#ff926f,#00916b,#ff9667,#009a69 153Q,#ff966b,#009368,#ff9965,#009f62 198Q,#ff9b60,#00976a 222Q,#ff9674,#009569 242Q,#ff995c,#009d65 266Q,#ff9c6e,#009b64,#ff9c5a 299Q,#009e5b,#ffa45c,#00aa5a,#ffac58,#00af55,#ffb951,#00c351 378Q,#ffc351 390Q"></i></div></div><div class="p" style="left:151px;top:1055.2px;width:475.5px;height:357.6px"><div class="f" style="left:-12px;width:500px;height:357.6px"><i style="--g:#ff8a78 -8Q,#008a78,#ff8977 43Q,#008776,#ff8874 91Q,#008975 116Q,#ff8a76,#008c76,#ff8d76,#008d74,#ff8e73,#008e71,#ff8f6f,#00906c 312Q,#ff9469,#009861 360Q,#89985c 372Q,#ff985a 378Q,#00985a 396Q"></i><i style="--g:#ff8a78 -8Q,#008a78,#ff8977 43Q,#008776,#ff8874 91Q,#008975 116Q,#ff8a76,#008c76,#ff8d76,#008d74,#ff8e73,#008e71,#ff8f6f,#00906c 312Q,#ff9469,#009861 360Q,#89985c 372Q,#ff985a 378Q,#00985a 396Q"></i><i style="--g:#ff8a78 -8Q,#008a78,#ff8977 43Q,#008776,#ff8874 91Q,#008975 116Q,#ff8a76,#008c76,#ff8d76,#008d74,#ff8e73,#008e71,#ff8f6f,#00906c 312Q,#ff9469,#009861 360Q,#89985c 372Q,#ff985a 378Q,#00985a 396Q"></i><i style="--g:#ff8a78 -8Q,#008a78,#ff8977 43Q,#008776,#ff8874 91Q,#008975 116Q,#ff8a76,#008c76,#ff8d76,#008d74,#ff8e73,#008e71,#ff8f6f,#00906c 312Q,#ff9469,#009861 360Q,#89985c 372Q,#ff985a 378Q,#00985a 396Q"></i><i style="--g:#ff8a79 -7Q,#008a77 17Q,#ff8876,#008775 67Q,#ff8974,#008a75,#ff8b76,#008d75,#ff8d75,#008d73,#ff8e71,#008e6f,#ff906d,#009169 312Q,#ff9766,#009d57 360Q,#879d4f 372Q,#ff9d4c 378Q,#009d4c 396Q"></i><i style="--g:#ff8979 -7Q,#008977 17Q,#ff8875,#008875 67Q,#ff8975 91Q,#008b75,#ff8c76 141Q,#008d75,#ff8d73,#008d71,#ff8e6f,#008e6d,#ff916b,#009367,#ff9c63,#00a556 361Q,#82a54f 372Q,#ffa54c 378Q,#00a54c 395Q"></i><i style="--g:#ff8878 -7Q,#008876 17Q,#ff8874,#008875 67Q,#ff8a75,#008c75,#ff8c76,#008d74,#ff8d72,#008d70,#ff8e6e,#008f6c,#ff936a,#009665,#ffa260,#00ae5d 362Q,#77ae5c 372Q,#ffae5b 378Q,#00ae5b 393Q"></i><i style="--g:#f87 -6Q,#008876,#ff8974 42Q,#008975,#ff8b76,#008d75 117Q,#ff8d75,#008c73,#ff8d70,#008d6f,#ff8f6d,#00916b,#ff9569,#009962,#ffaa5c 338Q,#00ba6d 364Q,#78ba73 373Q,#ffba76 378Q,#00ba76 391Q"></i><i style="--g:#ff8776 -6Q,#008775,#ff8974 42Q,#008b75 68Q,#ff8c76,#008d75,#ff8c73,#008c71,#ff8d6f,#008e6e,#ff906c,#00936a,#ff9868,#009d60 314Q,#ffb258 340Q,#b7ba69 350Q,#00c885 367Q,#76c891 374Q,#ffc897 378Q,#00c897 389Q"></i><i style="--g:#ff8875 -6Q,#008875,#ff8a75,#008c75 68Q,#ff8c76,#008d74,#ff8c72,#008c70,#ff8d6e,#008f6d,#ff926c,#009669,#ff9c66 290Q,#00a25c,#ffbb52 341Q,#cac670 352Q,#00d7a2 369Q,#56d7af,#ffd7ba 378Q,#00d7ba 386Q"></i><i style="--g:#ff8874 -6Q,#008875,#ff8a75,#008d75,#ff8c75 93Q,#008c73,#ff8c70,#008c6f,#ff8f6e,#00916d,#ff946c,#009868,#ff9f65 291Q,#00a658,#ffc34b 343Q,#ffca58,#f1cf77 354Q,#00e4c0 372Q,#ffe4d7,#00e4d7 383Q"></i><i style="--g:#ff8974 -6Q,#008975,#ff8b76 44Q,#008d75,#ff8c74,#008c72,#ff8c70,#008d6f,#ff906e 192Q,#00936d,#ff976b,#009b67,#ffa362,#00ab53 318Q,#ffc743 345Q,#37dd43 367Q,#00ec43 381Q"></i><i style="--g:#ff8b74 -6Q,#008b75 20Q,#ff8c76,#008d74,#ff8c72,#008b71,#ff8d6f 143Q,#008f6f,#ff926e,#00956c,#ff996a,#009d64,#ffa65f 294Q,#00af4c,#ffcd39 347Q,#00ee39,#ffee39 408Q"></i><i style="--g:#ff8c74 -5Q,#008c75,#ff8c76,#008c73 69Q,#ff8c71,#008c70,#ff8e6f,#00916f,#ff946e,#00976b,#ff9b68,#009f61,#ffa95a 295Q,#00b445,#ffcd2f 350Q,#00e52f,#ffe52f 406Q"></i><i style="--g:#ff8d75 -5Q,#008d75,#ff8c75,#008c72,#ff8c70,#008d70,#ff906f,#00926e,#ff956d,#00986a 220Q,#ff9c66,#00a05e,#ffad55 297Q,#00ba3e 324Q,#ffc624 353Q,#6dcd24 369Q,#00d124 378Q,#ffd124 403Q"></i><i style="--g:#ff8d75 -4Q,#008d74,#ff8c73,#008b72,#ff8d6f,#008e6f,#ff9170,#00946e,#ff966c,#009968 221Q,#ff9e63,#00a25a,#ffb150 299Q,#00c037 326Q,#ffba1c 356Q,#76b71c 370Q,#46b61c,#00b51c 378Q,#ffb51c 400Q"></i><i style="--g:#ff8d76 -4Q,#008d74,#ff8c72 47Q,#008b71,#ff8e6f 96Q,#00906f 122Q,#ff926f,#00956d,#ff976a,#009965,#ff9f60 248Q,#00a555,#ffb54a 301Q,#00c731 329Q,#ffaa16 358Q,#7d9e16 371Q,#559b16,#009816 378Q,#ff9816 397Q"></i><i style="--g:#ff8d76 -3Q,#008d73,#ff8c71,#008c70,#ff8f70 97Q,#00916f,#ff946f,#00966b,#ff9868,#009a62 224Q,#ffa15c,#00a851 276Q,#ffbb45,#00ce2d 331Q,#49bc25 341Q,#ff9914 361Q,#838614 372Q,#518014,#007c14 378Q,#ff7c14 394Q"></i><i style="--g:#ff8c75 -2Q,#008c73,#ff8d70,#008d70,#ff9070,#00936f 123Q,#ff946e,#00966a,#f96,#009c5f,#ffa459 251Q,#00ac4d,#ffc140 305Q,#00d72c 334Q,#4fb823 346Q,#ff8917 364Q,#887117 373Q,#006517 378Q,#ff6517 392Q"></i><i style="--g:#ff8c74 -1Q,#008c72,#ff8d6f,#008f70,#ff9170,#00946e 124Q,#ff956c,#009668,#ff9a63,#009e5d,#ffa757 253Q,#00b149,#ffc73a 307Q,#00de2c 336Q,#4ab526 349Q,#ff7a1d 366Q,#9f641d 373Q,#00541d 378Q,#ff541d 389Q"></i><i style="--g:#ff8b73 0,#008b71,#ff8e70,#009070,#ff9270,#00946d 125Q,#ff956a,#009765,#ff9b61,#00a05b 228Q,#ffab54,#00b745 282Q,#ffcd35 310Q,#00e52e 339Q,#00d12c,#38b62b 351Q,#ff6d27 369Q,#a45827,#004927 378Q,#ff4927 387Q"></i><i style="--g:#008d71 -25Q,#ff8d71,#008c71,#ff8f70,#009270,#ff936f,#00946b,#ff9668 152Q,#009864,#ff9e5f,#00a458,#ffb051 256Q,#00bd41,#ffd22f 312Q,#00e930 342Q,#00d230,#2fb130 354Q,#ff6131 371Q,#a94f31,#004331 378Q,#ff4331 384Q"></i><i style="--g:#008d70 -24Q,#ff8d70,#008d70,#ff9070,#00936f,#ff936e,#00946a,#ff9766 153Q,#009962,#ffa05e,#00a856,#ffb54e 258Q,#00c33c,#ffd62a 315Q,#00ea31 345Q,#00d133 352Q,#22aa35 357Q,#ff5539 374Q,#004039,#ff4039 382Q"></i><i style="--g:#008c6f -24Q,#ff8d6f,#008e70 28Q,#ff9171,#00936e 78Q,#ff946c,#009468,#ff9864,#009c61 181Q,#ffa45d,#00ac54 233Q,#ffba4b,#00c938 288Q,#ffd824,#00e730 348Q,#a7e737 367Q,#ffe73d 380Q"></i><i style="--g:#008c6f -23Q,#ff8e6f,#009070,#ff9170,#00936d,#ff946a,#009567,#ff9a63 156Q,#009f5f,#ffa75b,#00b051 235Q,#ffbf46,#00ce33 291Q,#ffd81e,#00e22e 350Q,#ffe23c,#00e23c 405Q"></i><i style="--g:#008c70 -21Q,#ff8e70,#009170 29Q,#ff926f,#00936c,#ff9568,#009665,#ff9c63 157Q,#00a25e,#ffaa59,#00b34d,#ffc341 265Q,#00d32e,#ffd71a 323Q,#00da2c 353Q,#92da36 369Q,#ffda3b 378Q,#00da3b 403Q"></i><i style="--g:#008c70 -20Q,#ff8f70,#00926f 30Q,#ff936e,#00936a,#ff9667,#009964,#ff9f62 159Q,#00a55c,#ffae56,#00b749 239Q,#ffc73b,#00d729 296Q,#ffd417,#00d22d 355Q,#8bd237 370Q,#ffd23d 378Q,#00d23d 400Q"></i><i style="--g:#008d70 -19Q,#ff9070,#00936e,#ff936c 57Q,#009369,#ff9766,#009b63,#ffa161,#00a75a 187Q,#ffb052,#00ba44 241Q,#ffca35,#00db26 299Q,#ffd217,#00ca31 358Q,#87ca3e 371Q,#adca40,#ffca44 378Q,#00ca44 398Q"></i><i style="--g:#008f71 -18Q,#ff9171,#00936d 32Q,#ff936a,#009468,#f96,#009e62,#ffa45f 162Q,#00aa57,#ffb34e,#00bd3f 244Q,#ffce2f 272Q,#00df24,#ffd219 332Q,#96cc29 344Q,#00c53b 360Q,#77c548 371Q,#a1c54c,#ffc551 378Q,#00c551 396Q"></i><i style="--g:#009070 -17Q,#ff9270,#00936c 34Q,#ff9469,#009667,#ff9b65 111Q,#00a061,#ffa65d,#00ab53,#ffb649 218Q,#00c13a,#ffd129,#00e324 304Q,#ffd31e 334Q,#9ecc32 347Q,#00c44b 362Q,#74c45b 372Q,#a7c460,#ffc464 378Q,#00c464 393Q"></i><i style="--g:#00926f -16Q,#ff926f,#00926b,#ff9568,#009866 87Q,#ff9d65,#00a25f,#ffa85a,#00ad4f 193Q,#ffb945,#00c535,#ffd525 277Q,#00e525,#ffd525 337Q,#a7cf3f 349Q,#00c761 365Q,#72c773 373Q,#ffc77d 378Q,#00c77d 391Q"></i><i style="--g:#00936d -15Q,#ff936d,#00926a,#ff9667 62Q,#009a65,#ff9f64,#00a35d,#ffa956 168Q,#00b04c,#ffbd40,#00ca31 251Q,#ffd821,#00e627,#ffd92d 339Q,#b2d44e 351Q,#00cd7b 367Q,#71cd8f 374Q,#ffcd9a 378Q,#00cd9a 389Q"></i><i style="--g:#00936b -14Q,#ff936b,#009369,#ff9867,#009c64,#ffa062 116Q,#00a45a,#ffab53,#00b248,#ffc13d 225Q,#00d02e,#ffdb1e 283Q,#00e629,#ffdd34 341Q,#c0da5d 353Q,#00d598 369Q,#56d5a9,#ffd5b6 378Q,#00d5b6 386Q"></i><i style="--g:#00936a -13Q,#ff946a,#009468,#ff9967,#009e63,#ffa260 118Q,#00a658,#ffae4f,#00b644,#ffc639 227Q,#00d62b,#ffdd1d,#00e42b,#ffe039 344Q,#ffdf45 349Q,#d4df6a 355Q,#00ddb4 372Q,#ffddce,#00ddce 384Q"></i><i style="--g:#009368 -12Q,#ff9468,#009667,#ff9b67,#009f62,#ffa35d 120Q,#00a755,#ffb14c 174Q,#00bb41,#ffcb36 230Q,#00db29,#ffdd1b,#00df2c 318Q,#ffe13b 346Q,#ffe14c,#e2e17a 358Q,#00e2cc 374Q,#ffe2de,#00e2de 381Q"></i><i style="--g:#009268 -10Q,#ff9568,#009867,#ff9c66,#00a060 95Q,#ffa55a,#00a952,#ffb44a 176Q,#00c03e,#ffd032,#00e027 261Q,#ffdc1b,#00d92a 321Q,#ffde39 348Q,#00e439,#ffe439 407Q"></i><i style="--g:#009267 -9Q,#ff9667,#009b66,#ff9e64,#00a15d 96Q,#ffa757,#00ac4f,#ffb847,#00c53b 206Q,#ffd42e,#00e325,#ffda1b,#00d228 323Q,#ffd935,#00df35,#ffdf35 405Q"></i><i style="--g:#009367 -7Q,#ff9867,#009c65,#ff9f62,#00a25b,#ffa954 125Q,#00b04d,#ffbd45,#00ca38,#ffd72a 237Q,#00e523,#ffd81c 297Q,#00cc25,#ffce2e 353Q,#6cd02e 369Q,#00d12e 378Q,#ffd12e 403Q"></i><i style="--g:#009467 -5Q,#ff9967,#009e63 47Q,#ffa05f,#00a359,#ffab52 127Q,#00b44a,#ffc142,#00ce34 211Q,#ffd925,#00e522,#ffd61f 299Q,#00c723,#ffc126 355Q,#73be26 370Q,#00bc26 378Q,#ffbc26 400Q"></i><i style="--g:#009667 -4Q,#ff9a67,#009e62,#ffa25c,#00a556,#ffaf51 129Q,#00b848,#ffc53e,#00d130 213Q,#ffdb21,#00e522,#ffd423 302Q,#00c522,#ffb120 358Q,#79a820 371Q,#51a620,#00a320 378Q,#ffa320 398Q"></i><i style="--g:#096 -2Q,#ff9c66,#009f60,#ffa35a 77Q,#00a854,#ffb24f,#00bc45,#ffc83a 187Q,#00d42c,#ffdc1d,#00e322,#ffd428 304Q,#00c622,#ffa11d 360Q,#7e921d 372Q,#4d8e1d,#008a1d 378Q,#ff8a1d 395Q"></i><i style="--g:#009b64 -1Q,#ff9d64,#009f5e,#ffa558,#00ab52 106Q,#ffb54d,#00c041,#ffcb35 190Q,#00d728,#ffdc19,#00e124,#ffd52e 307Q,#00c925 334Q,#54b322 346Q,#ff911d 363Q,#917f1d 372Q,#5b791d,#00731d 378Q,#ff731d 393Q"></i><i style="--g:#ff9c67 -26Q,#009c65,#ff9e62,#00a05c,#ffa756,#00af50 108Q,#ffb94a,#00c33d,#ffce30 192Q,#00da24,#ffdc18,#00df26 281Q,#ffd733,#00cf2a 337Q,#49b226 348Q,#ff8220 365Q,#966d20 373Q,#006020 378Q,#ff6020 390Q"></i><i style="--g:#ff9d67 -24Q,#009d63,#ff9f5f,#00a25a,#fa5,#00b24e 110Q,#ffbc47,#00c539,#ffd12b 195Q,#0d2,#ffdc18,#00dc28 283Q,#ffd937,#00d62f 339Q,#45ae2c 351Q,#ff7426 368Q,#9a5f26 374Q,#005226 378Q,#ff5226 388Q"></i><i style="--g:#ff9e67 -22Q,#009e62,#ffa15d,#00a458 58Q,#ffad54,#00b54b,#ffbf43 140Q,#00c835,#ffd427,#00e020,#ffdc1a 256Q,#00d82a 286Q,#ffda39,#00dd34 342Q,#00d033 347Q,#33ae31 353Q,#ff662e 370Q,#9d522e 375Q,#00472e 378Q,#ff472e 385Q"></i><i style="--g:#ff9e66 -21Q,#009e61,#ffa25b,#00a757,#ffaf53 87Q,#00b848,#ffc13e,#00cb31 171Q,#ffd724,#00e320,#ffdb1c,#00d42b 288Q,#ffda39,#00e136 344Q,#00d136,#29a835 356Q,#ff5834 373Q,#003f34,#ff3f34 383Q"></i><i style="--g:#ff9e65 -19Q,#009e5f,#ffa459,#0a5,#ffb250 89Q,#00ba45,#ffc439,#00ce2d 174Q,#ffda21,#00e621 232Q,#ffda20 262Q,#00d02b,#ffd936 318Q,#00e336 347Q,#b3e337 367Q,#ffe337 380Q"></i><i style="--g:#ff9f63 -17Q,#009f5d,#ffa658,#00ad53,#ffb54d 91Q,#00bc41,#ffc735,#00d32b,#ffdd20 205Q,#00e722,#ffd924,#00cc2a 293Q,#ffd630 320Q,#00e134,#ffe137,#00e137 406Q"></i><i style="--g:#ffa160 -15Q,#00a15c,#ffa857,#00b051 66Q,#ffb74a,#00be3e,#ffcb32 150Q,#00d728,#ffdf1e,#00e723,#ffd728 267Q,#00c929,#ffd22a 323Q,#00dc31 352Q,#9bdc35 369Q,#ffdc37 378Q,#00dc37 404Q"></i><i style="--g:#ffa35e -13Q,#00a35a,#ffab57,#00b24e 68Q,#ffba45,#00c13a,#ffce2f,#00dc26 181Q,#ffe01d,#00e525,#ffd62c 269Q,#00c728,#ffce24,#00d530 354Q,#89d537 369Q,#ffd53a 378Q,#00d53a 401Q"></i><i style="--g:#ffa65c -12Q,#00a658,#ffad55,#00b44b,#ffbc41 98Q,#00c537,#ffd22d,#00e024,#ffe11c 213Q,#00e226,#ffd42f 272Q,#00c827 299Q,#ffcb1f,#00cf33 357Q,#83cf3d 370Q,#b4cf40,#ffcf43 378Q,#00cf43 399Q"></i><i style="--g:#ffa95a -10Q,#00a956,#ffaf53,#00b648,#ffbf3e 100Q,#00c934,#ffd62b,#00e223,#ffe01b 216Q,#00dd27,#ffd432 274Q,#00cb28,#ffca1d 330Q,#00ca3c 359Q,#7eca49 371Q,#a8ca4c,#ffca50 378Q,#00ca50 397Q"></i><i style="--g:#ffac59 -8Q,#00ac54,#ffb150,#00b745 74Q,#ffc23b,#00ce31,#ffd928,#00e421 189Q,#ffde1a,#00d827 248Q,#ffd434,#00cf29 304Q,#ffcb1d 333Q,#9cca31 346Q,#00c84a 361Q,#7bc85a 372Q,#aec85f,#ffc863 378Q,#00c863 394Q"></i><i style="--g:#ffae59 -6Q,#00ae52,#ffb44c,#00ba42,#ffc639 105Q,#00d22f,#ffdb25,#00e520 192Q,#ffdc1b,#00d328 251Q,#ffd435,#00d42b,#ffcf21 335Q,#a5cc3b 348Q,#00c95d 364Q,#79c971 373Q,#ffc97b 378Q,#00c97b 392Q"></i><i style="--g:#ffb058 -4Q,#00b050,#ffb648,#00bd3f,#ffc936 107Q,#00d62c,#ffdd21,#00e41f,#ffd91c,#00cf29 253Q,#ffd436,#00da2e 309Q,#ffd427 338Q,#b1d148 350Q,#00cd75 366Q,#64cd88 373Q,#ffcd95 378Q,#00cd95 389Q"></i><i style="--g:#ffb157 -2Q,#00b14e,#ffb945,#00c13c,#ffcd34 110Q,#00d929,#ffde1e,#00e31f,#ffd71f 227Q,#00cc2a,#ffd534,#00df31,#ffd92d 340Q,#bfd755 352Q,#00d390 369Q,#5fd3a3,#ffd3b0 378Q,#00d3b0 387Q"></i><i style="--g:#00a755 -27Q,#ffad55,#00b24b,#ffbc42 56Q,#00c53a,#ffd032,#00db26 141Q,#ffdf1b,#00e21f,#ffd624,#00ca2b 258Q,#ffd532 285Q,#00e132,#ffde33 343Q,#fd4,#c5dc67 355Q,#00daaa 371Q,#5adabb,#ffdac7 378Q,#00dac7 385Q"></i><i style="--g:#00aa52 -25Q,#ffaf52,#00b449,#ffbf40,#00c937 86Q,#ffd32e,#00dd24,#ffdf19,#00e121,#ffd529 232Q,#00c92c,#ffd52e 288Q,#00e232,#ffe036 345Q,#ffe046,#dddf72 357Q,#00dfc2 374Q,#ffdfd7,#00dfd7 382Q"></i><i style="--g:#00ac4f -23Q,#ffb14f,#00b646,#ffc13e 60Q,#00cd34,#ffd62a,#00de21,#ffdf18 176Q,#00e023,#ffd52e 234Q,#00ca2c,#ffd42a,#00df31 319Q,#ffe037 348Q,#53e037 367Q,#00e137 380Q"></i><i style="--g:#00ae4b -21Q,#ffb44b,#00b944,#ffc53c,#00d031 91Q,#ffd826,#00e01f,#ffdf19,#00de26,#ffd533 237Q,#00cb2c 264Q,#ffd326,#00da2d,#ffdc34,#00df34 378Q,#ffdf34 406Q"></i><i style="--g:#00b048 -19Q,#ffb648,#00bd41,#ffc83a,#00d32e 94Q,#ffda22,#00e11e,#ffdf1b,#00dc29 211Q,#ffd536,#00cd2c,#ffd122 295Q,#00d429,#ffd52f 352Q,#68d52f 369Q,#00d52f 378Q,#ffd52f 403Q"></i><i style="--g:#00b145 -17Q,#ffb945,#00c13e,#ffcb37,#00d52b,#ffdc1f 125Q,#00e31e,#ffde1d,#00d92b 213Q,#ffd438,#00d02c 269Q,#ffcf1f,#00ce24,#ffc929 355Q,#70c629 370Q,#00c429 378Q,#ffc429 401Q"></i><i style="--g:#00b243 -15Q,#ffbb43,#00c53b,#ffce33,#00d628,#ffde1d 128Q,#00e51e,#ffdd20,#00d42c 216Q,#ffd438,#00d32b 271Q,#ffcf1e,#00ca21 329Q,#ffba24 357Q,#75b224 371Q,#4fb024,#00ae24 378Q,#ffae24 398Q"></i><i style="--g:#00b341 -12Q,#ffbe41,#00c838 44Q,#ffd02f,#00d825,#ffdf1c,#00e61f 160Q,#ffdb23,#00d02d 218Q,#ffd336,#00d72b 274Q,#ffcf20,#00c820,#ffa920 360Q,#879d20 371Q,#5c9a20,#009620 378Q,#ff9620 396Q"></i><i style="--g:#00b640 -10Q,#ffc040,#00cb35,#ffd32b,#00db23 104Q,#ffe01c,#00e621,#ffd826 192Q,#00cb2c,#ffd333,#00da2c,#ffd124 305Q,#00c921 334Q,#5cb520 346Q,#ff991f 362Q,#8b881f 372Q,#58831f,#007e1f 378Q,#ff7e1f 393Q"></i><i style="--g:#00b93e -8Q,#ffc33e,#00cd33,#ffd627 78Q,#00de21,#ffe11c,#00e422,#ffd629,#00c82c 223Q,#ffd22f 250Q,#00dd2c,#ffd529,#00cd25 336Q,#52b124 348Q,#ff8821 365Q,#8e7421 373Q,#006921 378Q,#ff6921 391Q"></i><i style="--g:#00bd3c -5Q,#ffc63c,#00cf30,#ffd824 80Q,#00e120,#ffe11c,#00e224,#ffd42b 197Q,#00c62b,#ffd22b 252Q,#00de2d,#ffd82f 310Q,#00d22a 338Q,#45af29 350Q,#ff7926 367Q,#906326 374Q,#005726 378Q,#ff5726 389Q"></i><i style="--g:#00c138 -3Q,#ffc938,#00d12d,#ffda22,#00e41f 112Q,#ffe11c,#00de25,#ffd22e 199Q,#00c62b,#ffd228 255Q,#00df2e,#ffdc34,#00d830 341Q,#00c82f,#40aa2e 353Q,#ff692c 370Q,#ac582c,#00492c 378Q,#ff492c 386Q"></i><i style="--g:#00c434 -1Q,#ffcc34,#00d32a,#ffdc21,#00e61f,#ffe01c,#00d927,#ffd131 202Q,#00c82b,#ffd325 257Q,#00de2e 287Q,#ffdd36,#00dd34 343Q,#00cf33,#2ba833 355Q,#ff5a31 372Q,#004031,#ff4031 384Q"></i><i style="--g:#ffc742 -27Q,#00c739,#ffcf30,#00d628,#ffde20,#00e71e 117Q,#ffde1d,#00d528 176Q,#ffd033,#00cc2c,#ffd323 260Q,#00db2d 289Q,#ffdd36,#00e036 346Q,#00d336,#00a635 357Q,#ff4b35 374Q,#003935,#ff3935 381Q"></i><i style="--g:#ffc941 -24Q,#00c937,#ffd12c,#00d925 62Q,#ffe01f,#00e61e,#ffdb1e,#00d12a 178Q,#ffd136,#00d12c 234Q,#ffd422,#00d62b,#ffdb34,#00e035 348Q,#ffe035,#00e035 407Q"></i><i style="--g:#ffcb3f -22Q,#00cb34,#ffd429,#00dd23,#ffe11e 93Q,#00e41f,#ffd920,#00ce2c 181Q,#ffd237,#00d62d 236Q,#ffd422,#00d229 294Q,#ffd72f,#00dc32 351Q,#ffdc35,#00dc35 405Q"></i><i style="--g:#ffcc3d -20Q,#00cc32,#ffd626,#00e121,#ffe11c,#00e220,#ffd723,#00cd2d 183Q,#ffd337,#00da2d 239Q,#ffd322,#00cd26,#ffd229,#00d731 353Q,#8fd736 369Q,#ffd738 378Q,#00d738 402Q"></i><i style="--g:#ffce39 -17Q,#00ce2f,#ffd925,#00e320 69Q,#ffe11b,#00e021,#ffd527 157Q,#00cb2e,#ffd436,#00dd2d 241Q,#ffd324,#00ca24 299Q,#ffce24,#00d133 356Q,#89d13b 370Q,#ffd13f 378Q,#00d13f 400Q"></i><i style="--g:#ffd135 -15Q,#00d12d,#ffdb24,#00e41f,#ffe119,#00dd23 131Q,#ffd42c,#00cb2f,#ffd432,#00de2c 244Q,#ffd326,#00c923,#ffcb20,#00cd3a 358Q,#84cd45 371Q,#accd48,#ffcd4c 378Q,#00cd4c 397Q"></i><i style="--g:#ffd431 -12Q,#00d42a,#ffdc23,#00e51e,#ffe019,#00dc25,#ffd330 162Q,#00cb2f,#ffd42e,#00de2c 246Q,#ffd429 275Q,#00cb24,#ffca1f 332Q,#a5ca2e 343Q,#00ca46 361Q,#80ca55 372Q,#b0ca59,#ffca5d 378Q,#00ca5d 395Q"></i><i style="--g:#ffd82e -10Q,#00d827,#ffde21,#00e41e,#ffdf1a,#00da27 136Q,#ffd234,#00cb2f,#ffd429 220Q,#00dd2b,#ffd62d,#00ce27,#ffcc21 335Q,#a4cb38 347Q,#00ca57 363Q,#6eca68 372Q,#a3ca6e,#ffca73 378Q,#00ca73 393Q"></i><i style="--g:#ffdc2b -7Q,#00dc25,#ffdf1f,#00e31e,#ffdd1c,#00d82a,#ffd237 167Q,#00cb2d,#ffd324 222Q,#00db2a,#ffd731 280Q,#00d32b,#ffd025 337Q,#afcf42 349Q,#00cd6d 365Q,#6acd80 373Q,#ffcd8c 378Q,#00cd8c 390Q"></i><i style="--g:#ffdf29 -5Q,#00df23,#ffe11d,#00e21e,#ffdc20,#00d52c 141Q,#ffd137,#00cd2c,#ffd320 225Q,#00d92a 254Q,#ffd933,#00d92f,#ffd52a 340Q,#b2d452 352Q,#00d286 368Q,#66d29a 374Q,#ffd2a6 378Q,#00d2a6 388Q"></i><i style="--g:#ffe127 -2Q,#00e121,#ffe11a,#00e21f,#ffda23,#00d22d 143Q,#ffd137,#00cf2b 199Q,#ffd21f,#00d62a,#ffda34 285Q,#00dd32,#ffdb30 342Q,#ffda40,#c2d95f 354Q,#00d8a0 370Q,#63d8b3 375Q,#ffd8be 378Q,#00d8be 385Q"></i><i style="--g:#00cf26 -28Q,#ffd926,#00e21f,#ffe219,#00e220,#ffd827 117Q,#00cf2e,#ffd035,#00d22a,#ffd31f 230Q,#00d329 259Q,#ffd934,#00e034,#ffde34 344Q,#ffde42,#d8dd6b 356Q,#00dcb9 373Q,#ffdcd1,#00dcd1 383Q"></i><i style="--g:#00d225 -26Q,#ffda25,#00e31f,#ffe218,#00e122,#ffd62b 120Q,#00cb2f,#ffd133,#00d62a 204Q,#ffd321,#00d129 262Q,#ffd831,#00e033 318Q,#ffdf35 347Q,#4cdf35 367Q,#00df35 380Q"></i><i style="--g:#00d623 -23Q,#ffdc23,#00e21e,#ffe119,#00e023,#ffd42e 122Q,#00c82f,#ffd130,#00da2a 206Q,#ffd424,#00cf28 264Q,#ffd62d,#00dd31,#ffdd34,#00de34,#ffde34 406Q"></i><i style="--g:#00da21 -21Q,#ffde21,#00e21e,#ffe01b,#00de25,#ffd22f 125Q,#00c72e,#ffd22d 180Q,#00de2b,#ffd528,#00cd28 266Q,#ffd228,#00d82c,#ffd830 352Q,#62d730 369Q,#00d730 378Q,#ffd730 404Q"></i><i style="--g:#00dd1e -18Q,#ffe01e,#00e21e,#ffdf1e,#00db27,#ffd131 127Q,#00c72e,#ffd32b,#00e02b 211Q,#ffd62c 241Q,#00cd28,#ffcf24 297Q,#00d227,#ffcd2b 354Q,#74ca2b 369Q,#00c82b 378Q,#ffc82b 402Q"></i><i style="--g:#00df1b -16Q,#ffe11b,#00e31e,#ffdd21,#00d72a 101Q,#ffd032,#00c82e,#ffd429 185Q,#00e12c,#ffd72f,#00cd28 271Q,#ffcd21,#00cd23,#ffbf26 356Q,#7bb826 370Q,#4ab626,#00b426 378Q,#ffb426 399Q"></i><i style="--g:#00e119 -13Q,#ffe219,#00e41e,#ffdb23,#00d32b 103Q,#ffcf33,#00cc2d,#ffd627 187Q,#00e02c,#ffd731 245Q,#00cf28,#ffcd20,#00ca21,#ffaf22 359Q,#80a322 371Q,#56a022,#009c22 378Q,#ff9c22 397Q"></i><i style="--g:#00e118 -10Q,#ffe318,#00e41f,#ffd925,#00ce2d 106Q,#ffcf34,#00d02d,#ffd625 190Q,#00dc2b,#ffd732,#00d22a,#ffce21,#00ca21 333Q,#5bb820 344Q,#ff9e20 361Q,#848e20 372Q,#518920,#008520 378Q,#ff8520 394Q"></i><i style="--g:#00e119 -8Q,#ffe219,#00e420,#ffd727 80Q,#00cb2e,#ffd035,#00d42c 164Q,#ffd623,#00d82a,#ffd732,#00d62c,#ffd125,#00cc23 335Q,#51b322 347Q,#ff8d21 364Q,#867921 373Q,#006f21 378Q,#ff6f21 392Q"></i><i style="--g:#00e11b -5Q,#ffe21b,#00e221,#ffd528 82Q,#00c92f,#ffd036,#00d82b,#ffd521 195Q,#00d329,#ffd631,#00d92e,#ffd52a,#00d028 338Q,#50ad26 350Q,#ff7e25 366Q,#9c6a25 373Q,#005c25 378Q,#ff5c25 389Q"></i><i style="--g:#00e21d -2Q,#ffe01d,#00df24,#ffd32a,#00c830 113Q,#ffd135 140Q,#00db2b,#ffd520,#00ce28 227Q,#ffd52f,#00dc2f 283Q,#ffd92f,#00d62d 340Q,#41ab2c 352Q,#ff6e2a 369Q,#a15b2a,#004d2a 378Q,#ff4d2a 387Q"></i><i style="--g:#ffe31d -29Q,#00e31e,#ffdf1f,#00db26,#ffd22d 87Q,#00c930,#ffd233,#00dc2a 171Q,#ffd421,#00cc27 229Q,#ffd52d,#00de30,#ffdc33,#00db31 343Q,#00ce31 348Q,#2ea931 354Q,#ff5f2f 371Q,#a74e2f,#00422f 378Q,#ff422f 384Q"></i><i style="--g:#ffe41b -26Q,#00e41d,#ffdd20,#00d728,#ffd130 89Q,#00ca30,#ffd32f,#00dd29 174Q,#ffd323,#00ca27,#ffd42b,#00de30,#ffde35,#00de34 345Q,#00cd34,#22a234 357Q,#ff4f33 374Q,#003a33,#ff3a33 382Q"></i><i style="--g:#ffe519 -24Q,#00e51d,#ffdc21 35Q,#00d32b,#ffd033,#00cc2f,#ffd42b,#00dd29 176Q,#ffd427,#00cb28 234Q,#ffd329 262Q,#00db2f,#ffdd35,#00df35 348Q,#abdf34 367Q,#ffdf34 380Q"></i><i style="--g:#ffe519 -21Q,#00e51e,#ffda22,#00d02c 66Q,#ffcf36,#00ce2e,#ffd526 150Q,#00dc29,#ffd52b,#00cd29 236Q,#ffd226,#00d72c,#ffda31,#00dd32,#fd3,#0d3 406Q"></i><i style="--g:#ffe41a -19Q,#00e41e,#ffd923 40Q,#00ce2e,#ffcf38,#00d02d,#ffd522 152Q,#00db29,#ffd630 210Q,#00d02a,#ffd124,#00d228,#ffd52c,#00d931 352Q,#95d933 369Q,#ffd935 378Q,#00d935 403Q"></i><i style="--g:#ffe21b -16Q,#00e220,#ffd725,#00cd2f 71Q,#ffcf38,#00d12c 126Q,#ffd620,#00da2a,#ffd734 213Q,#00d42c,#ffd123 269Q,#00ce25,#ffd127,#00d332 355Q,#8ed338 370Q,#ffd33b 378Q,#00d33b 401Q"></i><i style="--g:#ffdf1d -13Q,#00df23,#ffd528,#00cc30 73Q,#ffd037,#00d32b 129Q,#ffd61f,#00d92a,#ffd836 215Q,#00d72d,#ffd123,#00cb23,#ffcd23,#00ce37 357Q,#88ce41 371Q,#afce43,#ffce46 378Q,#00ce46 398Q"></i><i style="--g:#ffdb1f -10Q,#00db25,#ffd32c,#00cc30,#ffd034,#00d52a,#ffd61f 160Q,#00d72b 189Q,#ffd836,#00d92d 245Q,#ffd125,#00ca22 303Q,#ffcb20,#00cb42 360Q,#78cb4f 371Q,#a2cb52,#ffcb57 378Q,#00cb57 396Q"></i><i style="--g:#ffd720 -8Q,#00d728,#ffd130 49Q,#00cb30,#ffd230,#00d829 134Q,#ffd622,#00d42b,#ffd734,#00da2e,#ffd327,#00cc24,#ffcb21 334Q,#a4cb35 346Q,#00cb52 362Q,#74cb62 372Q,#a7cb68,#ffcb6c 378Q,#00cb6c 393Q"></i><i style="--g:#ffd420 -5Q,#00d42a,#ffd033 52Q,#00cb30,#ffd32c,#00db29 136Q,#ffd625,#00d12a 194Q,#ffd630,#00db2d,#ffd52b,#00d027,#ffce23 336Q,#afce3e 348Q,#00cd67 365Q,#71cd7a 373Q,#ffcd86 378Q,#00cd86 391Q"></i><i style="--g:#ffd221 -2Q,#00d22c,#ffce36,#00ca30,#ffd429 110Q,#00de28,#ffd628,#00cd2a 196Q,#ffd42b,#00db2d,#ffd82f,#00d52c,#ffd328 339Q,#b1d24d 351Q,#00d17f 367Q,#6fd195 374Q,#ffd1a0 378Q,#00d1a0 389Q"></i><i style="--g:#00e522 -29Q,#ffdb22,#00d12d 29Q,#ffce38,#00cb2f,#ffd526 112Q,#00e028,#ffd52b,#00cb29 199Q,#ffd227 227Q,#00da2d,#ffda32,#00da30,#ffd82d 341Q,#ffd83c,#c1d75a 353Q,#00d699 370Q,#54d6ab,#ffd6b9 378Q,#00d6b9 386Q"></i><i style="--g:#00e324 -27Q,#ffd924,#00d02e 31Q,#ffce38,#00cc2e,#ffd624 115Q,#00e029,#ffd52d 173Q,#00ca28,#ffd124,#00d82c,#ffdb34,#00de33 315Q,#ffdc32 344Q,#ffdc3f 349Q,#d5dc66 355Q,#00dbb2 372Q,#ffdbcd,#00dbcd 384Q"></i><i style="--g:#00e027 -24Q,#ffd727,#00cf2f,#ffce36 61Q,#00ce2d,#ffd624 117Q,#00df29,#ffd52f 175Q,#00cb28,#ffd022,#00d62b,#ffdb33,#00df34,#ffde34 346Q,#ffde46,#e5de74 358Q,#00dec8 374Q,#ffdeda,#00deda 381Q"></i><i style="--g:#00dc2a -21Q,#ffd52a,#00cd2f,#ffcf34,#00d22c,#ffd723 120Q,#00dc2a,#ffd530,#00ce29 206Q,#ffd122,#00d42a,#ffd931,#00de32,#ffde34 348Q,#00de34,#ffde34 407Q"></i><i style="--g:#00d82f -19Q,#ffd22f,#00cb30,#ffd131,#00d62a 94Q,#ffd723,#00d82a,#ffd531,#00d22a,#ffd224,#00d128,#ffd62d,#00da2f,#ffda31 351Q,#00da31,#ffda31 405Q"></i><i style="--g:#00d632 -16Q,#ffd032,#00ca31,#ffd22f,#00da29 96Q,#ffd723,#00d32a 154Q,#ffd531,#00d72c,#ffd326,#00cf27,#ffd228,#00d52a,#ffd12d 353Q,#6fcf2d 369Q,#00cd2d 378Q,#ffcd2d 402Q"></i><i style="--g:#00d435 -14Q,#ffce35,#00c831,#ffd32d 70Q,#00de28,#ffd623,#00cf2a 157Q,#ffd531,#00db2d 213Q,#ffd429,#00ce26,#ffcf24,#00d026,#ffc428 356Q,#76be28 370Q,#00bb28 378Q,#ffbb28 400Q"></i><i style="--g:#00d237 -11Q,#ffcd37,#00c831,#ffd42b 72Q,#00e027,#ffd623,#00cc2a 159Q,#ffd531,#00de2e,#ffd62b 244Q,#00cd26,#ffcd21,#0c2,#ffb523 358Q,#7bab23 371Q,#53a823,#00a523 378Q,#ffa523 398Q"></i><i style="--g:#00d137 -9Q,#ffcd37,#00c930,#ffd42a 75Q,#00e027,#ffd524 133Q,#00cb2a,#ffd530,#00df2f 218Q,#ffd72e,#00cf27,#ffcc21,#00ca21,#ffa521 361Q,#7f9621 372Q,#4f9221,#008f21 378Q,#ff8f21 395Q"></i><i style="--g:#00d036 -7Q,#ffce36,#00cc2f,#ffd528,#00df27 106Q,#ffd527,#00cb2a 164Q,#ffd52d 192Q,#00de2e,#ffd82f,#00d129,#ffce23,#00cb22 335Q,#5bb422 347Q,#ff9522 363Q,#928422 372Q,#5d7e22,#007922 378Q,#ff7922 393Q"></i><i style="--g:#00cf34 -4Q,#ffcf34,#00cf2d,#ffd626 80Q,#00dd28,#ffd52a,#00cd2a 166Q,#ffd42a,#00db2d,#ffd830,#00d52b,#ffd227,#00cf26 337Q,#50b025 349Q,#ff8524 366Q,#967124 373Q,#6d6c24,#006524 378Q,#ff6524 390Q"></i><i style="--g:#00cc32 -2Q,#ffd032,#00d42b 54Q,#ffd724,#00da29,#ffd52e,#00cf2a,#ffd326,#00d72b,#ffd830,#00d92e,#ffd62c,#00d42a 339Q,#43ae2a 351Q,#ff7529 368Q,#9a6129 374Q,#005529 378Q,#ff5529 388Q"></i><i style="--g:#00ca31 0,#ffd131,#00d829,#ffd722 85Q,#00d72a,#ffd432 143Q,#00d22b,#ffd223 199Q,#00d329,#ffd72f,#00dc30,#ffda31,#00d92f 342Q,#00c82f,#3ea82f 354Q,#ff652e 370Q,#9d522e 375Q,#00472e 378Q,#ff472e 385Q"></i><i style="--g:#ffc834 -25Q,#00c832,#ffd230 30Q,#00db28,#ffd820,#00d52b,#ffd435 145Q,#00d42b,#ffd221 202Q,#00cf28,#ffd62e,#00dd31,#ffdd34,#0d3 344Q,#00ce33,#27a432 356Q,#ff5532 373Q,#003d32,#ff3d32 383Q"></i><i style="--g:#ffc736 -23Q,#00c732,#ffd22f,#00dd27 61Q,#ffd81f,#00d32b 119Q,#ffd536,#00d62b,#ffd120 204Q,#00cd26,#ffd52c,#00dd31,#ffde35,#00de34 347Q,#b3de34 367Q,#ffde34 380Q"></i><i style="--g:#ffc837 -21Q,#00c832,#ffd22d 35Q,#00de27,#ffd820,#00d22b,#ffd535 150Q,#00d72c 178Q,#ffd222,#00cd26,#ffd32a,#00da2f,#ffdc33,#0d3,#fd3,#0d3 406Q"></i><i style="--g:#ffc936 -18Q,#00c931,#ffd32c 37Q,#00dd27,#ffd723,#00d12a 124Q,#ffd532,#00d92c,#ffd326,#00ce27,#ffd228,#00d62b,#ffd82f,#00da31 352Q,#9cda33 369Q,#ffda34 378Q,#00da34 404Q"></i><i style="--g:#ffcd35 -16Q,#00cd2f,#ffd429,#00dc28 69Q,#ffd627,#00cf2a,#ffd42e,#00da2c,#ffd52a,#00d028,#ffd126,#00d128,#ffd32a,#00d532 354Q,#8ad536 369Q,#ffd539 378Q,#00d539 402Q"></i><i style="--g:#ffd133 -14Q,#00d12d,#ffd626,#00db29,#ffd42b,#00ce2a,#ffd429,#00db2c,#ffd72f,#00d32a,#ffd024,#00cd24,#ffcf25,#00d036 357Q,#83d03f 370Q,#b5d041,#ffd043 378Q,#00d043 399Q"></i><i style="--g:#ffd532 -12Q,#00d52a,#ffd823,#00da29,#ffd32f,#00cd2b 131Q,#ffd426,#00db2c,#ffd833,#00d52b,#ffd024,#00cb23,#ffcc21,#00cd3f 359Q,#7ecd4c 371Q,#a8cd4f,#ffcd53 378Q,#00cd53 397Q"></i><i style="--g:#ffd532 -12Q,#00d52a,#ffd823,#00da29,#ffd32f,#00cd2b 131Q,#ffd426,#00db2c,#ffd833,#00d52b,#ffd024,#00cb23,#ffcc21,#00cd3f 359Q,#7ecd4c 371Q,#a8cd4f,#ffcd53 378Q,#00cd53 397Q"></i><i style="--g:#ffd532 -12Q,#00d52a,#ffd823,#00da29,#ffd32f,#00cd2b 131Q,#ffd426,#00db2c,#ffd833,#00d52b,#ffd024,#00cb23,#ffcc21,#00cd3f 359Q,#7ecd4c 371Q,#a8cd4f,#ffcd53 378Q,#00cd53 397Q"></i><i style="--g:#ffd532 -12Q,#00d52a,#ffd823,#00da29,#ffd32f,#00cd2b 131Q,#ffd426,#00db2c,#ffd833,#00d52b,#ffd024,#00cb23,#ffcc21,#00cd3f 359Q,#7ecd4c 371Q,#a8cd4f,#ffcd53 378Q,#00cd53 397Q"></i></div></div><div class="p" style="left:710.2px;top:1055.2px;width:475.5px;height:357.6px"><div class="f" style="left:-12px;width:500px;height:357.6px"><i style="--g:#ffb94c -17Q,#00b949,#ffb847,#00b847,#ffb148 95Q,#00ab56,#ffa265 154Q,#009266 203Q,#ff9366 237Q,#00936d 265Q,#ff9273,#00916f,#ff956a,#009961 360Q,#89995d 372Q,#ff995b 378Q,#00995b 396Q"></i><i style="--g:#ffb94c -17Q,#00b949,#ffb847,#00b847,#ffb148 95Q,#00ab56,#ffa265 154Q,#009266 203Q,#ff9366 237Q,#00936d 265Q,#ff9273,#00916f,#ff956a,#009961 360Q,#89995d 372Q,#ff995b 378Q,#00995b 396Q"></i><i style="--g:#ffb94c -17Q,#00b949,#ffb847,#00b847,#ffb148 95Q,#00ab56,#ffa265 154Q,#009266 203Q,#ff9366 237Q,#00936d 265Q,#ff9273,#00916f,#ff956a,#009961 360Q,#89995d 372Q,#ff995b 378Q,#00995b 396Q"></i><i style="--g:#ffb94c -17Q,#00b949,#ffb847,#00b847,#ffb148 95Q,#00ab56,#ffa265 154Q,#009266 203Q,#ff9366 237Q,#00936d 265Q,#ff9273,#00916f,#ff956a,#009961 360Q,#89995d 372Q,#ff995b 378Q,#00995b 396Q"></i><i style="--g:#ffb74e -19Q,#00b74a,#ffb846,#00b846,#ffb546 93Q,#00b152,#ffa25e 151Q,#009161,#6a9365 214Q,#ff9467 235Q,#00966c 264Q,#ff9370 289Q,#00916b,#ff9766,#009d56 360Q,#879d4f 372Q,#ff9d4b 378Q,#009d4b 396Q"></i><i style="--g:#ffb550 -21Q,#00b54c,#ffb747,#00b846,#ffb744,#00b64e 119Q,#ffa857,#00995e 178Q,#ff986a 234Q,#00986b 263Q,#ff956c 289Q,#009267,#ff9a62,#00a354 361Q,#81a34e 372Q,#ffa34a 378Q,#00a34a 395Q"></i><i style="--g:#ffb252 -23Q,#00b24d,#ffb548,#00b846,#ffb944,#00ba4a 117Q,#ffad50,#00a05b 175Q,#909e62 196Q,#ff9b70 233Q,#00986b 262Q,#ff9668 289Q,#009363,#ffa05e,#00ac5b 362Q,#77ac59 372Q,#ffac58 378Q,#00ac58 393Q"></i><i style="--g:#ffb054 -25Q,#00b04f,#ffb34a,#00b648,#ffb945,#00bd48 115Q,#ffb24b,#00a85b,#ffa36b 201Q,#a29f69 220Q,#999b68,#009766 262Q,#ff9764 289Q,#00975f,#ffa75a,#00b96a 364Q,#77b970 373Q,#ffb973 378Q,#00b973 391Q"></i><i style="--g:#ffad55 -27Q,#00ad51,#ffb14c,#00b54a,#ffb947 84Q,#00bd47,#ffb646,#00ae53,#ff9760 199Q,#008373 225Q,#ff8a7d 239Q,#009570 262Q,#ff9861 289Q,#009b5c,#ffb057 340Q,#00c783 367Q,#75c78f 374Q,#ffc795 378Q,#00c795 389Q"></i><i style="--g:#00ab4f -2Q,#ffaf4f,#00b34c,#ffb74a,#00bc47 111Q,#ffb843,#00b44d,#ffa157 197Q,#008e6e 224Q,#ff907e,#009171 263Q,#ff9960,#00a159,#ffba52 341Q,#cac570 352Q,#00d6a1 369Q,#56d6af,#ffd6b9 378Q,#00d6b9 386Q"></i><i style="--g:#00aa51 -4Q,#ffad51,#00b14f,#ffb54d 80Q,#00b948,#ffb843,#00b749,#ffa94f 195Q,#009b66 223Q,#ff9479 246Q,#008e6f 266Q,#ff9a61 291Q,#00a856,#ffc44c 343Q,#ffca58,#f2d078 354Q,#00e4c1 372Q,#ffe4d7,#00e4d7 383Q"></i><i style="--g:#00a953 -6Q,#ffac53,#00af51 49Q,#ffb24f,#00b54a,#ffb744 135Q,#00b947,#ffb049,#00a65e 222Q,#ff9971 247Q,#008d6a 268Q,#ff9c62 292Q,#00ad53,#ffc944 345Q,#37df44 367Q,#00ed44 381Q"></i><i style="--g:#00aa53 -9Q,#ffac53,#00ae52,#ffb052 75Q,#00b14c,#ffb547,#00b947,#ffb547,#00b057 221Q,#ff9f66 247Q,#009164,#ffa063 294Q,#00b24f,#ffd03b 347Q,#00f03b,#fff03b 408Q"></i><i style="--g:#00ac53 -11Q,#ffad53,#00ae53 44Q,#ffae52,#00ad4f 101Q,#ffb24b,#00b749,#ffb747,#00b751 219Q,#ffa75a 247Q,#00985e,#ffa661 296Q,#00b64a 322Q,#ffcf30,#00e630,#ffe630 406Q"></i><i style="--g:#00af52 -13Q,#ffaf52,#00af52 41Q,#ffad52,#00ab51 97Q,#ffaf50,#00b34d,#ffb749,#00ba4d 218Q,#ffad50 247Q,#00a157,#ffad5d,#00ba43 324Q,#ffc726 353Q,#6cce26 369Q,#00d126 378Q,#ffd126 403Q"></i><i style="--g:#00b250 -14Q,#ffb150,#00b14f 39Q,#ffae4f,#00ab51 94Q,#ffac53 123Q,#00ae51,#ffb44f,#00b94c 217Q,#ffb249 246Q,#00ab4f 274Q,#ffb556,#00bf3a 326Q,#ffb91c 355Q,#75b71c 370Q,#00b51c 378Q,#ffb51c 400Q"></i><i style="--g:#00b54d -16Q,#ffb54d,#00b44c 36Q,#ffb14c,#00ae4f 91Q,#ffac53 120Q,#00ab55 150Q,#ffaf56,#00b34d 215Q,#ffb445 246Q,#00b449 275Q,#ffbc4c,#00c532 329Q,#ffa915 358Q,#7d9d15 371Q,#549a15,#009715 378Q,#ff9715 397Q"></i><i style="--g:#00b949 -17Q,#ffb849,#00b748,#ffb547 61Q,#00b34c,#ffaf50 116Q,#00ab56 145Q,#ffaa5c 178Q,#00a951 213Q,#ffb247 245Q,#00ba44 275Q,#ffc341,#00cc2b 331Q,#49ba23 341Q,#ff9813 361Q,#848513 372Q,#527f13,#007b13 378Q,#ff7b13 394Q"></i><i style="--g:#00bc45 -19Q,#ffbb45,#00ba44,#ffb943,#00b947,#ffb54b 113Q,#00b053,#ffa85b 171Q,#009d55,#ffae50 245Q,#00bc43 276Q,#ffc938,#00d527 334Q,#4eb720 346Q,#ff8815 364Q,#897015 373Q,#006415 378Q,#ff6415 392Q"></i><i style="--g:#00bf41 -20Q,#ffbe41,#00bd40,#ffbe3e 58Q,#00bf42,#ffbc45 111Q,#00b84b,#ffaa53 167Q,#009b57 197Q,#ffad5e 245Q,#00b947 277Q,#ffcb31,#00dd26 336Q,#49b522 349Q,#ff7a1c 366Q,#a1641c 373Q,#755d1c,#00541c 378Q,#ff541c 389Q"></i><i style="--g:#00c03e -21Q,#ffc03e,#00c03c,#ffc33b,#00c53c 83Q,#ffc33d,#00c142,#ffb446 164Q,#00a759,#ff876d 220Q,#00756e 236Q,#ff896f 250Q,#589f5e,#00b34f 279Q,#ffcc2e,#00e52a 339Q,#00d029,#44b228 352Q,#ff6e25 369Q,#a65925,#004a25 378Q,#ff4a25 387Q"></i><i style="--g:#00c13b -22Q,#ffc23b,#00c33a,#ffc738,#00cb37,#ffca37 108Q,#00c938,#ffc03a,#00b749,#ffa059 216Q,#008b69 240Q,#ff9976 258Q,#6da267 269Q,#00ac55 283Q,#98bc40,#ffca2e 312Q,#00ea2f 342Q,#00d32f,#31b230 354Q,#ff6230 371Q,#ab5130,#004430 378Q,#ff4430 384Q"></i><i style="--g:#00c239 -23Q,#ffc439,#00c538,#ffca36,#00cf33,#ffcf30,#00d02f 133Q,#ffcb2e,#00c739,#ffb645 214Q,#00a558 240Q,#ffa969,#00ac4e 287Q,#94bb3e,#ffca2f 315Q,#00eb34 345Q,#00d235 352Q,#24ab36 357Q,#ff5739 374Q,#004139,#ff4139 382Q"></i><i style="--g:#00c138 -23Q,#ffc438,#00c737,#ffcc35,#00d130,#ffd32c 106Q,#00d528,#ffd525,#00d62b,#ffcb32,#00c042,#ffbb52 266Q,#00b540 290Q,#ffce2d 318Q,#00e835 348Q,#a9e83a 367Q,#ffe83e 380Q"></i><i style="--g:#00c039 -24Q,#ffc439,#00c837,#ffcd35,#00d12f,#ffd529,#00d923 131Q,#ffdd1e,#00e220,#fd2,#00d72d,#ffcf38 267Q,#00c730,#ffd427 321Q,#00e333 350Q,#ffe33e,#00e33e 405Q"></i><i style="--g:#00be3a -25Q,#ffc33a,#00c838,#ffcc35,#00d02f,#ffd528,#00db22 130Q,#ffe21c,#00ea19,#ffea16,#00ea1b,#ffe31f 267Q,#00dc1f,#ffdb1f,#00db2f 353Q,#92db39 369Q,#ffdb3e 378Q,#00db3e 403Q"></i><i style="--g:#00bc3d -25Q,#ffc23d,#00c73a,#ffca37,#00ce30,#ffd429 103Q,#00da23,#ffe31d,#00ed16 183Q,#fff110,#00f60e,#fff20c 268Q,#0e1,#ffe015,#00d22d 355Q,#8bd23a 370Q,#ffd240 378Q,#00d240 400Q"></i><i style="--g:#ffc441 0,#00c43d,#ffc739,#00ca33,#ffd02d 103Q,#00d727,#ffe021 155Q,#00ea18,#fff10f,#00f90a 239Q,#fff904 268Q,#00fa0a,#ffe20f 329Q,#92d71e 342Q,#00ca30 358Q,#87ca3f 371Q,#afca42,#ffca47 378Q,#00ca47 398Q"></i><i style="--g:#ffc045 -1Q,#00c041,#ffc23c,#00c438,#ffcb33,#00d22e 128Q,#ffda29,#00e21f 182Q,#ffea16,#00f20d 238Q,#fff604 268Q,#00fb09,#ffdf0f 331Q,#96d322 344Q,#00c538 360Q,#77c548 371Q,#a3c54d,#ffc552 378Q,#00c552 396Q"></i><i style="--g:#ffbb49 -2Q,#00bb45,#ffbd41,#00be3e,#ffc43b,#00ca37 127Q,#ffd033,#00d62b,#ffdc23 209Q,#00e21a 238Q,#ffea11,#00f313 301Q,#ffda15 333Q,#9bcf2d 347Q,#00c349 362Q,#75c35a 372Q,#a9c360,#ffc364 378Q,#00c364 394Q"></i><i style="--g:#ffb54e -2Q,#00b54a,#ffb646,#00b845,#ffbc44,#00c042 126Q,#ffc23f,#00c53a 180Q,#ffc735,#00ca30 237Q,#ffd42b,#00de27,#ffd123 336Q,#a2cc3e 349Q,#00c55f 364Q,#73c572 373Q,#ffc57c 378Q,#00c57c 391Q"></i><i style="--g:#ffae53 -3Q,#00ae50,#ffaf4d,#00b14e,#ffb34e,#00b54d,#ffb44d 151Q,#00b24c,#ffaf4c 206Q,#00ac4d 236Q,#ffb950,#00c640 308Q,#ffc833 339Q,#aec952 351Q,#00cb7b 367Q,#72cb8d 374Q,#ffcb97 378Q,#00cb97 389Q"></i><i style="--g:#ffa758 -3Q,#00a756,#ffa854 47Q,#00a956,#ffa958,#00a958,#ffa659,#00a25c 175Q,#ff9a5f,#00936e 227Q,#ff887b 249Q,#008271 263Q,#ff9c62 287Q,#00bb51,#ffc740 342Q,#c3cb63 353Q,#00d398 369Q,#70d3aa 375Q,#ffd3b3 378Q,#00d3b3 386Q"></i><i style="--g:#ffa15d -4Q,#00a15c,#ffa25b,#00a35e,#ffa260,#00a060,#ff9e60 145Q,#009b60,#ff9d5f,#009f5c,#ffa859,#00b14d 267Q,#ffbc40,#00c743 320Q,#ffd145 345Q,#ffd354,#d3d572 356Q,#00dcb4 372Q,#ffdccd,#00dccd 384Q"></i><i style="--g:#ff9b62 -6Q,#009b62,#ff9d62,#009e63,#ff9d65,#009d62 117Q,#ff9f5f,#00a258,#ffaf50 190Q,#00bb41,#ffce33 241Q,#00e224,#ffe015,#00dd2b 323Q,#ffe040 348Q,#ffe14e,#dce27b 359Q,#00e4ca 374Q,#ffe4dd,#00e4dd 381Q"></i><i style="--g:#ff9765 -8Q,#009765,#ff9a65,#009d65,#ff9e64,#00a05d,#ffa856,#00b049 163Q,#ffc43c,#00d925 214Q,#ffeb0e 241Q,#6ef50b 256Q,#00fb09 265Q,#4ffa06 278Q,#abf905 286Q,#fff903 292Q,#c4f70e 305Q,#00f61d 324Q,#fff932 350Q,#00fd32,#fffd32 406Q"></i><i style="--g:#ff9667 -10Q,#009667,#ff9a66,#009f62,#ffa35f,#00a755,#ffb44a 136Q,#00c139,#ffda28,#00f415 214Q,#8ef60a 228Q,#fff804 237Q,#adfa04 250Q,#61fb04,#00fc04 262Q,#4afc04 279Q,#9ffc04,#fffc04 291Q,#befc0b 307Q,#00fc12 322Q,#4cf817 334Q,#fff41f 351Q,#fff238,#aff158,#6cef76,#00ed92 376Q,#ffe99c 378Q,#00a49c 414Q"></i><i style="--g:#ff9867 -12Q,#009866,#ff9d64,#00a35d,#ffaa56,#00b04a 110Q,#ffc13e,#00d12a,#ffe816 187Q,#00fb0e 211Q,#51fc09,#fffc04 236Q,#bbfd04 250Q,#63fd03 257Q,#00fd03 261Q,#4efd02 280Q,#9bfd02,#fffd02 290Q,#b5fc04 309Q,#00fc06 321Q,#3bf408 334Q,#ffe80a 352Q,#ffe330 359Q,#ffe161 364Q,#87dc9c 371Q,#00d9bd 375Q,#ffd9cb 377Q,#00cccb 414Q"></i><i style="--g:#ff9c66 -14Q,#009c63,#ffa260,#00a957,#ffb24d 85Q,#00ba40,#ffcd32,#00e01d,#ffef08 187Q,#6ef706 202Q,#00fc05 210Q,#45fb04 223Q,#a5fb03 230Q,#fffb03 235Q,#b7fb03 251Q,#00fb03 262Q,#45fb04 280Q,#fffb04 291Q,#b7fb04 309Q,#00fc04 321Q,#48f604,#ffef04,#c0e932 364Q,#65e64f 372Q,#50e556,#00e45c 376Q,#ffe4e1 414Q"></i><i style="--g:#ffa063 -16Q,#00a05f,#ffa85b,#00af50,#ffba44,#00c437,#ffd829 135Q,#00ec16 161Q,#fff404 186Q,#8af804 199Q,#00fc04 210Q,#4afc04 224Q,#fffc04 236Q,#c3fc04 251Q,#63fc04 258Q,#00fd04 262Q,#42fc03 280Q,#a1fc03 286Q,#fffc03 291Q,#c2fc03 307Q,#00fb03,#39f004 334Q,#ffe404 349Q,#b0d904 362Q,#43d004 373Q,#00ad04 414Q"></i><i style="--g:#ffa660 -17Q,#00a65a,#ffad55,#00b549,#ffc13d,#00cd2f 110Q,#ffe121,#00f511 162Q,#fff803 185Q,#abf903,#00fb03 211Q,#4ffb03 225Q,#a2fc03 231Q,#fffc02 236Q,#b9fc03 252Q,#60fd03 259Q,#00fd03 264Q,#44fc03 280Q,#fffc03 292Q,#b3fc03 307Q,#00fc04,#38e304 334Q,#ffc704 349Q,#ffae32 362Q,#a8a45f 368Q,#009c82 372Q,#ff9c8c 374Q,#008e8c 414Q"></i><i style="--g:#ffab5d -17Q,#00ab56,#ffb24f,#00ba43,#ffc736,#00d529 110Q,#ffe71c,#00f90f 162Q,#93fa08 177Q,#fffa04 186Q,#aafb04,#00fb04,#46fb04 225Q,#a2fb04 232Q,#fffb04 238Q,#bffb04,#00fb04,#4bfb04 280Q,#fffb04 295Q,#a2fb04 307Q,#00fb04 322Q,#3ee704 333Q,#ffc704 350Q,#b1b021 362Q,#6ca62e 368Q,#009f37 371Q,#ff9f9d 414Q"></i><i style="--g:#ffaf5a -17Q,#00af52,#ffb649,#00be3e,#ffcc32 85Q,#00da25,#ffea18,#00fa0e 163Q,#94fa07 178Q,#fffa04 187Q,#aafb04 199Q,#5bfb04,#00fb04 214Q,#4afa04 226Q,#fff804 241Q,#b6f709 253Q,#00f511 271Q,#fff21c,#00ef18 323Q,#4fdc17 333Q,#ffb914 351Q,#9fa529 361Q,#679c32,#009539 369Q,#ff9594 414Q"></i><i style="--g:#ffb257 -17Q,#00b24e,#ffba45,#00c23a,#ffcf30,#00de24 111Q,#ffea18,#00f60d 164Q,#9cf707 180Q,#fff804 189Q,#abf906 201Q,#00fb0a 218Q,#ffe40f,#00cd29 272Q,#ffd241 296Q,#00d738 322Q,#ffc42f 349Q,#56b72f 366Q,#00942f 414Q"></i><i style="--g:#ffb455 -17Q,#00b44b,#ffbc41,#00c538,#ffd12f,#00de24 112Q,#ffe619,#00ef12,#ffec0a,#00e81d,#ffc630 247Q,#91b63d,#00a64b 273Q,#ffb262 294Q,#00bf54,#ffb845 345Q,#90b558 357Q,#00b264 365Q,#ffb3b1 414Q"></i><i style="--g:#ffb552 -16Q,#00b549,#ffbe3f,#00c638 61Q,#ffd130,#00dc26,#ffe11c 140Q,#00e51a,#ffdd19,#00d434 223Q,#65c040 235Q,#ffa84f 251Q,#9f955c,#008368 274Q,#ff9377 289Q,#00af63,#ffc04c 340Q,#aac86f 353Q,#6bcc7d 358Q,#00cd85,#ffcb8a 363Q,#00928a 414Q"></i><i style="--g:#ffb650 -16Q,#00b647,#ffbf3f,#00c738,#ffcf32,#00d72a 114Q,#ffd922,#00db25,#ffcf28 197Q,#00c341 227Q,#ffbb5f 261Q,#89b454 288Q,#00b04d 307Q,#ffc443 336Q,#ffc74e,#fc7,#96d09d 354Q,#00d3b5 358Q,#ffd2bf 360Q,#00c1bf 414Q"></i><i style="--g:#ffb64e -15Q,#00b647,#ffbe40,#00c73a,#ffcc35 89Q,#00d12f,#ffd129 143Q,#00d12f,#ffc735 201Q,#00bc40 233Q,#ffbc4c 271Q,#00bb3e 304Q,#ffd031 333Q,#8cda4e 348Q,#52de59 353Q,#00df5f,#ffdb63 358Q,#006f63 414Q"></i><i style="--g:#ffb64c -14Q,#00b647,#ffbd42,#00c53d 64Q,#ffc738,#00ca34,#ffca31 146Q,#00c936 175Q,#ffc73c 206Q,#00c43c,#ffc53c 272Q,#00c52e,#ffe620 331Q,#94f748 347Q,#79fb51 350Q,#00ff5d 355Q,#fffffb 414Q"></i><i style="--g:#ffb64b -13Q,#00b648,#ffbc44,#00c240 66Q,#ffc33b,#00c439 120Q,#ffc637,#00c837 179Q,#ffcc38,#00d035 243Q,#ffcd33 273Q,#00cb24,#ffc515 330Q,#ffc429,#edc356,#80c17a 348Q,#00c18b,#ffc096 352Q,#009a96 414Q"></i><i style="--g:#ffb54b -12Q,#00b549,#ffba47,#00be43 68Q,#ffbf3e,#00c03c 124Q,#ffc63a 153Q,#00cc34,#ffd22e,#00d82f 245Q,#ffd330,#00ce22,#ffb613 329Q,#99ac26 340Q,#62a92e,#00a536 349Q,#ffa6a4 414Q"></i><i style="--g:#ffb54c -11Q,#00b54b,#ffb849,#00ba44 70Q,#ffbe3f,#00c13b 127Q,#ffcb37,#00d52d,#ffd823 217Q,#00da2b 246Q,#ffd431,#00ce26 301Q,#ffc71b 328Q,#91c334 341Q,#66c23b 346Q,#00c23e 347Q,#ffc2bd 414Q"></i><i style="--g:#ffb54e -9Q,#00b54c,#ffb64b,#00b845 72Q,#ffbf3f,#00c638,#ffd230,#00df26,#ffdc1b,#00d929 248Q,#ffd235,#00cc2f,#ffa729 327Q,#ff9b51 336Q,#b6956e,#009085 344Q,#ff908c 345Q,#008e8c 414Q"></i><i style="--g:#ffb450 -8Q,#00b44d,#ffb64a,#00b744,#ffc23d 104Q,#00ce32,#ffda27,#00e61f,#ffdd17 221Q,#00d32a 249Q,#ffcd3b,#00c73b,#ffbc3b 326Q,#57b53b 341Q,#00933b 414Q"></i><i style="--g:#ffb252 -6Q,#00b24e,#ffb649,#00ba41,#ffc839,#00d62b 136Q,#ffe11d,#00eb1b,#ffdb18 223Q,#00cc2d 250Q,#ffc741,#00c146 300Q,#ffb74b 324Q,#abb362 334Q,#69b16c 338Q,#00b170,#ffaf74 342Q,#007b74 414Q"></i><i style="--g:#ffb254 -3Q,#00b24d,#ffb946 53Q,#00bf3c,#ffcf33,#00df24,#ffe515,#00ec19,#ffd71d 224Q,#00c333 251Q,#ffbf47,#00ba4f 300Q,#ffb557 323Q,#ffb37b 332Q,#8bb290 336Q,#00b29a,#ffb2a1 340Q,#00a3a1 414Q"></i><i style="--g:#ffb254 -1Q,#00b24c,#ffbc42,#00c737,#ffd62c,#00e51e,#ffe80f,#00ea1b,#ffd226 226Q,#00bb39,#ffb74b 276Q,#00b353 300Q,#ffb65a 322Q,#d0b779 331Q,#72b888 335Q,#00b88f,#ffb895 339Q,#009995 414Q"></i><i style="--g:#00aa53 -26Q,#ffaf53,#00b349,#ffc13e,#00cf31,#ffdc24,#00ea19,#ffe70d,#00e520 200Q,#ffcb32 227Q,#00b441,#ffb04f 276Q,#00ac53 300Q,#ffaf57 322Q,#ffb175 330Q,#90b28d 334Q,#00b298,#ffb2a0 338Q,#00a2a0 414Q"></i><i style="--g:#00ab50 -23Q,#ffb150,#00b745,#ffc639,#00d62b,#ffe11d,#00ed16,#ffe50f,#00dd28 201Q,#ffc540 228Q,#00ae49,#ffaa52,#00a650 300Q,#ffa64d 322Q,#97a555 331Q,#00a55a 337Q,#ffa6a4 414Q"></i><i style="--g:#00ad4b -21Q,#ffb54b,#00bc40,#ffcd34,#00dd25,#ffe516,#00ee15,#ffe113,#00d431 203Q,#ffbe4d 229Q,#00a951,#ffa755 276Q,#00a44a,#ff8f40 323Q,#9a8945,#008349 337Q,#ff8583 414Q"></i><i style="--g:#00af45 -18Q,#ffb945,#00c43a,#ffd32e,#00e320,#ffe811,#00ed16,#ffdb1b,#00c83b 205Q,#ffb758,#00a657,#ffa657 277Q,#00a545 300Q,#ff9131 325Q,#a28b38 333Q,#81893a,#00883c 337Q,#ff8884 414Q"></i><i style="--g:#00b140 -16Q,#ffbe40,#00cb34,#ffd928,#00e71b,#ffe90e,#00eb1a,#ffd325 179Q,#00bc45 206Q,#ffb061,#00a45d,#ffa758,#00a93f 300Q,#ff9323 327Q,#b38c2c 335Q,#008b2d 337Q,#ff8b82 414Q"></i><i style="--g:#00b53a -13Q,#ffc43a,#00d32d,#ffdf21,#00ea17,#ffe90e,#00e71f,#ffcb31 181Q,#8abd3f,#00b04d 207Q,#ffa966,#00a35f 253Q,#ffaa59,#00b03b 301Q,#ff8719 329Q,#bb7f1f 335Q,#007d20 337Q,#ff7d74 414Q"></i><i style="--g:#00bb34 -11Q,#ffcb34,#00db27,#ffe31a,#00ec15,#ffe710,#00e227,#ffc23d 183Q,#00a454 208Q,#ffa367,#00a360 253Q,#ffae58,#00b935 303Q,#ff9307 334Q,#00910b 337Q,#ff9183 414Q"></i><i style="--g:#00c12f -9Q,#ffd12f,#00e121,#ffe714,#00ed14,#ffe414,#00da2f 157Q,#6bca3b,#ffb849 184Q,#009a58 208Q,#ff9e66,#00a25f 254Q,#ffb257 278Q,#76ba45,#00c330 304Q,#a5ad11 325Q,#ffa404 334Q,#00a208 337Q,#ffa292 414Q"></i><i style="--g:#00c929 -7Q,#ffd729,#00e51c,#ffea10,#00ee15,#ffdf1a,#00d038 159Q,#6dc046,#ffaf54 186Q,#00935c,#ff9a63 230Q,#00a35c,#ffb654 279Q,#00cc3a 307Q,#00bd34 313Q,#479c2d 320Q,#9c7e25 329Q,#ff691f 334Q,#006121 337Q,#ff615b 414Q"></i><i style="--g:#00d123 -5Q,#ffdd23,#00e918,#ffeb0e,#00ed18,#ffd822,#00c441 161Q,#72b550,#ffa75f 187Q,#008f5f 208Q,#ff995f 231Q,#00a358,#ffba51 281Q,#00d444 309Q,#74be3e 324Q,#ffac39 337Q,#003b39 414Q"></i><i style="--g:#00d91d -3Q,#ffe21d,#00eb16,#ffeb0e,#00ea1c,#ffd02b,#00b74b 162Q,#ffa267 187Q,#009062 208Q,#ff9a5b 231Q,#00a553,#ffbd4c 283Q,#00d952 312Q,#00cd53,#00a855 324Q,#6c8456 332Q,#ff7057 336Q,#006858 338Q,#ff6866 414Q"></i><i style="--g:#00df18 -1Q,#ffe618,#00ec14,#ffe910,#00e523,#ffc635 137Q,#94b844 150Q,#00a953 164Q,#ff9e6e 187Q,#009364 208Q,#ff9d58 232Q,#00a84f,#ffbf46 285Q,#00da62 316Q,#00b16d 328Q,#499672,#ff8176 337Q,#007a76 339Q,#ff7c7a 414Q"></i><i style="--g:#ffe428 -27Q,#00e41e,#ffe913,#00ed14,#ffe515,#00dd2b,#ffbb40 139Q,#92ac4e,#009c5b 165Q,#ff9b71,#009965 208Q,#ffa257,#00ab4b 260Q,#ffc03f 287Q,#00d76c 320Q,#61cd7c 332Q,#93ca82,#ffc687 340Q,#008987 414Q"></i><i style="--g:#ffe824 -25Q,#00e81a,#ffea11,#00ec16,#ffe01b,#00d334 113Q,#66c33e 125Q,#ffb04b 141Q,#8b9f57 154Q,#009060 165Q,#ff9771 185Q,#00a064 208Q,#ffa856,#00b048 261Q,#ffbf39 290Q,#c6c552 301Q,#00d187 324Q,#00c19a 333Q,#ffb0a9 340Q,#ffae75 342Q,#007b75 414Q"></i><i style="--g:#ffea20 -23Q,#00ea18,#ffea10,#00ea19,#ffd923,#00c73d 115Q,#66b74a 128Q,#ffa557 142Q,#008863 165Q,#ff956e 184Q,#00a662,#ffad56 236Q,#00b446 263Q,#ffbd34 293Q,#cbc04d 304Q,#00c786 330Q,#4cc49b 339Q,#68c3a0,#ffc2a4 343Q,#00a6a4 414Q"></i><i style="--g:#ffea1d -21Q,#00ea17,#ffe811,#00e71e,#ffd02b,#00ba48 117Q,#67ab55,#ff9c64 143Q,#008466,#ff9469 184Q,#00aa60,#ffb156,#00b745 265Q,#ffbb31 297Q,#00c09c 343Q,#ffbfa1 345Q,#00a4a1 414Q"></i><i style="--g:#ffe91a -19Q,#00e917,#ffe514,#00e125,#ffc735 91Q,#00ac53 119Q,#ff966f 144Q,#00856a 163Q,#ff9664 185Q,#00ac5d,#ffb356 239Q,#00ba45 268Q,#8fc73b,#ffd432 301Q,#9ce759 324Q,#86ee69 334Q,#83f272 339Q,#84f578 342Q,#84f67b,#00f880 347Q,#fff8f1 414Q"></i><i style="--g:#ffe818 -18Q,#00e819,#ffe11a,#00da2c,#ffbc3e 94Q,#90ad4f,#009f5f 121Q,#ff937a 143Q,#008a6f 161Q,#ff9a5f 186Q,#00ad5a,#ffb454 241Q,#00bc46 271Q,#ffb235 305Q,#caac66 325Q,#8ca884 338Q,#00a59b 347Q,#ffa59f 349Q,#00a19f 414Q"></i><i style="--g:#ffe516 -16Q,#00e51b,#ffdb21,#00d134,#ffb148 96Q,#96a259,#009369 123Q,#ff9280,#009271 161Q,#ff9e5c,#00ab57 215Q,#ffb453 244Q,#00bd48 274Q,#ffa63b 311Q,#c8995f 332Q,#919271 342Q,#008d7f 351Q,#ff8c83 352Q,#008483 414Q"></i><i style="--g:#ffe316 -14Q,#00e31f,#ffd528,#00c63e,#ffa653 98Q,#9e9763,#008871 125Q,#ff8f81 139Q,#009970 161Q,#ffa159,#00a855,#ffb251 246Q,#00be4a 278Q,#ff9241 318Q,#bf7e53 337Q,#006d62 352Q,#ff6d64 355Q,#006664 414Q"></i><i style="--g:#ffdf18 -12Q,#00df24,#ffcd30,#00bb47,#ffb25f 100Q,#8eac5d 120Q,#7da55b 143Q,#009f5a 162Q,#ffa258,#00a553,#ffb14e 249Q,#00bf4b 283Q,#ffa347 327Q,#ff9251 355Q,#00905e 358Q,#ff9089 414Q"></i><i style="--g:#ffdb1b -10Q,#00db29,#ffc537,#00af51,#ffab6a 103Q,#a5a967 120Q,#96a662,#00a25d 164Q,#ffa357,#00a352 223Q,#ffb14c 253Q,#00c147 288Q,#8e9043 319Q,#ff543e 358Q,#00513f 360Q,#ff514f 414Q"></i><i style="--g:#ffd520 -8Q,#00d52f,#ffbd3f,#00a55a,#ff8776 106Q,#007973 118Q,#ff8a70 137Q,#00a463,#ffa457,#00a350,#ffb249 256Q,#00c342 293Q,#7ea03c 324Q,#9f8337 351Q,#b07b35 358Q,#ff7835,#007537 363Q,#ff756f 414Q"></i><i style="--g:#ffce26 -6Q,#00ce36,#ffb546,#009c52 81Q,#6d9e5a 100Q,#91a063 122Q,#ffa16a 139Q,#00a461,#ffa558,#00a64f 229Q,#ffb246 261Q,#00c24a 299Q,#6ea64c 328Q,#97904e 350Q,#ff804f 365Q,#00514f 414Q"></i><i style="--g:#ffc62d -4Q,#00c63d,#ffae4e 54Q,#009455 85Q,#729b5f 121Q,#ff9f64 142Q,#00a45e,#ffa759,#00aa4e 232Q,#ffb343 265Q,#00bd51 304Q,#7cbd5c 336Q,#ffbd77 414Q"></i><i style="--g:#ffbd33 -1Q,#00bd44,#ffad56 57Q,#70a258 78Q,#008f5b,#ff9a5f 145Q,#00a45c,#ffaa59,#00b04e 236Q,#ffb141 269Q,#00b35b 310Q,#ffb39e 414Q"></i><i style="--g:#00d439 -27Q,#ffc439,#00b44c 30Q,#ffa95f 60Q,#87a25e 79Q,#00945c 115Q,#ff9d5b 148Q,#00a55a 179Q,#ffad59 208Q,#00b54d 239Q,#ffbf40 273Q,#7bc860 303Q,#80d594 351Q,#79d9a2 364Q,#77daa7 369Q,#00dbaa 371Q,#ffdbd8 414Q"></i><i style="--g:#00d03f -25Q,#ffbf3f,#00ac53,#ffa567 63Q,#00985d 119Q,#ff9f58 151Q,#00a758 182Q,#ffb058 211Q,#00ba4e 242Q,#ffc343 278Q,#97cc60 309Q,#6dd788 351Q,#00dc9b 371Q,#ffd99e 374Q,#00a49e 414Q"></i><i style="--g:#0c4 -22Q,#ffb944,#00a659 36Q,#ffa26f 68Q,#849e65 102Q,#009b5f 123Q,#ffa256,#00a956 185Q,#ffb256 214Q,#00bc50 245Q,#8fc24c,#ffc849 283Q,#ffdda8 348Q,#e4e1be 361Q,#00e5d1 373Q,#ffe4d3 375Q,#00d5d3 414Q"></i><i style="--g:#00c748 -20Q,#ffb448,#00a057 40Q,#7fa060 60Q,#ff9f71,#009f62 127Q,#ffa555,#00ab54,#ffb352 217Q,#00bc51 249Q,#9cc550,#ffcf50 293Q,#ffd75a 311Q,#ffe790 349Q,#f3eeaa 365Q,#b2f0b3 370Q,#9ef1b6 372Q,#00f3bd 376Q,#fff3ef 414Q"></i><i style="--g:#00c14e -17Q,#ffaf4e 12Q,#009b58 44Q,#ffa069 98Q,#00a35f 130Q,#ffa855,#00ac52,#ffb24e 220Q,#00b84e 253Q,#ff8d4d 309Q,#b98059,#007465 342Q,#ff8b6e 355Q,#ff9e80,#00afa5 375Q,#ffafa9 377Q,#00aba9 414Q"></i><i style="--g:#00bb54 -15Q,#ffa954 15Q,#009659 47Q,#8a9d5f 83Q,#ffa163 102Q,#00a85c 133Q,#fa5,#00ad50,#ffb04b 223Q,#00b24b,#75924a 291Q,#ff7a4a,#006347 338Q,#ff7444 360Q,#a87b4f 370Q,#008158 378Q,#ff8381 414Q"></i><i style="--g:#00b45b -12Q,#ffa45b 18Q,#00905c 53Q,#6d9a5c 83Q,#ffa25d 105Q,#00ac59 136Q,#ffad55,#00ad4f 195Q,#ffad49 226Q,#00ac4c 265Q,#28914e 291Q,#ff7450 318Q,#00613a 336Q,#ff501b 364Q,#ff4b2f 372Q,#004840 376Q,#ff4844,#004844 379Q"></i><i style="--g:#00ae63 -9Q,#ffa463 21Q,#7e9d60 41Q,#00915c,#ffa158 108Q,#00b056 139Q,#ffae54,#00ad4f 197Q,#ffad4a 229Q,#6fad4f 252Q,#00ae55 280Q,#399958 298Q,#ff805d 320Q,#006c3b 336Q,#385825 348Q,#ff3c04 364Q,#002304 378Q,#ff2304 384Q"></i><i style="--g:#00a86b -6Q,#ffa26b 24Q,#00975d 80Q,#ffa455,#00b154 142Q,#ffaf53,#00ac51 200Q,#ffb04e 233Q,#00b762 287Q,#50a868 302Q,#ff966e,#008443 338Q,#ff8304 364Q,#008104 414Q"></i><i style="--g:#00a372 -3Q,#ffa172,#8d9e66 63Q,#009d5e 84Q,#ffa753,#00b253,#ffae53,#00ab53 203Q,#ffb254 238Q,#9ab863 267Q,#00bd70 292Q,#ffae7f 320Q,#83aa6c 328Q,#00a34b 340Q,#ffa304 368Q,#00a304 414Q"></i><i style="--g:#ff9e4d -30Q,#009e58 0,#789f5f 20Q,#ffa26d 55Q,#00a45f 87Q,#ffaa51,#00b052,#ffad53,#00a954 206Q,#95ae56 227Q,#ffb357 252Q,#b6b766 271Q,#00bc77,#ffc189 320Q,#79c373 330Q,#00c655 343Q,#d3c622 367Q,#ffc606 380Q"></i><i style="--g:#ff9952 -28Q,#009959 3Q,#ffa465 58Q,#00aa5a,#ffac50 120Q,#00ad52,#ffab53 178Q,#00a852 210Q,#ffaf4f 262Q,#afb15e 277Q,#00b473 297Q,#ffcb89 320Q,#6cd972,#00e85a 347Q,#ffe825,#00e825 409Q"></i><i style="--g:#ff9358 -25Q,#00935b 7Q,#7c9e5d 41Q,#ffa55e 61Q,#00b056 92Q,#ffad4f 122Q,#00aa52,#ffa856 180Q,#00a54f 215Q,#86a649 246Q,#ffa646 267Q,#aea653 280Q,#00a767 299Q,#ffcc7d 320Q,#00fb66 347Q,#5afb59 361Q,#fffb4b 378Q,#00fb4b 402Q"></i><i style="--g:#ff8f60 -23Q,#478f5e 1Q,#008f5c 31Q,#ffa259 64Q,#00b354,#ffad4e 125Q,#00a754,#ffa659 183Q,#6ba553 203Q,#00a44d,#62a046,#ff9c3f 271Q,#009757 300Q,#ffc568 322Q,#6ae86a 338Q,#00fb6b 347Q,#59fb6d 366Q,#aefb6e 373Q,#fffb6f 378Q,#00fb6f 396Q"></i><i style="--g:#ff9568 -20Q,#7b9564 1Q,#00955c 36Q,#ffa555,#00b552,#ffad4f 127Q,#00a556,#ffa75e 186Q,#79a956 207Q,#00ac4b 237Q,#58a445 252Q,#ff983d 274Q,#008a45 301Q,#739e48 310Q,#ffbf4c,#83e25d 339Q,#00fc6a 350Q,#5ffb7f 369Q,#a7fb85,#fffb89 378Q,#00fb89 393Q"></i><i style="--g:#ff9c71 -16Q,#829c64 20Q,#009c5d 40Q,#ffa852,#00b451,#ffab50,#00a359 159Q,#ffaa63 191Q,#00b64e 242Q,#ff9940 277Q,#008337 302Q,#859c33 313Q,#ffbc2e,#97dc4b,#00fb68 356Q,#6bfb87 371Q,#9bfb8e,#fffb95 378Q,#00fb95 392Q"></i><i style="--g:#00956f -35Q,#ff9d6f 12Q,#00a35f,#ffab50 73Q,#00b252,#ffa953,#00a15c 162Q,#ffae67 199Q,#8ab75d 225Q,#00be55 247Q,#ff9d48 279Q,#00862f 303Q,#8f9d21,#ffb611 330Q,#c8c82d 340Q,#00ef6b 363Q,#6fef85 372Q,#a5ef8e,#ffef95 378Q,#00ef95 393Q"></i><i style="--g:#009667 -35Q,#ffa267 15Q,#00aa5a,#ffac4e,#00af53 105Q,#ffa758 134Q,#009e5a 165Q,#81a75c 184Q,#ffb45f 214Q,#00c359 250Q,#ffa754 281Q,#00922f 304Q,#ffad04 330Q,#e6bb2d 344Q,#86c343 352Q,#00d069 365Q,#6dd080 373Q,#ffd08e 378Q,#00d08e 390Q"></i><i style="--g:#00925f -35Q,#8e9f5f 1Q,#ffa55f 17Q,#00b055,#ffae4c 78Q,#00ab55,#ffa35d 137Q,#009b59 168Q,#ffb552 219Q,#00c65a 254Q,#ffb461 282Q,#00a634,#ffac04 331Q,#ffb02b 349Q,#9fb13c 354Q,#00b469 367Q,#6eb47b 374Q,#ffb486 378Q,#00b486 388Q"></i><i style="--g:#008f5a -14Q,#ffa25a 20Q,#00b452,#ffae4b 81Q,#00a857,#ffa063 139Q,#009757 174Q,#ffb245 223Q,#00c45a 257Q,#ffc26b 283Q,#8fc158 293Q,#00c039,#8eb718 324Q,#ffb204 334Q,#ffa930 353Q,#aaa73f 357Q,#00a16c 370Q,#72a17d 375Q,#ffa184 378Q,#00a184 386Q"></i><i style="--g:#009455 -8Q,#ffa555,#00b650,#ffad4c,#00a45a 113Q,#ffa068 142Q,#719d5e 161Q,#00984f 190Q,#ffad3b 227Q,#00bf58 259Q,#ffcc6f 285Q,#80d359 296Q,#00db3c,#75cc20,#ffbd04,#ffad2e 355Q,#009c79 372Q,#ff9c8e,#009c8e 384Q"></i><i style="--g:#009a52 -5Q,#ffa852,#00b650,#ffab4e,#00a15d,#ffa16d 146Q,#00a14c 196Q,#ffac35 231Q,#00b753 262Q,#ffd36b 286Q,#77e256 299Q,#00f43d 314Q,#ffca07 347Q,#d8ba46 359Q,#87b16b,#00a791 374Q,#ffa7a2,#00a7a2 381Q"></i><i style="--g:#00a150 -2Q,#ffaa50,#00b451,#ffa952,#009e60 118Q,#ffa470 153Q,#00ac4c 201Q,#ffad33 234Q,#00ad4b 264Q,#ffd35f 288Q,#00fb46 313Q,#3dee38 328Q,#ffd922 349Q,#00be22,#ffbe22 406Q"></i><i style="--g:#ffa769 -29Q,#00a75b,#ffac4e,#00b153,#ffa558,#00995f 121Q,#80a063 139Q,#ffab6a 170Q,#00b84e 205Q,#ffad34 237Q,#00a441 265Q,#ffce4c,#00fb46 315Q,#4bf242,#ffe73e 352Q,#00d93e,#ffd93e 404Q"></i><i style="--g:#ffae61 -26Q,#00ae56,#ffad4c,#00ad55,#ffa15e 93Q,#00945f 124Q,#ffb160 175Q,#00c34c,#ffaf39 240Q,#009e37 266Q,#74b037 277Q,#ffcc35 292Q,#71e93e 309Q,#00fb43 319Q,#4cf74b,#fff354 354Q,#68ef54 370Q,#00ed54 378Q,#ffed54 402Q"></i><i style="--g:#ffb25a -24Q,#00b252,#ffae4b,#00a958 67Q,#ff9c65 96Q,#008e60 128Q,#ffb456 178Q,#00cc4b 211Q,#ffb241 242Q,#009d2f 268Q,#81b227 280Q,#ffcc1d,#81e72e 311Q,#00fb3b 323Q,#54f84d,#fff560 356Q,#77f260 370Q,#00f160 378Q,#fff160 400Q"></i><i style="--g:#ffb655 -21Q,#00b650,#ffae4b,#00a65b,#ff9d6c 99Q,#7e9765 117Q,#008d59 148Q,#ffb04d,#00d24b 215Q,#ffb849 245Q,#00a22a 269Q,#89b619,#ffcc06 298Q,#00fa36 331Q,#7df24c 346Q,#ffec5e,#7ae55e 371Q,#53e35e,#00e15e 378Q,#ffe15e 398Q"></i><i style="--g:#ffb752 -19Q,#00b74f,#ffac4c,#00a25f,#ff9d71 103Q,#009655 154Q,#ffb444,#00d34b 218Q,#ffbf52 247Q,#00ae2c,#ffc304 297Q,#c8cf15 312Q,#00e22f 334Q,#79d740,#ffcd4f 360Q,#7bc44f 372Q,#4cc24f,#00c04f 378Q,#ffc04f 395Q"></i><i style="--g:#ffb550 -16Q,#00b550,#ffaa50,#009e5f 75Q,#ff9f74 119Q,#00a055 157Q,#ffb83c,#00d04b 220Q,#ffc758 248Q,#00bf2e 274Q,#92c114 289Q,#ffc204 300Q,#c4c411 316Q,#00c722 336Q,#6ab72c 349Q,#ffa538 363Q,#8c9938 372Q,#579538,#009138 378Q,#ff9138 393Q"></i><i style="--g:#ffb34f -13Q,#00b352,#ffa655,#00985f 78Q,#ffa46e 129Q,#00ac51,#ffba35,#00c949 223Q,#ffce5a 250Q,#88d048 261Q,#00d32f,#8eca14 293Q,#ffc404 303Q,#b3ba0b,#00b112 338Q,#589817 350Q,#ff791d 365Q,#90681d 373Q,#005e1d 378Q,#ff5e1d 391Q"></i><i style="--g:#ffaf4e -10Q,#00af55,#ffa15c 50Q,#009260 81Q,#ffa967 132Q,#00b74b,#ffbb2f 195Q,#00c045 225Q,#ffd357 251Q,#7ddd44 264Q,#00e82d,#7ed616 295Q,#ffc804 307Q,#b1b704 322Q,#00a205 340Q,#4d7f06 352Q,#ff4f06 368Q,#003106,#ff3106 388Q"></i><i style="--g:#ffab4d -7Q,#00ab58,#ff9b64 52Q,#008b63 84Q,#ffac61 135Q,#00c146,#ffbb2b 198Q,#00b63f 228Q,#ffd64f 253Q,#6de93d,#00fb2c 283Q,#ffc905 315Q,#00a005 342Q,#009004,#407004 354Q,#ff3b04 367Q,#001104 378Q,#ff1104 382Q"></i><i style="--g:#ffa74d -4Q,#00a75c,#ff9d6b 56Q,#008c60 108Q,#ffaa5a,#00c942,#ffbb2b 201Q,#00ae38 230Q,#ffd443 255Q,#00fb33 282Q,#35e82a 296Q,#ffcc1d 318Q,#00a910 344Q,#99a908 360Q,#ffa904 369Q,#00a904 412Q"></i><i style="--g:#ffa34d -2Q,#00a35f,#ff9d71 60Q,#00935e 112Q,#ffb052,#00cf40 173Q,#ffbb2d 204Q,#00aa31,#ffd234 258Q,#6feb34 274Q,#00fb35 284Q,#3aeb35 300Q,#ffd736 320Q,#00bd22 346Q,#bebd13 367Q,#ffbd08 380Q"></i><i style="--g:#00b64f -30Q,#ffab4f,#009f5c 32Q,#879e65 52Q,#ff9d73,#009c5d 115Q,#ffb74a,#00d23e,#ffbd33 207Q,#00aa2b 233Q,#7abc27 245Q,#ffd323,#72ec2e 277Q,#00fb34 287Q,#4bf140,#ffe54d 322Q,#00d537 348Q,#ffd51f,#00d51f 407Q"></i><i style="--g:#00b553 -27Q,#ffa853,#009a5c 35Q,#ffa16d 87Q,#00a556,#ffbc40,#00d43e,#ffc13c 209Q,#00b027 235Q,#82c11d 248Q,#ffd611,#78ec25 280Q,#00fc33 291Q,#4ef846 306Q,#fff35b 324Q,#00ed4c,#ffed3d,#00ed3d 405Q"></i><i style="--g:#00b258 -24Q,#ffa358 6Q,#00945e 38Q,#ffa467 90Q,#00ae4f,#ffc136,#00d43e 182Q,#ffc645 211Q,#00ba26 237Q,#ffd704 266Q,#c2e113 276Q,#00f936 299Q,#fffa60,#00fb5e 352Q,#77fb5d 367Q,#fffb5c 378Q,#00fb5c 400Q"></i><i style="--g:#00ad5f -22Q,#ff9e5f 9Q,#008d61,#7d9d62 74Q,#ffa763 93Q,#00b649,#ffc42e,#00d23e 185Q,#ffcd4c 213Q,#00c828,#ffd304 266Q,#c9d917 280Q,#00e235 302Q,#ffee58 328Q,#79f561 342Q,#00fb67 353Q,#5afb6f 367Q,#a3fb73,#fffb75 378Q,#00fb75 396Q"></i><i style="--g:#00a867 -19Q,#ff9f67 12Q,#008e61 66Q,#ffa55e,#00bd43,#ffc628,#00cf3d 188Q,#ffd351,#00d729 242Q,#96d310 259Q,#ffd103 268Q,#c3cd15 284Q,#00c92b 304Q,#ffe147 330Q,#00fb6b 358Q,#6cfb7b 370Q,#a3fb80,#fffb85 378Q,#00fb85 395Q"></i><i style="--g:#00a867 -19Q,#ff9f67 12Q,#008e61 66Q,#ffa55e,#00bd43,#ffc628,#00cf3d 188Q,#ffd351,#00d729 242Q,#96d310 259Q,#ffd103 268Q,#c3cd15 284Q,#00c92b 304Q,#ffe147 330Q,#00fb6b 358Q,#6cfb7b 370Q,#a3fb80,#fffb85 378Q,#00fb85 395Q"></i><i style="--g:#00a867 -19Q,#ff9f67 12Q,#008e61 66Q,#ffa55e,#00bd43,#ffc628,#00cf3d 188Q,#ffd351,#00d729 242Q,#96d310 259Q,#ffd103 268Q,#c3cd15 284Q,#00c92b 304Q,#ffe147 330Q,#00fb6b 358Q,#6cfb7b 370Q,#a3fb80,#fffb85 378Q,#00fb85 395Q"></i><i style="--g:#00a867 -19Q,#ff9f67 12Q,#008e61 66Q,#ffa55e,#00bd43,#ffc628,#00cf3d 188Q,#ffd351,#00d729 242Q,#96d310 259Q,#ffd103 268Q,#c3cd15 284Q,#00c92b 304Q,#ffe147 330Q,#00fb6b 358Q,#6cfb7b 370Q,#a3fb80,#fffb85 378Q,#00fb85 395Q"></i></div></div><div class="p" style="left:1270.1px;top:1055.2px;width:475.5px;height:357.6px"><div class="f" style="left:-12px;width:500px;height:357.6px"><i style="--g:#ff8d74 -5Q,#008d75,#ff8876 48Q,#00847a 73Q,#ff827d 94Q,#00807a 111Q,#ff8976 134Q,#00946f,#ff9468,#009374 218Q,#ff907d 241Q,#008e75 262Q,#ff896a 289Q,#008560 311Q,#ff8053 337Q,#007b46 360Q,#8c7b3f 372Q,#ff7b3c 378Q,#007b3c 396Q"></i><i style="--g:#ff8d74 -5Q,#008d75,#ff8876 48Q,#00847a 73Q,#ff827d 94Q,#00807a 111Q,#ff8976 134Q,#00946f,#ff9468,#009374 218Q,#ff907d 241Q,#008e75 262Q,#ff896a 289Q,#008560 311Q,#ff8053 337Q,#007b46 360Q,#8c7b3f 372Q,#ff7b3c 378Q,#007b3c 396Q"></i><i style="--g:#ff8d74 -5Q,#008d75,#ff8876 48Q,#00847a 73Q,#ff827d 94Q,#00807a 111Q,#ff8976 134Q,#00946f,#ff9468,#009374 218Q,#ff907d 241Q,#008e75 262Q,#ff896a 289Q,#008560 311Q,#ff8053 337Q,#007b46 360Q,#8c7b3f 372Q,#ff7b3c 378Q,#007b3c 396Q"></i><i style="--g:#ff8d74 -5Q,#008d75,#ff8876 48Q,#00847a 73Q,#ff827d 94Q,#00807a 111Q,#ff8976 134Q,#00946f,#ff9468,#009374 218Q,#ff907d 241Q,#008e75 262Q,#ff896a 289Q,#008560 311Q,#ff8053 337Q,#007b46 360Q,#8c7b3f 372Q,#ff7b3c 378Q,#007b3c 396Q"></i><i style="--g:#ff8d74 -5Q,#008d74,#ff8a73,#008677 73Q,#ff837b 96Q,#00807b,#ff877a 133Q,#009271,#ff9468,#009771 217Q,#ff8f78 242Q,#008970 262Q,#ff8665 288Q,#00835b 311Q,#ff8450 337Q,#008540 360Q,#878537 372Q,#ff8533 378Q,#008533 396Q"></i><i style="--g:#ff8e74 -6Q,#008e72,#ff8b71,#008975 72Q,#ff8578 97Q,#00827c 120Q,#ff867e 135Q,#008e75 159Q,#ff9469,#00996d 216Q,#ff8e71 242Q,#00856a 263Q,#ff8662 288Q,#00865b,#ff8f54,#009848 361Q,#809843 372Q,#ff9840 378Q,#009840 395Q"></i><i style="--g:#ff8e73 -6Q,#008e71,#ff8d6f 45Q,#008c73 72Q,#ff8976,#00867c 122Q,#ff8781 139Q,#008978 159Q,#ff916b,#009a6b,#ff8e6a 242Q,#008566,#ff8963 288Q,#008e5f,#ff9f5b 337Q,#00b25e 363Q,#74b25f 372Q,#ffb260 378Q,#00b260 393Q"></i><i style="--g:#ff8d72 -6Q,#008d70,#ff8e6e 44Q,#008e71,#ff8c74 97Q,#00897a 122Q,#ff867f 144Q,#008479 160Q,#ff8e6e 186Q,#009969,#ff9064 242Q,#008865,#ff9066 289Q,#009865 314Q,#ffb164 337Q,#00cd7d 365Q,#74cd85 373Q,#ffcd89 378Q,#00cd89 391Q"></i><i style="--g:#ff8d71 -7Q,#008d70,#ff8f6e,#009170 70Q,#ff8f72,#008d76,#ff857a 147Q,#008077 164Q,#ff8a73 186Q,#009769 213Q,#ff9260 241Q,#008e65 267Q,#ff986a 289Q,#00a46a 315Q,#ffc26a 339Q,#bfcf7d 349Q,#00e6a0 367Q,#72e6ae 374Q,#ffe6b5 378Q,#00e6b5 389Q"></i><i style="--g:#ff8d71 -7Q,#008d70,#ff906f,#00926f 69Q,#ff9170,#008f72,#ff8775 148Q,#008076 168Q,#f87 187Q,#00936b 212Q,#ff955e 240Q,#009666 267Q,#ffa16d 290Q,#00ae6c 316Q,#ffcf6a 341Q,#d6dd89 351Q,#00f6c0 369Q,#fff6d9,#00f6d9 386Q"></i><i style="--g:#ff8d71 -8Q,#008d70,#ff906f,#00936f 69Q,#ff926e,#00916f,#ff8a70 148Q,#008476 172Q,#ff897b 190Q,#008f6f 213Q,#ff9760,#009f68 268Q,#ffa96e 291Q,#00b568,#ffd562 343Q,#ffdc6b 348Q,#f0e48f 354Q,#00fbd6 371Q,#fffbef 378Q,#00fbef 383Q"></i><i style="--g:#ff8d71 -8Q,#008d71,#ff9071,#00946e,#ff936c 94Q,#00936c,#ff8e6b,#008a74 173Q,#ff8a7b,#008a71 214Q,#ff9864 240Q,#00a668 268Q,#ffae6b,#00b75e 319Q,#ffd250 345Q,#42e750 366Q,#00f650 381Q"></i><i style="--g:#ff8d72 -8Q,#008d72,#ff9072,#00936e 68Q,#ff936b,#009469,#ff9268,#009170 173Q,#ff8c78 197Q,#008771 217Q,#ff9769 240Q,#00aa67 268Q,#ffb064,#00b550 320Q,#ffcd39 348Q,#00e739,#ffe739 408Q"></i><i style="--g:#ff8d73 -8Q,#008d73,#ff8f73,#00916e 67Q,#ff936a,#009568,#ff9666,#00976c 173Q,#ff8f72 198Q,#008871,#ff976f 242Q,#00aa65,#ffae5a,#00b23f 322Q,#ffc020,#00ce20 378Q,#ffce20 405Q"></i><i style="--g:#ff8d75 -8Q,#008d74,#ff8e73 43Q,#008f6f,#ff926a 93Q,#009568,#ff9865,#009c68,#ff946b 199Q,#008d6f 223Q,#ff9973 244Q,#00a662 269Q,#ffab50 297Q,#00af2f 323Q,#ffaf0b 353Q,#70b00b 369Q,#00b00b 378Q,#ffb00b 402Q"></i><i style="--g:#ff8c76 -7Q,#008c75,#ff8d73,#008d70,#ff916b 93Q,#009569,#ff9a66,#009f65 172Q,#ff9965,#00946c 225Q,#ff9a73 247Q,#00a15e 271Q,#ffa946,#00b026,#ffa104 353Q,#919904 368Q,#579604,#009404 378Q,#ff9404 398Q"></i><i style="--g:#ff8b78 -6Q,#008b76,#ff8b73 44Q,#008b70,#ff906d,#00946a 119Q,#ff9a67,#00a063,#ff9e5f,#009c66 226Q,#ff9c6c,#009b58 273Q,#ffa93f,#00b722 328Q,#76a612,#ff9804,#9b8904 369Q,#578304,#007e04 378Q,#ff7e04 395Q"></i><i style="--g:#ff8a78 -4Q,#008a76 20Q,#ff8a73,#008a72,#ff8f70 94Q,#00946c,#ff9a69 145Q,#00a062,#ffa25b,#00a45f 226Q,#ff9e62 252Q,#009951 276Q,#ffae3d 303Q,#00c324 331Q,#ff8f09 361Q,#837d09 372Q,#517709,#007309 378Q,#ff7309 395Q"></i><i style="--g:#ff8978 -3Q,#008976,#ff8973 46Q,#008a73,#ff8e72,#00926f 120Q,#ff986b,#009e62 172Q,#ffa359,#00a958,#ffa357 253Q,#009d4a,#ffb73d 305Q,#00d42d 334Q,#51b927 346Q,#ff901d 364Q,#867a1d 373Q,#006f1d 378Q,#ff6f1d 392Q"></i><i style="--g:#f87 -1Q,#008876 23Q,#ff8974,#008a74 73Q,#ff8d74,#009071 121Q,#ff956d,#009a63 172Q,#ffa359,#00ac53,#ffaa4c,#00a845 281Q,#ffc53f 307Q,#00e73a 337Q,#4bc437 349Q,#ff9134 366Q,#9d7d34 373Q,#727734,#006f34 378Q,#ff6f34 390Q"></i><i style="--g:#008b76 -25Q,#ff8976 0,#008875,#ff8974,#008b75,#ff8d75,#008f72,#ff926e,#009665 173Q,#ffa15c,#00ad50,#ffb244 255Q,#00b642,#ffd43f 310Q,#00f744 340Q,#43cb46 352Q,#ff8f48 369Q,#a27b48,#006e48 378Q,#ff6e48 387Q"></i><i style="--g:#008b74 -24Q,#ff8a74,#008974,#ff8b74,#008d74,#ff8d75 101Q,#008d72,#ff906f,#009267 175Q,#ff9f60 201Q,#00ac50,#ffb941 256Q,#00c63f 285Q,#ffe03c,#00fb47 341Q,#00cd4c 353Q,#ff8253 371Q,#a77253,#006853 378Q,#ff6853 384Q"></i><i style="--g:#008b72 -23Q,#ff8b72,#008a73 28Q,#ff8c74 52Q,#008f73,#ff8e73,#008d70 128Q,#ff8f6e,#009069,#ff9c64 202Q,#00a953,#ffbd41 257Q,#00d33b,#ffe735,#00fb43 344Q,#00c649 356Q,#ff6e52 374Q,#005a52,#ff5a52 382Q"></i><i style="--g:#008b71 -22Q,#ff8c71,#008c72,#ff8e73,#009071,#ff8f70,#008f6e,#ff906c,#00926a 181Q,#ff9b68 205Q,#00a557 231Q,#ffbf46 259Q,#00da37,#ffe629,#00f237 348Q,#a7f240 367Q,#fff246 380Q"></i><i style="--g:#008b70 -21Q,#ff8d70,#008f71,#ff9072,#00916f 80Q,#ff916c,#00926a,#ff9469 158Q,#009668,#ff9c68,#00a35a 234Q,#ffbe4b 261Q,#00dc34,#ffdd1c,#00df27 350Q,#ffdf32,#00df32 406Q"></i><i style="--g:#008b70 -20Q,#ff8e70,#009170,#ff9270,#00926c 82Q,#ff9469,#009567,#ff9965,#009d64,#ffa163,#00a459,#ffbd4f 264Q,#75ca40,#00d730 292Q,#ffd010 323Q,#00c919 352Q,#96c91e 369Q,#ffc921 378Q,#00c921 403Q"></i><i style="--g:#008c70 -19Q,#ff8f70 6Q,#00936f,#ff936d,#00936a,#ff9766,#009a64 135Q,#ff9f61,#00a45e,#ffa85b,#00ab54,#ffbd4d 267Q,#00d02c 295Q,#ffc308 326Q,#00b712 355Q,#91b717 370Q,#ffb71a 378Q,#00b71a 401Q"></i><i style="--g:#008e70 -18Q,#ff9170,#00946d 32Q,#ff946b,#009567,#ff9964,#009e61,#ffa45e 162Q,#00ab57,#ffb051,#00b64a,#ffc044,#00ca27 298Q,#ffbb08 329Q,#00ac16 357Q,#81ac1d 370Q,#b3ac1f,#ffac21 378Q,#00ac21 399Q"></i><i style="--g:#008f70 -17Q,#ff9270,#00946c,#ff9569,#009666 85Q,#ff9c63,#00a25e,#ffa95a,#00b051 190Q,#ffb947,#00c13e,#ffc635,#00cb22 302Q,#ffbb0f 332Q,#00ad27 359Q,#7bad31 371Q,#a6ad34,#ffad37 378Q,#00ad37 396Q"></i><i style="--g:#00916f -16Q,#ff936f,#00946b,#ff9667,#009864 86Q,#ff9e62,#00a55c,#ffac57,#00b44b 192Q,#ffc03f,#00cc31 247Q,#ffd024,#00d320,#ffc61c 334Q,#9ec02e 347Q,#00b945 362Q,#76b953 372Q,#aab958,#ffb95c 378Q,#00b95c 394Q"></i><i style="--g:#00936e -15Q,#ff936e,#00946a,#ff9765,#009a63 87Q,#ffa061,#00a75b,#ffae54,#00b647 193Q,#ffc539,#00d428 249Q,#ffdb15,#00e121,#ffd72d 337Q,#a9d347 349Q,#00ce6b 365Q,#70ce7d 373Q,#ffce88 378Q,#00ce88 391Q"></i><i style="--g:#00946c -14Q,#ff946c,#009468,#ff9865 62Q,#009d63,#ffa260,#00a859,#ffaf51,#00b744 194Q,#ffc836,#00d922 251Q,#ffe40d,#00ef26 311Q,#ffea3c 339Q,#b7e861 351Q,#00e595 367Q,#6be5aa 374Q,#ffe5b5 378Q,#00e5b5 388Q"></i><i style="--g:#00946a -13Q,#ff946a,#009567,#ff9a65,#009f62 90Q,#ffa35f,#00a857,#ffb04f,#00b743 196Q,#ffc836,#00da22 252Q,#ffe90d,#00f92b 313Q,#fff947 341Q,#fff956,#c6f976 353Q,#00f9bc 370Q,#fff9dc,#00f9dc 386Q"></i><i style="--g:#009468 -12Q,#ff9568,#009667,#ff9b65,#00a061 91Q,#ffa45d,#00a855,#ffb04d,#00b843 198Q,#ffc838,#00d826 255Q,#ffe913 284Q,#00fb30 315Q,#fffb4b 343Q,#fffb5f,#ccfb8a 356Q,#00fbcc 369Q,#fffbf6 378Q,#00fbf6 380Q"></i><i style="--g:#009467 -11Q,#ff9667,#009866,#ff9d65,#00a160,#ffa55b 119Q,#00a854,#ffb14c,#00b943,#ffc73a 228Q,#00d52c,#ffe31f,#00f233 317Q,#fff646,#00fb46 373Q,#fffb46 410Q"></i><i style="--g:#009466 -10Q,#ff9766,#009a65,#ff9e64,#00a25e,#ffa658 121Q,#00aa52,#ffb34b,#00bc43 203Q,#ffc73a,#00d233 260Q,#ffd92b,#00e032 319Q,#ffed39,#00fb39,#fffb39 408Q"></i><i style="--g:#009466 -8Q,#ff9866,#009c64,#ff9f63,#00a25c,#ffa756 123Q,#00ac50,#ffb649 177Q,#00c041,#ffca38,#00d335,#ffce33,#00c92d,#ffd728 351Q,#ffdb3d,#bdde5e 364Q,#6de17e 371Q,#00e492 376Q,#ffe09b 378Q,#00a29b 414Q"></i><i style="--g:#009566 -7Q,#f96,#009e63,#ffa060,#00a35a,#ffa954 125Q,#00af4e,#ffba47,#00c53d 208Q,#ffce32,#00d832,#ffc632 298Q,#00b524 325Q,#ffb516 354Q,#ffb52d 360Q,#ffb54e 365Q,#b2b583 371Q,#00b5a8 375Q,#ffb4b1 377Q,#00b3b1 414Q"></i><i style="--g:#009765 -5Q,#ff9b65,#009f62,#ffa25e 73Q,#00a458,#ffab52,#00b34b,#ffbe45 182Q,#00ca38,#ffd52a,#00e02a 271Q,#ffc329 301Q,#00a919 328Q,#ff9b08 357Q,#a89522 368Q,#6f932c,#009135 376Q,#ff918f 414Q"></i><i style="--g:#009965 -4Q,#ff9c65,#00a060,#ffa35b 75Q,#00a656,#ffae51 129Q,#00b749,#ffc341 185Q,#00cf32,#ffdb22 243Q,#00e720,#ffc71e 304Q,#00ab11 331Q,#6b930a,#ff7c04,#a56617 370Q,#61601c,#005d1e 375Q,#ff5d5b 414Q"></i><i style="--g:#009b64 -2Q,#ff9e64,#00a15e 50Q,#ffa459,#00a854,#ffb14f 131Q,#00bb46,#ffc73c,#00d32c 216Q,#ffdf1c,#00eb19,#ffd216 307Q,#00ba0d 334Q,#619f09 347Q,#ff8004 361Q,#bf6816 372Q,#006419 374Q,#ff645d 414Q"></i><i style="--g:#009d62 -1Q,#ff9f62,#00a15d,#ffa657 78Q,#00ab52,#ffb44e,#00be43 161Q,#ffca38,#00d628 219Q,#ffe017,#00eb16,#ffdf15 308Q,#00d30d 336Q,#31be0b 344Q,#a89c07,#ff7603 371Q,#000503 414Q"></i><i style="--g:#ff9e65 -26Q,#009e63,#ffa060,#00a15b,#ffa856 80Q,#00af51,#ffb74c,#00c03f,#fc3 192Q,#00d924,#ffe016,#00e818,#ffeb1a 310Q,#00ef1b 338Q,#3cd61b 348Q,#ff991b 369Q,#001d1b 414Q"></i><i style="--g:#ff9f65 -25Q,#009f62,#ffa15e,#00a35a,#fa5 82Q,#00b24f,#ffba49,#00c23c 166Q,#ffcf2e,#00db23,#ffde17,#00e11e 283Q,#ffef24 311Q,#77f731 326Q,#00fc39 337Q,#00d044 350Q,#899c4b 358Q,#ff7d4f 363Q,#9e7250,#006a51 367Q,#ff6a69 414Q"></i><i style="--g:#ff9f65 -23Q,#009f61,#ffa25c,#00a458,#ffac55 84Q,#00b44d,#ffbc45,#00c438 168Q,#ffd12a,#00de22,#ffdc1a,#00da25 286Q,#ffec30 313Q,#66f726 329Q,#00fc21 337Q,#00cb16 353Q,#46c214 356Q,#80b211 361Q,#9dab0f,#ffa70e 365Q,#00140e 414Q"></i><i style="--g:#ff9f65 -21Q,#009f60,#ffa35a 32Q,#00a657,#ffae54,#00b64b,#ffbe41 142Q,#00c734,#ffd427,#00e122,#ffdb1d,#00d42b 288Q,#ffe939 315Q,#83f448 329Q,#00fb53 339Q,#00d364 354Q,#43a569,#ff816c 362Q,#00796d 363Q,#ff7978 414Q"></i><i style="--g:#ff9f64 -20Q,#009f5f,#ffa459,#00a956 61Q,#ffb053,#00b748,#ffc13d 145Q,#00ca31,#ffd724,#00e522,#ffda1f,#00d12e 291Q,#ffe63b 317Q,#93f157,#00fb70 343Q,#54ea89 355Q,#a0e590 358Q,#ffe393 360Q,#009693 414Q"></i><i style="--g:#ff9f62 -18Q,#009f5e,#ffa559,#00ab55 63Q,#ffb250,#00b845,#ffc33a 147Q,#00cf2e,#ffdb22,#00e722,#ffdb21 265Q,#00d02b,#ffe134,#00f35c 349Q,#4fe566 356Q,#ffe268 358Q,#007368 414Q"></i><i style="--g:#ffa060 -16Q,#00a05d,#ffa759,#00ad53 65Q,#ffb44d,#00ba42,#ffc737,#00d42b 179Q,#ffde20,#00e921,#fd2 268Q,#00d123,#ffe724 324Q,#9cf145 338Q,#00fe6c 355Q,#fffefb 414Q"></i><i style="--g:#ffa15e -14Q,#00a15c,#ffa859,#00af51 67Q,#ffb64a,#00bc3f,#ffcb34,#00d928,#ffe11d 211Q,#00e920,#ffdf23 270Q,#00d418 298Q,#ffd40d 328Q,#ffd42b 335Q,#d6d456 340Q,#81d47a 347Q,#5ed486,#00d490,#ffd29b 352Q,#00a19b 414Q"></i><i style="--g:#ffa45d -13Q,#00a45a,#ffaa58,#00b04f,#ffb846 98Q,#00c03b,#ffcf31,#00de25,#ffe31a 214Q,#00e81f,#ffe024 273Q,#00d814 300Q,#79c50b 315Q,#ffb504,#c7a31a 340Q,#709c23 346Q,#009729 349Q,#ff9796 414Q"></i><i style="--g:#ffa65c -11Q,#00a659,#ffac56,#00b14c,#ffbb42 100Q,#00c538,#ffd42d,#00e222,#ffe417,#00e51e,#ffe125 275Q,#00dd14 302Q,#00c710,#51ae0c,#979508,#ff7b04 328Q,#ff4808 341Q,#00390a 345Q,#ff380b 347Q,#00100b 414Q"></i><i style="--g:#ffa95b -9Q,#00a957,#ffae53,#00b349,#ffbf3f 103Q,#00ca34,#ffd82a,#00e61f 190Q,#ffe415,#00e21e 249Q,#ffe226,#00e214 305Q,#00cd10 311Q,#55a80c 318Q,#8f9008,#ff7204 330Q,#ff4104 341Q,#00310b 345Q,#ff312c 414Q"></i><i style="--g:#ffab5b -7Q,#00ab56,#ffb050,#00b546,#ffc23c,#00d031 134Q,#ffdc25,#00e81c,#ffe314,#00de1e 251Q,#ffe327,#00e816 307Q,#00d512,#249f0e 319Q,#ff3c04 335Q,#000f05 343Q,#ff0f0d 414Q"></i><i style="--g:#ffac5b -5Q,#00ac54,#ffb24c,#00b943,#ffc63a,#00d52d 137Q,#ffdf20,#00e91a,#ffe114,#00da1e 254Q,#ffe427 281Q,#00ee26 310Q,#32d626 318Q,#a9b325 331Q,#b89e25 338Q,#ff9925,#009328 342Q,#ff9388 414Q"></i><i style="--g:#ffad5a -2Q,#00ad52,#ffb549,#00bd40 82Q,#ffcb37,#00d929,#ffe11b,#00e919,#ffe016,#00d81e 256Q,#ffe526,#00f24a 312Q,#50d258 323Q,#95c25e,#ffb265 334Q,#9aa867,#00a069 340Q,#ffa19f 414Q"></i><i style="--g:#ffae59 0,#00ae4f,#ffb846,#00c23d,#ffcf33 113Q,#00dc25,#ffe317,#00e918,#ffe01a 230Q,#00d61e,#ffe523 286Q,#00f529 315Q,#00d32b 323Q,#00a12c,#5f7f2d 334Q,#ff6c2e,#00612f 339Q,#ff615b 414Q"></i><i style="--g:#00a656 -25Q,#ffab56,#00af4d,#fb4 58Q,#00c639,#ffd22f,#00de22,#ffe414,#00e919,#ffe01e 232Q,#00d61f,#ffe41f 288Q,#b1ea34 299Q,#00f359 318Q,#70ec6e 329Q,#a2ea74,#ffe87a,#00e67d 338Q,#ffe6dc 414Q"></i><i style="--g:#00a853 -23Q,#ffad53,#00b24a,#ffbe42,#00cb36 89Q,#ffd62a,#00e11e,#ffe513,#00e91b,#ffe023 235Q,#00d71e,#ffe21a 291Q,#aee632 302Q,#00ed5a 321Q,#6be170 331Q,#a2de77,#ffda7c 337Q,#007e7c 414Q"></i><i style="--g:#00aa50 -21Q,#ffaf50,#00b548,#ffc23f,#00cf32 92Q,#ffd925,#00e31c,#ffe512,#00e71d,#ffe027 237Q,#00d91e,#ffdf14 294Q,#afe133 305Q,#00e562 323Q,#61dc79 332Q,#9ed982,#ffd786 337Q,#008886 414Q"></i><i style="--g:#00ab4c -19Q,#ffb24c,#00b944,#ffc53d,#00d22e 94Q,#ffdc20,#00e61a,#ffe614,#00e61f 211Q,#ffe12a,#00dc1d 267Q,#ffdc10 297Q,#a9dc2d 309Q,#00dc56 326Q,#54d36a 334Q,#ffd070 337Q,#007770 414Q"></i><i style="--g:#00ac49 -17Q,#ffb549,#00be41,#ffc939,#00d52b,#ffdf1c,#00e919 155Q,#ffe615,#00e321,#ffe12b 242Q,#00df1d,#ffda0e 299Q,#aad830 312Q,#00d65e 329Q,#3ccf70 335Q,#ffcd74 337Q,#007d74 414Q"></i><i style="--g:#00ad47 -14Q,#ffb847,#00c23e,#ffcd34,#00d727 100Q,#ffe119,#00eb18,#ffe518,#00df21 216Q,#ffe12b,#00e31d 272Q,#ffda0e 302Q,#add739 315Q,#00d370 331Q,#39cf7c 335Q,#ffce82 337Q,#008982 414Q"></i><i style="--g:#00af45 -12Q,#ffbb45,#00c73a,#ffd12f,#00db23,#ffe417 131Q,#00ed18,#ffe41a 190Q,#00db21,#ffe128,#00e61d 275Q,#ffe312 305Q,#9fe13d 319Q,#47e05d 330Q,#00df6b 334Q,#ffdc72 337Q,#007d72 414Q"></i><i style="--g:#00b243 -9Q,#ffbe43,#00ca36,#ffd42a 76Q,#00de20,#ffe616,#00ee19,#ffe31c,#00d820 221Q,#ffe025,#00e91f 278Q,#ffe518 307Q,#8de342 323Q,#58e252 330Q,#48e158,#00e15f,#ffde64 337Q,#007164 414Q"></i><i style="--g:#00b640 -7Q,#ffc140,#00cd32,#ffd825,#00e21d 107Q,#ffe815,#00ed1a,#ffe11e 195Q,#00d51f,#ffe021 251Q,#00ec21,#ffdd21 310Q,#ffda33,#bdd65d 323Q,#76d37a,#00d090 335Q,#ffcf9a 337Q,#009f9a 414Q"></i><i style="--g:#00ba3c -5Q,#ffc53c,#00d02f,#ffdb21,#00e61b,#ffe815 139Q,#00eb1b,#ffdf20 197Q,#00d31e,#ffe01d,#00ed23 283Q,#ffd829 313Q,#8cce3e 326Q,#52ca47,#00c74e 337Q,#ffc8c6 414Q"></i><i style="--g:#00bf38 -2Q,#ffc938,#00d22b,#ffde1e 83Q,#00ea1a,#ffe815,#00e71c,#fd2 200Q,#00d41e,#ffe01a 256Q,#00ec25,#ffcf30 315Q,#ffca3c,#ffc368 326Q,#89bd89 333Q,#00ba98,#ffbaa1 338Q,#00a4a1 414Q"></i><i style="--g:#ffc346 -28Q,#00c33d,#fc3,#00d528,#ffe11d 86Q,#00ec19,#ffe815,#00e31d,#ffdc25 202Q,#00d61e,#ffdf17 259Q,#00e926 289Q,#6ad82d 302Q,#ffc335 318Q,#ffbc43,#e4b564,#87af7b 334Q,#00ab88,#ffaa90 339Q,#009390 414Q"></i><i style="--g:#ffc744 -26Q,#00c739,#ffd02f,#00d925,#ffe31b 89Q,#00ed18,#ffe614,#00df1e 176Q,#ffdc27,#00d91f 233Q,#ffde16 262Q,#00e327 292Q,#63d02e 304Q,#ffb836 321Q,#ffaa5a 330Q,#aea27a 335Q,#009d8d,#ff9d95 340Q,#009795 414Q"></i><i style="--g:#ffca42 -24Q,#00ca36,#ffd32a,#0d2,#ffe51a,#00ed18 120Q,#ffe415,#00dc1f 179Q,#ffdd29,#00de20,#ffdd16 264Q,#00dc26 294Q,#67c72d 307Q,#ffaf36 323Q,#e6a05a 333Q,#989969,#009574 340Q,#ff947b 342Q,#007d7b 414Q"></i><i style="--g:#ffcc40 -21Q,#0c3,#ffd627,#00e120 65Q,#ffe619,#00eb18,#ffe216,#00da21 181Q,#ffde2b,#00e221,#ffdb17 267Q,#00d426 297Q,#60bd2c 310Q,#ffa134 326Q,#968f3e 336Q,#008344 343Q,#ff8482 414Q"></i><i style="--g:#ffcd3d -19Q,#00cd31,#ffd924,#00e41e 67Q,#ffe717,#00ea18,#ffe119,#00d822 184Q,#ffdf2b,#00e622 240Q,#ffd919,#00cc27 299Q,#5cb62c 312Q,#ff9a34 328Q,#9c893c 338Q,#007d42 345Q,#ff7e7c 414Q"></i><i style="--g:#ffcf39 -16Q,#00cf2e,#ffdb23,#00e71c 70Q,#ffe814,#00e819,#ffe01d,#00d823 186Q,#ffe029,#00e823 243Q,#ffd61d,#00c529 302Q,#57af2f 314Q,#ff9136 331Q,#98803d 340Q,#007442 347Q,#ff7574 414Q"></i><i style="--g:#ffd235 -14Q,#00d22b,#ffde21,#00e91a,#ffe812,#00e71a,#ffdf21 160Q,#00d723,#ffe026 216Q,#00e924,#ffd422 276Q,#00c02f 304Q,#61ae34 317Q,#ff963b 333Q,#9e8843 342Q,#007e49 349Q,#ff7f7d 414Q"></i><i style="--g:#ffd631 -11Q,#00d628,#ffe020,#00ea18 75Q,#ffe811,#00e61b 134Q,#ffde25,#00d723,#ffdf22,#00e725 248Q,#ffd229 278Q,#00be37 307Q,#61b03c 319Q,#ff9d44 335Q,#ff925d 343Q,#b68d70,#00897f 351Q,#ff8984 352Q,#008684 414Q"></i><i style="--g:#ffda2d -9Q,#00da25,#ffe21d,#00ea17,#ffe711,#00e51d,#ffde28 165Q,#00d723,#ffde1e 222Q,#00e427,#ffd130 281Q,#00be40,#ffb74e 337Q,#97b45e 349Q,#64b363 353Q,#00b265 355Q,#ffb2af 414Q"></i><i style="--g:#ffdf2a -7Q,#00df22,#ffe41a,#00ea16,#ffe713,#00e31e 139Q,#ffdd2a,#00d822,#ffdc1a 224Q,#00e029,#ffcf38,#00be48 312Q,#ffb458 338Q,#96af67 350Q,#68ae6b,#00ad6e,#ffab71 358Q,#007771 414Q"></i><i style="--g:#ffe327 -4Q,#00e31f,#ffe617,#00ea16,#ffe615,#00e120,#ffdd2b 170Q,#00d822 198Q,#ffd918,#00da2c,#ffcc3f 286Q,#00be4f 314Q,#ffb65d 340Q,#ffb47a 350Q,#a4b292 355Q,#00b1a1,#ffb1a7 360Q,#00a9a7 414Q"></i><i style="--g:#ffe625 -2Q,#00e61c,#ffe813,#00eb16,#ffe519,#00de22 144Q,#ffdc2a,#00d922 200Q,#ffd718,#00d42f 260Q,#ffc845,#00bd51 316Q,#ffbb5d 343Q,#b0ba75 354Q,#77ba7e 358Q,#00b984,#ffb888 363Q,#008d88 414Q"></i><i style="--g:#00d023 -28Q,#ffdc23,#00e81a,#ffea11,#00eb16,#ffe31c,#00db23 146Q,#ffdb29,#00db22,#ffd41b 232Q,#00cd33 262Q,#ffc349,#00b950 318Q,#ffb257 345Q,#96ae65 357Q,#00ac6f 365Q,#ffadab 414Q"></i><i style="--g:#00d421 -25Q,#ffde21,#00e918,#ffea0f,#00ec17,#ffe11f 120Q,#00d724,#ffda28,#00dd24 205Q,#ffd220,#00c636 265Q,#ffbd4b,#00b44b,#ffaa4b 348Q,#47a44b 366Q,#00924b 414Q"></i><i style="--g:#00d91e -22Q,#ffe11e,#00ea17,#ffea10,#00eb19,#ffdf22,#00d324 151Q,#ffd927,#00df27 208Q,#ffcf26,#00c039 267Q,#ffb74b 295Q,#00ae45,#ff9a3e 351Q,#a2924b 361Q,#008c55 369Q,#ff8d8c 414Q"></i><i style="--g:#00de1a -20Q,#ffe41a,#00ea16,#ffea11,#00e91b,#ffdd24 125Q,#00d125,#ffd826 181Q,#00e02a,#ffcd2d,#00ba3c 270Q,#ffb24a,#00aa3f 324Q,#ff9333 353Q,#998a42 365Q,#00844b 371Q,#ff8583 414Q"></i><i style="--g:#00e217 -17Q,#ffe717,#00eb15,#ffe914,#00e61d,#ffdb26 127Q,#00cf26,#ffd826 184Q,#00e02d,#ffca35 244Q,#00b53f,#ffaf48,#00a83b,#ff902d 355Q,#a4873b 366Q,#008147 374Q,#ff8280 414Q"></i><i style="--g:#00e513 -15Q,#ffe913,#00ed15,#ffe716,#00e11f,#ffd928 130Q,#00d027,#ffd726 187Q,#00de31,#ffc73b 247Q,#00b241,#ffae48,#00ab3b,#ff922e 357Q,#9f8a3d 368Q,#008448 375Q,#ff8583 414Q"></i><i style="--g:#00e810 -12Q,#ffeb10,#00ee15,#ffe519,#00dc22,#ffd72b 132Q,#00d129,#ffd626 189Q,#00da34,#ffc541 249Q,#00b144,#ffb148,#00b23f,#ff9c35 359Q,#9c9346 370Q,#68914b,#008f4f 376Q,#ff8f8d 414Q"></i><i style="--g:#00e90f -10Q,#ffeb0f,#00ee15,#ffe21c,#00d724 106Q,#ffd62d,#00d42a,#ffd426 192Q,#00d436,#ffc245 252Q,#00b147,#ffb64a,#00bc44,#ff9d3f 361Q,#ac934b 370Q,#008c55 377Q,#ff8d8b 414Q"></i><i style="--g:#00e910 -7Q,#ffeb10,#00ed17,#ffe01e,#00d327,#ffd530,#00d62b,#ffd226 195Q,#00ce38 225Q,#ffc049 254Q,#00b34a,#ffbd4b,#00c74a 336Q,#ffaf49 364Q,#62a549 376Q,#008449 414Q"></i><i style="--g:#00ea11 -5Q,#ffea11,#00eb19,#ffdd20,#00d029 111Q,#ffd432,#00d82c 168Q,#ffcf25,#00c639 228Q,#ffbe4b,#00b64c 283Q,#ffc24c,#00d04d 339Q,#5ab94d 351Q,#ff9c4e 366Q,#9a8f4e 373Q,#00864e 378Q,#ff864e 390Q"></i><i style="--g:#00ea14 -2Q,#ffe914,#00e71b,#ffdb23,#00ce2b,#ffd432,#00d92c 171Q,#ffcc26,#00bf3a 231Q,#ffbc4d,#00b84c,#ffc64b 312Q,#00d54b 341Q,#4bb44b 353Q,#ff894c 368Q,#9d7a4c 374Q,#006f4c 378Q,#ff6f4c 387Q"></i><i style="--g:#ffeb15 -28Q,#00eb16,#ffe716,#00e31e,#ffd826,#00ce2c 116Q,#ffd332,#00d92d 174Q,#ffc928,#00b93b 233Q,#ffba4d,#00ba4a,#ffc847 315Q,#00d545 343Q,#00c744,#3aa944 355Q,#ff6f42 371Q,#a25f42,#005642 378Q,#ff5642 385Q"></i><i style="--g:#ffec12 -26Q,#00ec15,#ffe519,#00de22,#ffd62a,#00ce2d,#ffd32f 147Q,#00d82e,#ffc62d,#00b53d 236Q,#ffb84c,#00bc47 289Q,#ffc641,#00d13a 345Q,#00c239,#229a37 357Q,#ff4f33 374Q,#003b33,#ff3b33 382Q"></i><i style="--g:#ffed11 -23Q,#00ed16,#ffe31b,#00d925,#ffd42f,#00cf2d,#ffd32c 150Q,#00d72f,#ffc433 210Q,#00b23f,#ffb74a,#00bc42,#ffc33a 319Q,#00ca2f 347Q,#b0ca27 367Q,#ffca22 380Q"></i><i style="--g:#ffec11 -21Q,#00ec17,#ffe11c,#00d527,#ffd232 95Q,#00cf2e,#ffd229 153Q,#00d531,#ffc33a 212Q,#00b241,#ffb748,#00bc3d 293Q,#ffbf32,#00c223,#ffc214,#00c214 406Q"></i><i style="--g:#ffeb12 -18Q,#00eb18,#ffdf1e,#00d32a,#ffd135 98Q,#00cf2e 126Q,#ffd126,#00d434 186Q,#ffc242 214Q,#00b244,#ffb845,#00bd39 296Q,#ffbd2c,#00be1e 352Q,#9cbe16 369Q,#ffbe11 378Q,#00be11 404Q"></i><i style="--g:#ffe815 -16Q,#00e81b,#ffdc20,#00d12b 72Q,#ffd036,#00d02d,#ffd024 158Q,#00d137 188Q,#ffc249 217Q,#00b446,#ffb942 270Q,#00bf36,#ffbe28,#00be22 354Q,#94be1f 370Q,#ffbe1d 378Q,#00be1d 402Q"></i><i style="--g:#ffe417 -13Q,#00e41d,#ffda24,#00d02d,#ffd036 103Q,#00d12d,#ffcf25 161Q,#00cd3a 191Q,#ffc14e 219Q,#00b647,#ffbc40 272Q,#00c234,#ffc328,#00c530 357Q,#82c534 370Q,#b4c535,#ffc536 378Q,#00c536 399Q"></i><i style="--g:#ffdf1a -10Q,#00df21,#ffd728,#00cf2e,#ffd033,#00d22d 134Q,#ffcd27,#00c93d 193Q,#ffc051,#00b848,#ffbf3e,#00c735 302Q,#ffcb2c,#00d047 359Q,#7cd053 371Q,#a6d056,#ffd059 378Q,#00d059 396Q"></i><i style="--g:#ffdb1b -8Q,#00db24,#ffd42c,#00ce2e,#ffd130,#00d42d 137Q,#ffcb2a,#00c23e 196Q,#ffbf51,#00bb47 249Q,#ffc33c,#00cc37,#ffd531 333Q,#aad845 344Q,#00de64 362Q,#76de76 372Q,#aade7b,#ffde80 378Q,#00de80 394Q"></i><i style="--g:#ffd81c -5Q,#00d826,#ffd230,#00cc2f,#ffd12d,#00d62e,#ffc92f,#00bc3f 198Q,#ffbc4f,#00bd45 251Q,#ffc73b,#00d138,#ffde36 335Q,#b6e253 347Q,#00ea83 365Q,#71ea98 373Q,#ffeaa5 378Q,#00eaa5 391Q"></i><i style="--g:#ffd61d -2Q,#00d628,#ffd033,#00cb2f,#ffd22b 113Q,#00d830,#ffc634 172Q,#00b540 200Q,#ffba4b,#00c042 253Q,#ffca3a,#00d639,#ffe339 338Q,#b9e962 350Q,#00f19e 367Q,#86f1b9 375Q,#fff1c2 378Q,#00f1c2 388Q"></i><i style="--g:#00e81f -29Q,#ffde1f,#00d42a 30Q,#ffcf35,#00cb2f,#ffd229 115Q,#00d931,#ffc439 175Q,#00b040,#ffb946 228Q,#00c23f,#ffcd38,#00d838,#ffe438 340Q,#ffe646,#cae968 352Q,#00f1b3 370Q,#fff1d4,#00f1d4 386Q"></i><i style="--g:#00e621 -26Q,#ffdc21,#00d32b,#ffcf35 61Q,#00cb2f,#ffd129 118Q,#00d834,#ffc13e 177Q,#00ad40,#ffb842 230Q,#00c43c,#ffce35 286Q,#00d834,#ffe033 343Q,#ffe243,#d4e46d 355Q,#00e9c0 372Q,#ffe9db,#00e9db 384Q"></i><i style="--g:#00e224 -24Q,#ffda24,#00d22c 35Q,#ffcf34,#00cd2f,#ffd129,#00d436 150Q,#ffbf43 179Q,#00ac41,#ffb93e 232Q,#00c638,#ffce32,#00d52e,#ffd82a 346Q,#ffd938,#ffda67 357Q,#00dbc5 375Q,#ffdbd7,#00dbd7 381Q"></i><i style="--g:#00de28 -21Q,#ffd728,#00d02d,#ffd032 66Q,#00d02e,#ffcf2a,#00cf39,#ffbe47 181Q,#00ae42,#ffbb3c 234Q,#00c935,#ffcd2e,#00d227,#ffcf20 348Q,#00cc20,#ffcc20 407Q"></i><i style="--g:#00db2c -18Q,#ffd42c,#00ce2e,#ffd131,#00d32e,#ffcd2b,#00c83c 155Q,#ffbd4b 183Q,#00b343,#ffbf3a 236Q,#00cb32,#ffcd2a,#00ce21,#ffc617 351Q,#00be17,#ffbe17 405Q"></i><i style="--g:#00d82f -15Q,#ffd22f,#00cc2f,#ffd12f,#00d62e 100Q,#ffcb2c,#00c13e 158Q,#ffbd4e,#00b944 211Q,#ffc339,#00cd30,#ffcd27,#00cd1d 324Q,#ffbd12 354Q,#73b412 369Q,#00af12 378Q,#ffaf12 402Q"></i><i style="--g:#00d732 -12Q,#ffd032,#00ca30,#ffd12e,#00d82e 102Q,#ffc92e,#00ba3f 160Q,#ffbd50,#00c044 213Q,#ffc738,#00cf2f,#ffce26,#00ce1d 327Q,#ffb514 356Q,#7aaa14 370Q,#4aa614,#00a314 378Q,#ffa314 400Q"></i><i style="--g:#00d633 -10Q,#ffd033,#00c931,#ffd12e 75Q,#00d92f,#ffc630 134Q,#00b441 162Q,#ffbd50,#00c643 215Q,#ffcb36,#00d12e,#ffd126,#00d221 329Q,#ffb01b 359Q,#7fa21b 371Q,#569e1b,#009a1b 378Q,#ff9a1b 397Q"></i><i style="--g:#00d533 -7Q,#ffcf33,#00ca31,#ffd02e,#00d731 107Q,#ffc334 137Q,#00b041,#ffbd4e,#00ca41 217Q,#ffce34,#00d32e,#ffd528,#00d827 332Q,#58c727 343Q,#ffac27 361Q,#819b27 372Q,#519627,#009227 378Q,#ff9227 395Q"></i><i style="--g:#00d432 -5Q,#ffd032,#00cb30,#ffd02e,#00d434,#ffc13a 139Q,#00af42,#ffbd4a 192Q,#00cd3e,#ffd132,#00d52e 277Q,#ffda2a,#00df2f 335Q,#59c731 347Q,#ffa734 363Q,#929534 372Q,#5c8f34,#008a34 378Q,#ff8a34 393Q"></i><i style="--g:#00d231 -2Q,#ffd031,#00ce2f,#ffcf2d 83Q,#00d037,#ffbf40 141Q,#00af42,#ffbe44 194Q,#00cd3a,#ffd22f,#00d72e,#ffde2d,#00e536 337Q,#58c53a 350Q,#ff9e3f 365Q,#948a3f 373Q,#007e3f 378Q,#ff7e3f 390Q"></i><i style="--g:#ffd029 -29Q,#00d02d,#ffd131,#00d12e,#ffce2c,#00cb3a 115Q,#ffbe47 143Q,#00b142,#ffbf3e 196Q,#00cd35,#ffd32d,#00d92d,#ffe02e,#00e73a 340Q,#4ac13f 352Q,#ff8f45 368Q,#967b45 374Q,#006f45 378Q,#ff6f45 388Q"></i><i style="--g:#ffcd2d -26Q,#00cd2f,#ffd131,#00d42e,#ffcd2b 89Q,#00c63d,#ffbd4d 145Q,#00b542 171Q,#ffc037,#00cd31 227Q,#ffd32b,#00d92c,#ffdf2d,#00e539 342Q,#3ab83d 354Q,#ff7944 370Q,#986644 375Q,#005c44 378Q,#ff5c44 385Q"></i><i style="--g:#ffcb30 -23Q,#00cb30,#ffd031,#00d62e 62Q,#ffcb2b,#00c13f 120Q,#ffbd52,#00b942 173Q,#ffc331,#00cd2d,#ffd329,#00d92a,#ffdb2a 316Q,#00de33 345Q,#00d135,#24a937 356Q,#ff5d3c 373Q,#00463c,#ff463c 383Q"></i><i style="--g:#ffc931 -21Q,#00c931,#ffcf31,#00d62f 64Q,#ffc92c 94Q,#00bd41 122Q,#ffbd54,#00bd41 175Q,#ffc52d,#00ce2a,#ffd328,#00d827,#ffd626,#00d42a 347Q,#b0d42d 367Q,#ffd42f 380Q"></i><i style="--g:#ffc932 -18Q,#00c932,#ffcf31,#00d431 67Q,#ffc630,#00b942 124Q,#ffbd53,#00c140 177Q,#ffc92b,#00d029,#ffd327,#00d724,#ffd022,#00c921,#ffc921 378Q,#00c921 406Q"></i><i style="--g:#ffca32 -16Q,#00ca31,#ffce31,#00d233 69Q,#ffc335 99Q,#00b642 126Q,#ffbe4f,#00c63d 179Q,#ffcd2b,#00d329,#ffd427,#00d523,#ffcb1e,#00c11c 352Q,#ffc119,#00c119 404Q"></i><i style="--g:#ffcc31 -13Q,#00cc30,#ffce30,#00cf36,#ffc03c 101Q,#00b242,#ffbe49 154Q,#00cb3b,#ffd02c 211Q,#00d629,#ffd526,#00d422,#ffc81e,#00bd1e 354Q,#8cbd1e 369Q,#ffbd1e 378Q,#00bd1e 402Q"></i><i style="--g:#ffcf31 -11Q,#00cf2f,#ffce2e,#00cc38,#ffbe43 103Q,#00b042,#ffbf42 156Q,#00cf38,#ffd42e,#00d92a,#ffd726,#00d424,#ffca21 329Q,#00bf28 356Q,#85bf2c 370Q,#b6bf2d,#ffbf2e 378Q,#00bf2e 399Q"></i><i style="--g:#ffd131 -9Q,#00d12e,#ffcd2c,#00ca3b 77Q,#ffbc49 105Q,#00b042,#ffc13b 158Q,#00d335,#ffd72f,#00da2b,#ffd827,#00d627,#ffcf27,#00c73b 359Q,#80c744 371Q,#a8c746,#ffc749 378Q,#00c749 397Q"></i><i style="--g:#ffd131 -9Q,#00d12e,#ffcd2c,#00ca3b 77Q,#ffbc49 105Q,#00b042,#ffc13b 158Q,#00d335,#ffd72f,#00da2b,#ffd827,#00d627,#ffcf27,#00c73b 359Q,#80c744 371Q,#a8c746,#ffc749 378Q,#00c749 397Q"></i><i style="--g:#ffd131 -9Q,#00d12e,#ffcd2c,#00ca3b 77Q,#ffbc49 105Q,#00b042,#ffc13b 158Q,#00d335,#ffd72f,#00da2b,#ffd827,#00d627,#ffcf27,#00c73b 359Q,#80c744 371Q,#a8c746,#ffc749 378Q,#00c749 397Q"></i><i style="--g:#ffd131 -9Q,#00d12e,#ffcd2c,#00ca3b 77Q,#ffbc49 105Q,#00b042,#ffc13b 158Q,#00d335,#ffd72f,#00da2b,#ffd827,#00d627,#ffcf27,#00c73b 359Q,#80c744 371Q,#a8c746,#ffc749 378Q,#00c749 397Q"></i></div></div><div class="p" style="left:177.7px;top:1630.4px;width:305.2px;height:183.1px"><div class="f" style="left:-8px;width:316px;height:183.1px"><i style="--g:#00aa56 -2Q,#ffaa56,#0a5,#fa5 163Q,#0a5 216Q"></i><i style="--g:#00aa56 -2Q,#ffaa56,#0a5,#fa5 163Q,#0a5 216Q"></i><i style="--g:#00aa56 -2Q,#ffaa56,#0a5,#fa5 163Q,#0a5 216Q"></i><i style="--g:#00aa58 -1Q,#ffa858,#00a757,#ffa956,#00ac56 216Q"></i><i style="--g:#00aa5a -1Q,#ffa75a 54Q,#00a458,#ffa957,#00ad57 216Q"></i><i style="--g:#ffa98e -21Q,#00a980 0,#b3a76b 32Q,#ffa65c 54Q,#00a25a,#ffa857 161Q,#00af57 216Q"></i><i style="--g:#ffa98d -21Q,#00a97f 1Q,#ffa45e,#00a05b,#ffa858 160Q,#00b058 216Q"></i><i style="--g:#ffa98b -21Q,#00a97e 1Q,#ffa360 55Q,#009e5c,#ffa758 159Q,#00b258 216Q"></i><i style="--g:#ffa98a -21Q,#00a97e 2Q,#ffa261 55Q,#009c5d,#ffa758 159Q,#00b358 215Q"></i><i style="--g:#ffa989 -21Q,#00a97d 2Q,#ffa262 56Q,#009b5d 106Q,#ffa758 159Q,#00b458 215Q"></i><i style="--g:#ffa989 -21Q,#00a97d 2Q,#ffa162 56Q,#009a5d 106Q,#ffa758 158Q,#00b458 215Q"></i><i style="--g:#ffa988 -21Q,#00a97d 3Q,#ffa163 56Q,#009a5e 106Q,#ffa758 158Q,#00b458 215Q"></i><i style="--g:#ffa989 -21Q,#00a97d 2Q,#ffa162 56Q,#009a5d 106Q,#ffa758 158Q,#00b458 215Q"></i><i style="--g:#ffa989 -21Q,#00a97d 2Q,#ffa262 56Q,#009b5d 106Q,#ffa758 159Q,#00b458 215Q"></i><i style="--g:#ffa98a -21Q,#00a97e 2Q,#ffa261 55Q,#009c5d 106Q,#ffa758 159Q,#00b358 215Q"></i><i style="--g:#ffa98b -21Q,#00a97e 1Q,#ffa360 55Q,#009e5c,#ffa758 159Q,#00b258 216Q"></i><i style="--g:#ffa98c -21Q,#00a97f 1Q,#ffa45e,#009f5b,#ffa858 160Q,#00b058 216Q"></i><i style="--g:#ffa98e -21Q,#00a980 0,#b3a76b 32Q,#ffa55c 54Q,#00a25a,#ffa857 161Q,#00af57 216Q"></i><i style="--g:#00aa5a -1Q,#ffa75a 54Q,#00a459,#ffa957,#00ad57 216Q"></i><i style="--g:#00aa58 -1Q,#ffa858,#00a757,#ffa956,#00ac56 216Q"></i><i style="--g:#00aa56 -2Q,#ffaa56,#00a955,#fa5 163Q,#0a5 216Q"></i><i style="--g:#00ab53 -3Q,#ffac53,#00ac54,#ffaa54 164Q,#00a954 216Q"></i><i style="--g:#00ac51 -4Q,#ffad51,#00af52,#ffab53 165Q,#00a753 216Q"></i><i style="--g:#00ac4f -5Q,#ffaf4f,#00b250,#ffac52 165Q,#00a652 216Q"></i><i style="--g:#00ad4c -5Q,#ffb14c,#00b44f,#ffac51 166Q,#00a651 216Q"></i><i style="--g:#00ae4a -6Q,#ffb24a,#00b64d,#ffad50 166Q,#00a550 216Q"></i><i style="--g:#00af49 -6Q,#ffb449,#00b84c,#ffae4e 167Q,#00a54e 216Q"></i><i style="--g:#00b047 -7Q,#ffb547,#00ba4a,#ffaf4d 167Q,#7ea94d 195Q,#00a54d 216Q"></i><i style="--g:#00b046 -7Q,#ffb546 51Q,#00bb49,#ffaf4d 168Q,#7faa4d 195Q,#00a64d 216Q"></i><i style="--g:#00b145 -8Q,#ffb645,#00bb49,#ffb04c 168Q,#80aa4c 195Q,#00a64c 216Q"></i><i style="--g:#00b145 -8Q,#ffb645,#00bc48,#ffb14b 168Q,#81ab4b 195Q,#00a74b 216Q"></i><i style="--g:#00b145 -8Q,#ffb645,#00bb48,#ffb14b 168Q,#82ac4b 195Q,#00a94b 216Q"></i><i style="--g:#00b146 -8Q,#ffb646,#00bb48,#ffb14a 168Q,#83ad4a 195Q,#00aa4a 216Q"></i><i style="--g:#00b047 -8Q,#ffb547,#00b949,#ffb24a 168Q,#83ae4a 195Q,#00ab4a 216Q"></i><i style="--g:#00af48 -8Q,#ffb448,#00b849,#ffb24b 168Q,#83af4b 195Q,#00ad4b 216Q"></i><i style="--g:#00ae4a -8Q,#ffb24a,#00b64b,#ffb14b 168Q,#83af4b 195Q,#00ae4b 216Q"></i><i style="--g:#00ad4d -7Q,#ffb04d,#00b34c,#ffb14c 168Q,#83b04c 195Q,#00af4c 216Q"></i><i style="--g:#00ab4f -7Q,#ffae4f,#00b14e,#ffb04d 168Q,#84b04d 195Q,#00af4d 216Q"></i><i style="--g:#00a952 -6Q,#ffac52,#00ae50,#ffaf4e 168Q,#84af4e 195Q,#00af4e 216Q"></i><i style="--g:#00a855 -5Q,#ffa955,#00ab52,#ffad4f 168Q,#84ae4f 195Q,#00af4f 216Q"></i><i style="--g:#00a559 -4Q,#ffa759,#00a855,#ffab51 168Q,#85ad51 195Q,#00ae51 216Q"></i><i style="--g:#00a35c -3Q,#ffa45c,#00a457,#ffa953 168Q,#86ab53 195Q,#00ac53 216Q"></i><i style="--g:#00a15f -2Q,#ffa15f,#00a15a,#ffa655 168Q,#87a855 195Q,#0a5 216Q"></i><i style="--g:#009f63 -1Q,#ff9e63,#009e5d 111Q,#ffa358 169Q,#88a558 195Q,#00a758 216Q"></i><i style="--g:#ff9d8b -21Q,#009d80 1Q,#ff9c66,#009a60 112Q,#ff9f5a 169Q,#8ba25a 195Q,#00a45a 216Q"></i><i style="--g:#ff9b87 -21Q,#009b7e 2Q,#ff9969 58Q,#009763 113Q,#ff9c5d 170Q,#8e9e5d 195Q,#009f5d 216Q"></i><i style="--g:#ff9984 -21Q,#00997c 4Q,#ff976c 60Q,#009466 114Q,#ff9861 171Q,#929961 195Q,#009a61 216Q"></i><i style="--g:#ff9881 -21Q,#00987b 6Q,#ff946e 62Q,#009169 115Q,#ff9364 173Q,#009564 216Q"></i><i style="--g:#ff967e -21Q,#009679 8Q,#ff9270 64Q,#008f6c 118Q,#ff8f68 176Q,#008f68 216Q"></i><i style="--g:#ff957b -21Q,#009578 11Q,#ff9172 67Q,#008d6e 121Q,#ff8a6b 179Q,#00886b 216Q"></i><i style="--g:#ff9479 -21Q,#009476 13Q,#ff8f73 71Q,#008b70 125Q,#ff856d 184Q,#00826d 216Q"></i><i style="--g:#ff9376 -21Q,#009375 16Q,#ff8f73 75Q,#008b71 131Q,#ff806e 191Q,#007b6e 216Q"></i><i style="--g:#ff9274 -21Q,#009274 19Q,#ff8f73 79Q,#008c70 137Q,#ff8c6d 199Q"></i><i style="--g:#ff9273 -21Q,#009272 21Q,#ff9072 83Q,#008e6e 143Q,#ff8e6a 205Q"></i><i style="--g:#ff9171 -21Q,#009171 24Q,#ff9270 87Q,#00926b 147Q,#ff9266 210Q"></i><i style="--g:#ff9171 -21Q,#009170 27Q,#ff946f,#009668,#ff9660 214Q"></i><i style="--g:#ff9170 -21Q,#00916e 30Q,#ff966d,#009a64,#ff9a5b 216Q"></i><i style="--g:#ff9170 -21Q,#00916d 33Q,#ff986a,#009f60 156Q,#ff9f56 216Q"></i><i style="--g:#ff9170 -21Q,#00916c 36Q,#ff9a68,#00a35c 158Q,#ffa351 216Q"></i><i style="--g:#ff9270 -21Q,#00926b,#ff9d66 98Q,#00a759 159Q,#ffa74d 216Q"></i><i style="--g:#ff9270 -21Q,#00926a 41Q,#ff9f63 100Q,#00ab56 161Q,#ffab4a 216Q"></i><i style="--g:#ff9371 -16Q,#009369,#ffa161 102Q,#00af54 162Q,#ffaf48 216Q"></i><i style="--g:#ff9470 -11Q,#009467,#ffa35e 103Q,#00b352 163Q,#89b34b 195Q,#ffb346 216Q"></i><i style="--g:#ff966f -8Q,#009666,#ffa55c 105Q,#00b650 165Q,#85b64a 195Q,#ffb646 216Q"></i><i style="--g:#ff976e -5Q,#009764,#ffa859 106Q,#00b84f 166Q,#80b849 195Q,#ffb846 216Q"></i><i style="--g:#ff9a6c -2Q,#009a61 52Q,#ffaa56 108Q,#00bb4e 167Q,#7cbb4a 195Q,#ffbb47 216Q"></i><i style="--g:#007869 -21Q,#ff8269 0,#009c5f 54Q,#ffac53 110Q,#00bd4d 169Q,#78bd4a 195Q,#ffbd48 216Q"></i><i style="--g:#007966 -21Q,#ff8466 2Q,#009f5c 55Q,#ffaf50 111Q,#00bf4d 170Q,#73bf4b 195Q,#ffbf4a 216Q"></i><i style="--g:#007b63 -21Q,#ff8763 3Q,#5b965d 32Q,#00a358 57Q,#ffb14d 113Q,#00c14d 172Q,#6ec14d 195Q,#ffc14d 216Q"></i><i style="--g:#007c60 -21Q,#ff8a60 5Q,#5f995a 33Q,#00a655 58Q,#ffb44a 115Q,#00c24d 173Q,#6ac24e 195Q,#ffc250 216Q"></i><i style="--g:#007e5c -21Q,#ff8d5c 6Q,#5c9d56 35Q,#00ab51 60Q,#ffb746 116Q,#00c34e 174Q,#65c350,#ffc353 216Q"></i><i style="--g:#008057 -21Q,#ff8f57 7Q,#5ea152 37Q,#00af4d 61Q,#ffba43 118Q,#00c54e 176Q,#60c552,#ffc557 216Q"></i><i style="--g:#008153 -21Q,#ff9253 7Q,#5fa54d 38Q,#00b449 62Q,#ffbd3f,#00c64f 177Q,#5bc655 195Q,#ffc65b 216Q"></i><i style="--g:#00834e -21Q,#ff964e 8Q,#5fa949 39Q,#00b945 63Q,#ffc03b,#00c750 178Q,#56c757 195Q,#ffc75e 216Q"></i><i style="--g:#008549 -21Q,#ff9949 9Q,#60ae44 40Q,#00be40 64Q,#ffc337,#00c851 179Q,#51c859 195Q,#ffc862 216Q"></i><i style="--g:#008744 -21Q,#cd9644 1Q,#ff9c44 9Q,#5fb23f 41Q,#00c33c 65Q,#ffc634,#00c953 180Q,#4cc95b 195Q,#ffc966 216Q"></i><i style="--g:#00893f -21Q,#cb983f 1Q,#ff9f3f 10Q,#5fb73b 42Q,#00c937 66Q,#ffc930 124Q,#a1c93f 148Q,#00c954 181Q,#48c95c 195Q,#ffc969 216Q"></i><i style="--g:#008b39 -21Q,#c89b39 1Q,#ffa339 10Q,#5ebb36 43Q,#00ce33 67Q,#ffcc2d 125Q,#a2cb3e 149Q,#00ca55 182Q,#44ca5e 195Q,#ffca6d 216Q"></i><i style="--g:#008d34 -21Q,#c69e34 1Q,#ffa634 11Q,#5cc031 44Q,#00d32f 68Q,#ffcf2a 126Q,#a2cd3c 150Q,#00cb56 183Q,#40cb60 195Q,#ffcb70 216Q"></i></div></div><div class="p" style="left:560.8px;top:1630.4px;width:305.2px;height:183.1px"><div class="c" style="left:0;width:305.2px;height:183.1px"><i style="--g:#f80 0 4.2%,#fd0 0 8.3%,#af5 0 12.5%,#2fd 0 16.7%,#0bf 0 20.8%,#07f 0 25%,#06f 0 29.2%,#09f 0 33.3%,#0ef 0 37.5%,#7f8 0 41.7%,#ef1 0 45.8%,#fb0 0 50%,#f80 0 58.3%,#fb0 0 62.5%,#ef1 0 66.7%,#7f8 0 70.8%,#0ff 0 75%,#0af 0 79.2%,#08f 0 87.5%,#0cf 0 91.7%,#3fc 0 95.8%,#af5 0"></i><i style="--g:#f70 0 4.2%,#fc0 0 8.3%,#af5 0 12.5%,#2fd 0 16.7%,#0af 0 20.8%,#06f 0 25%,#05f 0 29.2%,#08f 0 33.3%,#0ef 0 37.5%,#7f8 0 41.7%,#ef1 0 45.8%,#fb0 0 50%,#f80 0 58.3%,#fb0 0 62.5%,#ef1 0 66.7%,#7f8 0 70.8%,#0ff 0 75%,#0af 0 79.2%,#08f 0 87.5%,#0cf 0 91.7%,#3fc 0 95.8%,#af5 0"></i><i style="--g:#f60 0 4.2%,#fc0 0 8.3%,#af5 0 12.5%,#2fd 0 16.7%,#09f 0 20.8%,#05f 0 25%,#04f 0 29.2%,#07f 0 33.3%,#0df 0 37.5%,#7f8 0 41.7%,#ef1 0 45.8%,#fb0 0 50%,#f80 0 58.3%,#fb0 0 62.5%,#ef1 0 66.7%,#7f8 0 70.8%,#0ff 0 75%,#0af 0 79.2%,#08f 0 87.5%,#0cf 0 91.7%,#3fc 0 95.8%,#af5 0"></i><i style="--g:#f60 0 4.2%,#fc0 0 8.3%,#af5 0 12.5%,#1fe 0 16.7%,#09f 0 20.8%,#04f 0 25%,#03f 0 29.2%,#06f 0 33.3%,#0df 0 37.5%,#7f8 0 41.7%,#ef1 0 45.8%,#fa0 0 50%,#f70 0 58.3%,#fa0 0 62.5%,#ef1 0 66.7%,#7f8 0 70.8%,#0ff 0 75%,#0af 0 79.2%,#08f 0 87.5%,#0cf 0 91.7%,#3fc 0 95.8%,#af5 0"></i><i style="--g:#f60 0 4.2%,#fc0 0 8.3%,#af5 0 12.5%,#1fe 0 16.7%,#09f 0 20.8%,#04f 0 25%,#03f 0 29.2%,#06f 0 33.3%,#0df 0 37.5%,#7f8 0 41.7%,#ef1 0 45.8%,#fa0 0 50%,#f70 0 58.3%,#fa0 0 62.5%,#ef1 0 66.7%,#7f8 0 70.8%,#0ff 0 75%,#0af 0 79.2%,#07f 0 83.3%,#08f 0 87.5%,#0cf 0 91.7%,#3fc 0 95.8%,#af5 0"></i><i style="--g:#f60 0 4.2%,#fc0 0 8.3%,#af5 0 12.5%,#2fd 0 16.7%,#09f 0 20.8%,#05f 0 25%,#04f 0 29.2%,#07f 0 33.3%,#0df 0 37.5%,#7f8 0 41.7%,#ef1 0 45.8%,#fa0 0 50%,#f70 0 58.3%,#fa0 0 62.5%,#ef1 0 66.7%,#7f8 0 70.8%,#0ff 0 75%,#0af 0 79.2%,#07f 0 83.3%,#08f 0 87.5%,#0bf 0 91.7%,#3fc 0 95.8%,#af5 0"></i><i style="--g:#f70 0 4.2%,#fc0 0 8.3%,#af5 0 12.5%,#2fd 0 16.7%,#0af 0 20.8%,#06f 0 25%,#05f 0 29.2%,#08f 0 33.3%,#0ef 0 37.5%,#7f8 0 41.7%,#ef1 0 45.8%,#fa0 0 50%,#f60 0 58.3%,#fa0 0 62.5%,#ef1 0 66.7%,#7f8 0 70.8%,#0ef 0 75%,#09f 0 79.2%,#06f 0 83.3%,#07f 0 87.5%,#0bf 0 91.7%,#2fd 0 95.8%,#af5 0"></i><i style="--g:#f80 0 4.2%,#fd0 0 8.3%,#af5 0 12.5%,#2fd 0 16.7%,#0bf 0 20.8%,#07f 0 25%,#06f 0 29.2%,#09f 0 33.3%,#0ef 0 37.5%,#7f8 0 41.7%,#ef1 0 45.8%,#fa0 0 50%,#f60 0 58.3%,#fa0 0 62.5%,#ef1 0 66.7%,#7f8 0 70.8%,#0ef 0 75%,#08f 0 79.2%,#05f 0 87.5%,#0af 0 91.7%,#2fd 0 95.8%,#af5 0"></i><i style="--g:#f90 0 4.2%,#fe0 0 8.3%,#af5 0 12.5%,#2fd 0 16.7%,#0bf 0 20.8%,#07f 0 29.2%,#09f 0 33.3%,#0ff 0 37.5%,#7f8 0 41.7%,#ef1 0 45.8%,#fa0 0 50%,#f60 0 58.3%,#fa0 0 62.5%,#ef1 0 66.7%,#7f8 0 70.8%,#0df 0 75%,#07f 0 79.2%,#03f 0 83.3%,#04f 0 87.5%,#09f 0 91.7%,#1fe 0 95.8%,#af5 0"></i><i style="--g:#f90 0 4.2%,#fe0 0 8.3%,#af5 0 12.5%,#3fc 0 16.7%,#0cf 0 20.8%,#08f 0 25%,#07f 0 29.2%,#0af 0 33.3%,#0ff 0 37.5%,#7f8 0 41.7%,#ef1 0 45.8%,#fa0 0 50%,#f70 0 58.3%,#fa0 0 62.5%,#ef1 0 66.7%,#7f8 0 70.8%,#0df 0 75%,#07f 0 79.2%,#03f 0 83.3%,#04f 0 87.5%,#09f 0 91.7%,#1fe 0 95.8%,#af5 0"></i><i style="--g:#f90 0 4.2%,#fe0 0 8.3%,#af5 0 12.5%,#3fc 0 16.7%,#0cf 0 20.8%,#08f 0 29.2%,#0af 0 33.3%,#0ff 0 37.5%,#7f8 0 41.7%,#ef1 0 45.8%,#fa0 0 50%,#f70 0 58.3%,#fa0 0 62.5%,#ef1 0 66.7%,#7f8 0 70.8%,#0ef 0 75%,#08f 0 79.2%,#05f 0 83.3%,#06f 0 87.5%,#0af 0 91.7%,#2fd 0 95.8%,#af5 0"></i><i style="--g:#fb0 0 4.2%,#ff0 0 8.3%,#9f6 0 12.5%,#3fc 0 16.7%,#0df 0 20.8%,#0af 0 29.2%,#0cf 0 33.3%,#1fe 0 37.5%,#7f8 0 41.7%,#df2 0 45.8%,#fc0 0 50%,#f90 0 58.3%,#fc0 0 62.5%,#df2 0 66.7%,#7f8 0 70.8%,#0ff 0 75%,#0bf 0 79.2%,#08f 0 83.3%,#09f 0 87.5%,#0cf 0 91.7%,#3fc 0 95.8%,#af5 0"></i><i style="--g:#fd0 0 4.2%,#ef1 0 8.3%,#9f6 0 12.5%,#5fa 0 16.7%,#0ff 0 20.8%,#0df 0 29.2%,#0ef 0 33.3%,#3fc 0 37.5%,#7f8 0 41.7%,#cf3 0 45.8%,#fe0 0 50%,#fc0 0 58.3%,#fe0 0 62.5%,#cf3 0 66.7%,#7f8 0 70.8%,#3fc 0 75%,#0ef 0 79.2%,#0cf 0 83.3%,#0df 0 87.5%,#0ff 0 91.7%,#4fb 0 95.8%,#9f6 0"></i><i style="--g:#ff0 0 4.2%,#df2 0 8.3%,#af5 0 12.5%,#6f9 0 16.7%,#3fc 0 20.8%,#2fd 0 25%,#1fe 0 29.2%,#2fd 0 33.3%,#5fa 0 37.5%,#8f7 0 41.7%,#cf3 0 45.8%,#ef1 0 50%,#fe0 0 58.3%,#ef1 0 62.5%,#cf3 0 66.7%,#8f7 0 70.8%,#5fa 0 75%,#2fd 0 79.2%,#1fe 0 83.3%,#2fd 0 87.5%,#3fc 0 91.7%,#6f9 0 95.8%,#af5 0"></i><i style="--g:#df2 0 4.2%,#cf3 0 8.3%,#af5 0 12.5%,#8f7 0 16.7%,#6f9 0 20.8%,#5fa 0 29.2%,#6f9 0 33.3%,#7f8 0 37.5%,#9f6 0 41.7%,#bf4 0 45.8%,#df2 0 62.5%,#bf4 0 66.7%,#9f6 0 70.8%,#7f8 0 75%,#6f9 0 79.2%,#5fa 0 87.5%,#6f9 0 91.7%,#8f7 0 95.8%,#af5 0"></i><i style="--g:#af5 0 4.2%,#9f6 0 12.5%,#8f7 0 33.3%,#9f6 0 37.5%,#af5 0 45.8%,#bf4 0 54.2%,#af5 0 62.5%,#9f6 0 70.8%,#8f7 0 87.5%,#9f6 0 95.8%,#af5 0"></i><i style="--g:#2fd 0 4.2%,#3fc 0 8.3%,#4fb 0 12.5%,#7f8 0 16.7%,#af5 0 20.8%,#cf3 0 25%,#ef1 0 29.2%,#ff0 0 33.3%,#ef1 0 37.5%,#df2 0 41.7%,#af5 0 45.8%,#7f8 0 50%,#5fa 0 54.2%,#3fc 0 58.3%,#2fd 0 62.5%,#3fc 0 66.7%,#4fb 0 70.8%,#7f8 0 75%,#af5 0 79.2%,#df2 0 83.3%,#ef1 0 87.5%,#ff0 0 91.7%,#ef1 0 95.8%,#cf3 0"></i><i style="--g:#07f 0 4.2%,#09f 0 8.3%,#0df 0 12.5%,#4fb 0 16.7%,#bf4 0 20.8%,#fc0 0 25%,#f80 0 29.2%,#f70 0 33.3%,#f80 0 37.5%,#fd0 0 41.7%,#bf4 0 45.8%,#4fb 0 50%,#0df 0 54.2%,#09f 0 58.3%,#07f 0 62.5%,#09f 0 66.7%,#0ef 0 70.8%,#5fa 0 75%,#cf3 0 79.2%,#fb0 0 83.3%,#f70 0 91.7%,#f90 0 95.8%,#fe0 0"></i><i style="--g:#00e 0 4.2%,#01f 0 8.3%,#07f 0 12.5%,#2fd 0 16.7%,#df2 0 20.8%,#f70 0 25%,#f10 0 29.2%,#e00 0 33.3%,#f10 0 37.5%,#f80 0 41.7%,#cf3 0 45.8%,#1fe 0 50%,#07f 0 54.2%,#00f 0 58.3%,#00e 0 62.5%,#02f 0 66.7%,#09f 0 70.8%,#4fb 0 75%,#ff0 0 79.2%,#f60 0 83.3%,#f00 0 87.5%,#e00 0 91.7%,#f20 0 95.8%,#fa0 0"></i><i style="--g:#00a 0 4.2%,#00d 0 8.3%,#05f 0 12.5%,#1fe 0 16.7%,#ef1 0 20.8%,#f50 0 25%,#d00 0 29.2%,#a00 0 33.3%,#d00 0 37.5%,#f60 0 41.7%,#df2 0 45.8%,#0ff 0 50%,#04f 0 54.2%,#00c 0 58.3%,#00a 0 62.5%,#00e 0 66.7%,#07f 0 70.8%,#4fb 0 75%,#fe0 0 79.2%,#f30 0 83.3%,#c00 0 87.5%,#a00 0 91.7%,#e00 0 95.8%,#f80 0"></i></div></div><div class="p" style="left:943.4px;top:1630.4px;width:305.2px;height:183.1px"><div class="f" style="left:-8px;width:316px;height:183.1px"><i style="--g:#00b72f -21Q,#9cbd2f,#ffc22f 21Q,#00d02f,#ffd02f 131Q,#a4d041 154Q,#00d05b 186Q,#32d062 195Q,#ffd073 216Q"></i><i style="--g:#00b72f -21Q,#9cbd2f,#ffc22f 21Q,#00d02f,#ffd02f 131Q,#a4d041 154Q,#00d05b 186Q,#32d062 195Q,#ffd073 216Q"></i><i style="--g:#00b72f -21Q,#9cbd2f,#ffc22f 21Q,#00d02f,#ffd02f 131Q,#a4d041 154Q,#00d05b 186Q,#32d062 195Q,#ffd073 216Q"></i><i style="--g:#00b531 -21Q,#9dbb31 1Q,#ffc131 20Q,#00d12f,#ffd12d 131Q,#a5d240 154Q,#00d25c 187Q,#31d264 195Q,#ffd276 216Q"></i><i style="--g:#00b332 -21Q,#9eba32 1Q,#ffc032 20Q,#00d12f,#ffd22b 131Q,#a5d33f 154Q,#00d45d 187Q,#30d465 195Q,#ffd478 216Q"></i><i style="--g:#00b234 -21Q,#9eb934 1Q,#ffbf34 20Q,#00d12e,#ffd329 131Q,#a6d43f 154Q,#00d65e 187Q,#2fd666 195Q,#ffd67a 216Q"></i><i style="--g:#00b035 -21Q,#9fb835 1Q,#ffbe35 20Q,#00d22e 75Q,#ffd427 131Q,#a6d63e 154Q,#00d75f 187Q,#2ed767 195Q,#ffd77c 216Q"></i><i style="--g:#00af36 -21Q,#a0b736 1Q,#ffbe36 19Q,#00d22e,#ffd525 131Q,#a6d73d 154Q,#00d960 187Q,#2dd968 195Q,#ffd97e 216Q"></i><i style="--g:#00ae37 -21Q,#a1b637 1Q,#ffbd37 19Q,#00d22e 74Q,#ffd624 131Q,#a7d83d 154Q,#00da60 187Q,#2cda69 195Q,#ffda7f 216Q"></i><i style="--g:#00ad38 -21Q,#a1b638 1Q,#ffbd38 19Q,#00d22e,#ffd623 130Q,#acd83b 153Q,#00db61 188Q,#2cdb69 195Q,#ffdb80 216Q"></i><i style="--g:#00ad38 -21Q,#a1b538 1Q,#ffbd38 19Q,#00d22d,#ffd723 130Q,#acd93b 153Q,#00db61 188Q,#2cdb6a 195Q,#ffdb81 216Q"></i><i style="--g:#00ad38 -21Q,#a2b538 1Q,#ffbc38 19Q,#00d22d,#ffd722 130Q,#acd93b 153Q,#00db61 188Q,#2cdb6a 195Q,#ffdb81 216Q"></i><i style="--g:#00ad38 -21Q,#a1b538 1Q,#ffbd38 19Q,#00d22d,#ffd722 130Q,#acd93b 153Q,#00db61 188Q,#2cdb6a 195Q,#ffdb81 216Q"></i><i style="--g:#00ad38 -21Q,#a1b638 1Q,#ffbd38 19Q,#00d22e,#ffd623 130Q,#acd83b 153Q,#00db61 188Q,#2cdb69 195Q,#ffdb80 216Q"></i><i style="--g:#00ae37 -21Q,#a1b637 1Q,#ffbd37 19Q,#00d22e 74Q,#ffd624 131Q,#a7d83d 154Q,#00da61 187Q,#2cda69 195Q,#ffda7f 216Q"></i><i style="--g:#00af36 -21Q,#a0b736 1Q,#ffbe36 19Q,#00d22e,#ffd525 131Q,#a6d73d 154Q,#00d960 187Q,#2dd968 195Q,#ffd97e 216Q"></i><i style="--g:#00b035 -21Q,#9fb835 1Q,#ffbe35 20Q,#00d22e 75Q,#ffd427 131Q,#a6d63e 154Q,#00d75f 187Q,#2ed767 195Q,#ffd77c 216Q"></i><i style="--g:#00b234 -21Q,#9fb934 1Q,#ffbf34 20Q,#00d12e,#ffd429 131Q,#a6d53f 154Q,#00d65e 187Q,#2fd666 195Q,#ffd67a 216Q"></i><i style="--g:#00b333 -21Q,#9eba33 1Q,#ffc033 20Q,#00d12f,#ffd32a 131Q,#a5d33f 154Q,#00d45d 187Q,#30d465 195Q,#ffd478 216Q"></i><i style="--g:#00b531 -21Q,#9dbb31 1Q,#ffc131 20Q,#00d12f,#ffd22d 131Q,#a5d240 154Q,#00d25c 187Q,#31d264 195Q,#ffd276 216Q"></i><i style="--g:#00b72f -21Q,#9cbc2f,#ffc22f 21Q,#00d02f,#ffd12f 131Q,#a4d141 154Q,#00d15b 186Q,#32d162 195Q,#ffd174 216Q"></i><i style="--g:#00b92e -21Q,#9bbe2e,#ffc32e 21Q,#00d02f,#ffd031 131Q,#a4cf42 154Q,#00cf5a 186Q,#33cf61 195Q,#ffcf71 216Q"></i><i style="--g:#00bb2c -21Q,#9abf2c,#ffc42c 21Q,#00d02f,#ffcf33 132Q,#9ece43 155Q,#00cd5a 186Q,#34cd60 195Q,#ffcd6f 216Q"></i><i style="--g:#00bd2b -21Q,#99c12b,#ffc52b 21Q,#00d030,#ffce34 132Q,#9ecd44 155Q,#00cc59 186Q,#35cc5f 195Q,#ffcc6e 216Q"></i><i style="--g:#00be29 -21Q,#98c229,#ffc629 22Q,#00d030,#ffcd36 132Q,#9ecc45 155Q,#00cb59 186Q,#35cb5f 195Q,#ffcb6c 216Q"></i><i style="--g:#00c028 -21Q,#97c328,#ffc728 22Q,#00d030,#ffcd37 132Q,#9ecb46 155Q,#00ca58 186Q,#36ca5e 195Q,#ffca6b 216Q"></i><i style="--g:#00c226 -21Q,#97c526,#ffc826 22Q,#00d02f 78Q,#ffcc38 132Q,#9ecb46 155Q,#00c958 186Q,#36c95e 195Q,#ffc96b 216Q"></i><i style="--g:#00c325 -21Q,#96c625,#ffc925 22Q,#00d02f 78Q,#ffcc39 132Q,#9ecb46 155Q,#00c958 186Q,#36c95e 195Q,#ffc96a 216Q"></i><i style="--g:#00c425 -21Q,#96c725,#ffc925 22Q,#00d02f 78Q,#ffcc39 132Q,#99cb47 156Q,#00c859 186Q,#36c85e 195Q,#ffc86b 216Q"></i><i style="--g:#00c524 -21Q,#96c724,#ffca24 22Q,#00d02f 78Q,#ffcc39 132Q,#9acb47 156Q,#00c959 186Q,#35c95f 195Q,#ffc96c 216Q"></i><i style="--g:#00c524 -21Q,#96c824,#ffca24 22Q,#00d02e 78Q,#ffcd39 132Q,#9acb47 156Q,#00c95a 186Q,#35c960 195Q,#ffc96d 216Q"></i><i style="--g:#00c523 -21Q,#96c823,#ffca23 22Q,#00d12e 78Q,#ffcd38 132Q,#9bcc47 156Q,#00ca5b 186Q,#34ca61 195Q,#ffca6e 216Q"></i><i style="--g:#00c524 -21Q,#96c824,#ffca24 22Q,#00d12d 78Q,#ffce36 132Q,#a1cd46 155Q,#00cb5c 186Q,#33cb62 195Q,#ffcb70 216Q"></i><i style="--g:#00c524 -21Q,#97c824,#ffca24 22Q,#00d12c 78Q,#ffcf35 132Q,#a2ce46 155Q,#00cc5d 187Q,#31cc63 195Q,#ffcc73 216Q"></i><i style="--g:#00c425 -21Q,#97c725,#ffca25 22Q,#00d22c,#ffd033 132Q,#a3cf45 155Q,#00ce5e 187Q,#30ce64 195Q,#ffce75 216Q"></i><i style="--g:#00c325 -21Q,#98c625,#ffca25 22Q,#00d22b,#ffd131 132Q,#a4d044 155Q,#00cf5f 187Q,#2ecf66 195Q,#ffcf78 216Q"></i><i style="--g:#00c226 -21Q,#99c626,#ffc926 22Q,#00d32a,#ffd22f 132Q,#a5d243 155Q,#00d160 187Q,#2dd167 195Q,#ffd17a 216Q"></i><i style="--g:#00c027 -21Q,#99c527,#ffc927 21Q,#00d42a,#ffd32c 132Q,#a6d342 155Q,#00d361 188Q,#2cd368 195Q,#ffd37d 216Q"></i><i style="--g:#00bf28 -21Q,#9ac328,#ffc828 21Q,#00d429,#ffd42a 132Q,#a7d441 155Q,#00d462 188Q,#2ad46a 195Q,#ffd47f 216Q"></i><i style="--g:#00bd29 -21Q,#9bc229,#ffc729 21Q,#00d529,#ffd528 132Q,#a8d640 155Q,#00d663 188Q,#29d66b 195Q,#ffd681 216Q"></i><i style="--g:#00bb2a -21Q,#9dc12a 1Q,#ffc62a 20Q,#00d628,#ffd626 132Q,#a9d73f 155Q,#00d764 188Q,#28d76b 195Q,#ffd783 216Q"></i><i style="--g:#00b92b -21Q,#9ebf2b 1Q,#ffc52b 20Q,#00d728,#ffd724 132Q,#a9d83e 155Q,#00d864 188Q,#27d86c 195Q,#ffd884 216Q"></i><i style="--g:#00b72c -21Q,#9fbe2c 1Q,#ffc52c 20Q,#00d727,#ffd822 132Q,#a9d83d 155Q,#00d964 189Q,#27d96c 195Q,#ffd985 216Q"></i><i style="--g:#00b52d -21Q,#a0bd2d 1Q,#ffc42d 20Q,#00d827 75Q,#ffd921 132Q,#aad93d 155Q,#00da64 189Q,#26da6c 195Q,#ffda86 216Q"></i><i style="--g:#00b32e -21Q,#a1bb2e 1Q,#ffc32e 19Q,#00d927,#ffd920 132Q,#a9da3c 155Q,#00da64 189Q,#26da6c 195Q,#ffda86 216Q"></i><i style="--g:#00b12f -21Q,#a2ba2f 1Q,#ffc22f 19Q,#00d927 75Q,#ffda1f 132Q,#a9da3b 155Q,#00da64 189Q,#27da6c 195Q,#ffda85 216Q"></i><i style="--g:#00af2f -21Q,#a3b92f 1Q,#ffc12f 19Q,#00da27,#ffda1f 131Q,#a9da3b 155Q,#00da63 188Q,#27da6b 195Q,#ffda84 216Q"></i><i style="--g:#00ae30 -21Q,#a3b730 1Q,#ffc030 19Q,#00da28,#ffd91f 131Q,#a8d93b 155Q,#00d962 188Q,#28d96a 195Q,#ffd983 216Q"></i><i style="--g:#00ad30 -21Q,#a4b730 1Q,#ffbf30 19Q,#00da28,#ffd920 131Q,#a7d93b 155Q,#00d961 188Q,#29d969 195Q,#ffd981 216Q"></i><i style="--g:#00ac31 -21Q,#a4b631 1Q,#ffbe31 19Q,#00d929,#ffd821 131Q,#a6d83b 155Q,#00d85f 188Q,#2ad867 195Q,#ffd87f 216Q"></i><i style="--g:#00ab31 -21Q,#a4b531 1Q,#ffbe31 19Q,#00d92a,#ffd823 131Q,#a4d73c 155Q,#00d75e 188Q,#2cd766 195Q,#ffd77c 216Q"></i><i style="--g:#00ab31 -21Q,#a4b531 1Q,#ffbd31 19Q,#00d82b,#ffd724 131Q,#a8d63b 154Q,#00d65d 187Q,#2dd665 195Q,#ffd67a 216Q"></i><i style="--g:#00ab31 -21Q,#a4b431 1Q,#ffbd31 19Q,#00d72c,#ffd626 131Q,#a6d53c 154Q,#00d55b 187Q,#2fd563 195Q,#ffd577 216Q"></i><i style="--g:#00ab32 -21Q,#a3b432 1Q,#ffbd32 19Q,#00d52d,#ffd529 131Q,#a5d43d 154Q,#00d45a 187Q,#31d462 195Q,#ffd474 216Q"></i><i style="--g:#00ac32 -21Q,#a2b532 1Q,#ffbc32 19Q,#00d42e,#ffd32b 131Q,#a3d33e 154Q,#00d359 186Q,#32d360 195Q,#ffd372 216Q"></i><i style="--g:#00ad32 -21Q,#a1b532 1Q,#ffbc32 19Q,#00d230,#ffd22d 131Q,#a1d23f 154Q,#00d258 186Q,#34d25f 195Q,#ffd270 216Q"></i><i style="--g:#00ae32 -21Q,#a0b632 1Q,#ffbd32 20Q,#00d131,#ffd130 131Q,#a0d141 154Q,#00d157 186Q,#36d15e 195Q,#ffd16e 216Q"></i><i style="--g:#00af32 -21Q,#9eb632 1Q,#ffbd32 20Q,#00cf32,#ffd032 131Q,#9ed042 154Q,#00d157 185Q,#37d15e 195Q,#ffd16c 216Q"></i><i style="--g:#00b132 -21Q,#9db732 1Q,#ffbd32 20Q,#00cd33,#ffcf34 131Q,#a2cf42 153Q,#00d057 185Q,#38d05d 195Q,#ffd06b 216Q"></i><i style="--g:#00b332 -21Q,#9bb832,#ffbd32 21Q,#00cb34,#ffce36 130Q,#a1cf44 153Q,#00d057 185Q,#39d05d 195Q,#ffd06a 216Q"></i><i style="--g:#00b532 -21Q,#9ab932,#ffbe32 21Q,#00ca35,#ffcd38,#00d057 185Q,#3ad05d 195Q,#ffd069 216Q"></i><i style="--g:#00b732 -21Q,#98bb32,#ffbe32 21Q,#00c836 76Q,#ffcc3a,#00cf58 185Q,#3acf5d 195Q,#ffcf69 216Q"></i><i style="--g:#00b933 -21Q,#97bc33,#ffbf33 22Q,#00c737,#ffcb3b,#00cf58 185Q,#3acf5e 195Q,#ffcf6a 216Q"></i><i style="--g:#0b3 -21Q,#95bd33,#ffc033 22Q,#00c537 77Q,#ffca3b,#00cf59 185Q,#3acf5f 195Q,#ffcf6b 216Q"></i><i style="--g:#00bd33 -21Q,#94bf33,#ffc033 22Q,#00c437,#ffc93c,#00cf5a 185Q,#39cf60 195Q,#ffcf6c 216Q"></i><i style="--g:#00bf33 -21Q,#93c033,#ffc133 23Q,#00c437,#ffc93c,#00ce5b 185Q,#38ce61 195Q,#ffce6d 216Q"></i><i style="--g:#00c133 -21Q,#92c133,#ffc233 23Q,#00c337,#ffc93c,#00ce5d 185Q,#37ce63 195Q,#ffce6f 216Q"></i><i style="--g:#00c233 -21Q,#91c233,#ffc333 23Q,#00c337,#ffc83b 131Q,#a4cb49 153Q,#00ce5e 186Q,#36ce64 195Q,#ffce71 216Q"></i><i style="--g:#00c333 -21Q,#90c333,#ffc333 23Q,#00c337,#ffc83a 131Q,#a6ca49 153Q,#00cd5f 186Q,#34cd65 195Q,#ffcd74 216Q"></i><i style="--g:#00c433 -21Q,#90c433,#ffc433 23Q,#00c436,#ffc839 131Q,#a8ca48 153Q,#00cd60 186Q,#33cd67 195Q,#ffcd76 216Q"></i><i style="--g:#00c533 -21Q,#90c533,#ffc533 23Q,#00c535,#ffc937 132Q,#a5ca48 154Q,#00cd61 187Q,#31cd68 195Q,#ffcd78 216Q"></i><i style="--g:#00c632 -21Q,#90c632,#ffc632 23Q,#00c634,#ffc936 132Q,#a8ca48 154Q,#00cc62 187Q,#2fcc69 195Q,#ffcc7a 216Q"></i><i style="--g:#00c632 -21Q,#90c632,#ffc732 23Q,#00c833,#ffca34 132Q,#a5cb48 155Q,#00cc63 187Q,#2dcc6a 195Q,#ffcc7c 216Q"></i><i style="--g:#00c632 -21Q,#90c732,#ffc832 23Q,#00ca32,#ffca32 132Q,#a8cb47 155Q,#00cb64 188Q,#2bcb6b 195Q,#ffcb7e 216Q"></i><i style="--g:#00c631 -21Q,#91c731,#ffc831 23Q,#00cc31,#ffcb30 133Q,#a5cb46 156Q,#00cb64 188Q,#ffcb7f 216Q"></i><i style="--g:#00c530 -21Q,#92c730,#ffc930 23Q,#00ce2f,#ffcc2f 133Q,#a7cb45 156Q,#00ca65 188Q,#ffca80 216Q"></i><i style="--g:#00c52f -21Q,#93c72f,#ffca2f 23Q,#00d02e,#ffcd2d 133Q,#a9cc44 156Q,#00ca65 189Q,#ffca81 216Q"></i><i style="--g:#00c42e -21Q,#94c72e,#ffca2e 23Q,#00d22d,#ffce2c 133Q,#a5cc44 157Q,#00ca65 189Q,#ffca81 216Q"></i><i style="--g:#00c32c -21Q,#95c72c,#ffcb2c 22Q,#00d52b,#ffcf2a 134Q,#a6cd43 157Q,#00c964 189Q,#ffc981 216Q"></i></div></div><div class="p" style="left:1329.5px;top:1630.4px;width:305.2px;height:183.1px"><div class="c" style="left:0;width:305.2px;height:183.1px"><i style="--g:#a00 0 4.2%,#d00 0 8.3%,#f70 0 12.5%,#7f8 0 16.7%,#05f 0 20.8%,#008 0 41.7%,#00f 0 45.8%,#2fd 0 50%,#fc0 0 54.2%,#f00 0 58.3%,#a00 0 62.5%,#d00 0 66.7%,#f70 0 70.8%,#7f8 0 75%,#05f 0 79.2%,#008 0"></i><i style="--g:#900 0 4.2%,#c00 0 8.3%,#f70 0 12.5%,#8f7 0 16.7%,#06f 0 20.8%,#008 0 41.7%,#00f 0 45.8%,#3fc 0 50%,#fb0 0 54.2%,#e00 0 58.3%,#900 0 62.5%,#c00 0 66.7%,#f70 0 70.8%,#8f7 0 75%,#06f 0 79.2%,#008 0"></i><i style="--g:#800 0 4.2%,#a00 0 8.3%,#f50 0 12.5%,#8f7 0 16.7%,#05f 0 20.8%,#008 0 41.7%,#00e 0 45.8%,#3fc 0 50%,#fa0 0 54.2%,#c00 0 58.3%,#800 0 62.5%,#a00 0 66.7%,#f50 0 70.8%,#8f7 0 75%,#05f 0 79.2%,#008 0"></i><i style="--g:#800 0 8.3%,#f20 0 12.5%,#9f6 0 16.7%,#03f 0 20.8%,#008 0 41.7%,#00b 0 45.8%,#3fc 0 50%,#f70 0 54.2%,#800 0 66.7%,#f20 0 70.8%,#9f6 0 75%,#03f 0 79.2%,#008 0"></i><i style="--g:#800 0 8.3%,#c00 0 12.5%,#af5 0 16.7%,#00e 0 20.8%,#008 0 45.8%,#3fc 0 50%,#f30 0 54.2%,#800 0 66.7%,#c00 0 70.8%,#af5 0 75%,#00e 0 79.2%,#008 0"></i><i style="--g:#800 0 12.5%,#bf4 0 16.7%,#00b 0 20.8%,#008 0 45.8%,#2fd 0 50%,#f00 0 54.2%,#800 0 70.8%,#bf4 0 75%,#00b 0 79.2%,#008 0"></i><i style="--g:#800 0 12.5%,#bf4 0 16.7%,#008 0 45.8%,#1fe 0 50%,#d00 0 54.2%,#800 0 70.8%,#bf4 0 75%,#008 0"></i><i style="--g:#800 0 12.5%,#bf4 0 16.7%,#008 0 45.8%,#2fd 0 50%,#b00 0 54.2%,#800 0 70.8%,#bf4 0 75%,#008 0"></i><i style="--g:#800 0 12.5%,#9f6 0 16.7%,#008 0 45.8%,#3fc 0 50%,#a00 0 54.2%,#800 0 70.8%,#9f6 0 75%,#008 0"></i><i style="--g:#800 0 12.5%,#7f8 0 16.7%,#008 0 45.8%,#6f9 0 50%,#800 0 70.8%,#7f8 0 75%,#008 0"></i><i style="--g:#800 0 8.3%,#900 0 12.5%,#4fb 0 16.7%,#008 0 45.8%,#8f7 0 50%,#800 0 66.7%,#900 0 70.8%,#4fb 0 75%,#008 0"></i><i style="--g:#800 0 8.3%,#b00 0 12.5%,#2fd 0 16.7%,#008 0 45.8%,#bf4 0 50%,#800 0 66.7%,#b00 0 70.8%,#2fd 0 75%,#008 0"></i><i style="--g:#800 0 8.3%,#d00 0 12.5%,#0ff 0 16.7%,#008 0 45.8%,#cf3 0 50%,#800 0 66.7%,#d00 0 70.8%,#0ff 0 75%,#008 0"></i><i style="--g:#800 0 8.3%,#d00 0 12.5%,#0ef 0 16.7%,#008 0 45.8%,#df2 0 50%,#800 0 66.7%,#d00 0 70.8%,#0ef 0 75%,#008 0"></i><i style="--g:#800 0 8.3%,#d00 0 12.5%,#0ef 0 16.7%,#008 0 45.8%,#df2 0 50%,#800 0 66.7%,#d00 0 70.8%,#0ef 0 75%,#008 0"></i><i style="--g:#800 0 8.3%,#d00 0 12.5%,#0ef 0 16.7%,#008 0 45.8%,#df2 0 50%,#800 0 66.7%,#d00 0 70.8%,#0ef 0 75%,#008 0"></i><i style="--g:#800 0 8.3%,#d00 0 12.5%,#0ef 0 16.7%,#008 0 45.8%,#df2 0 50%,#800 0 66.7%,#d00 0 70.8%,#0ef 0 75%,#008 0"></i><i style="--g:#800 0 8.3%,#d00 0 12.5%,#0ef 0 16.7%,#008 0 45.8%,#df2 0 50%,#800 0 66.7%,#d00 0 70.8%,#0ef 0 75%,#008 0"></i><i style="--g:#800 0 8.3%,#d00 0 12.5%,#0ef 0 16.7%,#008 0 45.8%,#df2 0 50%,#800 0 66.7%,#d00 0 70.8%,#0ef 0 75%,#008 0"></i><i style="--g:#800 0 8.3%,#d00 0 12.5%,#0ef 0 16.7%,#008 0 45.8%,#df2 0 50%,#800 0 66.7%,#d00 0 70.8%,#0ef 0 75%,#008 0"></i></div></div><div class="p" style="left:177.7px;top:1928px;width:305.2px;height:91.6px"><div class="f" style="left:-8px;width:316px;height:91.6px"><i style="--g:#00a64f -11Q,#ffad4f,#00b44f,#ffb04e,#00ab50 92Q,#ffab53 116Q"></i><i style="--g:#00a64f -11Q,#ffad4f,#00b44f,#ffb04e,#00ab50 92Q,#ffab53 116Q"></i><i style="--g:#00a64f -11Q,#ffad4f,#00b44f,#ffb04e,#00ab50 92Q,#ffab53 116Q"></i><i style="--g:#00a84d -11Q,#ffaf4d,#00b74d,#ffb04d,#00aa51 92Q,#ffaa54 116Q"></i><i style="--g:#00aa4c -11Q,#ffb04c,#00b74c,#ffb14c 66Q,#00aa50,#fa5 116Q"></i><i style="--g:#00ac4c -11Q,#ffb14c,#00b64c,#ffb14c 66Q,#00ac50,#ffac53 116Q"></i><i style="--g:#00ae4d -11Q,#ffb14d,#00b44d,#ffb14d,#00ae4f 91Q,#ffae51 116Q"></i><i style="--g:#00b14e -10Q,#ffb14e,#00b24e,#ffb14d,#00b14e,#ffb14e 116Q"></i><i style="--g:#00b34f -10Q,#ffb14f,#00af4f,#ffb14e,#00b44d,#ffb44b 116Q"></i><i style="--g:#00b550 -10Q,#ffb050,#00ac50,#ffb14f,#00b64b,#ffb648 116Q"></i><i style="--g:#00b651 -10Q,#ffb051,#00aa50,#ffb14f,#00b84b 90Q,#ffb846 116Q"></i><i style="--g:#00b651 -10Q,#ffb051,#00aa50,#ffb14f,#00b94a 90Q,#ffb945 116Q"></i><i style="--g:#00b651 -10Q,#ffb051,#00aa50,#ffb14f,#00b84b 90Q,#ffb846 116Q"></i><i style="--g:#00b550 -10Q,#ffb050,#00ac50,#ffb14f,#00b74b,#ffb748 116Q"></i><i style="--g:#00b34f -10Q,#ffb14f,#00ae4f,#ffb14e,#00b44c,#ffb44b 116Q"></i><i style="--g:#00b14e -10Q,#ffb14e,#00b14e,#ffb14d,#00b14e,#ffb14e 116Q"></i><i style="--g:#00ae4d -11Q,#ffb14d,#00b44d,#ffb14d,#00ae4f,#ffae51 116Q"></i><i style="--g:#00ac4c -11Q,#ffb14c,#00b64c,#ffb14c,#00ac50 91Q,#ffac53 116Q"></i><i style="--g:#00aa4c -11Q,#ffb04c,#00b74c,#ffb14c 66Q,#00aa50,#ffaa54 116Q"></i><i style="--g:#00a84d -11Q,#ffaf4d,#00b74d,#ffb04d,#00aa51 92Q,#ffaa54 116Q"></i><i style="--g:#00a64f -11Q,#ffad4f,#00b54e,#ffb04e,#00ab50 92Q,#ffab53 116Q"></i><i style="--g:#00a552 -10Q,#ffab52,#00b151,#ffaf4f,#00ac50 92Q,#ffac50 116Q"></i><i style="--g:#00a455 -10Q,#ffa955,#00ad53,#ffae51,#00ae4f,#ffae4d 117Q"></i><i style="--g:#00a558 -9Q,#ffa758,#00a956,#ffad54,#00b14f 92Q,#ffb14a 118Q"></i><i style="--g:#00a55b -8Q,#ffa55b,#00a458,#ffab56,#00b24f 92Q,#ffb248 118Q"></i><i style="--g:#00a75d -7Q,#ffa45d,#00a15a,#ffaa57,#00b34f 92Q,#ffb346 119Q"></i><i style="--g:#00a95d -6Q,#ffa45d,#009f5b 43Q,#ffa959 67Q,#00b350,#ffb347 119Q"></i><i style="--g:#00aa5d -5Q,#ffa45d,#009e5b,#ffa859 68Q,#00b251,#ffb248 119Q"></i><i style="--g:#00ab5b -5Q,#ffa65b,#00a05a 45Q,#ffa859 69Q,#00b052,#ffb04c 119Q"></i><i style="--g:#00ac59 -4Q,#ffa859,#00a358,#ffa857,#00ae54 96Q,#ffae51 119Q"></i><i style="--g:#00ac56 -4Q,#ffaa56,#00a856,#fa5,#00ac56 97Q,#ffac57 119Q"></i><i style="--g:#00ac54 -4Q,#ffac54,#00ad52,#ffac51,#00ab51 98Q"></i><i style="--g:#00ab51 -4Q,#ffae51,#00b24f,#ffaf4d,#00ab4d 100Q"></i><i style="--g:#00aa4f -3Q,#ffb04f,#00b64c 48Q,#ffb14a,#00ac4a 101Q"></i><i style="--g:#00aa4d -3Q,#ffb14d,#00b94a 49Q,#ffb348,#00ae48 102Q"></i><i style="--g:#00a94c -2Q,#ffb24c 23Q,#00ba49,#ffb547,#00b047 103Q"></i><i style="--g:#00aa4c -2Q,#ffb14c,#00b94a,#ffb547,#00b147 103Q"></i><i style="--g:#00ab4d -1Q,#ffb14d,#00b74b,#ffb549,#00b349 104Q"></i><i style="--g:#00ac4e 0,#ffb04e,#00b34d,#ffb34d,#00b34d 104Q"></i><i style="--g:#ffae59 -21Q,#00ae54 1Q,#ffaf4f,#00af50,#ffb151,#00b251 105Q"></i><i style="--g:#ffb054 -21Q,#00b052 2Q,#ffae50,#00ab52,#ffae55,#00b155 105Q"></i><i style="--g:#ffb250 -21Q,#00b251 3Q,#ffad51,#00a755,#ffab58,#00af58 106Q"></i><i style="--g:#ffb34d -21Q,#00b350,#ffac52 30Q,#00a457,#ffa85b,#00ab5b 107Q"></i><i style="--g:#ffb34c -21Q,#00b350,#ffab54,#00a359 57Q,#ffa55d,#00a85d 108Q"></i><i style="--g:#ffb14c -21Q,#00b151,#ffa955,#00a25a 58Q,#ffa35e,#00a45e 109Q"></i><i style="--g:#ffae4f -21Q,#00ae53,#ffa858 33Q,#00a25b,#ffa15e,#00a15e 111Q"></i><i style="--g:#ffa954 -20Q,#00a957,#ffa55b,#00a25c,#ffa15d,#00a05d 114Q"></i><i style="--g:#ffa359 -19Q,#00a35c,#ffa35e,#00a25d,#ffa05c,#009f5c 116Q"></i><i style="--g:#ff9d60 -17Q,#009d61,#ff9f62,#00a15f,#ffa05b 90Q,#00a05b 118Q"></i><i style="--g:#ff9767 -15Q,#009766,#ff9b66,#00a061 64Q,#ffa05b,#00a05b 119Q"></i><i style="--g:#ff926b -12Q,#00926a,#ff9869 39Q,#009e63,#ff9f5c 94Q,#009f5c 119Q"></i><i style="--g:#ff8f6c -8Q,#008f6c,#ff966b 42Q,#009d64 68Q,#ff9d5d 96Q,#009d5d 119Q"></i><i style="--g:#ff916a -5Q,#00916a,#ff966b 45Q,#009c65,#ff9b5f 98Q,#009a5f 119Q"></i><i style="--g:#ff9565 -3Q,#009566,#ff9967,#009e63 74Q,#ff9e5f 100Q"></i><i style="--g:#ff9c60 -1Q,#009c60,#ff9e61,#00a160,#ffa15f 102Q"></i><i style="--g:#ffa35b -1Q,#00a35a,#ffa459,#00a65b,#ffa65e 104Q"></i><i style="--g:#00a256 -21Q,#ffa656 0,#00aa54,#ffab52,#00ab56,#ffab5b 105Q"></i><i style="--g:#00a552 -21Q,#ffaa52 1Q,#00b14f,#ffb04b 54Q,#00b051,#ffb056 107Q"></i><i style="--g:#00a84e -21Q,#ffae4e 1Q,#00b74a,#ffb546,#00b34c 81Q,#ffb352 107Q"></i><i style="--g:#00aa4b -21Q,#ffb14b 1Q,#00bb47,#ffb843,#00b648,#ffb64d 108Q"></i><i style="--g:#00ab49 -21Q,#ffb349 2Q,#00bd46,#ffba42,#00b846,#ffb849 109Q"></i><i style="--g:#00ad48 -21Q,#ffb548 3Q,#00bd46,#ffba43,#00b845,#ffb847 109Q"></i><i style="--g:#00af48 -21Q,#ffb548 3Q,#00bb47,#ffb946,#00b746,#ffb746 110Q"></i><i style="--g:#00b148 -21Q,#ffb448,#00b849,#ffb64a,#00b449 83Q,#ffb448 110Q"></i><i style="--g:#00b24a -21Q,#ffb34a,#00b34d,#ffb250,#00b04e 84Q,#ffb04c 111Q"></i><i style="--g:#00b44c -20Q,#ffb14c,#00ae50,#ffad55,#00ab54 84Q,#ffab53 111Q"></i><i style="--g:#00b54e -19Q,#ffaf4e,#00a954,#ffa75b,#00a55c 84Q,#ffa55d 112Q"></i><i style="--g:#00b551 -18Q,#ffac51,#00a459,#ffa160,#009e65 85Q,#ff9e69 112Q"></i><i style="--g:#00b554 -17Q,#ffaa54,#009f5d,#ff9a66,#00956e,#ff9576 110Q"></i><i style="--g:#00b358 -17Q,#ffa758,#009b61 35Q,#ff946b,#008c77 85Q,#ff8c80 104Q"></i><i style="--g:#00b15c -16Q,#ffa45c,#009766,#ff8d70 60Q,#008479 82Q,#ff8a7f 96Q,#00937f 118Q"></i><i style="--g:#00ad61 -16Q,#ffa061,#00936b,#ff8875 59Q,#007f76,#ff8c77 93Q,#00a077 118Q"></i><i style="--g:#00a765 -17Q,#ff9c65 9Q,#00906f 33Q,#ff8878 55Q,#008273 72Q,#ff946c 93Q,#00ac6c 119Q"></i><i style="--g:#00a269 -17Q,#ff9869,#008f71 31Q,#ff8c78 52Q,#00896e 70Q,#ff9e62 94Q,#00b662 119Q"></i><i style="--g:#009d6a -19Q,#ff976a,#00916f 28Q,#ff9273,#009366 70Q,#ffa856,#00bd56 119Q"></i><i style="--g:#009a68 -21Q,#ff9868,#009669,#ff9a6b,#009e5c 71Q,#ffb14b 96Q,#00c24b 119Q"></i><i style="--g:#009962 -21Q,#ff9b62 0,#009e61,#ffa460,#00ac50 72Q,#ffb83f 97Q,#00c33f 119Q"></i><i style="--g:#ffa75a -1Q,#00a757,#ffb054,#00ba44 72Q,#ffbe34 98Q,#00c134 119Q"></i><i style="--g:#ffb250 -2Q,#00b24b,#ffbd46,#00c938 73Q,#ffc929 99Q"></i></div></div><div class="p" style="left:560.8px;top:1928px;width:305.2px;height:91.6px"><div class="f" style="left:-8px;width:316px;height:91.6px"><i style="--g:#009b67 -11Q,#ff9f67,#00a466,#ffa066,#009d68 92Q,#ff9d6a 116Q"></i><i style="--g:#009b67 -11Q,#ff9f67,#00a466,#ffa066,#009d68 92Q,#ff9d6a 116Q"></i><i style="--g:#009b67 -11Q,#ff9f67,#00a466,#ffa066,#009d68 92Q,#ff9d6a 116Q"></i><i style="--g:#009c66 -11Q,#ffa066,#00a466,#ffa066,#009d68 92Q,#ff9d6a 116Q"></i><i style="--g:#009d66 -11Q,#ffa066,#00a366,#ffa066 66Q,#009d68,#ff9d6a 116Q"></i><i style="--g:#009d67 -11Q,#ffa067,#00a366,#ffa066,#009e68 91Q,#ff9e6a 116Q"></i><i style="--g:#009e67 -11Q,#ffa067,#00a267,#ffa067,#009f68,#ff9f69 116Q"></i><i style="--g:#009f68 -10Q,#ffa068,#00a068,#ffa068,#00a068,#ffa068 116Q"></i><i style="--g:#00a069 -10Q,#ff9f69,#009e69,#ff9f68,#00a168,#ffa167 116Q"></i><i style="--g:#00a06a -10Q,#ff9e6a,#009d69,#ff9f69,#00a168,#ffa166 116Q"></i><i style="--g:#00a06b -10Q,#ff9e6b,#009b6a,#ff9e6a,#00a168,#ffa166 116Q"></i><i style="--g:#00a06b -10Q,#ff9d6b,#009a6b,#ff9e6b,#00a168 90Q,#ffa166 116Q"></i><i style="--g:#009f6c -10Q,#ff9d6c,#009a6c,#ff9d6b,#00a069,#ffa067 116Q"></i><i style="--g:#009e6c -10Q,#ff9c6c,#009a6c,#ff9c6c,#009f6a,#ff9f69 116Q"></i><i style="--g:#009c6c -10Q,#ff9c6c,#009b6c,#ff9c6c,#009d6b,#ff9d6a 116Q"></i><i style="--g:#009b6c -10Q,#ff9b6c,#009b6c,#ff9b6c,#009b6c,#ff9b6c 116Q"></i><i style="--g:#00996d -11Q,#ff9b6d,#009c6c,#ff9b6c,#009a6d,#ff9a6e 116Q"></i><i style="--g:#00986d -11Q,#ff9a6d,#009c6d,#ff9a6d,#00986e 91Q,#ff986f 116Q"></i><i style="--g:#00976d -11Q,#ff9a6d,#009c6d,#ff9a6d 66Q,#00986e,#ff9870 116Q"></i><i style="--g:#00966d -11Q,#ff996d,#009c6d,#ff9a6d,#00976e 92Q,#ff9770 116Q"></i><i style="--g:#00966e -11Q,#ff986e,#009b6e,#ff9a6d,#00986e 92Q,#ff986f 116Q"></i><i style="--g:#00956f -10Q,#ff986f,#009a6e,#ff996e,#00996e,#ff996e 117Q"></i><i style="--g:#009570 -9Q,#ff9770,#00996f,#ff996e,#009a6d,#ff9a6c 117Q"></i><i style="--g:#009671 -9Q,#ff9771,#009770,#ff996f,#009b6d,#ff9b6b 118Q"></i><i style="--g:#009672 -8Q,#ff9672,#009670,#ff996f,#009c6c 92Q,#ff9c69 119Q"></i><i style="--g:#009872 -7Q,#ff9672,#009571,#ff996f 67Q,#009d6c,#ff9d68 119Q"></i><i style="--g:#009972 -6Q,#ff9772,#009570,#ff996f 67Q,#009e6b,#ff9e67 119Q"></i><i style="--g:#009a71 -5Q,#ff9871,#009570,#ff996f 68Q,#009e6b,#ff9e68 119Q"></i><i style="--g:#009b70 -5Q,#ff9970,#00966f,#ff9a6e 69Q,#009e6c,#ff9e69 119Q"></i><i style="--g:#009c6e -4Q,#ff9a6e,#00986e,#ff9b6d,#009d6c 96Q,#ff9d6b 119Q"></i><i style="--g:#009d6c -4Q,#ff9c6c,#009b6c,#ff9c6b,#009d6c 97Q,#ff9d6d 119Q"></i><i style="--g:#009d6a -4Q,#ff9e6a,#009e6a,#ff9d69,#009d6d 98Q,#ff9d70 119Q"></i><i style="--g:#009d68 -4Q,#ff9f68,#00a167,#ff9f67,#009e67 100Q"></i><i style="--g:#009e67 -3Q,#ffa167,#00a465,#ffa164,#009f64 101Q"></i><i style="--g:#009e65 -3Q,#ffa265,#00a664,#ffa362,#00a062 102Q"></i><i style="--g:#009e64 -2Q,#ffa364,#00a762,#ffa561 76Q,#00a261 103Q"></i><i style="--g:#009f63 -2Q,#ffa463,#00a862,#ffa660,#00a460 103Q"></i><i style="--g:#00a162 -1Q,#ffa462,#00a862,#ffa661,#00a561 104Q"></i><i style="--g:#ffa26d -21Q,#00a268 0,#ffa462,#00a762,#ffa661,#00a661 104Q"></i><i style="--g:#ffa469 -21Q,#00a466 1Q,#ffa562,#00a562,#ffa663,#00a763 105Q"></i><i style="--g:#ffa665 -21Q,#00a664 2Q,#ffa562,#00a363,#ffa565,#00a765 105Q"></i><i style="--g:#ffa962 -21Q,#00a962 3Q,#ffa562,#00a264,#ffa466,#00a666 106Q"></i><i style="--g:#ffaa5f -21Q,#00aa60,#ffa562 30Q,#00a165,#ffa368,#00a568 107Q"></i><i style="--g:#ffab5d -21Q,#00ab5f,#ffa562,#00a065 57Q,#ffa169,#00a369 108Q"></i><i style="--g:#ffaa5c -21Q,#00aa5f,#ffa563,#00a066,#ffa069 84Q,#00a169 109Q"></i><i style="--g:#ffa85e -21Q,#00a861,#ffa464 33Q,#00a066,#ff9f69,#009f69 111Q"></i><i style="--g:#ffa561 -21Q,#00a563,#ffa266 34Q,#00a067,#ff9f68,#009e68 113Q"></i><i style="--g:#ffa165 -19Q,#00a167,#ffa069,#009f68,#ff9e67,#009d67 116Q"></i><i style="--g:#ff9c6b -17Q,#009c6b,#ff9d6c,#009f69,#ff9e67 90Q,#009d67 119Q"></i><i style="--g:#ff9770 -15Q,#00976f,#ff9a6f,#009d6b 64Q,#ff9d67,#009d67 119Q"></i><i style="--g:#ff9373 -12Q,#009373,#ff9772,#009c6d 66Q,#ff9c68 94Q,#009c68 119Q"></i><i style="--g:#ff9174 -8Q,#009174,#ff9574,#009a6f 68Q,#ff9a6a 96Q,#009a6a 119Q"></i><i style="--g:#ff9273 -5Q,#009273,#ff9673,#00996f 71Q,#ff986b 98Q,#00976b 119Q"></i><i style="--g:#ff9570 -3Q,#009571,#ff9771,#009a6e,#ff9a6c 100Q"></i><i style="--g:#ff996d -1Q,#00996d,#ff9a6d,#009c6d,#ff9c6c 102Q"></i><i style="--g:#ff9d6a -1Q,#009d69,#ff9e69,#009f6a,#ff9f6b 104Q"></i><i style="--g:#009a67 -21Q,#ff9d67 0,#00a166,#ffa165,#00a167,#ffa16a 105Q"></i><i style="--g:#009c65 -21Q,#ffa065 1Q,#00a563,#ffa461,#00a465,#ffa468 106Q"></i><i style="--g:#009d64 -21Q,#ffa264 1Q,#00a761,#ffa65f,#00a563,#ffa566 107Q"></i><i style="--g:#009e62 -21Q,#ffa362 2Q,#00a960,#ffa85e,#00a661,#ffa664 108Q"></i><i style="--g:#009f62 -21Q,#ffa462 2Q,#00a960,#ffa85e,#00a760,#ffa762 109Q"></i><i style="--g:#00a062 -21Q,#ffa462 3Q,#00a960,#ffa75f,#00a660,#ffa662 109Q"></i><i style="--g:#00a162 -21Q,#ffa462 4Q,#00a762,#ffa661,#00a562,#ffa562 110Q"></i><i style="--g:#00a263 -21Q,#ffa363,#00a563,#ffa464,#00a364 83Q,#ffa363 110Q"></i><i style="--g:#00a264 -21Q,#ffa264,#00a365,#ffa267,#00a167 83Q,#ffa166 111Q"></i><i style="--g:#00a365 -21Q,#ffa165,#00a068 32Q,#ff9f6a,#009d6b 84Q,#ff9d6b 111Q"></i><i style="--g:#00a367 -19Q,#ffa067,#009d6a,#ff9b6e,#009a6f 84Q,#ff9a70 111Q"></i><i style="--g:#00a368 -18Q,#ff9e68,#009a6d,#ff9771,#009574 84Q,#ff9577 111Q"></i><i style="--g:#00a36a -18Q,#ff9d6a,#00976f 34Q,#ff9474,#009079,#ff907e 109Q"></i><i style="--g:#00a26d -17Q,#ff9b6d,#009472,#ff9077 59Q,#008c7d 84Q,#ff8c82 104Q"></i><i style="--g:#00a06f -17Q,#ff996f,#009275 34Q,#ff8c7a 59Q,#00877f 81Q,#ff8b82 97Q,#008f82 119Q"></i><i style="--g:#009e71 -17Q,#ff9771,#009077 34Q,#ff8a7d 57Q,#00857d 76Q,#ff8d7e 94Q,#00977e 119Q"></i><i style="--g:#009b74 -17Q,#ff9574,#008e79 32Q,#ff8a7e 55Q,#00877b 73Q,#ff9178 94Q,#009d78 119Q"></i><i style="--g:#009876 -18Q,#ff9376,#008e7a 30Q,#ff8c7e 52Q,#008b78 71Q,#ff9672,#00a272 119Q"></i><i style="--g:#009676 -20Q,#ff9276,#008f79 28Q,#ff907b,#009074 71Q,#ff9b6b,#00a66b 119Q"></i><i style="--g:#009475 -21Q,#ff9375,#009276,#ff9476,#00976e 71Q,#ffa065 96Q,#00a965 119Q"></i><i style="--g:#009472 -21Q,#ff9572 1Q,#009671,#ff9a71,#009e68 72Q,#ffa45f 97Q,#00a95f 119Q"></i><i style="--g:#ff9a6e -1Q,#009a6d,#ff9f6b,#00a462 72Q,#ffa759 98Q,#00a959 119Q"></i><i style="--g:#ff9d6c -1Q,#009d6a,#ffa368,#00a85f 73Q,#ffa856 99Q"></i></div></div><div class="p" style="left:943.4px;top:1928px;width:305.2px;height:91.6px"><div class="f" style="left:-8px;width:316px;height:91.6px"><i style="--g:#00d724 -21Q,#ffd724,#00d62b,#ffd031,#00ca30,#ffca2f 105Q"></i><i style="--g:#00d724 -21Q,#ffd724,#00d62b,#ffd031,#00ca30,#ffca2f 105Q"></i><i style="--g:#00d724 -21Q,#ffd724,#00d62b,#ffd031,#00ca30,#ffca2f 105Q"></i><i style="--g:#00d724 -21Q,#ffd724,#00d72b,#ffd031,#00c930 80Q,#ffc92f 104Q"></i><i style="--g:#00d725 -21Q,#ffd725,#00d72b,#ffd031,#00c930 80Q,#ffc92f 104Q"></i><i style="--g:#00d626 -21Q,#ffd626,#00d62b,#ffd030,#00cb30,#ffcb2f 105Q"></i><i style="--g:#00d429 -21Q,#ffd429,#00d42c,#ffd12f,#00ce2f,#ffce2e 105Q"></i><i style="--g:#00d22d -21Q,#ffd22d,#00d22d,#ffd22d,#00d12d,#ffd12d 105Q"></i><i style="--g:#00d130 -21Q,#ffd130,#00d02e,#ffd32b,#00d52c,#ffd52c 105Q"></i><i style="--g:#00cf33 -21Q,#ffcf33,#00cf2e,#ffd32a,#00d82b,#ffd82b 105Q"></i><i style="--g:#00ce35 -21Q,#ffce35,#00ce2f,#ffd429,#00da2a,#ffda2a 105Q"></i><i style="--g:#00ce36 -21Q,#ffce36,#00cd2f,#ffd428,#00db29,#ffdb2a 105Q"></i><i style="--g:#00ce35 -21Q,#ffce35,#00ce2f,#ffd429,#00da2a,#ffda2a 105Q"></i><i style="--g:#00cf33 -21Q,#ffcf33,#00cf2e,#ffd32a,#00d82a,#ffd82b 105Q"></i><i style="--g:#00d130 -21Q,#ffd030,#00d02e,#ffd32b,#00d52c,#ffd52c 105Q"></i><i style="--g:#00d22d -21Q,#ffd22d,#00d22d,#ffd22d,#00d22d,#ffd22d 105Q"></i><i style="--g:#00d42a -21Q,#ffd42a,#00d42c,#ffd12f,#00ce2e,#ffce2e 105Q"></i><i style="--g:#00d527 -21Q,#ffd527,#00d62b,#ffd030,#00cb2f,#ffcb2f 105Q"></i><i style="--g:#00d625 -21Q,#ffd725,#00d72b,#ffd031,#00c930 80Q,#ffc92f 104Q"></i><i style="--g:#00d724 -21Q,#ffd724,#00d72b,#ffd031,#00c930 80Q,#ffc92f 104Q"></i><i style="--g:#00d724 -21Q,#ffd724,#00d62b,#ffd031,#00ca30,#ffca2f 105Q"></i><i style="--g:#00d626 -21Q,#ffd626,#00d52b,#ffd130,#00cd2f,#ffcd2f 105Q"></i><i style="--g:#00d429 -21Q,#ffd429,#00d42c,#ffd22e,#00d02e,#ffd02e 105Q"></i><i style="--g:#00d22c -21Q,#ffd22c,#00d22c,#ffd32c,#00d42d,#ffd42d 105Q"></i><i style="--g:#00d030 -21Q,#ffd030,#00d02d,#ffd42a,#00d72b,#ffd72c 105Q"></i><i style="--g:#00ce33 -21Q,#ffce33,#00cf2e,#ffd429,#00d92a,#ffd92c 105Q"></i><i style="--g:#00cc36 -21Q,#ffcd36,#00ce2f,#ffd428,#00da2a,#ffda2c 105Q"></i><i style="--g:#00cb37 -21Q,#ffcd37,#00ce2f,#ffd428,#00da2a,#ffda2c 105Q"></i><i style="--g:#00cb37 -21Q,#ffcd37,#00ce30,#ffd329,#00d82a,#ffd82c 105Q"></i><i style="--g:#00cc35 -21Q,#ffcd35,#00cf30,#ffd22b,#00d62b,#ffd62c 105Q"></i><i style="--g:#00cd33 -21Q,#ffce33,#00cf30,#ffd12d,#00d22d,#ffd22c 105Q"></i><i style="--g:#00d02f -21Q,#ffd02f,#00d12f,#ffd02f,#00cf2e,#ffcf2c 105Q"></i><i style="--g:#00d22c -21Q,#ffd22c,#00d22f,#ffcf31,#00cc2f,#ffcc2d 104Q"></i><i style="--g:#00d529 -21Q,#ffd429,#00d32e,#ffce33 55Q,#00ca30,#ffca2d 104Q"></i><i style="--g:#00d726 -21Q,#ffd526,#00d42d,#ffcf34 55Q,#00ca30,#ffca2d 104Q"></i><i style="--g:#00d925 -21Q,#ffd625,#00d42c,#ffcf34,#00ca30 80Q,#ffca2d 104Q"></i><i style="--g:#00d925 -21Q,#ffd725,#00d42c,#ffd032,#00cc30,#ffcc2d 105Q"></i><i style="--g:#00d925 -21Q,#ffd625,#00d42b,#ffd130,#00cf2f,#ffcf2e 105Q"></i><i style="--g:#00d728 -21Q,#ffd628,#00d42a,#ffd32d,#00d22e,#ffd22e 105Q"></i><i style="--g:#00d52a -21Q,#ffd42a,#00d32a,#ffd42a,#00d52d,#ffd52f 105Q"></i><i style="--g:#00d22d -21Q,#ffd32d,#00d32a,#ffd528,#00d82b,#ffd82f 105Q"></i><i style="--g:#00cf30 -21Q,#ffd130,#00d32b,#ffd626,#00d92a 80Q,#ffd92f 106Q"></i><i style="--g:#00cc32 -21Q,#ffd032,#00d32c,#ffd625,#00d92a 80Q,#ffd92f 106Q"></i><i style="--g:#00ca34 -21Q,#ffce34,#00d32c,#ffd625,#00d82a,#ffd82f 105Q"></i><i style="--g:#00c934 -21Q,#ffce34,#00d32e,#ffd527,#00d62a,#ffd62e 105Q"></i><i style="--g:#00c934 -21Q,#ffcd34,#00d22f,#ffd329,#00d42b,#ffd42d 105Q"></i><i style="--g:#00ca33 -21Q,#ffcd33,#00d130,#ffd12d,#00d12c,#ffd12b 105Q"></i><i style="--g:#00cc31 -21Q,#ffce31,#00d031,#ffcf31,#00cf2e,#ffcf2a 105Q"></i><i style="--g:#00cf2f -21Q,#ffcf2f,#00cf32,#ffce34,#00cd2f,#ffcd2a 104Q"></i><i style="--g:#00d22d -21Q,#ffd02d,#00ce32,#ffcd37 55Q,#00cc30,#ffcc2a 104Q"></i><i style="--g:#00d52b -21Q,#ffd12b,#00cd32,#ffcc38 55Q,#00cb31,#ffcb2a 104Q"></i><i style="--g:#00d82a -21Q,#ffd22a,#00cc31,#ffcc38 55Q,#00cc32,#ffcc2c 104Q"></i><i style="--g:#00da2a -21Q,#ffd32a,#00cd30,#ffcd36 55Q,#00cd32,#ffcd2e 105Q"></i><i style="--g:#00db2a -21Q,#ffd42a,#00ce2f,#ffce34,#00ce32,#ffce30 105Q"></i><i style="--g:#00da2a -21Q,#ffd52a,#00cf2d,#ffd030,#00d031,#ffd032 105Q"></i><i style="--g:#00d92b -21Q,#ffd52b,#00d22c,#ffd12c,#00d130,#ffd134 105Q"></i><i style="--g:#00d62b -21Q,#ffd52b,#00d42a,#ffd329,#00d32f,#ffd334 105Q"></i><i style="--g:#00d32c -21Q,#ffd52c,#00d729,#ffd526,#00d42d,#ffd434 105Q"></i><i style="--g:#00d02c -21Q,#ffd42c,#00d928,#ffd624,#00d42b,#ffd433 105Q"></i><i style="--g:#00ce2c -21Q,#ffd42c,#00da28 29Q,#ffd724,#00d42a,#ffd430 105Q"></i><i style="--g:#00cc2c -21Q,#ffd32c,#00da28 29Q,#ffd725,#00d529,#ffd52d 105Q"></i><i style="--g:#00ca2c -21Q,#ffd22c,#00d929,#ffd727 54Q,#00d528,#ffd52a 105Q"></i><i style="--g:#00ca2c -21Q,#ffd02c,#00d72b,#ffd629 54Q,#00d528,#ffd527 105Q"></i><i style="--g:#00ca2d -21Q,#ffcf2d,#00d42c,#ffd52c,#00d529,#ffd525 105Q"></i><i style="--g:#00cc2e -21Q,#ffce2e,#00d12e,#ffd32f,#00d52a,#ffd524 105Q"></i><i style="--g:#00cd2f -21Q,#ffcd2f,#00ce30,#ffd131,#00d52b,#ffd525 105Q"></i><i style="--g:#00cf31 -21Q,#ffcd31,#00cb32,#ffd032,#00d52c 79Q,#ffd526 105Q"></i><i style="--g:#00d032 -21Q,#ffcc32,#00c833,#ffce33,#00d42e,#ffd428 104Q"></i><i style="--g:#00d233 -21Q,#fc3,#00c733,#ffcd33,#00d22f,#ffd22b 104Q"></i><i style="--g:#00d234 -21Q,#ffcd34,#00c833,#fc3,#00d130,#ffd12e 104Q"></i><i style="--g:#00d334 -21Q,#ffce34 5Q,#00c933,#ffcc32,#00cf31,#ffcf31 104Q"></i><i style="--g:#00d333 -21Q,#ffd033,#00cc32,#ffcc30,#00cd32 80Q,#ffcd33 104Q"></i><i style="--g:#00d431 -21Q,#ffd131,#00cf30,#ffcd2f,#00cc31,#fc3 105Q"></i><i style="--g:#00d42e -21Q,#ffd32e,#00d32e,#ffcf2e,#00cb31,#ffcb33 105Q"></i><i style="--g:#00d52b -21Q,#ffd52b,#00d62c,#ffd12d,#00cc2f,#ffcc32 105Q"></i><i style="--g:#00d627 -21Q,#ffd727,#00d92a,#ffd32c,#00cd2e,#ffcd30 105Q"></i><i style="--g:#00d724 -21Q,#ffd924,#00db28,#ffd52b,#00d02c,#ffd02e 105Q"></i><i style="--g:#00d922 -21Q,#ffda22,#00dc26,#ffd72a,#00d32b,#ffd32c 106Q"></i><i style="--g:#00da20 -21Q,#ffdb20,#00dc25,#ffd929,#00d629,#ffd62a 106Q"></i></div></div><div class="p" style="left:1329.5px;top:1928px;width:305.2px;height:91.6px"><div class="f g w8" style="left:-8px;width:320px;height:91.6px"><i style="--g:#00fb17 -15Q,#fffb17 12Q,#80fb18 25Q,#00fb19 35Q,#fffb1c 62Q,#7efb1b 76Q,#00fb1a,#4afb1a 95Q,#fffb19 112Q"></i><i style="--g:#00fb17 -15Q,#fffb17 12Q,#80fb18 25Q,#00fb19 35Q,#fffb1c 62Q,#7efb1b 76Q,#00fb1a,#4afb1a 95Q,#fffb19 112Q"></i><i style="--g:#00fb17 -16Q,#fffb17 12Q,#78fb15 26Q,#00fc14,#4bfb13 45Q,#fffb11,#69fb0e 78Q,#00fb0c 87Q,#fffb07 112Q"></i><i style="--g:#00fb0d -15Q,#8bfb0d 1Q,#fffb0d 12Q,#67fb0a 28Q,#00fb08,#4efa07 46Q,#fff804 61Q,#00f504 89Q,#fff504 111Q"></i><i style="--g:#00f804 -12Q,#fff304 12Q,#00ee04 39Q,#83ec03 51Q,#ffea03,#b2e903 70Q,#00e603 89Q,#56e603 98Q,#ffe603 111Q"></i><i style="--g:#00e604 -12Q,#7fe504 1Q,#ffe404 11Q,#00e104 38Q,#81e204 51Q,#ffe304 61Q,#b3e404 70Q,#00e504 87Q,#ffe504 114Q"></i><i style="--g:#00e404 -14Q,#84e604 1Q,#ffe804,#b4e904 20Q,#00eb04 36Q,#fff105 63Q,#00f60a 87Q,#fff60f 114Q"></i><i style="--g:#00f404 -15Q,#fff804 13Q,#00fb09 35Q,#fffb0f 63Q,#7afb10 76Q,#00fb12 85Q,#4cfb13 95Q,#fffb15 113Q"></i><i style="--g:#00fb11 -16Q,#fffb11 12Q,#7efb12 25Q,#00fc13 34Q,#fffc16 62Q,#7cfc15 76Q,#00fc14 85Q,#46fc14 95Q,#fffc13 112Q"></i><i style="--g:#00fb1a -16Q,#fffb1a 11Q,#7ffb19 25Q,#00fc17,#47fb16 44Q,#fffb14 61Q,#00fb0e 88Q,#fffb09 111Q"></i><i style="--g:#00fb12 -15Q,#fff812 10Q,#00f40c 37Q,#ffef07 60Q,#00e905 88Q,#6be905 98Q,#ffe904 110Q"></i><i style="--g:#00f204 -14Q,#ffee04 8Q,#00e904 36Q,#84e804 49Q,#ffe703,#b1e603 68Q,#00e503 86Q,#6fe503,#ffe503 109Q"></i><i style="--g:#00eb03 -14Q,#99eb03 1Q,#ffeb03 7Q,#bbea04 17Q,#00ea04 35Q,#ffed04 59Q,#bbee04 68Q,#00f104 85Q,#fff104 111Q"></i><i style="--g:#00ea04 -15Q,#92ed04 1Q,#ffee04,#b6f004 19Q,#00f204 35Q,#fff704 62Q,#00fb08 85Q,#fffb0d 113Q"></i><i style="--g:#00f10b -15Q,#fff70b 12Q,#00fb10 35Q,#fffb16 62Q,#80fb17 75Q,#00fb18 85Q,#fffb1c 112Q"></i><i style="--g:#00fb1b -16Q,#fffc1b 12Q,#7afc1b 25Q,#00fc1c,#47fc1d 43Q,#fffb1e 61Q,#83fb1c 75Q,#00fb1b 86Q,#fffb19 111Q"></i><i style="--g:#00fb1a -16Q,#fffb1a 11Q,#7bfb18 25Q,#00fb16,#49fb15 44Q,#fffb12 61Q,#00fb0d 88Q,#fffb08 111Q"></i><i style="--g:#00fb0e -15Q,#fffb0e 11Q,#00fa09 38Q,#fff504 61Q,#00ef04 88Q,#63ef04 98Q,#ffef04 110Q"></i><i style="--g:#00f008 -12Q,#ffeb08 11Q,#00e506 39Q,#78e405,#ffe204 61Q,#00df04 88Q,#59df04 98Q,#ffdf04 112Q"></i><i style="--g:#00d40e -12Q,#ffd20e 12Q,#76d10e,#00d00e,#7ad10e 51Q,#ffd20e 63Q,#00d411 87Q,#ffd415 114Q"></i><i style="--g:#00c61b -13Q,#7ac81b,#ffca1b 13Q,#00cd1f 36Q,#ffd323 64Q,#00d828 87Q,#ffd82e 115Q"></i><i style="--g:#00d524 -15Q,#ffdb24 13Q,#00e029 36Q,#ffe52e 64Q,#00e832 87Q,#74e833 98Q,#ffe835 113Q"></i><i style="--g:#00f025 -14Q,#fff325 13Q,#00f627 37Q,#84f629 49Q,#fff62a,#88f729,#00f728 88Q,#fff726 112Q"></i><i style="--g:#00fb21 -14Q,#fffb21 12Q,#7ffb1f 26Q,#00fb1e 37Q,#fff81b 62Q,#00f515 89Q,#fff510 112Q"></i><i style="--g:#00fb15 -13Q,#fff715 11Q,#00f20f 38Q,#ffed0a 61Q,#00e707 89Q,#ffe704 112Q"></i><i style="--g:#00ef04 -13Q,#ffea04 11Q,#00e504 37Q,#86e404 50Q,#ffe303 59Q,#00e104 87Q,#67e104 98Q,#ffe104 111Q"></i><i style="--g:#00e804 -14Q,#95e804 1Q,#ffe804 8Q,#00e804 35Q,#8bea04 50Q,#ffeb04,#afec04 69Q,#00ef04 85Q,#ffef04 112Q"></i><i style="--g:#00ec04 -15Q,#94ef04 1Q,#fff104,#b6f204 19Q,#00f504 35Q,#fff804 61Q,#9bf906 71Q,#00fb08 85Q,#fffb0d 113Q"></i><i style="--g:#00f609 -15Q,#fff909 12Q,#7dfa0c 24Q,#00fb0e 34Q,#fffc14 62Q,#7efc15 75Q,#00fc16 84Q,#4bfc17 94Q,#fffc19 112Q"></i><i style="--g:#00fb1b -16Q,#fffb1b 11Q,#83fb1c 24Q,#00fb1c,#49fb1c 43Q,#fffb1d 61Q,#80fb1b 75Q,#00fb1a 86Q,#fffb17 111Q"></i><i style="--g:#00fc1b -17Q,#fffb1b 10Q,#76fb18 25Q,#00fb16 35Q,#45fb15 43Q,#fff912 60Q,#00f70c 87Q,#fff707 110Q"></i><i style="--g:#00fb0a -15Q,#fffa0a 10Q,#00f907 37Q,#fff404 59Q,#00ee04 87Q,#6cee04,#ffee04 109Q"></i><i style="--g:#00f904 -12Q,#fff504 10Q,#00ef04 38Q,#7cee04 50Q,#ffed04,#b2ec04 70Q,#00ea04 88Q,#5dea04 98Q,#ffea04 111Q"></i><i style="--g:#00ed04 -10Q,#85eb04 3Q,#ffea04 12Q,#00e704 40Q,#86e804 53Q,#ffe904,#b3e904 72Q,#00ea04 89Q,#ffea04 114Q"></i><i style="--g:#00e304 -9Q,#7be404,#ffe504 15Q,#00e704 40Q,#8ae904 56Q,#ffec04 67Q,#00f007 91Q,#fff00b 118Q"></i><i style="--g:#00e805 -10Q,#ffed05 17Q,#00f20a 40Q,#fff710 68Q,#00fb14 91Q,#fffb1a 118Q"></i><i style="--g:#00fb10 -10Q,#fffb10 17Q,#8afb12,#00fb14 39Q,#fffb18 67Q,#7cfc18 80Q,#00fc18,#3dfc18 98Q,#fffc18 116Q"></i><i style="--g:#00fc15 -13Q,#fffc15 16Q,#7dfc14 29Q,#00fc14,#44fc13 48Q,#fffb12 65Q,#79fb10 80Q,#00fb0e 90Q,#fffb09 116Q"></i><i style="--g:#00fb11 -12Q,#6ffb11,#fffb11 14Q,#6cfb0e 30Q,#00fb0c 40Q,#fff807 64Q,#00f405 92Q,#fff403 113Q"></i><i style="--g:#00f406 -10Q,#ffef06 13Q,#00e905 40Q,#81e704 52Q,#ffe604 62Q,#00e204 90Q,#4be204 98Q,#ffe204 113Q"></i></div></div><svg class="o" width="1850" height="2128" viewBox="0 0 1850 2128"><defs><linearGradient id="jg" x1="0" y1="1" x2="0" y2="0"><stop offset="0" stop-color="#00007f"/><stop offset="0.125" stop-color="#0000ff"/><stop offset="0.375" stop-color="#00ffff"/><stop offset="0.625" stop-color="#ffff00"/><stop offset="0.875" stop-color="#ff0000"/><stop offset="1" stop-color="#7f0000"/></linearGradient></defs><path d="M828.7 421.9L828.7 418.9 834.8 418.9 840.9 418.5 847 417.8 853.1 416.4 859.2 414.5 865.3 412 871.4 408.9 877.5 405.5 883.6 401.8 889.7 398 895.8 394.2 901.9 390.6 908 387.3 914.1 384.5 920.2 382.3 926.3 380.7 932.4 379.6 938.5 379.1 944.6 379 950.8 379 956.9 379.1 963 379.6 969.1 380.7 975.2 382.3 981.3 384.5 987.4 387.3 993.5 390.6 999.6 394.2 1005.7 398 1011.8 401.8 1017.9 405.5 1024 408.9 1030.1 412 1036.2 414.5 1042.3 416.4 1048.4 417.8 1054.5 418.5 1060.6 418.9 1066.7 418.9L1066.7 421.9Z" fill="#fff"/><path d="M1393.7 429.5L1393.7 429.5 1399.5 429.4 1405.4 429.1 1411.2 428.3 1417.1 427 1422.9 425 1428.7 422.5 1434.6 419.4 1440.4 415.9 1446.3 412.1 1452.1 408.2 1458 404.4 1463.8 400.7 1469.6 397.4 1475.5 394.6 1481.3 392.3 1487.2 390.7 1493 389.6 1498.8 389.1 1504.7 388.9 1510.5 388.9 1516.4 389.1 1522.2 389.6 1528 390.7 1533.9 392.3 1539.7 394.6 1545.6 397.4 1551.4 400.7 1557.2 404.4 1563.1 408.2 1568.9 412.1 1574.8 415.9 1580.6 419.4 1586.5 422.5 1592.3 425 1598.1 427 1604 428.3 1609.8 429.1 1615.7 429.4 1621.5 429.5L1621.5 429.5Z" fill="#80f880"/><g fill="#fff" stroke="#15152e" stroke-width="2.3"><circle cx="1390.6" cy="423.9" r="4.0"/><circle cx="1401" cy="422.8" r="4.0"/><circle cx="1411.1" cy="420.4" r="4.0"/><circle cx="1421" cy="416.9" r="4.0"/><circle cx="1430.5" cy="412.7" r="4.0"/><circle cx="1439.8" cy="408" r="4.0"/><circle cx="1449" cy="403.1" r="4.0"/><circle cx="1458.2" cy="398.2" r="4.0"/><circle cx="1467.6" cy="393.6" r="4.0"/><circle cx="1477.1" cy="389.5" r="4.0"/><circle cx="1487" cy="386.2" r="4.0"/><circle cx="1497.2" cy="384" r="4.0"/><circle cx="1507.6" cy="383.3" r="4.0"/><circle cx="1518" cy="384" r="4.0"/><circle cx="1528.2" cy="386.2" r="4.0"/><circle cx="1538.1" cy="389.5" r="4.0"/><circle cx="1547.6" cy="393.6" r="4.0"/><circle cx="1557" cy="398.2" r="4.0"/><circle cx="1566.2" cy="403.1" r="4.0"/><circle cx="1575.4" cy="408" r="4.0"/><circle cx="1584.7" cy="412.7" r="4.0"/><circle cx="1594.2" cy="416.9" r="4.0"/><circle cx="1604.1" cy="420.4" r="4.0"/><circle cx="1614.2" cy="422.8" r="4.0"/><circle cx="1624.6" cy="423.9" r="4.0"/></g><path d="M828.7 919L828.7 916 834.8 916 840.9 915.6 847 914.9 853.1 913.5 859.2 911.6 865.3 909.1 871.4 906 877.5 902.6 883.6 898.9 889.7 895.1 895.8 891.3 901.9 887.7 908 884.4 914.1 881.6 920.2 879.4 926.3 877.8 932.4 876.7 938.5 876.2 944.6 876.1 950.8 876.1 956.9 876.2 963 876.7 969.1 877.8 975.2 879.4 981.3 881.6 987.4 884.4 993.5 887.7 999.6 891.3 1005.7 895.1 1011.8 898.9 1017.9 902.6 1024 906 1030.1 909.1 1036.2 911.6 1042.3 913.5 1048.4 914.9 1054.5 915.6 1060.6 916 1066.7 916L1066.7 919Z" fill="#fff"/><path d="M1393.7 926.6L1393.7 926.6 1399.5 926.5 1405.4 926.2 1411.2 925.4 1417.1 924.1 1422.9 922.1 1428.7 919.6 1434.6 916.5 1440.4 913 1446.3 909.2 1452.1 905.3 1458 901.5 1463.8 897.8 1469.6 894.5 1475.5 891.7 1481.3 889.4 1487.2 887.8 1493 886.7 1498.8 886.2 1504.7 886 1510.5 886 1516.4 886.2 1522.2 886.7 1528 887.8 1533.9 889.4 1539.7 891.7 1545.6 894.5 1551.4 897.8 1557.2 901.5 1563.1 905.3 1568.9 909.2 1574.8 913 1580.6 916.5 1586.5 919.6 1592.3 922.1 1598.1 924.1 1604 925.4 1609.8 926.2 1615.7 926.5 1621.5 926.6L1621.5 926.6Z" fill="#80f880"/><g fill="#fff" stroke="#15152e" stroke-width="2.3"><circle cx="1390.6" cy="921" r="4.0"/><circle cx="1401" cy="919.9" r="4.0"/><circle cx="1411.1" cy="917.5" r="4.0"/><circle cx="1421" cy="914" r="4.0"/><circle cx="1430.5" cy="909.8" r="4.0"/><circle cx="1439.8" cy="905.1" r="4.0"/><circle cx="1449" cy="900.2" r="4.0"/><circle cx="1458.2" cy="895.3" r="4.0"/><circle cx="1467.6" cy="890.7" r="4.0"/><circle cx="1477.1" cy="886.6" r="4.0"/><circle cx="1487" cy="883.3" r="4.0"/><circle cx="1497.2" cy="881.1" r="4.0"/><circle cx="1507.6" cy="880.4" r="4.0"/><circle cx="1518" cy="881.1" r="4.0"/><circle cx="1528.2" cy="883.3" r="4.0"/><circle cx="1538.1" cy="886.6" r="4.0"/><circle cx="1547.6" cy="890.7" r="4.0"/><circle cx="1557" cy="895.3" r="4.0"/><circle cx="1566.2" cy="900.2" r="4.0"/><circle cx="1575.4" cy="905.1" r="4.0"/><circle cx="1584.7" cy="909.8" r="4.0"/><circle cx="1594.2" cy="914" r="4.0"/><circle cx="1604.1" cy="917.5" r="4.0"/><circle cx="1614.2" cy="919.9" r="4.0"/><circle cx="1624.6" cy="921" r="4.0"/></g><path d="M828.7 1415.5L828.7 1412.5 834.8 1412.5 840.9 1412.1 847 1411.4 853.1 1410 859.2 1408.1 865.3 1405.6 871.4 1402.5 877.5 1399.1 883.6 1395.4 889.7 1391.6 895.8 1387.8 901.9 1384.2 908 1380.9 914.1 1378.1 920.2 1375.9 926.3 1374.3 932.4 1373.2 938.5 1372.7 944.6 1372.6 950.8 1372.6 956.9 1372.7 963 1373.2 969.1 1374.3 975.2 1375.9 981.3 1378.1 987.4 1380.9 993.5 1384.2 999.6 1387.8 1005.7 1391.6 1011.8 1395.4 1017.9 1399.1 1024 1402.5 1030.1 1405.6 1036.2 1408.1 1042.3 1410 1048.4 1411.4 1054.5 1412.1 1060.6 1412.5 1066.7 1412.5L1066.7 1415.5Z" fill="#fff"/><path d="M1393.7 1423.1L1393.7 1423.1 1399.5 1423 1405.4 1422.7 1411.2 1421.9 1417.1 1420.6 1422.9 1418.6 1428.7 1416.1 1434.6 1413 1440.4 1409.5 1446.3 1405.7 1452.1 1401.8 1458 1398 1463.8 1394.3 1469.6 1391 1475.5 1388.2 1481.3 1385.9 1487.2 1384.3 1493 1383.2 1498.8 1382.7 1504.7 1382.5 1510.5 1382.5 1516.4 1382.7 1522.2 1383.2 1528 1384.3 1533.9 1385.9 1539.7 1388.2 1545.6 1391 1551.4 1394.3 1557.2 1398 1563.1 1401.8 1568.9 1405.7 1574.8 1409.5 1580.6 1413 1586.5 1416.1 1592.3 1418.6 1598.1 1420.6 1604 1421.9 1609.8 1422.7 1615.7 1423 1621.5 1423.1L1621.5 1423.1Z" fill="#80f880"/><g fill="#fff" stroke="#15152e" stroke-width="2.3"><circle cx="1390.6" cy="1417.5" r="4.0"/><circle cx="1401" cy="1416.4" r="4.0"/><circle cx="1411.1" cy="1414" r="4.0"/><circle cx="1421" cy="1410.5" r="4.0"/><circle cx="1430.5" cy="1406.3" r="4.0"/><circle cx="1439.8" cy="1401.6" r="4.0"/><circle cx="1449" cy="1396.7" r="4.0"/><circle cx="1458.2" cy="1391.8" r="4.0"/><circle cx="1467.6" cy="1387.2" r="4.0"/><circle cx="1477.1" cy="1383.1" r="4.0"/><circle cx="1487" cy="1379.8" r="4.0"/><circle cx="1497.2" cy="1377.6" r="4.0"/><circle cx="1507.6" cy="1376.9" r="4.0"/><circle cx="1518" cy="1377.6" r="4.0"/><circle cx="1528.2" cy="1379.8" r="4.0"/><circle cx="1538.1" cy="1383.1" r="4.0"/><circle cx="1547.6" cy="1387.2" r="4.0"/><circle cx="1557" cy="1391.8" r="4.0"/><circle cx="1566.2" cy="1396.7" r="4.0"/><circle cx="1575.4" cy="1401.6" r="4.0"/><circle cx="1584.7" cy="1406.3" r="4.0"/><circle cx="1594.2" cy="1410.5" r="4.0"/><circle cx="1604.1" cy="1414" r="4.0"/><circle cx="1614.2" cy="1416.4" r="4.0"/><circle cx="1624.6" cy="1417.5" r="4.0"/></g><g fill="none" stroke="#fff" stroke-width="4.8" stroke-dasharray="10.5 5.5"><rect x="930.7" y="153.1" width="136" height="81.6"/><rect x="1490.6" y="153.1" width="136" height="81.6"/><rect x="930.7" y="691" width="136" height="40.8" stroke-dasharray="6.5 5"/><rect x="1490.6" y="691" width="136" height="40.8" stroke-dasharray="6.5 5"/></g><path d="M150.5 61.3H626.5V429.5H150.5ZM709.7 61.3H1185.7V429.5H709.7ZM1269.6 61.3H1745.6V429.5H1269.6ZM150.5 558.4H626.5V926.6H150.5ZM709.7 558.4H1185.7V926.6H709.7ZM1269.6 558.4H1745.6V926.6H1269.6ZM150.5 1054.9H626.5V1423.1H150.5ZM709.7 1054.9H1185.7V1423.1H709.7ZM1269.6 1054.9H1745.6V1423.1H1269.6Z" fill="none" stroke="#2b2b2b" stroke-width="1.3"/><path d="M135 418.3H150.5M142.5 358.8H150.5M135 299.3H150.5M142.5 239.8H150.5M135 180.3H150.5M142.5 120.8H150.5M135 61.3H150.5M150.5 429.5V446M210 429.5V437.5M269.5 429.5V446M329 429.5V437.5M388.5 429.5V446M448 429.5V437.5M507.5 429.5V446M567 429.5V437.5M626.5 429.5V446M694.2 418.3H709.7M701.7 358.8H709.7M694.2 299.3H709.7M701.7 239.8H709.7M694.2 180.3H709.7M701.7 120.8H709.7M694.2 61.3H709.7M709.7 429.5V446M769.2 429.5V437.5M828.7 429.5V446M888.2 429.5V437.5M947.7 429.5V446M1007.2 429.5V437.5M1066.7 429.5V446M1126.2 429.5V437.5M1185.7 429.5V446M1254.1 418.3H1269.6M1261.6 358.8H1269.6M1254.1 299.3H1269.6M1261.6 239.8H1269.6M1254.1 180.3H1269.6M1261.6 120.8H1269.6M1254.1 61.3H1269.6M1269.6 429.5V446M1329.1 429.5V437.5M1388.6 429.5V446M1448.1 429.5V437.5M1507.6 429.5V446M1567.1 429.5V437.5M1626.6 429.5V446M1686.1 429.5V437.5M1745.6 429.5V446M135 915.4H150.5M142.5 855.9H150.5M135 796.4H150.5M142.5 736.9H150.5M135 677.4H150.5M142.5 617.9H150.5M135 558.4H150.5M150.5 926.6V943.1M210 926.6V934.6M269.5 926.6V943.1M329 926.6V934.6M388.5 926.6V943.1M448 926.6V934.6M507.5 926.6V943.1M567 926.6V934.6M626.5 926.6V943.1M694.2 915.4H709.7M701.7 855.9H709.7M694.2 796.4H709.7M701.7 736.9H709.7M694.2 677.4H709.7M701.7 617.9H709.7M694.2 558.4H709.7M709.7 926.6V943.1M769.2 926.6V934.6M828.7 926.6V943.1M888.2 926.6V934.6M947.7 926.6V943.1M1007.2 926.6V934.6M1066.7 926.6V943.1M1126.2 926.6V934.6M1185.7 926.6V943.1M1254.1 915.4H1269.6M1261.6 855.9H1269.6M1254.1 796.4H1269.6M1261.6 736.9H1269.6M1254.1 677.4H1269.6M1261.6 617.9H1269.6M1254.1 558.4H1269.6M1269.6 926.6V943.1M1329.1 926.6V934.6M1388.6 926.6V943.1M1448.1 926.6V934.6M1507.6 926.6V943.1M1567.1 926.6V934.6M1626.6 926.6V943.1M1686.1 926.6V934.6M1745.6 926.6V943.1M135 1411.9H150.5M142.5 1352.4H150.5M135 1292.9H150.5M142.5 1233.4H150.5M135 1173.9H150.5M142.5 1114.4H150.5M135 1054.9H150.5M150.5 1423.1V1439.6M210 1423.1V1431.1M269.5 1423.1V1439.6M329 1423.1V1431.1M388.5 1423.1V1439.6M448 1423.1V1431.1M507.5 1423.1V1439.6M567 1423.1V1431.1M626.5 1423.1V1439.6M694.2 1411.9H709.7M701.7 1352.4H709.7M694.2 1292.9H709.7M701.7 1233.4H709.7M694.2 1173.9H709.7M701.7 1114.4H709.7M694.2 1054.9H709.7M709.7 1423.1V1439.6M769.2 1423.1V1431.1M828.7 1423.1V1439.6M888.2 1423.1V1431.1M947.7 1423.1V1439.6M1007.2 1423.1V1431.1M1066.7 1423.1V1439.6M1126.2 1423.1V1431.1M1185.7 1423.1V1439.6M1254.1 1411.9H1269.6M1261.6 1352.4H1269.6M1254.1 1292.9H1269.6M1261.6 1233.4H1269.6M1254.1 1173.9H1269.6M1261.6 1114.4H1269.6M1254.1 1054.9H1269.6M1269.6 1423.1V1439.6M1329.1 1423.1V1431.1M1388.6 1423.1V1439.6M1448.1 1423.1V1431.1M1507.6 1423.1V1439.6M1567.1 1423.1V1431.1M1626.6 1423.1V1439.6M1686.1 1423.1V1431.1M1745.6 1423.1V1439.6" fill="none" stroke="#555" stroke-width="1.1"/><text x="128.2" y="428.7" font-size="31" text-anchor="end">0.00</text><text x="128.2" y="309.7" font-size="31" text-anchor="end">0.35</text><text x="128.2" y="190.7" font-size="31" text-anchor="end">0.70</text><text x="128.2" y="71.7" font-size="31" text-anchor="end">1.05</text><text x="151" y="470.3" font-size="31" text-anchor="middle">-0.70</text><text x="270" y="470.3" font-size="31" text-anchor="middle">-0.35</text><text x="389" y="470.3" font-size="31" text-anchor="middle">0.00</text><text x="508" y="470.3" font-size="31" text-anchor="middle">0.35</text><text x="627" y="470.3" font-size="31" text-anchor="middle">0.70</text><text x="387.3" y="521.5" font-size="40" text-anchor="middle"><tspan font-style="italic">x</tspan> (m)</text><text x="687.4" y="428.7" font-size="31" text-anchor="end">0.00</text><text x="687.4" y="309.7" font-size="31" text-anchor="end">0.35</text><text x="687.4" y="190.7" font-size="31" text-anchor="end">0.70</text><text x="687.4" y="71.7" font-size="31" text-anchor="end">1.05</text><text x="710.2" y="470.3" font-size="31" text-anchor="middle">-0.70</text><text x="829.2" y="470.3" font-size="31" text-anchor="middle">-0.35</text><text x="948.2" y="470.3" font-size="31" text-anchor="middle">0.00</text><text x="1067.2" y="470.3" font-size="31" text-anchor="middle">0.35</text><text x="1186.2" y="470.3" font-size="31" text-anchor="middle">0.70</text><text x="946.5" y="521.5" font-size="40" text-anchor="middle"><tspan font-style="italic">x</tspan> (m)</text><text x="1247.3" y="428.7" font-size="31" text-anchor="end">0.00</text><text x="1247.3" y="309.7" font-size="31" text-anchor="end">0.35</text><text x="1247.3" y="190.7" font-size="31" text-anchor="end">0.70</text><text x="1247.3" y="71.7" font-size="31" text-anchor="end">1.05</text><text x="1270.1" y="470.3" font-size="31" text-anchor="middle">-0.70</text><text x="1389.1" y="470.3" font-size="31" text-anchor="middle">-0.35</text><text x="1508.1" y="470.3" font-size="31" text-anchor="middle">0.00</text><text x="1627.1" y="470.3" font-size="31" text-anchor="middle">0.35</text><text x="1746.1" y="470.3" font-size="31" text-anchor="middle">0.70</text><text x="1506.4" y="521.5" font-size="40" text-anchor="middle"><tspan font-style="italic">x</tspan> (m)</text><text x="40.3" y="245.9" font-size="40" text-anchor="middle" transform="rotate(-90 40.3 245.9)">-<tspan font-style="italic">z</tspan> (m)</text><text x="4.8" y="86.3" font-size="38">(a)</text><rect x="1775" y="65.1" width="17.2" height="360.4" fill="url(#jg)" stroke="#222" stroke-opacity=".55" stroke-width="1"/><text x="1811.5" y="78.6" font-size="40">1</text><text x="1804" y="436.6" font-size="40">-1</text><text x="1838" y="245.3" font-size="39" text-anchor="middle" transform="rotate(-90 1838 245.3)">P<tspan font-size="25" dy="8">r</tspan><tspan dy="-8"> / |P</tspan><tspan font-size="25" dy="8">i</tspan><tspan dy="-8">|</tspan></text><text x="128.2" y="925.8" font-size="31" text-anchor="end">0.00</text><text x="128.2" y="806.8" font-size="31" text-anchor="end">0.35</text><text x="128.2" y="687.8" font-size="31" text-anchor="end">0.70</text><text x="128.2" y="568.8" font-size="31" text-anchor="end">1.05</text><text x="151" y="967.4" font-size="31" text-anchor="middle">-0.70</text><text x="270" y="967.4" font-size="31" text-anchor="middle">-0.35</text><text x="389" y="967.4" font-size="31" text-anchor="middle">0.00</text><text x="508" y="967.4" font-size="31" text-anchor="middle">0.35</text><text x="627" y="967.4" font-size="31" text-anchor="middle">0.70</text><text x="387.3" y="1018.6" font-size="40" text-anchor="middle"><tspan font-style="italic">x</tspan> (m)</text><text x="687.4" y="925.8" font-size="31" text-anchor="end">0.00</text><text x="687.4" y="806.8" font-size="31" text-anchor="end">0.35</text><text x="687.4" y="687.8" font-size="31" text-anchor="end">0.70</text><text x="687.4" y="568.8" font-size="31" text-anchor="end">1.05</text><text x="710.2" y="967.4" font-size="31" text-anchor="middle">-0.70</text><text x="829.2" y="967.4" font-size="31" text-anchor="middle">-0.35</text><text x="948.2" y="967.4" font-size="31" text-anchor="middle">0.00</text><text x="1067.2" y="967.4" font-size="31" text-anchor="middle">0.35</text><text x="1186.2" y="967.4" font-size="31" text-anchor="middle">0.70</text><text x="946.5" y="1018.6" font-size="40" text-anchor="middle"><tspan font-style="italic">x</tspan> (m)</text><text x="1247.3" y="925.8" font-size="31" text-anchor="end">0.00</text><text x="1247.3" y="806.8" font-size="31" text-anchor="end">0.35</text><text x="1247.3" y="687.8" font-size="31" text-anchor="end">0.70</text><text x="1247.3" y="568.8" font-size="31" text-anchor="end">1.05</text><text x="1270.1" y="967.4" font-size="31" text-anchor="middle">-0.70</text><text x="1389.1" y="967.4" font-size="31" text-anchor="middle">-0.35</text><text x="1508.1" y="967.4" font-size="31" text-anchor="middle">0.00</text><text x="1627.1" y="967.4" font-size="31" text-anchor="middle">0.35</text><text x="1746.1" y="967.4" font-size="31" text-anchor="middle">0.70</text><text x="1506.4" y="1018.6" font-size="40" text-anchor="middle"><tspan font-style="italic">x</tspan> (m)</text><text x="40.3" y="743" font-size="40" text-anchor="middle" transform="rotate(-90 40.3 743)">-<tspan font-style="italic">z</tspan> (m)</text><text x="4.8" y="583.4" font-size="38">(b)</text><rect x="1775" y="562.2" width="17.2" height="360.4" fill="url(#jg)" stroke="#222" stroke-opacity=".55" stroke-width="1"/><text x="1811.5" y="575.7" font-size="40">1</text><text x="1804" y="933.7" font-size="40">-1</text><text x="1838" y="742.4" font-size="39" text-anchor="middle" transform="rotate(-90 1838 742.4)">P<tspan font-size="25" dy="8">r</tspan><tspan dy="-8"> / |P</tspan><tspan font-size="25" dy="8">i</tspan><tspan dy="-8">|</tspan></text><text x="128.2" y="1422.3" font-size="31" text-anchor="end">0.00</text><text x="128.2" y="1303.3" font-size="31" text-anchor="end">0.35</text><text x="128.2" y="1184.3" font-size="31" text-anchor="end">0.70</text><text x="128.2" y="1065.3" font-size="31" text-anchor="end">1.05</text><text x="151" y="1463.9" font-size="31" text-anchor="middle">-0.70</text><text x="270" y="1463.9" font-size="31" text-anchor="middle">-0.35</text><text x="389" y="1463.9" font-size="31" text-anchor="middle">0.00</text><text x="508" y="1463.9" font-size="31" text-anchor="middle">0.35</text><text x="627" y="1463.9" font-size="31" text-anchor="middle">0.70</text><text x="387.3" y="1515.1" font-size="40" text-anchor="middle"><tspan font-style="italic">x</tspan> (m)</text><text x="687.4" y="1422.3" font-size="31" text-anchor="end">0.00</text><text x="687.4" y="1303.3" font-size="31" text-anchor="end">0.35</text><text x="687.4" y="1184.3" font-size="31" text-anchor="end">0.70</text><text x="687.4" y="1065.3" font-size="31" text-anchor="end">1.05</text><text x="710.2" y="1463.9" font-size="31" text-anchor="middle">-0.70</text><text x="829.2" y="1463.9" font-size="31" text-anchor="middle">-0.35</text><text x="948.2" y="1463.9" font-size="31" text-anchor="middle">0.00</text><text x="1067.2" y="1463.9" font-size="31" text-anchor="middle">0.35</text><text x="1186.2" y="1463.9" font-size="31" text-anchor="middle">0.70</text><text x="946.5" y="1515.1" font-size="40" text-anchor="middle"><tspan font-style="italic">x</tspan> (m)</text><text x="1247.3" y="1422.3" font-size="31" text-anchor="end">0.00</text><text x="1247.3" y="1303.3" font-size="31" text-anchor="end">0.35</text><text x="1247.3" y="1184.3" font-size="31" text-anchor="end">0.70</text><text x="1247.3" y="1065.3" font-size="31" text-anchor="end">1.05</text><text x="1270.1" y="1463.9" font-size="31" text-anchor="middle">-0.70</text><text x="1389.1" y="1463.9" font-size="31" text-anchor="middle">-0.35</text><text x="1508.1" y="1463.9" font-size="31" text-anchor="middle">0.00</text><text x="1627.1" y="1463.9" font-size="31" text-anchor="middle">0.35</text><text x="1746.1" y="1463.9" font-size="31" text-anchor="middle">0.70</text><text x="1506.4" y="1515.1" font-size="40" text-anchor="middle"><tspan font-style="italic">x</tspan> (m)</text><text x="40.3" y="1239.5" font-size="40" text-anchor="middle" transform="rotate(-90 40.3 1239.5)">-<tspan font-style="italic">z</tspan> (m)</text><text x="4.8" y="1079.9" font-size="38">(c)</text><rect x="1775" y="1058.7" width="17.2" height="360.4" fill="url(#jg)" stroke="#222" stroke-opacity=".55" stroke-width="1"/><text x="1811.5" y="1072.2" font-size="40">1</text><text x="1804" y="1430.2" font-size="40">-1</text><text x="1838" y="1238.9" font-size="39" text-anchor="middle" transform="rotate(-90 1838 1238.9)">P<tspan font-size="25" dy="8">r</tspan><tspan dy="-8"> / |P</tspan><tspan font-size="25" dy="8">i</tspan><tspan dy="-8">|</tspan></text><text x="377.4" y="31.6" font-size="40" text-anchor="middle">Ground Plane</text><text x="936.5" y="31.6" font-size="40" text-anchor="middle">Bare Bump</text><text x="1496" y="31.6" font-size="40" text-anchor="middle">Cloaked Bump</text><path d="M177.7 1630.4H482.9V1813.5H177.7ZM560.8 1630.4H866V1813.5H560.8ZM943.4 1630.4H1248.6V1813.5H943.4ZM1329.5 1630.4H1634.7V1813.5H1329.5ZM177.7 1928H482.9V2019.6H177.7ZM560.8 1928H866V2019.6H560.8ZM943.4 1928H1248.6V2019.6H943.4ZM1329.5 1928H1634.7V2019.6H1329.5Z" fill="none" stroke="#000" stroke-width="3.2"/><path d="M160.2 1813.5H177.7M166.2 1767.7H177.7M160.2 1722H177.7M166.2 1676.2H177.7M160.2 1630.4H177.7M177.7 1813.5V1831.5M254 1813.5V1824.5M330.3 1813.5V1831.5M406.6 1813.5V1824.5M482.9 1813.5V1831.5M543.3 1813.5H560.8M549.3 1767.7H560.8M543.3 1722H560.8M549.3 1676.2H560.8M543.3 1630.4H560.8M560.8 1813.5V1831.5M637.1 1813.5V1824.5M713.4 1813.5V1831.5M789.7 1813.5V1824.5M866 1813.5V1831.5M925.9 1813.5H943.4M931.9 1767.7H943.4M925.9 1722H943.4M931.9 1676.2H943.4M925.9 1630.4H943.4M943.4 1813.5V1831.5M1019.7 1813.5V1824.5M1096 1813.5V1831.5M1172.3 1813.5V1824.5M1248.6 1813.5V1831.5M1312 1813.5H1329.5M1318 1767.7H1329.5M1312 1722H1329.5M1318 1676.2H1329.5M1312 1630.4H1329.5M1329.5 1813.5V1831.5M1405.8 1813.5V1824.5M1482.1 1813.5V1831.5M1558.4 1813.5V1824.5M1634.7 1813.5V1831.5M160.2 2019.6H177.7M166.2 1973.8H177.7M160.2 1928H177.7M177.7 2019.6V2035.6M254 2019.6V2029.6M330.3 2019.6V2035.6M406.6 2019.6V2029.6M482.9 2019.6V2035.6M543.3 2019.6H560.8M549.3 1973.8H560.8M543.3 1928H560.8M560.8 2019.6V2035.6M637.1 2019.6V2029.6M713.4 2019.6V2035.6M789.7 2019.6V2029.6M866 2019.6V2035.6M925.9 2019.6H943.4M931.9 1973.8H943.4M925.9 1928H943.4M943.4 2019.6V2035.6M1019.7 2019.6V2029.6M1096 2019.6V2035.6M1172.3 2019.6V2029.6M1248.6 2019.6V2035.6M1312 2019.6H1329.5M1318 1973.8H1329.5M1312 1928H1329.5M1329.5 2019.6V2035.6M1405.8 2019.6V2029.6M1482.1 2019.6V2035.6M1558.4 2019.6V2029.6M1634.7 2019.6V2035.6" fill="none" stroke="#000" stroke-width="2.8"/><text x="152.1" y="1822.5" font-size="31" text-anchor="end">54</text><text x="152.1" y="1731" font-size="31" text-anchor="end">66</text><text x="152.1" y="1639.4" font-size="31" text-anchor="end">78</text><text x="178" y="1858.7" font-size="31" text-anchor="middle">-5</text><text x="330.6" y="1858.7" font-size="31" text-anchor="middle">15</text><text x="483.2" y="1858.7" font-size="31" text-anchor="middle">35</text><text x="535.2" y="1822.5" font-size="31" text-anchor="end">54</text><text x="535.2" y="1731" font-size="31" text-anchor="end">66</text><text x="535.2" y="1639.4" font-size="31" text-anchor="end">78</text><text x="561.1" y="1858.7" font-size="31" text-anchor="middle">-5</text><text x="713.7" y="1858.7" font-size="31" text-anchor="middle">15</text><text x="866.3" y="1858.7" font-size="31" text-anchor="middle">35</text><text x="917.8" y="1822.5" font-size="31" text-anchor="end">54</text><text x="917.8" y="1731" font-size="31" text-anchor="end">66</text><text x="917.8" y="1639.4" font-size="31" text-anchor="end">78</text><text x="943.7" y="1858.7" font-size="31" text-anchor="middle">-5</text><text x="1096.3" y="1858.7" font-size="31" text-anchor="middle">15</text><text x="1248.9" y="1858.7" font-size="31" text-anchor="middle">35</text><text x="1303.9" y="1822.5" font-size="31" text-anchor="end">54</text><text x="1303.9" y="1731" font-size="31" text-anchor="end">66</text><text x="1303.9" y="1639.4" font-size="31" text-anchor="end">78</text><text x="1329.8" y="1858.7" font-size="31" text-anchor="middle">-5</text><text x="1482.4" y="1858.7" font-size="31" text-anchor="middle">15</text><text x="1635" y="1858.7" font-size="31" text-anchor="middle">35</text><text x="152.1" y="2028.6" font-size="31" text-anchor="end">54</text><text x="152.1" y="1937" font-size="31" text-anchor="end">66</text><text x="178" y="2072.4" font-size="31" text-anchor="middle">-5</text><text x="330.6" y="2072.4" font-size="31" text-anchor="middle">15</text><text x="483.2" y="2072.4" font-size="31" text-anchor="middle">35</text><text x="327.8" y="2113.5" font-size="40" text-anchor="middle"><tspan font-style="italic">x</tspan> (cm)</text><text x="535.2" y="2028.6" font-size="31" text-anchor="end">54</text><text x="535.2" y="1937" font-size="31" text-anchor="end">66</text><text x="561.1" y="2072.4" font-size="31" text-anchor="middle">-5</text><text x="713.7" y="2072.4" font-size="31" text-anchor="middle">15</text><text x="866.3" y="2072.4" font-size="31" text-anchor="middle">35</text><text x="710.9" y="2113.5" font-size="40" text-anchor="middle"><tspan font-style="italic">x</tspan> (cm)</text><text x="917.8" y="2028.6" font-size="31" text-anchor="end">54</text><text x="917.8" y="1937" font-size="31" text-anchor="end">66</text><text x="943.7" y="2072.4" font-size="31" text-anchor="middle">-5</text><text x="1096.3" y="2072.4" font-size="31" text-anchor="middle">15</text><text x="1248.9" y="2072.4" font-size="31" text-anchor="middle">35</text><text x="1093.5" y="2113.5" font-size="40" text-anchor="middle"><tspan font-style="italic">x</tspan> (cm)</text><text x="1303.9" y="2028.6" font-size="31" text-anchor="end">54</text><text x="1303.9" y="1937" font-size="31" text-anchor="end">66</text><text x="1329.8" y="2072.4" font-size="31" text-anchor="middle">-5</text><text x="1482.4" y="2072.4" font-size="31" text-anchor="middle">15</text><text x="1635" y="2072.4" font-size="31" text-anchor="middle">35</text><text x="1479.6" y="2113.5" font-size="40" text-anchor="middle"><tspan font-style="italic">x</tspan> (cm)</text><text x="166.9" y="1613.6" font-size="40">(a-i)</text><text x="250.4" y="1613.6" font-size="40">Sim.</text><text x="542.9" y="1613.6" font-size="40">(a-ii)</text><text x="657.2" y="1613.6" font-size="40">Exp.</text><text x="931.3" y="1613.6" font-size="40">(a-iii)</text><text x="1044.2" y="1613.6" font-size="40">Sim.</text><text x="1318.8" y="1613.6" font-size="40">(a-iv)</text><text x="1421.6" y="1613.6" font-size="40">Exp.</text><text x="1648.5" y="1613.6" font-size="40">Sim.</text><text x="1754" y="1613.6" font-size="40">Exp.</text><text x="170.8" y="1912.2" font-size="40">(b-i)</text><text x="249.5" y="1912.2" font-size="40">Sim.</text><text x="558.5" y="1912.2" font-size="40">(b-ii)</text><text x="656.1" y="1912.2" font-size="40">Exp.</text><text x="937.9" y="1912.2" font-size="40">(b-iiii)</text><text x="1048.9" y="1912.2" font-size="40">Sim.</text><text x="1323.5" y="1912.2" font-size="40">(b-iv)</text><text x="1421" y="1912.2" font-size="40">Exp.</text><text x="235.3" y="1563.8" font-size="40">Bare</text><text x="335.4" y="1563.8" font-size="40">bump</text><text x="617.4" y="1563.8" font-size="40">Bare</text><text x="709.2" y="1563.8" font-size="40">bump</text><text x="974.6" y="1563.8" font-size="40">Cloaked</text><text x="1135.3" y="1563.8" font-size="40">bump</text><text x="1350.5" y="1563.8" font-size="40">Cloaked</text><text x="1511.7" y="1563.8" font-size="40">bump</text><text x="49.8" y="1829.5" font-size="41" font-style="italic" font-weight="bold" transform="rotate(-90 49.8 1829.5) scale(1.25 1)">f</text><text x="49.8" y="1786.3" font-size="39" textLength="22" lengthAdjust="spacingAndGlyphs" transform="rotate(-90 49.8 1786.3)">=</text><text x="49.8" y="1754.6" font-size="39" textLength="56" lengthAdjust="spacingAndGlyphs" transform="rotate(-90 49.8 1754.6)">2.5</text><text x="49.8" y="1693.6" font-size="39" textLength="67.5" lengthAdjust="spacingAndGlyphs" transform="rotate(-90 49.8 1693.6)">kHz</text><text x="49.8" y="2089.1" font-size="41" font-style="italic" font-weight="bold" transform="rotate(-90 49.8 2089.1) scale(1.25 1)">f</text><text x="49.8" y="2045.9" font-size="39" textLength="22" lengthAdjust="spacingAndGlyphs" transform="rotate(-90 49.8 2045.9)">=</text><text x="49.8" y="2014.2" font-size="39" textLength="56" lengthAdjust="spacingAndGlyphs" transform="rotate(-90 49.8 2014.2)">5.5</text><text x="49.8" y="1953.2" font-size="39" textLength="67.5" lengthAdjust="spacingAndGlyphs" transform="rotate(-90 49.8 1953.2)">kHz</text><text x="102.5" y="1726.2" font-size="40" text-anchor="middle" transform="rotate(-90 102.5 1726.2)">-<tspan font-style="italic">z</tspan> (cm)</text><text x="102.5" y="1976.3" font-size="40" text-anchor="middle" transform="rotate(-90 102.5 1976.3)">-<tspan font-style="italic">z</tspan> (cm)</text><rect x="1677.8" y="1671.8" width="10.5" height="303.5" fill="url(#jg)"/><text x="1694" y="1677.5" font-size="36">1</text><text x="1691" y="1987.5" font-size="36">-1</text><rect x="1782" y="1671.8" width="10.5" height="303.5" fill="url(#jg)"/><text x="1798" y="1677.5" font-size="36">1</text><text x="1795" y="1987.5" font-size="36">-1</text><text x="1728" y="1876.5" font-size="41" textLength="109" lengthAdjust="spacingAndGlyphs" transform="rotate(-90 1728 1876.5)">P<tspan font-size="26" dy="7">r</tspan><tspan dy="-7"> / |P</tspan><tspan font-size="26" dy="7">i</tspan><tspan dy="-7">|</tspan></text><text x="1831.5" y="1876.5" font-size="41" textLength="157" lengthAdjust="spacingAndGlyphs" transform="rotate(-90 1831.5 1876.5)">P<tspan font-size="26" dy="7">r</tspan><tspan dy="-7"> / |P</tspan><tspan font-size="26" dy="7">i</tspan><tspan dy="-7">|</tspan><tspan font-size="27" dy="7">max</tspan></text></svg></body></html>
